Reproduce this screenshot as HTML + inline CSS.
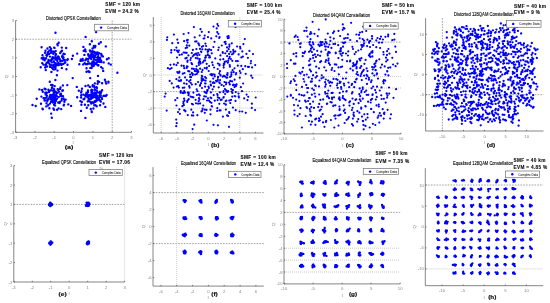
<!DOCTYPE html>
<html><head><meta charset="utf-8"><title>Constellation diagrams</title>
<style>
html,body{margin:0;padding:0;background:#fff;}
body{width:550px;height:303px;overflow:hidden;}
svg{display:block;filter:blur(0.3px);}
text{font-family:"Liberation Sans",Arial,sans-serif;}
.tt{font-size:4.8px;fill:#000;stroke:#000;stroke-width:0.1px;}
.inf{font-weight:bold;fill:#111;stroke:#111;stroke-width:0.12px;}
.sl{font-size:6.2px;font-weight:bold;fill:#111;stroke:#111;stroke-width:0.2px;}
.lg{font-size:4.1px;fill:#1a1a1a;stroke:#1a1a1a;stroke-width:0.04px;}
.tl{font-size:4.2px;fill:#858585;}
.al{font-size:4.4px;fill:#888;}
</style></head><body>
<svg width="550" height="303" viewBox="0 0 550 303">
<rect width="550" height="303" fill="#fff"/>
<path d="M15.6 39.2H131.5" stroke="#8a8a8a" stroke-width="0.8" stroke-dasharray="1.6 1.2" fill="none"/>
<path d="M112.2 20.6V132.3" stroke="#8a8a8a" stroke-width="0.8" stroke-dasharray="1.6 1.2" fill="none"/>
<path d="M15.6 20.6V132.3H131.5" stroke="#858585" stroke-width="1" fill="none"/>
<path d="M15.6 132.3v-1.2M34.9 132.3v-1.2M54.2 132.3v-1.2M73.5 132.3v-1.2M92.9 132.3v-1.2M112.2 132.3v-1.2M131.5 132.3v-1.2M15.6 132.3h1.2M15.6 113.7h1.2M15.6 95.1h1.2M15.6 76.5h1.2M15.6 57.8h1.2M15.6 39.2h1.2M15.6 20.6h1.2" stroke="#555" stroke-width="0.8" fill="none"/>
<text x="15.6" y="138.8" class="tl" text-anchor="middle">-3</text>
<text x="34.9" y="138.8" class="tl" text-anchor="middle">-2</text>
<text x="54.2" y="138.8" class="tl" text-anchor="middle">-1</text>
<text x="73.5" y="138.8" class="tl" text-anchor="middle">0</text>
<text x="92.9" y="138.8" class="tl" text-anchor="middle">1</text>
<text x="112.2" y="138.8" class="tl" text-anchor="middle">2</text>
<text x="131.5" y="138.8" class="tl" text-anchor="middle">3</text>
<text x="14.1" y="133.8" class="tl" text-anchor="end">-3</text>
<text x="14.1" y="115.2" class="tl" text-anchor="end">-2</text>
<text x="14.1" y="96.6" class="tl" text-anchor="end">-1</text>
<text x="14.1" y="78" class="tl" text-anchor="end">0</text>
<text x="14.1" y="59.3" class="tl" text-anchor="end">1</text>
<text x="14.1" y="40.7" class="tl" text-anchor="end">2</text>
<text x="14.1" y="22.1" class="tl" text-anchor="end">3</text>
<path d="M53.0 93.1a1.2 1.2 0 1 0 2.4 0a1.2 1.2 0 1 0 -2.4 0M51.1 101.0a1.2 1.2 0 1 0 2.4 0a1.2 1.2 0 1 0 -2.4 0M49.9 101.7a1.2 1.2 0 1 0 2.4 0a1.2 1.2 0 1 0 -2.4 0M53.5 86.1a1.2 1.2 0 1 0 2.4 0a1.2 1.2 0 1 0 -2.4 0M49.6 99.2a1.2 1.2 0 1 0 2.4 0a1.2 1.2 0 1 0 -2.4 0M56.4 92.7a1.2 1.2 0 1 0 2.4 0a1.2 1.2 0 1 0 -2.4 0M53.8 101.3a1.2 1.2 0 1 0 2.4 0a1.2 1.2 0 1 0 -2.4 0M52.8 90.4a1.2 1.2 0 1 0 2.4 0a1.2 1.2 0 1 0 -2.4 0M43.7 98.1a1.2 1.2 0 1 0 2.4 0a1.2 1.2 0 1 0 -2.4 0M39.8 103.7a1.2 1.2 0 1 0 2.4 0a1.2 1.2 0 1 0 -2.4 0M40.2 96.6a1.2 1.2 0 1 0 2.4 0a1.2 1.2 0 1 0 -2.4 0M44.2 93.2a1.2 1.2 0 1 0 2.4 0a1.2 1.2 0 1 0 -2.4 0M54.1 96.3a1.2 1.2 0 1 0 2.4 0a1.2 1.2 0 1 0 -2.4 0M35.5 98.7a1.2 1.2 0 1 0 2.4 0a1.2 1.2 0 1 0 -2.4 0M52.7 94.3a1.2 1.2 0 1 0 2.4 0a1.2 1.2 0 1 0 -2.4 0M42.4 98.3a1.2 1.2 0 1 0 2.4 0a1.2 1.2 0 1 0 -2.4 0M46.2 100.5a1.2 1.2 0 1 0 2.4 0a1.2 1.2 0 1 0 -2.4 0M60.4 100.5a1.2 1.2 0 1 0 2.4 0a1.2 1.2 0 1 0 -2.4 0M52.8 89.1a1.2 1.2 0 1 0 2.4 0a1.2 1.2 0 1 0 -2.4 0M49.0 95.8a1.2 1.2 0 1 0 2.4 0a1.2 1.2 0 1 0 -2.4 0M53.8 94.6a1.2 1.2 0 1 0 2.4 0a1.2 1.2 0 1 0 -2.4 0M44.5 94.6a1.2 1.2 0 1 0 2.4 0a1.2 1.2 0 1 0 -2.4 0M62.5 105.4a1.2 1.2 0 1 0 2.4 0a1.2 1.2 0 1 0 -2.4 0M59.0 94.3a1.2 1.2 0 1 0 2.4 0a1.2 1.2 0 1 0 -2.4 0M48.6 81.7a1.2 1.2 0 1 0 2.4 0a1.2 1.2 0 1 0 -2.4 0M58.3 103.1a1.2 1.2 0 1 0 2.4 0a1.2 1.2 0 1 0 -2.4 0M53.6 91.2a1.2 1.2 0 1 0 2.4 0a1.2 1.2 0 1 0 -2.4 0M51.7 90.5a1.2 1.2 0 1 0 2.4 0a1.2 1.2 0 1 0 -2.4 0M52.6 90.6a1.2 1.2 0 1 0 2.4 0a1.2 1.2 0 1 0 -2.4 0M63.0 99.6a1.2 1.2 0 1 0 2.4 0a1.2 1.2 0 1 0 -2.4 0M54.4 98.2a1.2 1.2 0 1 0 2.4 0a1.2 1.2 0 1 0 -2.4 0M53.9 103.0a1.2 1.2 0 1 0 2.4 0a1.2 1.2 0 1 0 -2.4 0M49.0 96.4a1.2 1.2 0 1 0 2.4 0a1.2 1.2 0 1 0 -2.4 0M59.3 87.4a1.2 1.2 0 1 0 2.4 0a1.2 1.2 0 1 0 -2.4 0M43.8 100.4a1.2 1.2 0 1 0 2.4 0a1.2 1.2 0 1 0 -2.4 0M57.5 108.4a1.2 1.2 0 1 0 2.4 0a1.2 1.2 0 1 0 -2.4 0M49.8 95.7a1.2 1.2 0 1 0 2.4 0a1.2 1.2 0 1 0 -2.4 0M61.8 90.4a1.2 1.2 0 1 0 2.4 0a1.2 1.2 0 1 0 -2.4 0M50.8 97.5a1.2 1.2 0 1 0 2.4 0a1.2 1.2 0 1 0 -2.4 0M51.3 84.9a1.2 1.2 0 1 0 2.4 0a1.2 1.2 0 1 0 -2.4 0M50.1 97.1a1.2 1.2 0 1 0 2.4 0a1.2 1.2 0 1 0 -2.4 0M55.5 95.9a1.2 1.2 0 1 0 2.4 0a1.2 1.2 0 1 0 -2.4 0M51.7 102.5a1.2 1.2 0 1 0 2.4 0a1.2 1.2 0 1 0 -2.4 0M53.0 98.0a1.2 1.2 0 1 0 2.4 0a1.2 1.2 0 1 0 -2.4 0M61.1 90.7a1.2 1.2 0 1 0 2.4 0a1.2 1.2 0 1 0 -2.4 0M52.9 90.6a1.2 1.2 0 1 0 2.4 0a1.2 1.2 0 1 0 -2.4 0M50.7 88.0a1.2 1.2 0 1 0 2.4 0a1.2 1.2 0 1 0 -2.4 0M53.0 91.2a1.2 1.2 0 1 0 2.4 0a1.2 1.2 0 1 0 -2.4 0M44.1 92.7a1.2 1.2 0 1 0 2.4 0a1.2 1.2 0 1 0 -2.4 0M41.3 108.7a1.2 1.2 0 1 0 2.4 0a1.2 1.2 0 1 0 -2.4 0M50.9 101.1a1.2 1.2 0 1 0 2.4 0a1.2 1.2 0 1 0 -2.4 0M54.2 80.0a1.2 1.2 0 1 0 2.4 0a1.2 1.2 0 1 0 -2.4 0M47.2 99.2a1.2 1.2 0 1 0 2.4 0a1.2 1.2 0 1 0 -2.4 0M54.5 91.8a1.2 1.2 0 1 0 2.4 0a1.2 1.2 0 1 0 -2.4 0M51.8 96.4a1.2 1.2 0 1 0 2.4 0a1.2 1.2 0 1 0 -2.4 0M57.9 91.6a1.2 1.2 0 1 0 2.4 0a1.2 1.2 0 1 0 -2.4 0M45.8 95.6a1.2 1.2 0 1 0 2.4 0a1.2 1.2 0 1 0 -2.4 0M53.3 102.1a1.2 1.2 0 1 0 2.4 0a1.2 1.2 0 1 0 -2.4 0M54.8 100.8a1.2 1.2 0 1 0 2.4 0a1.2 1.2 0 1 0 -2.4 0M59.8 93.8a1.2 1.2 0 1 0 2.4 0a1.2 1.2 0 1 0 -2.4 0M53.7 99.0a1.2 1.2 0 1 0 2.4 0a1.2 1.2 0 1 0 -2.4 0M52.2 108.5a1.2 1.2 0 1 0 2.4 0a1.2 1.2 0 1 0 -2.4 0M45.2 92.6a1.2 1.2 0 1 0 2.4 0a1.2 1.2 0 1 0 -2.4 0M38.2 89.4a1.2 1.2 0 1 0 2.4 0a1.2 1.2 0 1 0 -2.4 0M40.9 90.0a1.2 1.2 0 1 0 2.4 0a1.2 1.2 0 1 0 -2.4 0M47.2 89.8a1.2 1.2 0 1 0 2.4 0a1.2 1.2 0 1 0 -2.4 0M53.9 105.4a1.2 1.2 0 1 0 2.4 0a1.2 1.2 0 1 0 -2.4 0M61.7 85.4a1.2 1.2 0 1 0 2.4 0a1.2 1.2 0 1 0 -2.4 0M52.6 96.9a1.2 1.2 0 1 0 2.4 0a1.2 1.2 0 1 0 -2.4 0M51.9 101.6a1.2 1.2 0 1 0 2.4 0a1.2 1.2 0 1 0 -2.4 0M60.7 98.7a1.2 1.2 0 1 0 2.4 0a1.2 1.2 0 1 0 -2.4 0M52.7 100.4a1.2 1.2 0 1 0 2.4 0a1.2 1.2 0 1 0 -2.4 0M48.7 103.6a1.2 1.2 0 1 0 2.4 0a1.2 1.2 0 1 0 -2.4 0M61.8 96.1a1.2 1.2 0 1 0 2.4 0a1.2 1.2 0 1 0 -2.4 0M59.8 95.0a1.2 1.2 0 1 0 2.4 0a1.2 1.2 0 1 0 -2.4 0M48.2 97.3a1.2 1.2 0 1 0 2.4 0a1.2 1.2 0 1 0 -2.4 0M49.1 95.0a1.2 1.2 0 1 0 2.4 0a1.2 1.2 0 1 0 -2.4 0M50.4 97.1a1.2 1.2 0 1 0 2.4 0a1.2 1.2 0 1 0 -2.4 0M43.4 100.5a1.2 1.2 0 1 0 2.4 0a1.2 1.2 0 1 0 -2.4 0M64.5 99.6a1.2 1.2 0 1 0 2.4 0a1.2 1.2 0 1 0 -2.4 0M45.7 92.8a1.2 1.2 0 1 0 2.4 0a1.2 1.2 0 1 0 -2.4 0M62.8 104.8a1.2 1.2 0 1 0 2.4 0a1.2 1.2 0 1 0 -2.4 0M51.6 99.3a1.2 1.2 0 1 0 2.4 0a1.2 1.2 0 1 0 -2.4 0M40.8 90.1a1.2 1.2 0 1 0 2.4 0a1.2 1.2 0 1 0 -2.4 0M52.9 94.6a1.2 1.2 0 1 0 2.4 0a1.2 1.2 0 1 0 -2.4 0M47.8 92.0a1.2 1.2 0 1 0 2.4 0a1.2 1.2 0 1 0 -2.4 0M49.3 96.0a1.2 1.2 0 1 0 2.4 0a1.2 1.2 0 1 0 -2.4 0M45.3 103.2a1.2 1.2 0 1 0 2.4 0a1.2 1.2 0 1 0 -2.4 0M62.3 98.5a1.2 1.2 0 1 0 2.4 0a1.2 1.2 0 1 0 -2.4 0M55.1 95.3a1.2 1.2 0 1 0 2.4 0a1.2 1.2 0 1 0 -2.4 0M50.0 98.5a1.2 1.2 0 1 0 2.4 0a1.2 1.2 0 1 0 -2.4 0M57.4 97.1a1.2 1.2 0 1 0 2.4 0a1.2 1.2 0 1 0 -2.4 0M52.0 94.9a1.2 1.2 0 1 0 2.4 0a1.2 1.2 0 1 0 -2.4 0M61.2 90.5a1.2 1.2 0 1 0 2.4 0a1.2 1.2 0 1 0 -2.4 0M55.7 98.8a1.2 1.2 0 1 0 2.4 0a1.2 1.2 0 1 0 -2.4 0M43.4 88.7a1.2 1.2 0 1 0 2.4 0a1.2 1.2 0 1 0 -2.4 0M59.8 96.0a1.2 1.2 0 1 0 2.4 0a1.2 1.2 0 1 0 -2.4 0M56.8 89.8a1.2 1.2 0 1 0 2.4 0a1.2 1.2 0 1 0 -2.4 0M58.8 88.9a1.2 1.2 0 1 0 2.4 0a1.2 1.2 0 1 0 -2.4 0M49.9 84.9a1.2 1.2 0 1 0 2.4 0a1.2 1.2 0 1 0 -2.4 0M44.4 89.3a1.2 1.2 0 1 0 2.4 0a1.2 1.2 0 1 0 -2.4 0M56.5 89.2a1.2 1.2 0 1 0 2.4 0a1.2 1.2 0 1 0 -2.4 0M66.1 85.1a1.2 1.2 0 1 0 2.4 0a1.2 1.2 0 1 0 -2.4 0M45.1 106.4a1.2 1.2 0 1 0 2.4 0a1.2 1.2 0 1 0 -2.4 0M58.7 101.9a1.2 1.2 0 1 0 2.4 0a1.2 1.2 0 1 0 -2.4 0M52.9 89.4a1.2 1.2 0 1 0 2.4 0a1.2 1.2 0 1 0 -2.4 0M41.6 109.2a1.2 1.2 0 1 0 2.4 0a1.2 1.2 0 1 0 -2.4 0M54.8 94.8a1.2 1.2 0 1 0 2.4 0a1.2 1.2 0 1 0 -2.4 0M51.3 94.8a1.2 1.2 0 1 0 2.4 0a1.2 1.2 0 1 0 -2.4 0M47.0 105.2a1.2 1.2 0 1 0 2.4 0a1.2 1.2 0 1 0 -2.4 0M51.9 101.6a1.2 1.2 0 1 0 2.4 0a1.2 1.2 0 1 0 -2.4 0M41.6 91.7a1.2 1.2 0 1 0 2.4 0a1.2 1.2 0 1 0 -2.4 0M52.6 92.3a1.2 1.2 0 1 0 2.4 0a1.2 1.2 0 1 0 -2.4 0M46.2 99.5a1.2 1.2 0 1 0 2.4 0a1.2 1.2 0 1 0 -2.4 0M46.1 101.0a1.2 1.2 0 1 0 2.4 0a1.2 1.2 0 1 0 -2.4 0M54.4 100.3a1.2 1.2 0 1 0 2.4 0a1.2 1.2 0 1 0 -2.4 0M55.5 92.8a1.2 1.2 0 1 0 2.4 0a1.2 1.2 0 1 0 -2.4 0M67.1 104.4a1.2 1.2 0 1 0 2.4 0a1.2 1.2 0 1 0 -2.4 0M59.2 95.7a1.2 1.2 0 1 0 2.4 0a1.2 1.2 0 1 0 -2.4 0M52.9 104.8a1.2 1.2 0 1 0 2.4 0a1.2 1.2 0 1 0 -2.4 0M49.8 90.1a1.2 1.2 0 1 0 2.4 0a1.2 1.2 0 1 0 -2.4 0M52.5 94.5a1.2 1.2 0 1 0 2.4 0a1.2 1.2 0 1 0 -2.4 0M51.0 87.3a1.2 1.2 0 1 0 2.4 0a1.2 1.2 0 1 0 -2.4 0M52.9 109.8a1.2 1.2 0 1 0 2.4 0a1.2 1.2 0 1 0 -2.4 0M48.2 108.3a1.2 1.2 0 1 0 2.4 0a1.2 1.2 0 1 0 -2.4 0M62.3 57.5a1.2 1.2 0 1 0 2.4 0a1.2 1.2 0 1 0 -2.4 0M44.9 64.1a1.2 1.2 0 1 0 2.4 0a1.2 1.2 0 1 0 -2.4 0M60.9 56.8a1.2 1.2 0 1 0 2.4 0a1.2 1.2 0 1 0 -2.4 0M53.4 58.2a1.2 1.2 0 1 0 2.4 0a1.2 1.2 0 1 0 -2.4 0M53.3 52.4a1.2 1.2 0 1 0 2.4 0a1.2 1.2 0 1 0 -2.4 0M56.9 56.4a1.2 1.2 0 1 0 2.4 0a1.2 1.2 0 1 0 -2.4 0M45.8 54.4a1.2 1.2 0 1 0 2.4 0a1.2 1.2 0 1 0 -2.4 0M48.3 50.5a1.2 1.2 0 1 0 2.4 0a1.2 1.2 0 1 0 -2.4 0M44.2 58.8a1.2 1.2 0 1 0 2.4 0a1.2 1.2 0 1 0 -2.4 0M53.0 66.7a1.2 1.2 0 1 0 2.4 0a1.2 1.2 0 1 0 -2.4 0M65.0 48.0a1.2 1.2 0 1 0 2.4 0a1.2 1.2 0 1 0 -2.4 0M49.8 52.7a1.2 1.2 0 1 0 2.4 0a1.2 1.2 0 1 0 -2.4 0M55.7 75.3a1.2 1.2 0 1 0 2.4 0a1.2 1.2 0 1 0 -2.4 0M54.8 58.2a1.2 1.2 0 1 0 2.4 0a1.2 1.2 0 1 0 -2.4 0M53.6 65.1a1.2 1.2 0 1 0 2.4 0a1.2 1.2 0 1 0 -2.4 0M51.2 59.0a1.2 1.2 0 1 0 2.4 0a1.2 1.2 0 1 0 -2.4 0M61.3 55.6a1.2 1.2 0 1 0 2.4 0a1.2 1.2 0 1 0 -2.4 0M53.0 47.6a1.2 1.2 0 1 0 2.4 0a1.2 1.2 0 1 0 -2.4 0M49.2 60.4a1.2 1.2 0 1 0 2.4 0a1.2 1.2 0 1 0 -2.4 0M40.4 47.3a1.2 1.2 0 1 0 2.4 0a1.2 1.2 0 1 0 -2.4 0M59.7 51.7a1.2 1.2 0 1 0 2.4 0a1.2 1.2 0 1 0 -2.4 0M57.7 57.1a1.2 1.2 0 1 0 2.4 0a1.2 1.2 0 1 0 -2.4 0M54.5 59.5a1.2 1.2 0 1 0 2.4 0a1.2 1.2 0 1 0 -2.4 0M51.6 57.5a1.2 1.2 0 1 0 2.4 0a1.2 1.2 0 1 0 -2.4 0M63.5 54.1a1.2 1.2 0 1 0 2.4 0a1.2 1.2 0 1 0 -2.4 0M52.6 61.7a1.2 1.2 0 1 0 2.4 0a1.2 1.2 0 1 0 -2.4 0M48.6 47.1a1.2 1.2 0 1 0 2.4 0a1.2 1.2 0 1 0 -2.4 0M56.6 57.4a1.2 1.2 0 1 0 2.4 0a1.2 1.2 0 1 0 -2.4 0M50.6 65.3a1.2 1.2 0 1 0 2.4 0a1.2 1.2 0 1 0 -2.4 0M52.6 52.0a1.2 1.2 0 1 0 2.4 0a1.2 1.2 0 1 0 -2.4 0M50.3 59.4a1.2 1.2 0 1 0 2.4 0a1.2 1.2 0 1 0 -2.4 0M51.5 57.1a1.2 1.2 0 1 0 2.4 0a1.2 1.2 0 1 0 -2.4 0M42.0 59.4a1.2 1.2 0 1 0 2.4 0a1.2 1.2 0 1 0 -2.4 0M47.1 51.9a1.2 1.2 0 1 0 2.4 0a1.2 1.2 0 1 0 -2.4 0M47.7 54.0a1.2 1.2 0 1 0 2.4 0a1.2 1.2 0 1 0 -2.4 0M63.6 59.9a1.2 1.2 0 1 0 2.4 0a1.2 1.2 0 1 0 -2.4 0M48.8 56.6a1.2 1.2 0 1 0 2.4 0a1.2 1.2 0 1 0 -2.4 0M53.0 64.5a1.2 1.2 0 1 0 2.4 0a1.2 1.2 0 1 0 -2.4 0M56.2 44.3a1.2 1.2 0 1 0 2.4 0a1.2 1.2 0 1 0 -2.4 0M51.2 59.2a1.2 1.2 0 1 0 2.4 0a1.2 1.2 0 1 0 -2.4 0M45.8 55.7a1.2 1.2 0 1 0 2.4 0a1.2 1.2 0 1 0 -2.4 0M44.4 65.3a1.2 1.2 0 1 0 2.4 0a1.2 1.2 0 1 0 -2.4 0M61.9 63.9a1.2 1.2 0 1 0 2.4 0a1.2 1.2 0 1 0 -2.4 0M60.6 47.6a1.2 1.2 0 1 0 2.4 0a1.2 1.2 0 1 0 -2.4 0M54.8 54.1a1.2 1.2 0 1 0 2.4 0a1.2 1.2 0 1 0 -2.4 0M66.6 59.2a1.2 1.2 0 1 0 2.4 0a1.2 1.2 0 1 0 -2.4 0M48.9 66.9a1.2 1.2 0 1 0 2.4 0a1.2 1.2 0 1 0 -2.4 0M53.3 47.9a1.2 1.2 0 1 0 2.4 0a1.2 1.2 0 1 0 -2.4 0M59.7 64.1a1.2 1.2 0 1 0 2.4 0a1.2 1.2 0 1 0 -2.4 0M47.1 61.2a1.2 1.2 0 1 0 2.4 0a1.2 1.2 0 1 0 -2.4 0M55.1 59.2a1.2 1.2 0 1 0 2.4 0a1.2 1.2 0 1 0 -2.4 0M54.5 55.8a1.2 1.2 0 1 0 2.4 0a1.2 1.2 0 1 0 -2.4 0M51.0 58.1a1.2 1.2 0 1 0 2.4 0a1.2 1.2 0 1 0 -2.4 0M54.5 58.4a1.2 1.2 0 1 0 2.4 0a1.2 1.2 0 1 0 -2.4 0M56.5 45.3a1.2 1.2 0 1 0 2.4 0a1.2 1.2 0 1 0 -2.4 0M57.1 57.5a1.2 1.2 0 1 0 2.4 0a1.2 1.2 0 1 0 -2.4 0M41.3 55.2a1.2 1.2 0 1 0 2.4 0a1.2 1.2 0 1 0 -2.4 0M39.5 67.3a1.2 1.2 0 1 0 2.4 0a1.2 1.2 0 1 0 -2.4 0M59.0 53.1a1.2 1.2 0 1 0 2.4 0a1.2 1.2 0 1 0 -2.4 0M52.0 69.3a1.2 1.2 0 1 0 2.4 0a1.2 1.2 0 1 0 -2.4 0M50.5 62.4a1.2 1.2 0 1 0 2.4 0a1.2 1.2 0 1 0 -2.4 0M57.5 42.7a1.2 1.2 0 1 0 2.4 0a1.2 1.2 0 1 0 -2.4 0M54.5 63.1a1.2 1.2 0 1 0 2.4 0a1.2 1.2 0 1 0 -2.4 0M44.9 58.2a1.2 1.2 0 1 0 2.4 0a1.2 1.2 0 1 0 -2.4 0M51.8 65.6a1.2 1.2 0 1 0 2.4 0a1.2 1.2 0 1 0 -2.4 0M53.8 65.5a1.2 1.2 0 1 0 2.4 0a1.2 1.2 0 1 0 -2.4 0M60.8 50.7a1.2 1.2 0 1 0 2.4 0a1.2 1.2 0 1 0 -2.4 0M60.6 61.0a1.2 1.2 0 1 0 2.4 0a1.2 1.2 0 1 0 -2.4 0M56.6 58.7a1.2 1.2 0 1 0 2.4 0a1.2 1.2 0 1 0 -2.4 0M50.3 60.1a1.2 1.2 0 1 0 2.4 0a1.2 1.2 0 1 0 -2.4 0M44.0 67.5a1.2 1.2 0 1 0 2.4 0a1.2 1.2 0 1 0 -2.4 0M58.6 59.1a1.2 1.2 0 1 0 2.4 0a1.2 1.2 0 1 0 -2.4 0M54.5 51.1a1.2 1.2 0 1 0 2.4 0a1.2 1.2 0 1 0 -2.4 0M41.0 63.1a1.2 1.2 0 1 0 2.4 0a1.2 1.2 0 1 0 -2.4 0M54.3 55.2a1.2 1.2 0 1 0 2.4 0a1.2 1.2 0 1 0 -2.4 0M50.4 50.9a1.2 1.2 0 1 0 2.4 0a1.2 1.2 0 1 0 -2.4 0M54.5 66.0a1.2 1.2 0 1 0 2.4 0a1.2 1.2 0 1 0 -2.4 0M46.6 52.4a1.2 1.2 0 1 0 2.4 0a1.2 1.2 0 1 0 -2.4 0M56.3 70.6a1.2 1.2 0 1 0 2.4 0a1.2 1.2 0 1 0 -2.4 0M62.4 53.8a1.2 1.2 0 1 0 2.4 0a1.2 1.2 0 1 0 -2.4 0M62.4 60.4a1.2 1.2 0 1 0 2.4 0a1.2 1.2 0 1 0 -2.4 0M51.0 65.4a1.2 1.2 0 1 0 2.4 0a1.2 1.2 0 1 0 -2.4 0M70.7 59.0a1.2 1.2 0 1 0 2.4 0a1.2 1.2 0 1 0 -2.4 0M64.1 62.2a1.2 1.2 0 1 0 2.4 0a1.2 1.2 0 1 0 -2.4 0M54.2 69.0a1.2 1.2 0 1 0 2.4 0a1.2 1.2 0 1 0 -2.4 0M50.4 51.2a1.2 1.2 0 1 0 2.4 0a1.2 1.2 0 1 0 -2.4 0M44.3 50.6a1.2 1.2 0 1 0 2.4 0a1.2 1.2 0 1 0 -2.4 0M55.4 64.8a1.2 1.2 0 1 0 2.4 0a1.2 1.2 0 1 0 -2.4 0M49.5 60.9a1.2 1.2 0 1 0 2.4 0a1.2 1.2 0 1 0 -2.4 0M52.7 61.4a1.2 1.2 0 1 0 2.4 0a1.2 1.2 0 1 0 -2.4 0M47.3 59.9a1.2 1.2 0 1 0 2.4 0a1.2 1.2 0 1 0 -2.4 0M45.9 66.5a1.2 1.2 0 1 0 2.4 0a1.2 1.2 0 1 0 -2.4 0M52.7 51.9a1.2 1.2 0 1 0 2.4 0a1.2 1.2 0 1 0 -2.4 0M42.4 57.8a1.2 1.2 0 1 0 2.4 0a1.2 1.2 0 1 0 -2.4 0M48.5 64.4a1.2 1.2 0 1 0 2.4 0a1.2 1.2 0 1 0 -2.4 0M59.0 61.3a1.2 1.2 0 1 0 2.4 0a1.2 1.2 0 1 0 -2.4 0M63.5 63.1a1.2 1.2 0 1 0 2.4 0a1.2 1.2 0 1 0 -2.4 0M55.7 59.4a1.2 1.2 0 1 0 2.4 0a1.2 1.2 0 1 0 -2.4 0M47.8 53.9a1.2 1.2 0 1 0 2.4 0a1.2 1.2 0 1 0 -2.4 0M52.0 53.8a1.2 1.2 0 1 0 2.4 0a1.2 1.2 0 1 0 -2.4 0M52.7 65.1a1.2 1.2 0 1 0 2.4 0a1.2 1.2 0 1 0 -2.4 0M52.3 57.5a1.2 1.2 0 1 0 2.4 0a1.2 1.2 0 1 0 -2.4 0M59.7 63.9a1.2 1.2 0 1 0 2.4 0a1.2 1.2 0 1 0 -2.4 0M52.8 69.4a1.2 1.2 0 1 0 2.4 0a1.2 1.2 0 1 0 -2.4 0M57.6 65.1a1.2 1.2 0 1 0 2.4 0a1.2 1.2 0 1 0 -2.4 0M40.5 58.2a1.2 1.2 0 1 0 2.4 0a1.2 1.2 0 1 0 -2.4 0M60.7 68.1a1.2 1.2 0 1 0 2.4 0a1.2 1.2 0 1 0 -2.4 0M45.5 62.8a1.2 1.2 0 1 0 2.4 0a1.2 1.2 0 1 0 -2.4 0M45.2 55.3a1.2 1.2 0 1 0 2.4 0a1.2 1.2 0 1 0 -2.4 0M47.4 62.7a1.2 1.2 0 1 0 2.4 0a1.2 1.2 0 1 0 -2.4 0M57.1 62.9a1.2 1.2 0 1 0 2.4 0a1.2 1.2 0 1 0 -2.4 0M56.0 64.3a1.2 1.2 0 1 0 2.4 0a1.2 1.2 0 1 0 -2.4 0M44.6 70.1a1.2 1.2 0 1 0 2.4 0a1.2 1.2 0 1 0 -2.4 0M66.0 60.0a1.2 1.2 0 1 0 2.4 0a1.2 1.2 0 1 0 -2.4 0M54.7 58.0a1.2 1.2 0 1 0 2.4 0a1.2 1.2 0 1 0 -2.4 0M54.1 57.5a1.2 1.2 0 1 0 2.4 0a1.2 1.2 0 1 0 -2.4 0M66.3 64.8a1.2 1.2 0 1 0 2.4 0a1.2 1.2 0 1 0 -2.4 0M42.2 64.6a1.2 1.2 0 1 0 2.4 0a1.2 1.2 0 1 0 -2.4 0M43.8 52.8a1.2 1.2 0 1 0 2.4 0a1.2 1.2 0 1 0 -2.4 0M58.7 64.3a1.2 1.2 0 1 0 2.4 0a1.2 1.2 0 1 0 -2.4 0M43.4 60.2a1.2 1.2 0 1 0 2.4 0a1.2 1.2 0 1 0 -2.4 0M56.7 65.0a1.2 1.2 0 1 0 2.4 0a1.2 1.2 0 1 0 -2.4 0M60.3 65.1a1.2 1.2 0 1 0 2.4 0a1.2 1.2 0 1 0 -2.4 0M51.0 67.9a1.2 1.2 0 1 0 2.4 0a1.2 1.2 0 1 0 -2.4 0M46.2 48.5a1.2 1.2 0 1 0 2.4 0a1.2 1.2 0 1 0 -2.4 0M97.4 97.8a1.2 1.2 0 1 0 2.4 0a1.2 1.2 0 1 0 -2.4 0M85.6 107.8a1.2 1.2 0 1 0 2.4 0a1.2 1.2 0 1 0 -2.4 0M88.9 95.3a1.2 1.2 0 1 0 2.4 0a1.2 1.2 0 1 0 -2.4 0M91.1 95.7a1.2 1.2 0 1 0 2.4 0a1.2 1.2 0 1 0 -2.4 0M83.9 95.5a1.2 1.2 0 1 0 2.4 0a1.2 1.2 0 1 0 -2.4 0M91.4 86.4a1.2 1.2 0 1 0 2.4 0a1.2 1.2 0 1 0 -2.4 0M104.6 96.0a1.2 1.2 0 1 0 2.4 0a1.2 1.2 0 1 0 -2.4 0M86.3 95.5a1.2 1.2 0 1 0 2.4 0a1.2 1.2 0 1 0 -2.4 0M87.4 100.0a1.2 1.2 0 1 0 2.4 0a1.2 1.2 0 1 0 -2.4 0M91.3 102.1a1.2 1.2 0 1 0 2.4 0a1.2 1.2 0 1 0 -2.4 0M95.9 95.8a1.2 1.2 0 1 0 2.4 0a1.2 1.2 0 1 0 -2.4 0M93.4 96.3a1.2 1.2 0 1 0 2.4 0a1.2 1.2 0 1 0 -2.4 0M86.6 101.4a1.2 1.2 0 1 0 2.4 0a1.2 1.2 0 1 0 -2.4 0M90.0 98.7a1.2 1.2 0 1 0 2.4 0a1.2 1.2 0 1 0 -2.4 0M93.3 95.1a1.2 1.2 0 1 0 2.4 0a1.2 1.2 0 1 0 -2.4 0M82.2 94.6a1.2 1.2 0 1 0 2.4 0a1.2 1.2 0 1 0 -2.4 0M82.3 99.2a1.2 1.2 0 1 0 2.4 0a1.2 1.2 0 1 0 -2.4 0M89.6 109.0a1.2 1.2 0 1 0 2.4 0a1.2 1.2 0 1 0 -2.4 0M92.3 94.1a1.2 1.2 0 1 0 2.4 0a1.2 1.2 0 1 0 -2.4 0M90.6 97.9a1.2 1.2 0 1 0 2.4 0a1.2 1.2 0 1 0 -2.4 0M89.1 101.6a1.2 1.2 0 1 0 2.4 0a1.2 1.2 0 1 0 -2.4 0M89.8 98.8a1.2 1.2 0 1 0 2.4 0a1.2 1.2 0 1 0 -2.4 0M92.3 103.1a1.2 1.2 0 1 0 2.4 0a1.2 1.2 0 1 0 -2.4 0M93.3 94.1a1.2 1.2 0 1 0 2.4 0a1.2 1.2 0 1 0 -2.4 0M90.7 98.0a1.2 1.2 0 1 0 2.4 0a1.2 1.2 0 1 0 -2.4 0M95.5 106.2a1.2 1.2 0 1 0 2.4 0a1.2 1.2 0 1 0 -2.4 0M94.9 93.4a1.2 1.2 0 1 0 2.4 0a1.2 1.2 0 1 0 -2.4 0M93.6 92.5a1.2 1.2 0 1 0 2.4 0a1.2 1.2 0 1 0 -2.4 0M87.1 96.8a1.2 1.2 0 1 0 2.4 0a1.2 1.2 0 1 0 -2.4 0M96.1 92.2a1.2 1.2 0 1 0 2.4 0a1.2 1.2 0 1 0 -2.4 0M93.1 105.2a1.2 1.2 0 1 0 2.4 0a1.2 1.2 0 1 0 -2.4 0M95.4 87.2a1.2 1.2 0 1 0 2.4 0a1.2 1.2 0 1 0 -2.4 0M98.7 93.5a1.2 1.2 0 1 0 2.4 0a1.2 1.2 0 1 0 -2.4 0M80.8 88.7a1.2 1.2 0 1 0 2.4 0a1.2 1.2 0 1 0 -2.4 0M90.6 112.0a1.2 1.2 0 1 0 2.4 0a1.2 1.2 0 1 0 -2.4 0M94.3 105.1a1.2 1.2 0 1 0 2.4 0a1.2 1.2 0 1 0 -2.4 0M82.7 99.3a1.2 1.2 0 1 0 2.4 0a1.2 1.2 0 1 0 -2.4 0M100.5 97.6a1.2 1.2 0 1 0 2.4 0a1.2 1.2 0 1 0 -2.4 0M93.6 83.4a1.2 1.2 0 1 0 2.4 0a1.2 1.2 0 1 0 -2.4 0M102.8 95.8a1.2 1.2 0 1 0 2.4 0a1.2 1.2 0 1 0 -2.4 0M90.0 103.5a1.2 1.2 0 1 0 2.4 0a1.2 1.2 0 1 0 -2.4 0M86.8 92.2a1.2 1.2 0 1 0 2.4 0a1.2 1.2 0 1 0 -2.4 0M94.4 94.3a1.2 1.2 0 1 0 2.4 0a1.2 1.2 0 1 0 -2.4 0M98.6 100.2a1.2 1.2 0 1 0 2.4 0a1.2 1.2 0 1 0 -2.4 0M91.3 90.2a1.2 1.2 0 1 0 2.4 0a1.2 1.2 0 1 0 -2.4 0M95.7 87.9a1.2 1.2 0 1 0 2.4 0a1.2 1.2 0 1 0 -2.4 0M94.4 97.1a1.2 1.2 0 1 0 2.4 0a1.2 1.2 0 1 0 -2.4 0M94.2 101.8a1.2 1.2 0 1 0 2.4 0a1.2 1.2 0 1 0 -2.4 0M80.3 91.2a1.2 1.2 0 1 0 2.4 0a1.2 1.2 0 1 0 -2.4 0M91.3 93.0a1.2 1.2 0 1 0 2.4 0a1.2 1.2 0 1 0 -2.4 0M79.9 97.5a1.2 1.2 0 1 0 2.4 0a1.2 1.2 0 1 0 -2.4 0M87.5 100.9a1.2 1.2 0 1 0 2.4 0a1.2 1.2 0 1 0 -2.4 0M76.0 97.3a1.2 1.2 0 1 0 2.4 0a1.2 1.2 0 1 0 -2.4 0M97.9 92.5a1.2 1.2 0 1 0 2.4 0a1.2 1.2 0 1 0 -2.4 0M87.5 95.2a1.2 1.2 0 1 0 2.4 0a1.2 1.2 0 1 0 -2.4 0M90.8 91.4a1.2 1.2 0 1 0 2.4 0a1.2 1.2 0 1 0 -2.4 0M96.4 83.7a1.2 1.2 0 1 0 2.4 0a1.2 1.2 0 1 0 -2.4 0M99.6 93.0a1.2 1.2 0 1 0 2.4 0a1.2 1.2 0 1 0 -2.4 0M93.8 89.8a1.2 1.2 0 1 0 2.4 0a1.2 1.2 0 1 0 -2.4 0M87.9 95.3a1.2 1.2 0 1 0 2.4 0a1.2 1.2 0 1 0 -2.4 0M98.0 81.9a1.2 1.2 0 1 0 2.4 0a1.2 1.2 0 1 0 -2.4 0M90.6 95.4a1.2 1.2 0 1 0 2.4 0a1.2 1.2 0 1 0 -2.4 0M93.0 86.1a1.2 1.2 0 1 0 2.4 0a1.2 1.2 0 1 0 -2.4 0M91.5 85.2a1.2 1.2 0 1 0 2.4 0a1.2 1.2 0 1 0 -2.4 0M84.9 96.3a1.2 1.2 0 1 0 2.4 0a1.2 1.2 0 1 0 -2.4 0M90.3 89.8a1.2 1.2 0 1 0 2.4 0a1.2 1.2 0 1 0 -2.4 0M98.9 105.2a1.2 1.2 0 1 0 2.4 0a1.2 1.2 0 1 0 -2.4 0M85.3 92.8a1.2 1.2 0 1 0 2.4 0a1.2 1.2 0 1 0 -2.4 0M87.1 105.3a1.2 1.2 0 1 0 2.4 0a1.2 1.2 0 1 0 -2.4 0M98.9 91.8a1.2 1.2 0 1 0 2.4 0a1.2 1.2 0 1 0 -2.4 0M95.1 98.3a1.2 1.2 0 1 0 2.4 0a1.2 1.2 0 1 0 -2.4 0M98.8 96.7a1.2 1.2 0 1 0 2.4 0a1.2 1.2 0 1 0 -2.4 0M99.3 101.2a1.2 1.2 0 1 0 2.4 0a1.2 1.2 0 1 0 -2.4 0M85.7 93.7a1.2 1.2 0 1 0 2.4 0a1.2 1.2 0 1 0 -2.4 0M86.8 90.5a1.2 1.2 0 1 0 2.4 0a1.2 1.2 0 1 0 -2.4 0M93.5 101.3a1.2 1.2 0 1 0 2.4 0a1.2 1.2 0 1 0 -2.4 0M92.2 97.4a1.2 1.2 0 1 0 2.4 0a1.2 1.2 0 1 0 -2.4 0M98.0 99.3a1.2 1.2 0 1 0 2.4 0a1.2 1.2 0 1 0 -2.4 0M88.6 86.9a1.2 1.2 0 1 0 2.4 0a1.2 1.2 0 1 0 -2.4 0M107.2 81.7a1.2 1.2 0 1 0 2.4 0a1.2 1.2 0 1 0 -2.4 0M92.1 93.6a1.2 1.2 0 1 0 2.4 0a1.2 1.2 0 1 0 -2.4 0M102.3 95.9a1.2 1.2 0 1 0 2.4 0a1.2 1.2 0 1 0 -2.4 0M84.9 94.3a1.2 1.2 0 1 0 2.4 0a1.2 1.2 0 1 0 -2.4 0M94.8 100.6a1.2 1.2 0 1 0 2.4 0a1.2 1.2 0 1 0 -2.4 0M80.2 104.7a1.2 1.2 0 1 0 2.4 0a1.2 1.2 0 1 0 -2.4 0M96.3 100.1a1.2 1.2 0 1 0 2.4 0a1.2 1.2 0 1 0 -2.4 0M90.7 93.6a1.2 1.2 0 1 0 2.4 0a1.2 1.2 0 1 0 -2.4 0M96.0 97.3a1.2 1.2 0 1 0 2.4 0a1.2 1.2 0 1 0 -2.4 0M95.1 101.0a1.2 1.2 0 1 0 2.4 0a1.2 1.2 0 1 0 -2.4 0M89.2 101.9a1.2 1.2 0 1 0 2.4 0a1.2 1.2 0 1 0 -2.4 0M99.5 95.2a1.2 1.2 0 1 0 2.4 0a1.2 1.2 0 1 0 -2.4 0M86.5 97.4a1.2 1.2 0 1 0 2.4 0a1.2 1.2 0 1 0 -2.4 0M90.1 90.4a1.2 1.2 0 1 0 2.4 0a1.2 1.2 0 1 0 -2.4 0M80.6 102.0a1.2 1.2 0 1 0 2.4 0a1.2 1.2 0 1 0 -2.4 0M89.0 78.1a1.2 1.2 0 1 0 2.4 0a1.2 1.2 0 1 0 -2.4 0M98.3 95.8a1.2 1.2 0 1 0 2.4 0a1.2 1.2 0 1 0 -2.4 0M96.6 81.3a1.2 1.2 0 1 0 2.4 0a1.2 1.2 0 1 0 -2.4 0M90.0 97.5a1.2 1.2 0 1 0 2.4 0a1.2 1.2 0 1 0 -2.4 0M100.1 91.8a1.2 1.2 0 1 0 2.4 0a1.2 1.2 0 1 0 -2.4 0M96.3 98.5a1.2 1.2 0 1 0 2.4 0a1.2 1.2 0 1 0 -2.4 0M105.0 83.6a1.2 1.2 0 1 0 2.4 0a1.2 1.2 0 1 0 -2.4 0M95.6 90.5a1.2 1.2 0 1 0 2.4 0a1.2 1.2 0 1 0 -2.4 0M77.6 90.8a1.2 1.2 0 1 0 2.4 0a1.2 1.2 0 1 0 -2.4 0M90.3 92.2a1.2 1.2 0 1 0 2.4 0a1.2 1.2 0 1 0 -2.4 0M96.4 97.4a1.2 1.2 0 1 0 2.4 0a1.2 1.2 0 1 0 -2.4 0M79.9 92.6a1.2 1.2 0 1 0 2.4 0a1.2 1.2 0 1 0 -2.4 0M86.5 97.3a1.2 1.2 0 1 0 2.4 0a1.2 1.2 0 1 0 -2.4 0M87.5 97.4a1.2 1.2 0 1 0 2.4 0a1.2 1.2 0 1 0 -2.4 0M75.6 86.9a1.2 1.2 0 1 0 2.4 0a1.2 1.2 0 1 0 -2.4 0M93.4 87.6a1.2 1.2 0 1 0 2.4 0a1.2 1.2 0 1 0 -2.4 0M105.4 94.9a1.2 1.2 0 1 0 2.4 0a1.2 1.2 0 1 0 -2.4 0M79.1 101.1a1.2 1.2 0 1 0 2.4 0a1.2 1.2 0 1 0 -2.4 0M83.3 98.4a1.2 1.2 0 1 0 2.4 0a1.2 1.2 0 1 0 -2.4 0M92.2 108.5a1.2 1.2 0 1 0 2.4 0a1.2 1.2 0 1 0 -2.4 0M94.0 105.2a1.2 1.2 0 1 0 2.4 0a1.2 1.2 0 1 0 -2.4 0M93.7 95.8a1.2 1.2 0 1 0 2.4 0a1.2 1.2 0 1 0 -2.4 0M89.5 95.6a1.2 1.2 0 1 0 2.4 0a1.2 1.2 0 1 0 -2.4 0M87.9 99.2a1.2 1.2 0 1 0 2.4 0a1.2 1.2 0 1 0 -2.4 0M80.0 95.3a1.2 1.2 0 1 0 2.4 0a1.2 1.2 0 1 0 -2.4 0M104.5 81.8a1.2 1.2 0 1 0 2.4 0a1.2 1.2 0 1 0 -2.4 0M100.9 90.3a1.2 1.2 0 1 0 2.4 0a1.2 1.2 0 1 0 -2.4 0M87.0 85.4a1.2 1.2 0 1 0 2.4 0a1.2 1.2 0 1 0 -2.4 0M91.3 95.5a1.2 1.2 0 1 0 2.4 0a1.2 1.2 0 1 0 -2.4 0M89.6 94.5a1.2 1.2 0 1 0 2.4 0a1.2 1.2 0 1 0 -2.4 0M88.6 95.6a1.2 1.2 0 1 0 2.4 0a1.2 1.2 0 1 0 -2.4 0M84.1 60.3a1.2 1.2 0 1 0 2.4 0a1.2 1.2 0 1 0 -2.4 0M107.5 58.3a1.2 1.2 0 1 0 2.4 0a1.2 1.2 0 1 0 -2.4 0M90.0 54.3a1.2 1.2 0 1 0 2.4 0a1.2 1.2 0 1 0 -2.4 0M96.6 65.3a1.2 1.2 0 1 0 2.4 0a1.2 1.2 0 1 0 -2.4 0M90.2 51.7a1.2 1.2 0 1 0 2.4 0a1.2 1.2 0 1 0 -2.4 0M93.5 57.0a1.2 1.2 0 1 0 2.4 0a1.2 1.2 0 1 0 -2.4 0M102.5 62.4a1.2 1.2 0 1 0 2.4 0a1.2 1.2 0 1 0 -2.4 0M92.2 61.3a1.2 1.2 0 1 0 2.4 0a1.2 1.2 0 1 0 -2.4 0M102.0 70.9a1.2 1.2 0 1 0 2.4 0a1.2 1.2 0 1 0 -2.4 0M87.0 61.4a1.2 1.2 0 1 0 2.4 0a1.2 1.2 0 1 0 -2.4 0M96.3 53.8a1.2 1.2 0 1 0 2.4 0a1.2 1.2 0 1 0 -2.4 0M101.4 68.4a1.2 1.2 0 1 0 2.4 0a1.2 1.2 0 1 0 -2.4 0M96.9 59.8a1.2 1.2 0 1 0 2.4 0a1.2 1.2 0 1 0 -2.4 0M87.0 54.2a1.2 1.2 0 1 0 2.4 0a1.2 1.2 0 1 0 -2.4 0M85.3 71.8a1.2 1.2 0 1 0 2.4 0a1.2 1.2 0 1 0 -2.4 0M89.1 67.9a1.2 1.2 0 1 0 2.4 0a1.2 1.2 0 1 0 -2.4 0M87.2 55.3a1.2 1.2 0 1 0 2.4 0a1.2 1.2 0 1 0 -2.4 0M93.8 47.2a1.2 1.2 0 1 0 2.4 0a1.2 1.2 0 1 0 -2.4 0M90.3 68.1a1.2 1.2 0 1 0 2.4 0a1.2 1.2 0 1 0 -2.4 0M86.4 64.0a1.2 1.2 0 1 0 2.4 0a1.2 1.2 0 1 0 -2.4 0M83.2 54.9a1.2 1.2 0 1 0 2.4 0a1.2 1.2 0 1 0 -2.4 0M87.2 71.1a1.2 1.2 0 1 0 2.4 0a1.2 1.2 0 1 0 -2.4 0M96.5 58.6a1.2 1.2 0 1 0 2.4 0a1.2 1.2 0 1 0 -2.4 0M94.1 57.1a1.2 1.2 0 1 0 2.4 0a1.2 1.2 0 1 0 -2.4 0M96.1 57.6a1.2 1.2 0 1 0 2.4 0a1.2 1.2 0 1 0 -2.4 0M100.3 55.0a1.2 1.2 0 1 0 2.4 0a1.2 1.2 0 1 0 -2.4 0M94.4 55.1a1.2 1.2 0 1 0 2.4 0a1.2 1.2 0 1 0 -2.4 0M81.5 58.9a1.2 1.2 0 1 0 2.4 0a1.2 1.2 0 1 0 -2.4 0M89.9 56.4a1.2 1.2 0 1 0 2.4 0a1.2 1.2 0 1 0 -2.4 0M82.2 46.9a1.2 1.2 0 1 0 2.4 0a1.2 1.2 0 1 0 -2.4 0M92.4 66.0a1.2 1.2 0 1 0 2.4 0a1.2 1.2 0 1 0 -2.4 0M79.8 59.7a1.2 1.2 0 1 0 2.4 0a1.2 1.2 0 1 0 -2.4 0M91.0 62.6a1.2 1.2 0 1 0 2.4 0a1.2 1.2 0 1 0 -2.4 0M92.3 62.1a1.2 1.2 0 1 0 2.4 0a1.2 1.2 0 1 0 -2.4 0M95.5 62.7a1.2 1.2 0 1 0 2.4 0a1.2 1.2 0 1 0 -2.4 0M91.4 51.3a1.2 1.2 0 1 0 2.4 0a1.2 1.2 0 1 0 -2.4 0M109.6 64.6a1.2 1.2 0 1 0 2.4 0a1.2 1.2 0 1 0 -2.4 0M88.4 63.5a1.2 1.2 0 1 0 2.4 0a1.2 1.2 0 1 0 -2.4 0M97.1 65.5a1.2 1.2 0 1 0 2.4 0a1.2 1.2 0 1 0 -2.4 0M88.3 58.0a1.2 1.2 0 1 0 2.4 0a1.2 1.2 0 1 0 -2.4 0M84.9 64.2a1.2 1.2 0 1 0 2.4 0a1.2 1.2 0 1 0 -2.4 0M88.4 71.9a1.2 1.2 0 1 0 2.4 0a1.2 1.2 0 1 0 -2.4 0M81.6 60.6a1.2 1.2 0 1 0 2.4 0a1.2 1.2 0 1 0 -2.4 0M92.7 59.1a1.2 1.2 0 1 0 2.4 0a1.2 1.2 0 1 0 -2.4 0M79.3 60.9a1.2 1.2 0 1 0 2.4 0a1.2 1.2 0 1 0 -2.4 0M97.2 54.1a1.2 1.2 0 1 0 2.4 0a1.2 1.2 0 1 0 -2.4 0M91.1 63.8a1.2 1.2 0 1 0 2.4 0a1.2 1.2 0 1 0 -2.4 0M96.1 61.7a1.2 1.2 0 1 0 2.4 0a1.2 1.2 0 1 0 -2.4 0M83.5 63.2a1.2 1.2 0 1 0 2.4 0a1.2 1.2 0 1 0 -2.4 0M101.7 56.4a1.2 1.2 0 1 0 2.4 0a1.2 1.2 0 1 0 -2.4 0M99.7 61.0a1.2 1.2 0 1 0 2.4 0a1.2 1.2 0 1 0 -2.4 0M98.2 61.9a1.2 1.2 0 1 0 2.4 0a1.2 1.2 0 1 0 -2.4 0M90.6 41.2a1.2 1.2 0 1 0 2.4 0a1.2 1.2 0 1 0 -2.4 0M97.0 61.2a1.2 1.2 0 1 0 2.4 0a1.2 1.2 0 1 0 -2.4 0M91.1 55.6a1.2 1.2 0 1 0 2.4 0a1.2 1.2 0 1 0 -2.4 0M100.1 61.1a1.2 1.2 0 1 0 2.4 0a1.2 1.2 0 1 0 -2.4 0M79.6 59.7a1.2 1.2 0 1 0 2.4 0a1.2 1.2 0 1 0 -2.4 0M91.8 57.1a1.2 1.2 0 1 0 2.4 0a1.2 1.2 0 1 0 -2.4 0M100.8 55.7a1.2 1.2 0 1 0 2.4 0a1.2 1.2 0 1 0 -2.4 0M97.3 65.2a1.2 1.2 0 1 0 2.4 0a1.2 1.2 0 1 0 -2.4 0M97.7 43.8a1.2 1.2 0 1 0 2.4 0a1.2 1.2 0 1 0 -2.4 0M97.0 56.1a1.2 1.2 0 1 0 2.4 0a1.2 1.2 0 1 0 -2.4 0M92.7 45.9a1.2 1.2 0 1 0 2.4 0a1.2 1.2 0 1 0 -2.4 0M85.2 58.6a1.2 1.2 0 1 0 2.4 0a1.2 1.2 0 1 0 -2.4 0M94.9 52.8a1.2 1.2 0 1 0 2.4 0a1.2 1.2 0 1 0 -2.4 0M88.6 55.8a1.2 1.2 0 1 0 2.4 0a1.2 1.2 0 1 0 -2.4 0M89.7 57.0a1.2 1.2 0 1 0 2.4 0a1.2 1.2 0 1 0 -2.4 0M90.7 65.5a1.2 1.2 0 1 0 2.4 0a1.2 1.2 0 1 0 -2.4 0M91.5 52.0a1.2 1.2 0 1 0 2.4 0a1.2 1.2 0 1 0 -2.4 0M84.9 59.4a1.2 1.2 0 1 0 2.4 0a1.2 1.2 0 1 0 -2.4 0M96.3 65.0a1.2 1.2 0 1 0 2.4 0a1.2 1.2 0 1 0 -2.4 0M92.9 64.9a1.2 1.2 0 1 0 2.4 0a1.2 1.2 0 1 0 -2.4 0M99.6 42.3a1.2 1.2 0 1 0 2.4 0a1.2 1.2 0 1 0 -2.4 0M105.7 59.3a1.2 1.2 0 1 0 2.4 0a1.2 1.2 0 1 0 -2.4 0M96.8 57.0a1.2 1.2 0 1 0 2.4 0a1.2 1.2 0 1 0 -2.4 0M92.4 47.5a1.2 1.2 0 1 0 2.4 0a1.2 1.2 0 1 0 -2.4 0M82.5 50.8a1.2 1.2 0 1 0 2.4 0a1.2 1.2 0 1 0 -2.4 0M91.3 48.4a1.2 1.2 0 1 0 2.4 0a1.2 1.2 0 1 0 -2.4 0M93.0 62.3a1.2 1.2 0 1 0 2.4 0a1.2 1.2 0 1 0 -2.4 0M93.6 52.9a1.2 1.2 0 1 0 2.4 0a1.2 1.2 0 1 0 -2.4 0M91.9 54.6a1.2 1.2 0 1 0 2.4 0a1.2 1.2 0 1 0 -2.4 0M88.0 72.1a1.2 1.2 0 1 0 2.4 0a1.2 1.2 0 1 0 -2.4 0M97.9 53.1a1.2 1.2 0 1 0 2.4 0a1.2 1.2 0 1 0 -2.4 0M92.7 57.4a1.2 1.2 0 1 0 2.4 0a1.2 1.2 0 1 0 -2.4 0M98.9 60.9a1.2 1.2 0 1 0 2.4 0a1.2 1.2 0 1 0 -2.4 0M86.8 59.1a1.2 1.2 0 1 0 2.4 0a1.2 1.2 0 1 0 -2.4 0M99.9 67.1a1.2 1.2 0 1 0 2.4 0a1.2 1.2 0 1 0 -2.4 0M100.0 62.1a1.2 1.2 0 1 0 2.4 0a1.2 1.2 0 1 0 -2.4 0M84.0 49.4a1.2 1.2 0 1 0 2.4 0a1.2 1.2 0 1 0 -2.4 0M91.0 66.5a1.2 1.2 0 1 0 2.4 0a1.2 1.2 0 1 0 -2.4 0M89.2 51.6a1.2 1.2 0 1 0 2.4 0a1.2 1.2 0 1 0 -2.4 0M100.0 60.7a1.2 1.2 0 1 0 2.4 0a1.2 1.2 0 1 0 -2.4 0M94.5 53.0a1.2 1.2 0 1 0 2.4 0a1.2 1.2 0 1 0 -2.4 0M87.2 55.5a1.2 1.2 0 1 0 2.4 0a1.2 1.2 0 1 0 -2.4 0M91.4 61.4a1.2 1.2 0 1 0 2.4 0a1.2 1.2 0 1 0 -2.4 0M88.2 57.4a1.2 1.2 0 1 0 2.4 0a1.2 1.2 0 1 0 -2.4 0M91.9 61.6a1.2 1.2 0 1 0 2.4 0a1.2 1.2 0 1 0 -2.4 0M88.7 50.4a1.2 1.2 0 1 0 2.4 0a1.2 1.2 0 1 0 -2.4 0M93.2 51.9a1.2 1.2 0 1 0 2.4 0a1.2 1.2 0 1 0 -2.4 0M100.0 53.9a1.2 1.2 0 1 0 2.4 0a1.2 1.2 0 1 0 -2.4 0M107.5 63.4a1.2 1.2 0 1 0 2.4 0a1.2 1.2 0 1 0 -2.4 0M97.3 60.0a1.2 1.2 0 1 0 2.4 0a1.2 1.2 0 1 0 -2.4 0M104.6 46.4a1.2 1.2 0 1 0 2.4 0a1.2 1.2 0 1 0 -2.4 0M78.1 64.3a1.2 1.2 0 1 0 2.4 0a1.2 1.2 0 1 0 -2.4 0M96.3 52.5a1.2 1.2 0 1 0 2.4 0a1.2 1.2 0 1 0 -2.4 0M96.8 58.3a1.2 1.2 0 1 0 2.4 0a1.2 1.2 0 1 0 -2.4 0M94.8 53.5a1.2 1.2 0 1 0 2.4 0a1.2 1.2 0 1 0 -2.4 0M91.1 50.9a1.2 1.2 0 1 0 2.4 0a1.2 1.2 0 1 0 -2.4 0M76.0 53.6a1.2 1.2 0 1 0 2.4 0a1.2 1.2 0 1 0 -2.4 0M84.5 51.4a1.2 1.2 0 1 0 2.4 0a1.2 1.2 0 1 0 -2.4 0M90.1 63.8a1.2 1.2 0 1 0 2.4 0a1.2 1.2 0 1 0 -2.4 0M94.3 63.9a1.2 1.2 0 1 0 2.4 0a1.2 1.2 0 1 0 -2.4 0M85.3 68.3a1.2 1.2 0 1 0 2.4 0a1.2 1.2 0 1 0 -2.4 0M91.5 54.5a1.2 1.2 0 1 0 2.4 0a1.2 1.2 0 1 0 -2.4 0M98.8 58.8a1.2 1.2 0 1 0 2.4 0a1.2 1.2 0 1 0 -2.4 0M99.0 57.7a1.2 1.2 0 1 0 2.4 0a1.2 1.2 0 1 0 -2.4 0M91.0 54.0a1.2 1.2 0 1 0 2.4 0a1.2 1.2 0 1 0 -2.4 0M99.0 60.1a1.2 1.2 0 1 0 2.4 0a1.2 1.2 0 1 0 -2.4 0M90.0 58.9a1.2 1.2 0 1 0 2.4 0a1.2 1.2 0 1 0 -2.4 0M92.2 63.9a1.2 1.2 0 1 0 2.4 0a1.2 1.2 0 1 0 -2.4 0M98.8 60.5a1.2 1.2 0 1 0 2.4 0a1.2 1.2 0 1 0 -2.4 0M94.9 63.4a1.2 1.2 0 1 0 2.4 0a1.2 1.2 0 1 0 -2.4 0M94.2 55.2a1.2 1.2 0 1 0 2.4 0a1.2 1.2 0 1 0 -2.4 0M88.7 44.3a1.2 1.2 0 1 0 2.4 0a1.2 1.2 0 1 0 -2.4 0M94.2 45.9a1.2 1.2 0 1 0 2.4 0a1.2 1.2 0 1 0 -2.4 0M63.2 101.8a1.2 1.2 0 1 0 2.4 0a1.2 1.2 0 1 0 -2.4 0M49.0 90.6a1.2 1.2 0 1 0 2.4 0a1.2 1.2 0 1 0 -2.4 0M53.7 94.6a1.2 1.2 0 1 0 2.4 0a1.2 1.2 0 1 0 -2.4 0M50.0 113.6a1.2 1.2 0 1 0 2.4 0a1.2 1.2 0 1 0 -2.4 0M50.6 117.8a1.2 1.2 0 1 0 2.4 0a1.2 1.2 0 1 0 -2.4 0M57.0 102.5a1.2 1.2 0 1 0 2.4 0a1.2 1.2 0 1 0 -2.4 0M45.4 97.3a1.2 1.2 0 1 0 2.4 0a1.2 1.2 0 1 0 -2.4 0M55.9 109.7a1.2 1.2 0 1 0 2.4 0a1.2 1.2 0 1 0 -2.4 0M34.5 106.0a1.2 1.2 0 1 0 2.4 0a1.2 1.2 0 1 0 -2.4 0M31.3 105.0a1.2 1.2 0 1 0 2.4 0a1.2 1.2 0 1 0 -2.4 0M69.9 105.9a1.2 1.2 0 1 0 2.4 0a1.2 1.2 0 1 0 -2.4 0M60.0 109.1a1.2 1.2 0 1 0 2.4 0a1.2 1.2 0 1 0 -2.4 0M56.2 61.1a1.2 1.2 0 1 0 2.4 0a1.2 1.2 0 1 0 -2.4 0M52.4 52.0a1.2 1.2 0 1 0 2.4 0a1.2 1.2 0 1 0 -2.4 0M71.7 55.8a1.2 1.2 0 1 0 2.4 0a1.2 1.2 0 1 0 -2.4 0M54.4 67.8a1.2 1.2 0 1 0 2.4 0a1.2 1.2 0 1 0 -2.4 0M59.2 60.4a1.2 1.2 0 1 0 2.4 0a1.2 1.2 0 1 0 -2.4 0M61.9 58.3a1.2 1.2 0 1 0 2.4 0a1.2 1.2 0 1 0 -2.4 0M71.5 78.1a1.2 1.2 0 1 0 2.4 0a1.2 1.2 0 1 0 -2.4 0M49.9 48.8a1.2 1.2 0 1 0 2.4 0a1.2 1.2 0 1 0 -2.4 0M49.3 65.9a1.2 1.2 0 1 0 2.4 0a1.2 1.2 0 1 0 -2.4 0M50.2 72.0a1.2 1.2 0 1 0 2.4 0a1.2 1.2 0 1 0 -2.4 0M54.3 32.8a1.2 1.2 0 1 0 2.4 0a1.2 1.2 0 1 0 -2.4 0M65.2 69.2a1.2 1.2 0 1 0 2.4 0a1.2 1.2 0 1 0 -2.4 0M82.4 99.2a1.2 1.2 0 1 0 2.4 0a1.2 1.2 0 1 0 -2.4 0M102.3 103.5a1.2 1.2 0 1 0 2.4 0a1.2 1.2 0 1 0 -2.4 0M84.3 86.0a1.2 1.2 0 1 0 2.4 0a1.2 1.2 0 1 0 -2.4 0M100.9 98.9a1.2 1.2 0 1 0 2.4 0a1.2 1.2 0 1 0 -2.4 0M79.8 110.9a1.2 1.2 0 1 0 2.4 0a1.2 1.2 0 1 0 -2.4 0M84.2 117.9a1.2 1.2 0 1 0 2.4 0a1.2 1.2 0 1 0 -2.4 0M99.6 101.5a1.2 1.2 0 1 0 2.4 0a1.2 1.2 0 1 0 -2.4 0M96.8 75.9a1.2 1.2 0 1 0 2.4 0a1.2 1.2 0 1 0 -2.4 0M104.1 106.9a1.2 1.2 0 1 0 2.4 0a1.2 1.2 0 1 0 -2.4 0M100.9 83.2a1.2 1.2 0 1 0 2.4 0a1.2 1.2 0 1 0 -2.4 0M83.7 104.8a1.2 1.2 0 1 0 2.4 0a1.2 1.2 0 1 0 -2.4 0M90.5 111.5a1.2 1.2 0 1 0 2.4 0a1.2 1.2 0 1 0 -2.4 0M107.3 82.5a1.2 1.2 0 1 0 2.4 0a1.2 1.2 0 1 0 -2.4 0M79.9 60.6a1.2 1.2 0 1 0 2.4 0a1.2 1.2 0 1 0 -2.4 0M89.3 56.1a1.2 1.2 0 1 0 2.4 0a1.2 1.2 0 1 0 -2.4 0M94.6 60.0a1.2 1.2 0 1 0 2.4 0a1.2 1.2 0 1 0 -2.4 0M103.7 79.7a1.2 1.2 0 1 0 2.4 0a1.2 1.2 0 1 0 -2.4 0M91.7 65.2a1.2 1.2 0 1 0 2.4 0a1.2 1.2 0 1 0 -2.4 0M93.1 55.6a1.2 1.2 0 1 0 2.4 0a1.2 1.2 0 1 0 -2.4 0M82.0 64.4a1.2 1.2 0 1 0 2.4 0a1.2 1.2 0 1 0 -2.4 0M100.1 54.3a1.2 1.2 0 1 0 2.4 0a1.2 1.2 0 1 0 -2.4 0M84.4 36.9a1.2 1.2 0 1 0 2.4 0a1.2 1.2 0 1 0 -2.4 0M116.2 72.8a1.2 1.2 0 1 0 2.4 0a1.2 1.2 0 1 0 -2.4 0M94.9 32.1a1.2 1.2 0 1 0 2.4 0a1.2 1.2 0 1 0 -2.4 0" fill="#0000ff"/>
<rect x="94.3" y="24.3" width="34.2" height="6.5" fill="#fff" stroke="#7a7a7a" stroke-width="0.75"/>
<circle cx="101.1" cy="27.6" r="1.2" fill="#0000ff"/>
<text x="107" y="29" class="lg" textLength="20" lengthAdjust="spacingAndGlyphs">Complex Data</text>
<text x="46" y="19.8" class="tt" textLength="54.7" lengthAdjust="spacingAndGlyphs">Distorted QPSK Constellation</text>
<text x="105.3" y="6" class="inf" style="font-size:4.70px" textLength="34.7" lengthAdjust="spacing">SMF = 120 km</text>
<text x="105.3" y="12.6" class="inf" style="font-size:4.67px" textLength="33.3" lengthAdjust="spacing">EVM = 24.2 %</text>
<text x="64.7" y="148.5" class="sl" textLength="8.7" lengthAdjust="spacingAndGlyphs">(a)</text>
<path d="M153.3 75H263.4" stroke="#bdbdbd" stroke-width="0.8" stroke-dasharray="1 1" fill="none"/>
<path d="M153.3 91.6H263.4" stroke="#8a8a8a" stroke-width="0.8" stroke-dasharray="1.6 1.2" fill="none"/>
<path d="M153.3 108.1H263.4" stroke="#bdbdbd" stroke-width="0.8" stroke-dasharray="1 1" fill="none"/>
<path d="M161.2 17V133" stroke="#bdbdbd" stroke-width="0.8" stroke-dasharray="1 1" fill="none"/>
<path d="M239.8 17V133" stroke="#bdbdbd" stroke-width="0.8" stroke-dasharray="1 1" fill="none"/>
<path d="M153.3 17V133H263.4" stroke="#858585" stroke-width="1" fill="none"/>
<path d="M161.2 133v-1.2M176.9 133v-1.2M192.6 133v-1.2M208.3 133v-1.2M224.1 133v-1.2M239.8 133v-1.2M255.5 133v-1.2M153.3 124.7h1.2M153.3 108.1h1.2M153.3 91.6h1.2M153.3 75h1.2M153.3 58.4h1.2M153.3 41.9h1.2M153.3 25.3h1.2" stroke="#555" stroke-width="0.8" fill="none"/>
<text x="161.2" y="139.5" class="tl" text-anchor="middle">-6</text>
<text x="176.9" y="139.5" class="tl" text-anchor="middle">-4</text>
<text x="192.6" y="139.5" class="tl" text-anchor="middle">-2</text>
<text x="208.3" y="139.5" class="tl" text-anchor="middle">0</text>
<text x="224.1" y="139.5" class="tl" text-anchor="middle">2</text>
<text x="239.8" y="139.5" class="tl" text-anchor="middle">4</text>
<text x="255.5" y="139.5" class="tl" text-anchor="middle">6</text>
<text x="151.8" y="126.2" class="tl" text-anchor="end">-6</text>
<text x="151.8" y="109.6" class="tl" text-anchor="end">-4</text>
<text x="151.8" y="93.1" class="tl" text-anchor="end">-2</text>
<text x="151.8" y="76.5" class="tl" text-anchor="end">0</text>
<text x="151.8" y="59.9" class="tl" text-anchor="end">2</text>
<text x="151.8" y="43.4" class="tl" text-anchor="end">4</text>
<text x="151.8" y="26.8" class="tl" text-anchor="end">6</text>
<path d="M192.3 97.3a1.1 1.1 0 1 0 2.2 0a1.1 1.1 0 1 0 -2.2 0M181.4 106.1a1.1 1.1 0 1 0 2.2 0a1.1 1.1 0 1 0 -2.2 0M181.3 106.2a1.1 1.1 0 1 0 2.2 0a1.1 1.1 0 1 0 -2.2 0M191.9 104.5a1.1 1.1 0 1 0 2.2 0a1.1 1.1 0 1 0 -2.2 0M178.8 113.8a1.1 1.1 0 1 0 2.2 0a1.1 1.1 0 1 0 -2.2 0M183.1 110.2a1.1 1.1 0 1 0 2.2 0a1.1 1.1 0 1 0 -2.2 0M181.7 87.8a1.1 1.1 0 1 0 2.2 0a1.1 1.1 0 1 0 -2.2 0M187.7 94.0a1.1 1.1 0 1 0 2.2 0a1.1 1.1 0 1 0 -2.2 0M187.6 99.2a1.1 1.1 0 1 0 2.2 0a1.1 1.1 0 1 0 -2.2 0M182.3 103.4a1.1 1.1 0 1 0 2.2 0a1.1 1.1 0 1 0 -2.2 0M192.0 112.4a1.1 1.1 0 1 0 2.2 0a1.1 1.1 0 1 0 -2.2 0M198.4 99.5a1.1 1.1 0 1 0 2.2 0a1.1 1.1 0 1 0 -2.2 0M175.4 105.5a1.1 1.1 0 1 0 2.2 0a1.1 1.1 0 1 0 -2.2 0M176.2 98.0a1.1 1.1 0 1 0 2.2 0a1.1 1.1 0 1 0 -2.2 0M175.8 86.6a1.1 1.1 0 1 0 2.2 0a1.1 1.1 0 1 0 -2.2 0M175.1 126.2a1.1 1.1 0 1 0 2.2 0a1.1 1.1 0 1 0 -2.2 0M175.6 123.2a1.1 1.1 0 1 0 2.2 0a1.1 1.1 0 1 0 -2.2 0M183.2 87.6a1.1 1.1 0 1 0 2.2 0a1.1 1.1 0 1 0 -2.2 0M190.8 115.4a1.1 1.1 0 1 0 2.2 0a1.1 1.1 0 1 0 -2.2 0M175.3 79.2a1.1 1.1 0 1 0 2.2 0a1.1 1.1 0 1 0 -2.2 0M187.2 99.8a1.1 1.1 0 1 0 2.2 0a1.1 1.1 0 1 0 -2.2 0M195.3 71.4a1.1 1.1 0 1 0 2.2 0a1.1 1.1 0 1 0 -2.2 0M197.9 98.2a1.1 1.1 0 1 0 2.2 0a1.1 1.1 0 1 0 -2.2 0M187.6 92.7a1.1 1.1 0 1 0 2.2 0a1.1 1.1 0 1 0 -2.2 0M176.9 112.1a1.1 1.1 0 1 0 2.2 0a1.1 1.1 0 1 0 -2.2 0M184.2 110.8a1.1 1.1 0 1 0 2.2 0a1.1 1.1 0 1 0 -2.2 0M183.0 98.7a1.1 1.1 0 1 0 2.2 0a1.1 1.1 0 1 0 -2.2 0M209.4 109.7a1.1 1.1 0 1 0 2.2 0a1.1 1.1 0 1 0 -2.2 0M182.3 101.8a1.1 1.1 0 1 0 2.2 0a1.1 1.1 0 1 0 -2.2 0M188.5 87.7a1.1 1.1 0 1 0 2.2 0a1.1 1.1 0 1 0 -2.2 0M178.3 109.4a1.1 1.1 0 1 0 2.2 0a1.1 1.1 0 1 0 -2.2 0M165.6 110.6a1.1 1.1 0 1 0 2.2 0a1.1 1.1 0 1 0 -2.2 0M189.6 82.8a1.1 1.1 0 1 0 2.2 0a1.1 1.1 0 1 0 -2.2 0M172.5 87.6a1.1 1.1 0 1 0 2.2 0a1.1 1.1 0 1 0 -2.2 0M184.0 77.4a1.1 1.1 0 1 0 2.2 0a1.1 1.1 0 1 0 -2.2 0M177.1 86.2a1.1 1.1 0 1 0 2.2 0a1.1 1.1 0 1 0 -2.2 0M163.6 96.6a1.1 1.1 0 1 0 2.2 0a1.1 1.1 0 1 0 -2.2 0M201.5 108.7a1.1 1.1 0 1 0 2.2 0a1.1 1.1 0 1 0 -2.2 0M179.9 80.7a1.1 1.1 0 1 0 2.2 0a1.1 1.1 0 1 0 -2.2 0M179.5 92.7a1.1 1.1 0 1 0 2.2 0a1.1 1.1 0 1 0 -2.2 0M183.0 83.3a1.1 1.1 0 1 0 2.2 0a1.1 1.1 0 1 0 -2.2 0M182.8 105.1a1.1 1.1 0 1 0 2.2 0a1.1 1.1 0 1 0 -2.2 0M182.0 93.2a1.1 1.1 0 1 0 2.2 0a1.1 1.1 0 1 0 -2.2 0M177.6 80.7a1.1 1.1 0 1 0 2.2 0a1.1 1.1 0 1 0 -2.2 0M190.7 72.9a1.1 1.1 0 1 0 2.2 0a1.1 1.1 0 1 0 -2.2 0M178.2 72.6a1.1 1.1 0 1 0 2.2 0a1.1 1.1 0 1 0 -2.2 0M196.6 70.1a1.1 1.1 0 1 0 2.2 0a1.1 1.1 0 1 0 -2.2 0M199.0 85.0a1.1 1.1 0 1 0 2.2 0a1.1 1.1 0 1 0 -2.2 0M181.7 73.7a1.1 1.1 0 1 0 2.2 0a1.1 1.1 0 1 0 -2.2 0M168.6 80.9a1.1 1.1 0 1 0 2.2 0a1.1 1.1 0 1 0 -2.2 0M177.8 87.6a1.1 1.1 0 1 0 2.2 0a1.1 1.1 0 1 0 -2.2 0M164.5 93.6a1.1 1.1 0 1 0 2.2 0a1.1 1.1 0 1 0 -2.2 0M183.4 73.0a1.1 1.1 0 1 0 2.2 0a1.1 1.1 0 1 0 -2.2 0M194.6 84.2a1.1 1.1 0 1 0 2.2 0a1.1 1.1 0 1 0 -2.2 0M181.6 92.9a1.1 1.1 0 1 0 2.2 0a1.1 1.1 0 1 0 -2.2 0M188.1 86.2a1.1 1.1 0 1 0 2.2 0a1.1 1.1 0 1 0 -2.2 0M190.3 63.0a1.1 1.1 0 1 0 2.2 0a1.1 1.1 0 1 0 -2.2 0M183.3 100.7a1.1 1.1 0 1 0 2.2 0a1.1 1.1 0 1 0 -2.2 0M174.2 100.2a1.1 1.1 0 1 0 2.2 0a1.1 1.1 0 1 0 -2.2 0M170.5 68.1a1.1 1.1 0 1 0 2.2 0a1.1 1.1 0 1 0 -2.2 0M186.2 100.9a1.1 1.1 0 1 0 2.2 0a1.1 1.1 0 1 0 -2.2 0M190.9 68.7a1.1 1.1 0 1 0 2.2 0a1.1 1.1 0 1 0 -2.2 0M179.7 91.1a1.1 1.1 0 1 0 2.2 0a1.1 1.1 0 1 0 -2.2 0M179.9 80.0a1.1 1.1 0 1 0 2.2 0a1.1 1.1 0 1 0 -2.2 0M190.7 53.0a1.1 1.1 0 1 0 2.2 0a1.1 1.1 0 1 0 -2.2 0M197.0 53.0a1.1 1.1 0 1 0 2.2 0a1.1 1.1 0 1 0 -2.2 0M198.7 59.0a1.1 1.1 0 1 0 2.2 0a1.1 1.1 0 1 0 -2.2 0M166.8 68.2a1.1 1.1 0 1 0 2.2 0a1.1 1.1 0 1 0 -2.2 0M187.1 71.2a1.1 1.1 0 1 0 2.2 0a1.1 1.1 0 1 0 -2.2 0M193.7 70.9a1.1 1.1 0 1 0 2.2 0a1.1 1.1 0 1 0 -2.2 0M173.5 50.0a1.1 1.1 0 1 0 2.2 0a1.1 1.1 0 1 0 -2.2 0M191.0 64.2a1.1 1.1 0 1 0 2.2 0a1.1 1.1 0 1 0 -2.2 0M193.9 54.4a1.1 1.1 0 1 0 2.2 0a1.1 1.1 0 1 0 -2.2 0M187.4 95.2a1.1 1.1 0 1 0 2.2 0a1.1 1.1 0 1 0 -2.2 0M176.2 72.0a1.1 1.1 0 1 0 2.2 0a1.1 1.1 0 1 0 -2.2 0M172.8 64.4a1.1 1.1 0 1 0 2.2 0a1.1 1.1 0 1 0 -2.2 0M196.8 72.3a1.1 1.1 0 1 0 2.2 0a1.1 1.1 0 1 0 -2.2 0M171.2 43.2a1.1 1.1 0 1 0 2.2 0a1.1 1.1 0 1 0 -2.2 0M178.7 81.0a1.1 1.1 0 1 0 2.2 0a1.1 1.1 0 1 0 -2.2 0M186.3 61.8a1.1 1.1 0 1 0 2.2 0a1.1 1.1 0 1 0 -2.2 0M175.9 57.5a1.1 1.1 0 1 0 2.2 0a1.1 1.1 0 1 0 -2.2 0M178.3 77.4a1.1 1.1 0 1 0 2.2 0a1.1 1.1 0 1 0 -2.2 0M185.6 57.8a1.1 1.1 0 1 0 2.2 0a1.1 1.1 0 1 0 -2.2 0M176.7 62.9a1.1 1.1 0 1 0 2.2 0a1.1 1.1 0 1 0 -2.2 0M182.6 34.0a1.1 1.1 0 1 0 2.2 0a1.1 1.1 0 1 0 -2.2 0M175.9 50.7a1.1 1.1 0 1 0 2.2 0a1.1 1.1 0 1 0 -2.2 0M183.1 68.2a1.1 1.1 0 1 0 2.2 0a1.1 1.1 0 1 0 -2.2 0M191.6 56.3a1.1 1.1 0 1 0 2.2 0a1.1 1.1 0 1 0 -2.2 0M197.6 62.9a1.1 1.1 0 1 0 2.2 0a1.1 1.1 0 1 0 -2.2 0M177.0 73.0a1.1 1.1 0 1 0 2.2 0a1.1 1.1 0 1 0 -2.2 0M189.3 60.0a1.1 1.1 0 1 0 2.2 0a1.1 1.1 0 1 0 -2.2 0M199.0 61.9a1.1 1.1 0 1 0 2.2 0a1.1 1.1 0 1 0 -2.2 0M195.3 49.1a1.1 1.1 0 1 0 2.2 0a1.1 1.1 0 1 0 -2.2 0M185.5 83.9a1.1 1.1 0 1 0 2.2 0a1.1 1.1 0 1 0 -2.2 0M170.7 83.4a1.1 1.1 0 1 0 2.2 0a1.1 1.1 0 1 0 -2.2 0M201.2 76.5a1.1 1.1 0 1 0 2.2 0a1.1 1.1 0 1 0 -2.2 0M197.2 43.3a1.1 1.1 0 1 0 2.2 0a1.1 1.1 0 1 0 -2.2 0M202.5 38.5a1.1 1.1 0 1 0 2.2 0a1.1 1.1 0 1 0 -2.2 0M182.5 52.5a1.1 1.1 0 1 0 2.2 0a1.1 1.1 0 1 0 -2.2 0M184.6 48.1a1.1 1.1 0 1 0 2.2 0a1.1 1.1 0 1 0 -2.2 0M177.8 50.5a1.1 1.1 0 1 0 2.2 0a1.1 1.1 0 1 0 -2.2 0M201.4 69.9a1.1 1.1 0 1 0 2.2 0a1.1 1.1 0 1 0 -2.2 0M186.5 60.7a1.1 1.1 0 1 0 2.2 0a1.1 1.1 0 1 0 -2.2 0M185.7 40.4a1.1 1.1 0 1 0 2.2 0a1.1 1.1 0 1 0 -2.2 0M183.0 41.2a1.1 1.1 0 1 0 2.2 0a1.1 1.1 0 1 0 -2.2 0M166.2 37.3a1.1 1.1 0 1 0 2.2 0a1.1 1.1 0 1 0 -2.2 0M177.0 42.9a1.1 1.1 0 1 0 2.2 0a1.1 1.1 0 1 0 -2.2 0M185.7 80.1a1.1 1.1 0 1 0 2.2 0a1.1 1.1 0 1 0 -2.2 0M175.3 47.6a1.1 1.1 0 1 0 2.2 0a1.1 1.1 0 1 0 -2.2 0M200.8 46.8a1.1 1.1 0 1 0 2.2 0a1.1 1.1 0 1 0 -2.2 0M186.5 66.5a1.1 1.1 0 1 0 2.2 0a1.1 1.1 0 1 0 -2.2 0M199.4 29.2a1.1 1.1 0 1 0 2.2 0a1.1 1.1 0 1 0 -2.2 0M184.0 52.7a1.1 1.1 0 1 0 2.2 0a1.1 1.1 0 1 0 -2.2 0M165.8 39.9a1.1 1.1 0 1 0 2.2 0a1.1 1.1 0 1 0 -2.2 0M213.4 41.8a1.1 1.1 0 1 0 2.2 0a1.1 1.1 0 1 0 -2.2 0M197.6 43.9a1.1 1.1 0 1 0 2.2 0a1.1 1.1 0 1 0 -2.2 0M172.8 34.6a1.1 1.1 0 1 0 2.2 0a1.1 1.1 0 1 0 -2.2 0M170.1 52.6a1.1 1.1 0 1 0 2.2 0a1.1 1.1 0 1 0 -2.2 0M186.7 39.9a1.1 1.1 0 1 0 2.2 0a1.1 1.1 0 1 0 -2.2 0M188.2 45.7a1.1 1.1 0 1 0 2.2 0a1.1 1.1 0 1 0 -2.2 0M175.3 65.1a1.1 1.1 0 1 0 2.2 0a1.1 1.1 0 1 0 -2.2 0M184.3 58.4a1.1 1.1 0 1 0 2.2 0a1.1 1.1 0 1 0 -2.2 0M169.3 64.8a1.1 1.1 0 1 0 2.2 0a1.1 1.1 0 1 0 -2.2 0M178.3 71.6a1.1 1.1 0 1 0 2.2 0a1.1 1.1 0 1 0 -2.2 0M168.8 69.1a1.1 1.1 0 1 0 2.2 0a1.1 1.1 0 1 0 -2.2 0M185.7 45.4a1.1 1.1 0 1 0 2.2 0a1.1 1.1 0 1 0 -2.2 0M205.8 67.5a1.1 1.1 0 1 0 2.2 0a1.1 1.1 0 1 0 -2.2 0M176.2 39.6a1.1 1.1 0 1 0 2.2 0a1.1 1.1 0 1 0 -2.2 0M197.0 103.7a1.1 1.1 0 1 0 2.2 0a1.1 1.1 0 1 0 -2.2 0M218.2 103.8a1.1 1.1 0 1 0 2.2 0a1.1 1.1 0 1 0 -2.2 0M186.7 115.1a1.1 1.1 0 1 0 2.2 0a1.1 1.1 0 1 0 -2.2 0M203.1 96.3a1.1 1.1 0 1 0 2.2 0a1.1 1.1 0 1 0 -2.2 0M184.3 111.3a1.1 1.1 0 1 0 2.2 0a1.1 1.1 0 1 0 -2.2 0M205.3 93.2a1.1 1.1 0 1 0 2.2 0a1.1 1.1 0 1 0 -2.2 0M192.3 92.6a1.1 1.1 0 1 0 2.2 0a1.1 1.1 0 1 0 -2.2 0M205.7 120.5a1.1 1.1 0 1 0 2.2 0a1.1 1.1 0 1 0 -2.2 0M195.9 95.0a1.1 1.1 0 1 0 2.2 0a1.1 1.1 0 1 0 -2.2 0M193.1 124.7a1.1 1.1 0 1 0 2.2 0a1.1 1.1 0 1 0 -2.2 0M196.3 91.1a1.1 1.1 0 1 0 2.2 0a1.1 1.1 0 1 0 -2.2 0M216.8 125.3a1.1 1.1 0 1 0 2.2 0a1.1 1.1 0 1 0 -2.2 0M228.2 112.9a1.1 1.1 0 1 0 2.2 0a1.1 1.1 0 1 0 -2.2 0M209.9 85.5a1.1 1.1 0 1 0 2.2 0a1.1 1.1 0 1 0 -2.2 0M210.2 98.1a1.1 1.1 0 1 0 2.2 0a1.1 1.1 0 1 0 -2.2 0M186.6 92.6a1.1 1.1 0 1 0 2.2 0a1.1 1.1 0 1 0 -2.2 0M191.5 129.1a1.1 1.1 0 1 0 2.2 0a1.1 1.1 0 1 0 -2.2 0M230.5 91.6a1.1 1.1 0 1 0 2.2 0a1.1 1.1 0 1 0 -2.2 0M219.4 110.4a1.1 1.1 0 1 0 2.2 0a1.1 1.1 0 1 0 -2.2 0M215.5 81.4a1.1 1.1 0 1 0 2.2 0a1.1 1.1 0 1 0 -2.2 0M216.5 100.1a1.1 1.1 0 1 0 2.2 0a1.1 1.1 0 1 0 -2.2 0M186.1 101.9a1.1 1.1 0 1 0 2.2 0a1.1 1.1 0 1 0 -2.2 0M175.1 119.6a1.1 1.1 0 1 0 2.2 0a1.1 1.1 0 1 0 -2.2 0M200.4 111.4a1.1 1.1 0 1 0 2.2 0a1.1 1.1 0 1 0 -2.2 0M197.6 101.1a1.1 1.1 0 1 0 2.2 0a1.1 1.1 0 1 0 -2.2 0M220.6 84.8a1.1 1.1 0 1 0 2.2 0a1.1 1.1 0 1 0 -2.2 0M198.9 85.8a1.1 1.1 0 1 0 2.2 0a1.1 1.1 0 1 0 -2.2 0M190.8 103.8a1.1 1.1 0 1 0 2.2 0a1.1 1.1 0 1 0 -2.2 0M209.4 114.3a1.1 1.1 0 1 0 2.2 0a1.1 1.1 0 1 0 -2.2 0M196.3 115.2a1.1 1.1 0 1 0 2.2 0a1.1 1.1 0 1 0 -2.2 0M200.7 80.9a1.1 1.1 0 1 0 2.2 0a1.1 1.1 0 1 0 -2.2 0M191.1 97.2a1.1 1.1 0 1 0 2.2 0a1.1 1.1 0 1 0 -2.2 0M189.5 96.6a1.1 1.1 0 1 0 2.2 0a1.1 1.1 0 1 0 -2.2 0M185.8 66.4a1.1 1.1 0 1 0 2.2 0a1.1 1.1 0 1 0 -2.2 0M225.4 77.7a1.1 1.1 0 1 0 2.2 0a1.1 1.1 0 1 0 -2.2 0M191.5 75.1a1.1 1.1 0 1 0 2.2 0a1.1 1.1 0 1 0 -2.2 0M195.7 74.0a1.1 1.1 0 1 0 2.2 0a1.1 1.1 0 1 0 -2.2 0M202.6 80.0a1.1 1.1 0 1 0 2.2 0a1.1 1.1 0 1 0 -2.2 0M206.1 90.0a1.1 1.1 0 1 0 2.2 0a1.1 1.1 0 1 0 -2.2 0M194.9 103.3a1.1 1.1 0 1 0 2.2 0a1.1 1.1 0 1 0 -2.2 0M194.5 99.8a1.1 1.1 0 1 0 2.2 0a1.1 1.1 0 1 0 -2.2 0M197.8 94.4a1.1 1.1 0 1 0 2.2 0a1.1 1.1 0 1 0 -2.2 0M200.5 78.0a1.1 1.1 0 1 0 2.2 0a1.1 1.1 0 1 0 -2.2 0M183.8 92.7a1.1 1.1 0 1 0 2.2 0a1.1 1.1 0 1 0 -2.2 0M189.0 74.6a1.1 1.1 0 1 0 2.2 0a1.1 1.1 0 1 0 -2.2 0M218.2 73.4a1.1 1.1 0 1 0 2.2 0a1.1 1.1 0 1 0 -2.2 0M195.5 66.3a1.1 1.1 0 1 0 2.2 0a1.1 1.1 0 1 0 -2.2 0M182.7 65.9a1.1 1.1 0 1 0 2.2 0a1.1 1.1 0 1 0 -2.2 0M192.2 115.5a1.1 1.1 0 1 0 2.2 0a1.1 1.1 0 1 0 -2.2 0M228.6 65.0a1.1 1.1 0 1 0 2.2 0a1.1 1.1 0 1 0 -2.2 0M188.0 81.3a1.1 1.1 0 1 0 2.2 0a1.1 1.1 0 1 0 -2.2 0M197.0 82.1a1.1 1.1 0 1 0 2.2 0a1.1 1.1 0 1 0 -2.2 0M183.1 91.2a1.1 1.1 0 1 0 2.2 0a1.1 1.1 0 1 0 -2.2 0M204.5 80.7a1.1 1.1 0 1 0 2.2 0a1.1 1.1 0 1 0 -2.2 0M212.6 82.4a1.1 1.1 0 1 0 2.2 0a1.1 1.1 0 1 0 -2.2 0M225.3 91.6a1.1 1.1 0 1 0 2.2 0a1.1 1.1 0 1 0 -2.2 0M202.2 105.5a1.1 1.1 0 1 0 2.2 0a1.1 1.1 0 1 0 -2.2 0M185.6 67.9a1.1 1.1 0 1 0 2.2 0a1.1 1.1 0 1 0 -2.2 0M189.0 77.1a1.1 1.1 0 1 0 2.2 0a1.1 1.1 0 1 0 -2.2 0M198.7 95.4a1.1 1.1 0 1 0 2.2 0a1.1 1.1 0 1 0 -2.2 0M195.6 89.3a1.1 1.1 0 1 0 2.2 0a1.1 1.1 0 1 0 -2.2 0M194.0 74.5a1.1 1.1 0 1 0 2.2 0a1.1 1.1 0 1 0 -2.2 0M206.6 90.0a1.1 1.1 0 1 0 2.2 0a1.1 1.1 0 1 0 -2.2 0M189.4 80.0a1.1 1.1 0 1 0 2.2 0a1.1 1.1 0 1 0 -2.2 0M198.3 54.8a1.1 1.1 0 1 0 2.2 0a1.1 1.1 0 1 0 -2.2 0M228.6 56.9a1.1 1.1 0 1 0 2.2 0a1.1 1.1 0 1 0 -2.2 0M199.0 68.7a1.1 1.1 0 1 0 2.2 0a1.1 1.1 0 1 0 -2.2 0M190.0 77.2a1.1 1.1 0 1 0 2.2 0a1.1 1.1 0 1 0 -2.2 0M188.3 71.3a1.1 1.1 0 1 0 2.2 0a1.1 1.1 0 1 0 -2.2 0M194.7 58.1a1.1 1.1 0 1 0 2.2 0a1.1 1.1 0 1 0 -2.2 0M195.0 69.0a1.1 1.1 0 1 0 2.2 0a1.1 1.1 0 1 0 -2.2 0M186.0 47.6a1.1 1.1 0 1 0 2.2 0a1.1 1.1 0 1 0 -2.2 0M205.0 46.0a1.1 1.1 0 1 0 2.2 0a1.1 1.1 0 1 0 -2.2 0M208.2 49.4a1.1 1.1 0 1 0 2.2 0a1.1 1.1 0 1 0 -2.2 0M196.6 58.4a1.1 1.1 0 1 0 2.2 0a1.1 1.1 0 1 0 -2.2 0M229.2 80.9a1.1 1.1 0 1 0 2.2 0a1.1 1.1 0 1 0 -2.2 0M212.3 47.0a1.1 1.1 0 1 0 2.2 0a1.1 1.1 0 1 0 -2.2 0M204.0 57.8a1.1 1.1 0 1 0 2.2 0a1.1 1.1 0 1 0 -2.2 0M213.5 74.5a1.1 1.1 0 1 0 2.2 0a1.1 1.1 0 1 0 -2.2 0M204.0 77.0a1.1 1.1 0 1 0 2.2 0a1.1 1.1 0 1 0 -2.2 0M191.8 74.0a1.1 1.1 0 1 0 2.2 0a1.1 1.1 0 1 0 -2.2 0M197.8 65.0a1.1 1.1 0 1 0 2.2 0a1.1 1.1 0 1 0 -2.2 0M204.5 83.5a1.1 1.1 0 1 0 2.2 0a1.1 1.1 0 1 0 -2.2 0M221.7 53.0a1.1 1.1 0 1 0 2.2 0a1.1 1.1 0 1 0 -2.2 0M207.6 71.0a1.1 1.1 0 1 0 2.2 0a1.1 1.1 0 1 0 -2.2 0M198.4 60.2a1.1 1.1 0 1 0 2.2 0a1.1 1.1 0 1 0 -2.2 0M204.0 86.7a1.1 1.1 0 1 0 2.2 0a1.1 1.1 0 1 0 -2.2 0M207.7 32.1a1.1 1.1 0 1 0 2.2 0a1.1 1.1 0 1 0 -2.2 0M178.5 54.9a1.1 1.1 0 1 0 2.2 0a1.1 1.1 0 1 0 -2.2 0M203.6 68.0a1.1 1.1 0 1 0 2.2 0a1.1 1.1 0 1 0 -2.2 0M214.9 80.8a1.1 1.1 0 1 0 2.2 0a1.1 1.1 0 1 0 -2.2 0M201.2 49.3a1.1 1.1 0 1 0 2.2 0a1.1 1.1 0 1 0 -2.2 0M197.2 71.7a1.1 1.1 0 1 0 2.2 0a1.1 1.1 0 1 0 -2.2 0M200.7 72.0a1.1 1.1 0 1 0 2.2 0a1.1 1.1 0 1 0 -2.2 0M216.9 77.5a1.1 1.1 0 1 0 2.2 0a1.1 1.1 0 1 0 -2.2 0M209.3 81.6a1.1 1.1 0 1 0 2.2 0a1.1 1.1 0 1 0 -2.2 0M207.0 51.4a1.1 1.1 0 1 0 2.2 0a1.1 1.1 0 1 0 -2.2 0M170.2 50.2a1.1 1.1 0 1 0 2.2 0a1.1 1.1 0 1 0 -2.2 0M187.3 55.4a1.1 1.1 0 1 0 2.2 0a1.1 1.1 0 1 0 -2.2 0M216.8 63.5a1.1 1.1 0 1 0 2.2 0a1.1 1.1 0 1 0 -2.2 0M187.4 33.0a1.1 1.1 0 1 0 2.2 0a1.1 1.1 0 1 0 -2.2 0M200.7 31.8a1.1 1.1 0 1 0 2.2 0a1.1 1.1 0 1 0 -2.2 0M203.0 60.7a1.1 1.1 0 1 0 2.2 0a1.1 1.1 0 1 0 -2.2 0M198.6 35.5a1.1 1.1 0 1 0 2.2 0a1.1 1.1 0 1 0 -2.2 0M210.0 50.1a1.1 1.1 0 1 0 2.2 0a1.1 1.1 0 1 0 -2.2 0M199.9 51.5a1.1 1.1 0 1 0 2.2 0a1.1 1.1 0 1 0 -2.2 0M192.8 27.1a1.1 1.1 0 1 0 2.2 0a1.1 1.1 0 1 0 -2.2 0M199.5 63.6a1.1 1.1 0 1 0 2.2 0a1.1 1.1 0 1 0 -2.2 0M194.0 41.5a1.1 1.1 0 1 0 2.2 0a1.1 1.1 0 1 0 -2.2 0M206.6 51.8a1.1 1.1 0 1 0 2.2 0a1.1 1.1 0 1 0 -2.2 0M191.8 49.9a1.1 1.1 0 1 0 2.2 0a1.1 1.1 0 1 0 -2.2 0M180.4 65.7a1.1 1.1 0 1 0 2.2 0a1.1 1.1 0 1 0 -2.2 0M208.4 55.9a1.1 1.1 0 1 0 2.2 0a1.1 1.1 0 1 0 -2.2 0M203.6 35.6a1.1 1.1 0 1 0 2.2 0a1.1 1.1 0 1 0 -2.2 0M206.7 49.9a1.1 1.1 0 1 0 2.2 0a1.1 1.1 0 1 0 -2.2 0M223.5 42.2a1.1 1.1 0 1 0 2.2 0a1.1 1.1 0 1 0 -2.2 0M195.4 41.4a1.1 1.1 0 1 0 2.2 0a1.1 1.1 0 1 0 -2.2 0M204.0 60.4a1.1 1.1 0 1 0 2.2 0a1.1 1.1 0 1 0 -2.2 0M200.2 52.1a1.1 1.1 0 1 0 2.2 0a1.1 1.1 0 1 0 -2.2 0M177.1 52.2a1.1 1.1 0 1 0 2.2 0a1.1 1.1 0 1 0 -2.2 0M196.2 55.4a1.1 1.1 0 1 0 2.2 0a1.1 1.1 0 1 0 -2.2 0M180.8 54.4a1.1 1.1 0 1 0 2.2 0a1.1 1.1 0 1 0 -2.2 0M198.9 48.9a1.1 1.1 0 1 0 2.2 0a1.1 1.1 0 1 0 -2.2 0M186.5 42.6a1.1 1.1 0 1 0 2.2 0a1.1 1.1 0 1 0 -2.2 0M185.6 52.8a1.1 1.1 0 1 0 2.2 0a1.1 1.1 0 1 0 -2.2 0M214.2 58.4a1.1 1.1 0 1 0 2.2 0a1.1 1.1 0 1 0 -2.2 0M193.6 37.3a1.1 1.1 0 1 0 2.2 0a1.1 1.1 0 1 0 -2.2 0M195.0 53.7a1.1 1.1 0 1 0 2.2 0a1.1 1.1 0 1 0 -2.2 0M217.6 87.3a1.1 1.1 0 1 0 2.2 0a1.1 1.1 0 1 0 -2.2 0M190.2 109.7a1.1 1.1 0 1 0 2.2 0a1.1 1.1 0 1 0 -2.2 0M203.7 112.8a1.1 1.1 0 1 0 2.2 0a1.1 1.1 0 1 0 -2.2 0M205.4 109.9a1.1 1.1 0 1 0 2.2 0a1.1 1.1 0 1 0 -2.2 0M218.5 110.4a1.1 1.1 0 1 0 2.2 0a1.1 1.1 0 1 0 -2.2 0M216.5 95.1a1.1 1.1 0 1 0 2.2 0a1.1 1.1 0 1 0 -2.2 0M206.9 98.3a1.1 1.1 0 1 0 2.2 0a1.1 1.1 0 1 0 -2.2 0M233.6 96.0a1.1 1.1 0 1 0 2.2 0a1.1 1.1 0 1 0 -2.2 0M207.9 100.6a1.1 1.1 0 1 0 2.2 0a1.1 1.1 0 1 0 -2.2 0M204.8 96.6a1.1 1.1 0 1 0 2.2 0a1.1 1.1 0 1 0 -2.2 0M224.8 109.6a1.1 1.1 0 1 0 2.2 0a1.1 1.1 0 1 0 -2.2 0M212.8 86.7a1.1 1.1 0 1 0 2.2 0a1.1 1.1 0 1 0 -2.2 0M209.5 97.6a1.1 1.1 0 1 0 2.2 0a1.1 1.1 0 1 0 -2.2 0M203.6 109.6a1.1 1.1 0 1 0 2.2 0a1.1 1.1 0 1 0 -2.2 0M209.4 74.6a1.1 1.1 0 1 0 2.2 0a1.1 1.1 0 1 0 -2.2 0M210.6 106.0a1.1 1.1 0 1 0 2.2 0a1.1 1.1 0 1 0 -2.2 0M208.9 101.8a1.1 1.1 0 1 0 2.2 0a1.1 1.1 0 1 0 -2.2 0M222.3 97.7a1.1 1.1 0 1 0 2.2 0a1.1 1.1 0 1 0 -2.2 0M237.8 97.4a1.1 1.1 0 1 0 2.2 0a1.1 1.1 0 1 0 -2.2 0M231.1 96.6a1.1 1.1 0 1 0 2.2 0a1.1 1.1 0 1 0 -2.2 0M221.8 116.6a1.1 1.1 0 1 0 2.2 0a1.1 1.1 0 1 0 -2.2 0M213.7 100.7a1.1 1.1 0 1 0 2.2 0a1.1 1.1 0 1 0 -2.2 0M212.4 124.8a1.1 1.1 0 1 0 2.2 0a1.1 1.1 0 1 0 -2.2 0M224.8 104.3a1.1 1.1 0 1 0 2.2 0a1.1 1.1 0 1 0 -2.2 0M210.3 102.8a1.1 1.1 0 1 0 2.2 0a1.1 1.1 0 1 0 -2.2 0M212.6 95.1a1.1 1.1 0 1 0 2.2 0a1.1 1.1 0 1 0 -2.2 0M201.1 110.7a1.1 1.1 0 1 0 2.2 0a1.1 1.1 0 1 0 -2.2 0M218.3 98.2a1.1 1.1 0 1 0 2.2 0a1.1 1.1 0 1 0 -2.2 0M211.0 106.5a1.1 1.1 0 1 0 2.2 0a1.1 1.1 0 1 0 -2.2 0M205.9 100.5a1.1 1.1 0 1 0 2.2 0a1.1 1.1 0 1 0 -2.2 0M228.1 112.1a1.1 1.1 0 1 0 2.2 0a1.1 1.1 0 1 0 -2.2 0M231.9 90.1a1.1 1.1 0 1 0 2.2 0a1.1 1.1 0 1 0 -2.2 0M210.1 74.2a1.1 1.1 0 1 0 2.2 0a1.1 1.1 0 1 0 -2.2 0M199.0 103.4a1.1 1.1 0 1 0 2.2 0a1.1 1.1 0 1 0 -2.2 0M200.9 88.0a1.1 1.1 0 1 0 2.2 0a1.1 1.1 0 1 0 -2.2 0M211.5 89.3a1.1 1.1 0 1 0 2.2 0a1.1 1.1 0 1 0 -2.2 0M216.2 108.1a1.1 1.1 0 1 0 2.2 0a1.1 1.1 0 1 0 -2.2 0M220.6 99.7a1.1 1.1 0 1 0 2.2 0a1.1 1.1 0 1 0 -2.2 0M207.8 88.1a1.1 1.1 0 1 0 2.2 0a1.1 1.1 0 1 0 -2.2 0M202.4 99.2a1.1 1.1 0 1 0 2.2 0a1.1 1.1 0 1 0 -2.2 0M204.0 83.4a1.1 1.1 0 1 0 2.2 0a1.1 1.1 0 1 0 -2.2 0M221.6 76.7a1.1 1.1 0 1 0 2.2 0a1.1 1.1 0 1 0 -2.2 0M204.2 92.5a1.1 1.1 0 1 0 2.2 0a1.1 1.1 0 1 0 -2.2 0M205.0 78.1a1.1 1.1 0 1 0 2.2 0a1.1 1.1 0 1 0 -2.2 0M192.7 68.9a1.1 1.1 0 1 0 2.2 0a1.1 1.1 0 1 0 -2.2 0M209.8 92.4a1.1 1.1 0 1 0 2.2 0a1.1 1.1 0 1 0 -2.2 0M218.9 71.3a1.1 1.1 0 1 0 2.2 0a1.1 1.1 0 1 0 -2.2 0M218.9 71.1a1.1 1.1 0 1 0 2.2 0a1.1 1.1 0 1 0 -2.2 0M216.6 69.0a1.1 1.1 0 1 0 2.2 0a1.1 1.1 0 1 0 -2.2 0M228.8 84.4a1.1 1.1 0 1 0 2.2 0a1.1 1.1 0 1 0 -2.2 0M231.0 81.4a1.1 1.1 0 1 0 2.2 0a1.1 1.1 0 1 0 -2.2 0M216.1 94.0a1.1 1.1 0 1 0 2.2 0a1.1 1.1 0 1 0 -2.2 0M211.9 74.3a1.1 1.1 0 1 0 2.2 0a1.1 1.1 0 1 0 -2.2 0M200.7 75.8a1.1 1.1 0 1 0 2.2 0a1.1 1.1 0 1 0 -2.2 0M219.0 80.1a1.1 1.1 0 1 0 2.2 0a1.1 1.1 0 1 0 -2.2 0M190.8 84.5a1.1 1.1 0 1 0 2.2 0a1.1 1.1 0 1 0 -2.2 0M222.3 92.1a1.1 1.1 0 1 0 2.2 0a1.1 1.1 0 1 0 -2.2 0M216.1 110.9a1.1 1.1 0 1 0 2.2 0a1.1 1.1 0 1 0 -2.2 0M222.5 91.0a1.1 1.1 0 1 0 2.2 0a1.1 1.1 0 1 0 -2.2 0M224.7 104.7a1.1 1.1 0 1 0 2.2 0a1.1 1.1 0 1 0 -2.2 0M222.7 86.0a1.1 1.1 0 1 0 2.2 0a1.1 1.1 0 1 0 -2.2 0M224.0 94.0a1.1 1.1 0 1 0 2.2 0a1.1 1.1 0 1 0 -2.2 0M208.3 57.3a1.1 1.1 0 1 0 2.2 0a1.1 1.1 0 1 0 -2.2 0M206.0 91.5a1.1 1.1 0 1 0 2.2 0a1.1 1.1 0 1 0 -2.2 0M212.1 78.6a1.1 1.1 0 1 0 2.2 0a1.1 1.1 0 1 0 -2.2 0M228.2 46.7a1.1 1.1 0 1 0 2.2 0a1.1 1.1 0 1 0 -2.2 0M207.4 86.7a1.1 1.1 0 1 0 2.2 0a1.1 1.1 0 1 0 -2.2 0M228.0 53.9a1.1 1.1 0 1 0 2.2 0a1.1 1.1 0 1 0 -2.2 0M224.2 53.3a1.1 1.1 0 1 0 2.2 0a1.1 1.1 0 1 0 -2.2 0M205.6 68.7a1.1 1.1 0 1 0 2.2 0a1.1 1.1 0 1 0 -2.2 0M199.9 83.2a1.1 1.1 0 1 0 2.2 0a1.1 1.1 0 1 0 -2.2 0M225.9 74.5a1.1 1.1 0 1 0 2.2 0a1.1 1.1 0 1 0 -2.2 0M240.2 65.9a1.1 1.1 0 1 0 2.2 0a1.1 1.1 0 1 0 -2.2 0M208.1 57.5a1.1 1.1 0 1 0 2.2 0a1.1 1.1 0 1 0 -2.2 0M234.9 61.1a1.1 1.1 0 1 0 2.2 0a1.1 1.1 0 1 0 -2.2 0M201.7 62.4a1.1 1.1 0 1 0 2.2 0a1.1 1.1 0 1 0 -2.2 0M230.3 72.4a1.1 1.1 0 1 0 2.2 0a1.1 1.1 0 1 0 -2.2 0M206.6 54.9a1.1 1.1 0 1 0 2.2 0a1.1 1.1 0 1 0 -2.2 0M216.7 79.5a1.1 1.1 0 1 0 2.2 0a1.1 1.1 0 1 0 -2.2 0M210.9 75.5a1.1 1.1 0 1 0 2.2 0a1.1 1.1 0 1 0 -2.2 0M218.4 65.4a1.1 1.1 0 1 0 2.2 0a1.1 1.1 0 1 0 -2.2 0M227.8 58.5a1.1 1.1 0 1 0 2.2 0a1.1 1.1 0 1 0 -2.2 0M197.9 62.0a1.1 1.1 0 1 0 2.2 0a1.1 1.1 0 1 0 -2.2 0M225.0 61.4a1.1 1.1 0 1 0 2.2 0a1.1 1.1 0 1 0 -2.2 0M226.5 73.1a1.1 1.1 0 1 0 2.2 0a1.1 1.1 0 1 0 -2.2 0M204.6 55.9a1.1 1.1 0 1 0 2.2 0a1.1 1.1 0 1 0 -2.2 0M203.4 91.8a1.1 1.1 0 1 0 2.2 0a1.1 1.1 0 1 0 -2.2 0M226.4 75.1a1.1 1.1 0 1 0 2.2 0a1.1 1.1 0 1 0 -2.2 0M211.7 82.9a1.1 1.1 0 1 0 2.2 0a1.1 1.1 0 1 0 -2.2 0M200.5 80.1a1.1 1.1 0 1 0 2.2 0a1.1 1.1 0 1 0 -2.2 0M211.1 62.4a1.1 1.1 0 1 0 2.2 0a1.1 1.1 0 1 0 -2.2 0M189.8 58.0a1.1 1.1 0 1 0 2.2 0a1.1 1.1 0 1 0 -2.2 0M202.1 79.1a1.1 1.1 0 1 0 2.2 0a1.1 1.1 0 1 0 -2.2 0M222.6 67.6a1.1 1.1 0 1 0 2.2 0a1.1 1.1 0 1 0 -2.2 0M198.2 45.3a1.1 1.1 0 1 0 2.2 0a1.1 1.1 0 1 0 -2.2 0M205.6 63.8a1.1 1.1 0 1 0 2.2 0a1.1 1.1 0 1 0 -2.2 0M217.3 33.8a1.1 1.1 0 1 0 2.2 0a1.1 1.1 0 1 0 -2.2 0M210.1 38.4a1.1 1.1 0 1 0 2.2 0a1.1 1.1 0 1 0 -2.2 0M206.9 37.1a1.1 1.1 0 1 0 2.2 0a1.1 1.1 0 1 0 -2.2 0M206.7 54.3a1.1 1.1 0 1 0 2.2 0a1.1 1.1 0 1 0 -2.2 0M236.0 46.5a1.1 1.1 0 1 0 2.2 0a1.1 1.1 0 1 0 -2.2 0M216.3 24.1a1.1 1.1 0 1 0 2.2 0a1.1 1.1 0 1 0 -2.2 0M219.1 59.6a1.1 1.1 0 1 0 2.2 0a1.1 1.1 0 1 0 -2.2 0M223.2 63.9a1.1 1.1 0 1 0 2.2 0a1.1 1.1 0 1 0 -2.2 0M227.5 36.2a1.1 1.1 0 1 0 2.2 0a1.1 1.1 0 1 0 -2.2 0M208.8 57.4a1.1 1.1 0 1 0 2.2 0a1.1 1.1 0 1 0 -2.2 0M217.1 50.0a1.1 1.1 0 1 0 2.2 0a1.1 1.1 0 1 0 -2.2 0M204.3 43.6a1.1 1.1 0 1 0 2.2 0a1.1 1.1 0 1 0 -2.2 0M192.6 55.2a1.1 1.1 0 1 0 2.2 0a1.1 1.1 0 1 0 -2.2 0M210.7 53.3a1.1 1.1 0 1 0 2.2 0a1.1 1.1 0 1 0 -2.2 0M218.5 64.4a1.1 1.1 0 1 0 2.2 0a1.1 1.1 0 1 0 -2.2 0M221.6 52.2a1.1 1.1 0 1 0 2.2 0a1.1 1.1 0 1 0 -2.2 0M208.0 66.0a1.1 1.1 0 1 0 2.2 0a1.1 1.1 0 1 0 -2.2 0M202.1 46.0a1.1 1.1 0 1 0 2.2 0a1.1 1.1 0 1 0 -2.2 0M204.5 49.4a1.1 1.1 0 1 0 2.2 0a1.1 1.1 0 1 0 -2.2 0M226.8 38.2a1.1 1.1 0 1 0 2.2 0a1.1 1.1 0 1 0 -2.2 0M232.3 53.6a1.1 1.1 0 1 0 2.2 0a1.1 1.1 0 1 0 -2.2 0M203.2 38.3a1.1 1.1 0 1 0 2.2 0a1.1 1.1 0 1 0 -2.2 0M218.5 37.1a1.1 1.1 0 1 0 2.2 0a1.1 1.1 0 1 0 -2.2 0M215.2 36.3a1.1 1.1 0 1 0 2.2 0a1.1 1.1 0 1 0 -2.2 0M224.4 41.8a1.1 1.1 0 1 0 2.2 0a1.1 1.1 0 1 0 -2.2 0M220.7 45.5a1.1 1.1 0 1 0 2.2 0a1.1 1.1 0 1 0 -2.2 0M217.7 47.5a1.1 1.1 0 1 0 2.2 0a1.1 1.1 0 1 0 -2.2 0M226.0 56.1a1.1 1.1 0 1 0 2.2 0a1.1 1.1 0 1 0 -2.2 0M234.2 51.4a1.1 1.1 0 1 0 2.2 0a1.1 1.1 0 1 0 -2.2 0M226.0 51.2a1.1 1.1 0 1 0 2.2 0a1.1 1.1 0 1 0 -2.2 0M212.4 26.6a1.1 1.1 0 1 0 2.2 0a1.1 1.1 0 1 0 -2.2 0M211.7 65.0a1.1 1.1 0 1 0 2.2 0a1.1 1.1 0 1 0 -2.2 0M223.0 103.5a1.1 1.1 0 1 0 2.2 0a1.1 1.1 0 1 0 -2.2 0M254.6 97.5a1.1 1.1 0 1 0 2.2 0a1.1 1.1 0 1 0 -2.2 0M241.1 111.5a1.1 1.1 0 1 0 2.2 0a1.1 1.1 0 1 0 -2.2 0M234.7 92.1a1.1 1.1 0 1 0 2.2 0a1.1 1.1 0 1 0 -2.2 0M250.7 107.9a1.1 1.1 0 1 0 2.2 0a1.1 1.1 0 1 0 -2.2 0M237.5 96.3a1.1 1.1 0 1 0 2.2 0a1.1 1.1 0 1 0 -2.2 0M219.6 100.1a1.1 1.1 0 1 0 2.2 0a1.1 1.1 0 1 0 -2.2 0M227.9 126.8a1.1 1.1 0 1 0 2.2 0a1.1 1.1 0 1 0 -2.2 0M237.4 93.6a1.1 1.1 0 1 0 2.2 0a1.1 1.1 0 1 0 -2.2 0M226.0 115.4a1.1 1.1 0 1 0 2.2 0a1.1 1.1 0 1 0 -2.2 0M247.1 96.8a1.1 1.1 0 1 0 2.2 0a1.1 1.1 0 1 0 -2.2 0M242.0 83.5a1.1 1.1 0 1 0 2.2 0a1.1 1.1 0 1 0 -2.2 0M225.1 90.4a1.1 1.1 0 1 0 2.2 0a1.1 1.1 0 1 0 -2.2 0M228.2 100.6a1.1 1.1 0 1 0 2.2 0a1.1 1.1 0 1 0 -2.2 0M229.9 99.9a1.1 1.1 0 1 0 2.2 0a1.1 1.1 0 1 0 -2.2 0M243.1 98.4a1.1 1.1 0 1 0 2.2 0a1.1 1.1 0 1 0 -2.2 0M229.2 103.1a1.1 1.1 0 1 0 2.2 0a1.1 1.1 0 1 0 -2.2 0M234.6 110.2a1.1 1.1 0 1 0 2.2 0a1.1 1.1 0 1 0 -2.2 0M225.3 100.5a1.1 1.1 0 1 0 2.2 0a1.1 1.1 0 1 0 -2.2 0M224.6 101.2a1.1 1.1 0 1 0 2.2 0a1.1 1.1 0 1 0 -2.2 0M224.1 76.6a1.1 1.1 0 1 0 2.2 0a1.1 1.1 0 1 0 -2.2 0M245.5 94.6a1.1 1.1 0 1 0 2.2 0a1.1 1.1 0 1 0 -2.2 0M230.3 74.4a1.1 1.1 0 1 0 2.2 0a1.1 1.1 0 1 0 -2.2 0M234.4 100.9a1.1 1.1 0 1 0 2.2 0a1.1 1.1 0 1 0 -2.2 0M234.2 96.3a1.1 1.1 0 1 0 2.2 0a1.1 1.1 0 1 0 -2.2 0M246.4 100.1a1.1 1.1 0 1 0 2.2 0a1.1 1.1 0 1 0 -2.2 0M254.0 110.1a1.1 1.1 0 1 0 2.2 0a1.1 1.1 0 1 0 -2.2 0M238.5 111.5a1.1 1.1 0 1 0 2.2 0a1.1 1.1 0 1 0 -2.2 0M250.8 103.7a1.1 1.1 0 1 0 2.2 0a1.1 1.1 0 1 0 -2.2 0M230.2 89.1a1.1 1.1 0 1 0 2.2 0a1.1 1.1 0 1 0 -2.2 0M244.7 112.8a1.1 1.1 0 1 0 2.2 0a1.1 1.1 0 1 0 -2.2 0M227.0 116.0a1.1 1.1 0 1 0 2.2 0a1.1 1.1 0 1 0 -2.2 0M232.4 84.5a1.1 1.1 0 1 0 2.2 0a1.1 1.1 0 1 0 -2.2 0M227.0 91.2a1.1 1.1 0 1 0 2.2 0a1.1 1.1 0 1 0 -2.2 0M226.6 91.9a1.1 1.1 0 1 0 2.2 0a1.1 1.1 0 1 0 -2.2 0M236.7 65.7a1.1 1.1 0 1 0 2.2 0a1.1 1.1 0 1 0 -2.2 0M209.6 84.6a1.1 1.1 0 1 0 2.2 0a1.1 1.1 0 1 0 -2.2 0M226.2 77.6a1.1 1.1 0 1 0 2.2 0a1.1 1.1 0 1 0 -2.2 0M220.4 85.0a1.1 1.1 0 1 0 2.2 0a1.1 1.1 0 1 0 -2.2 0M219.4 75.2a1.1 1.1 0 1 0 2.2 0a1.1 1.1 0 1 0 -2.2 0M231.9 85.2a1.1 1.1 0 1 0 2.2 0a1.1 1.1 0 1 0 -2.2 0M234.9 86.1a1.1 1.1 0 1 0 2.2 0a1.1 1.1 0 1 0 -2.2 0M213.7 76.4a1.1 1.1 0 1 0 2.2 0a1.1 1.1 0 1 0 -2.2 0M234.0 85.1a1.1 1.1 0 1 0 2.2 0a1.1 1.1 0 1 0 -2.2 0M241.7 69.2a1.1 1.1 0 1 0 2.2 0a1.1 1.1 0 1 0 -2.2 0M218.8 92.3a1.1 1.1 0 1 0 2.2 0a1.1 1.1 0 1 0 -2.2 0M247.9 66.8a1.1 1.1 0 1 0 2.2 0a1.1 1.1 0 1 0 -2.2 0M222.7 97.0a1.1 1.1 0 1 0 2.2 0a1.1 1.1 0 1 0 -2.2 0M223.8 89.1a1.1 1.1 0 1 0 2.2 0a1.1 1.1 0 1 0 -2.2 0M213.4 82.9a1.1 1.1 0 1 0 2.2 0a1.1 1.1 0 1 0 -2.2 0M216.7 97.3a1.1 1.1 0 1 0 2.2 0a1.1 1.1 0 1 0 -2.2 0M240.9 91.2a1.1 1.1 0 1 0 2.2 0a1.1 1.1 0 1 0 -2.2 0M230.1 76.0a1.1 1.1 0 1 0 2.2 0a1.1 1.1 0 1 0 -2.2 0M239.8 87.2a1.1 1.1 0 1 0 2.2 0a1.1 1.1 0 1 0 -2.2 0M231.3 92.9a1.1 1.1 0 1 0 2.2 0a1.1 1.1 0 1 0 -2.2 0M250.1 75.7a1.1 1.1 0 1 0 2.2 0a1.1 1.1 0 1 0 -2.2 0M218.7 83.2a1.1 1.1 0 1 0 2.2 0a1.1 1.1 0 1 0 -2.2 0M238.7 77.7a1.1 1.1 0 1 0 2.2 0a1.1 1.1 0 1 0 -2.2 0M251.0 67.4a1.1 1.1 0 1 0 2.2 0a1.1 1.1 0 1 0 -2.2 0M224.9 84.3a1.1 1.1 0 1 0 2.2 0a1.1 1.1 0 1 0 -2.2 0M216.7 80.4a1.1 1.1 0 1 0 2.2 0a1.1 1.1 0 1 0 -2.2 0M232.5 51.9a1.1 1.1 0 1 0 2.2 0a1.1 1.1 0 1 0 -2.2 0M231.9 107.6a1.1 1.1 0 1 0 2.2 0a1.1 1.1 0 1 0 -2.2 0M223.4 82.0a1.1 1.1 0 1 0 2.2 0a1.1 1.1 0 1 0 -2.2 0M217.0 76.8a1.1 1.1 0 1 0 2.2 0a1.1 1.1 0 1 0 -2.2 0M226.8 62.7a1.1 1.1 0 1 0 2.2 0a1.1 1.1 0 1 0 -2.2 0M229.0 77.0a1.1 1.1 0 1 0 2.2 0a1.1 1.1 0 1 0 -2.2 0M239.5 73.0a1.1 1.1 0 1 0 2.2 0a1.1 1.1 0 1 0 -2.2 0M225.3 82.7a1.1 1.1 0 1 0 2.2 0a1.1 1.1 0 1 0 -2.2 0M222.2 59.2a1.1 1.1 0 1 0 2.2 0a1.1 1.1 0 1 0 -2.2 0M213.0 67.5a1.1 1.1 0 1 0 2.2 0a1.1 1.1 0 1 0 -2.2 0M238.7 71.1a1.1 1.1 0 1 0 2.2 0a1.1 1.1 0 1 0 -2.2 0M233.5 79.7a1.1 1.1 0 1 0 2.2 0a1.1 1.1 0 1 0 -2.2 0M245.3 53.9a1.1 1.1 0 1 0 2.2 0a1.1 1.1 0 1 0 -2.2 0M233.4 87.1a1.1 1.1 0 1 0 2.2 0a1.1 1.1 0 1 0 -2.2 0M219.3 55.4a1.1 1.1 0 1 0 2.2 0a1.1 1.1 0 1 0 -2.2 0M249.7 63.3a1.1 1.1 0 1 0 2.2 0a1.1 1.1 0 1 0 -2.2 0M244.6 73.8a1.1 1.1 0 1 0 2.2 0a1.1 1.1 0 1 0 -2.2 0M228.8 66.7a1.1 1.1 0 1 0 2.2 0a1.1 1.1 0 1 0 -2.2 0M235.5 84.4a1.1 1.1 0 1 0 2.2 0a1.1 1.1 0 1 0 -2.2 0M241.2 51.4a1.1 1.1 0 1 0 2.2 0a1.1 1.1 0 1 0 -2.2 0M218.2 82.4a1.1 1.1 0 1 0 2.2 0a1.1 1.1 0 1 0 -2.2 0M234.7 74.3a1.1 1.1 0 1 0 2.2 0a1.1 1.1 0 1 0 -2.2 0M204.7 57.3a1.1 1.1 0 1 0 2.2 0a1.1 1.1 0 1 0 -2.2 0M232.6 72.2a1.1 1.1 0 1 0 2.2 0a1.1 1.1 0 1 0 -2.2 0M254.1 65.1a1.1 1.1 0 1 0 2.2 0a1.1 1.1 0 1 0 -2.2 0M222.5 65.5a1.1 1.1 0 1 0 2.2 0a1.1 1.1 0 1 0 -2.2 0M219.4 75.6a1.1 1.1 0 1 0 2.2 0a1.1 1.1 0 1 0 -2.2 0M235.1 73.1a1.1 1.1 0 1 0 2.2 0a1.1 1.1 0 1 0 -2.2 0M225.9 47.4a1.1 1.1 0 1 0 2.2 0a1.1 1.1 0 1 0 -2.2 0M240.3 57.4a1.1 1.1 0 1 0 2.2 0a1.1 1.1 0 1 0 -2.2 0M236.7 61.1a1.1 1.1 0 1 0 2.2 0a1.1 1.1 0 1 0 -2.2 0M246.9 66.9a1.1 1.1 0 1 0 2.2 0a1.1 1.1 0 1 0 -2.2 0M251.3 77.8a1.1 1.1 0 1 0 2.2 0a1.1 1.1 0 1 0 -2.2 0M228.0 82.7a1.1 1.1 0 1 0 2.2 0a1.1 1.1 0 1 0 -2.2 0M227.1 60.7a1.1 1.1 0 1 0 2.2 0a1.1 1.1 0 1 0 -2.2 0M246.8 57.8a1.1 1.1 0 1 0 2.2 0a1.1 1.1 0 1 0 -2.2 0M230.9 54.3a1.1 1.1 0 1 0 2.2 0a1.1 1.1 0 1 0 -2.2 0M222.7 63.9a1.1 1.1 0 1 0 2.2 0a1.1 1.1 0 1 0 -2.2 0M231.5 70.2a1.1 1.1 0 1 0 2.2 0a1.1 1.1 0 1 0 -2.2 0M232.1 49.9a1.1 1.1 0 1 0 2.2 0a1.1 1.1 0 1 0 -2.2 0M223.6 61.9a1.1 1.1 0 1 0 2.2 0a1.1 1.1 0 1 0 -2.2 0M215.6 28.4a1.1 1.1 0 1 0 2.2 0a1.1 1.1 0 1 0 -2.2 0M216.1 32.1a1.1 1.1 0 1 0 2.2 0a1.1 1.1 0 1 0 -2.2 0M237.5 54.4a1.1 1.1 0 1 0 2.2 0a1.1 1.1 0 1 0 -2.2 0M218.1 38.0a1.1 1.1 0 1 0 2.2 0a1.1 1.1 0 1 0 -2.2 0M249.9 61.0a1.1 1.1 0 1 0 2.2 0a1.1 1.1 0 1 0 -2.2 0M227.6 37.9a1.1 1.1 0 1 0 2.2 0a1.1 1.1 0 1 0 -2.2 0M234.5 26.9a1.1 1.1 0 1 0 2.2 0a1.1 1.1 0 1 0 -2.2 0M224.6 43.9a1.1 1.1 0 1 0 2.2 0a1.1 1.1 0 1 0 -2.2 0M217.1 25.8a1.1 1.1 0 1 0 2.2 0a1.1 1.1 0 1 0 -2.2 0M222.8 75.8a1.1 1.1 0 1 0 2.2 0a1.1 1.1 0 1 0 -2.2 0M229.5 51.8a1.1 1.1 0 1 0 2.2 0a1.1 1.1 0 1 0 -2.2 0M251.9 54.1a1.1 1.1 0 1 0 2.2 0a1.1 1.1 0 1 0 -2.2 0M230.7 43.3a1.1 1.1 0 1 0 2.2 0a1.1 1.1 0 1 0 -2.2 0M248.3 50.9a1.1 1.1 0 1 0 2.2 0a1.1 1.1 0 1 0 -2.2 0M242.3 44.1a1.1 1.1 0 1 0 2.2 0a1.1 1.1 0 1 0 -2.2 0M227.6 49.2a1.1 1.1 0 1 0 2.2 0a1.1 1.1 0 1 0 -2.2 0M231.2 60.8a1.1 1.1 0 1 0 2.2 0a1.1 1.1 0 1 0 -2.2 0M244.2 66.2a1.1 1.1 0 1 0 2.2 0a1.1 1.1 0 1 0 -2.2 0M243.7 39.1a1.1 1.1 0 1 0 2.2 0a1.1 1.1 0 1 0 -2.2 0M229.8 59.0a1.1 1.1 0 1 0 2.2 0a1.1 1.1 0 1 0 -2.2 0M228.3 44.7a1.1 1.1 0 1 0 2.2 0a1.1 1.1 0 1 0 -2.2 0M239.0 46.8a1.1 1.1 0 1 0 2.2 0a1.1 1.1 0 1 0 -2.2 0M241.8 56.6a1.1 1.1 0 1 0 2.2 0a1.1 1.1 0 1 0 -2.2 0M233.4 68.3a1.1 1.1 0 1 0 2.2 0a1.1 1.1 0 1 0 -2.2 0M239.3 48.4a1.1 1.1 0 1 0 2.2 0a1.1 1.1 0 1 0 -2.2 0M226.3 36.7a1.1 1.1 0 1 0 2.2 0a1.1 1.1 0 1 0 -2.2 0" fill="#0000ff"/>
<rect x="228.3" y="20.5" width="33.1" height="6.4" fill="#fff" stroke="#7a7a7a" stroke-width="0.75"/>
<circle cx="235.1" cy="23.7" r="1.2" fill="#0000ff"/>
<text x="241" y="25.1" class="lg" textLength="18.9" lengthAdjust="spacingAndGlyphs">Complex Data</text>
<text x="180.4" y="14.8" class="tt" textLength="54.3" lengthAdjust="spacingAndGlyphs">Distorted 16QAM Constellation</text>
<text x="246.8" y="7.2" class="inf" style="font-size:4.77px" textLength="35.2" lengthAdjust="spacing">SMF = 100 km</text>
<text x="246.8" y="14.3" class="inf" style="font-size:4.72px" textLength="33.7" lengthAdjust="spacing">EVM = 25.4 %</text>
<text x="211.1" y="147" class="sl" textLength="8.2" lengthAdjust="spacingAndGlyphs">(b)</text>
<path d="M284 42.1H401" stroke="#8a8a8a" stroke-width="0.8" stroke-dasharray="1.6 1.2" fill="none"/>
<path d="M284 76.6H401" stroke="#bdbdbd" stroke-width="0.8" stroke-dasharray="1 1" fill="none"/>
<path d="M284 88H401" stroke="#bdbdbd" stroke-width="0.8" stroke-dasharray="1 1" fill="none"/>
<path d="M284 19.2V133.9H401" stroke="#858585" stroke-width="1" fill="none"/>
<path d="M284 133.9v-1.2M313.2 133.9v-1.2M342.5 133.9v-1.2M371.8 133.9v-1.2M401 133.9v-1.2M284 133.9h1.2M284 122.4h1.2M284 111h1.2M284 99.5h1.2M284 88h1.2M284 76.6h1.2M284 65.1h1.2M284 53.6h1.2M284 42.1h1.2M284 30.7h1.2M284 19.2h1.2" stroke="#555" stroke-width="0.8" fill="none"/>
<text x="284" y="140.4" class="tl" text-anchor="middle">-10</text>
<text x="313.2" y="140.4" class="tl" text-anchor="middle">-5</text>
<text x="342.5" y="140.4" class="tl" text-anchor="middle">0</text>
<text x="371.8" y="140.4" class="tl" text-anchor="middle">5</text>
<text x="401" y="140.4" class="tl" text-anchor="middle">10</text>
<text x="282.5" y="135.4" class="tl" text-anchor="end">-10</text>
<text x="282.5" y="123.9" class="tl" text-anchor="end">-8</text>
<text x="282.5" y="112.5" class="tl" text-anchor="end">-6</text>
<text x="282.5" y="101" class="tl" text-anchor="end">-4</text>
<text x="282.5" y="89.5" class="tl" text-anchor="end">-2</text>
<text x="282.5" y="78.1" class="tl" text-anchor="end">0</text>
<text x="282.5" y="66.6" class="tl" text-anchor="end">2</text>
<text x="282.5" y="55.1" class="tl" text-anchor="end">4</text>
<text x="282.5" y="43.6" class="tl" text-anchor="end">6</text>
<text x="282.5" y="32.2" class="tl" text-anchor="end">8</text>
<text x="282.5" y="20.7" class="tl" text-anchor="end">10</text>
<path d="M300.8 127.5a1.1 1.1 0 1 0 2.2 0a1.1 1.1 0 1 0 -2.2 0M308.6 98.1a1.1 1.1 0 1 0 2.2 0a1.1 1.1 0 1 0 -2.2 0M296.5 116.1a1.1 1.1 0 1 0 2.2 0a1.1 1.1 0 1 0 -2.2 0M298.5 114.1a1.1 1.1 0 1 0 2.2 0a1.1 1.1 0 1 0 -2.2 0M305.4 107.1a1.1 1.1 0 1 0 2.2 0a1.1 1.1 0 1 0 -2.2 0M292.9 105.0a1.1 1.1 0 1 0 2.2 0a1.1 1.1 0 1 0 -2.2 0M293.4 114.6a1.1 1.1 0 1 0 2.2 0a1.1 1.1 0 1 0 -2.2 0M309.3 111.4a1.1 1.1 0 1 0 2.2 0a1.1 1.1 0 1 0 -2.2 0M293.3 110.5a1.1 1.1 0 1 0 2.2 0a1.1 1.1 0 1 0 -2.2 0M296.9 105.6a1.1 1.1 0 1 0 2.2 0a1.1 1.1 0 1 0 -2.2 0M309.2 114.9a1.1 1.1 0 1 0 2.2 0a1.1 1.1 0 1 0 -2.2 0M304.0 100.7a1.1 1.1 0 1 0 2.2 0a1.1 1.1 0 1 0 -2.2 0M304.7 101.7a1.1 1.1 0 1 0 2.2 0a1.1 1.1 0 1 0 -2.2 0M312.0 101.6a1.1 1.1 0 1 0 2.2 0a1.1 1.1 0 1 0 -2.2 0M307.0 101.0a1.1 1.1 0 1 0 2.2 0a1.1 1.1 0 1 0 -2.2 0M314.1 119.4a1.1 1.1 0 1 0 2.2 0a1.1 1.1 0 1 0 -2.2 0M310.2 107.2a1.1 1.1 0 1 0 2.2 0a1.1 1.1 0 1 0 -2.2 0M298.3 101.0a1.1 1.1 0 1 0 2.2 0a1.1 1.1 0 1 0 -2.2 0M286.2 96.6a1.1 1.1 0 1 0 2.2 0a1.1 1.1 0 1 0 -2.2 0M295.2 90.1a1.1 1.1 0 1 0 2.2 0a1.1 1.1 0 1 0 -2.2 0M289.3 83.1a1.1 1.1 0 1 0 2.2 0a1.1 1.1 0 1 0 -2.2 0M302.5 95.6a1.1 1.1 0 1 0 2.2 0a1.1 1.1 0 1 0 -2.2 0M295.1 99.6a1.1 1.1 0 1 0 2.2 0a1.1 1.1 0 1 0 -2.2 0M291.9 97.8a1.1 1.1 0 1 0 2.2 0a1.1 1.1 0 1 0 -2.2 0M300.5 95.1a1.1 1.1 0 1 0 2.2 0a1.1 1.1 0 1 0 -2.2 0M289.7 95.7a1.1 1.1 0 1 0 2.2 0a1.1 1.1 0 1 0 -2.2 0M293.7 81.1a1.1 1.1 0 1 0 2.2 0a1.1 1.1 0 1 0 -2.2 0M314.6 77.6a1.1 1.1 0 1 0 2.2 0a1.1 1.1 0 1 0 -2.2 0M298.1 94.4a1.1 1.1 0 1 0 2.2 0a1.1 1.1 0 1 0 -2.2 0M289.7 94.9a1.1 1.1 0 1 0 2.2 0a1.1 1.1 0 1 0 -2.2 0M306.0 88.0a1.1 1.1 0 1 0 2.2 0a1.1 1.1 0 1 0 -2.2 0M300.9 86.9a1.1 1.1 0 1 0 2.2 0a1.1 1.1 0 1 0 -2.2 0M301.1 71.8a1.1 1.1 0 1 0 2.2 0a1.1 1.1 0 1 0 -2.2 0M295.2 84.8a1.1 1.1 0 1 0 2.2 0a1.1 1.1 0 1 0 -2.2 0M294.3 75.8a1.1 1.1 0 1 0 2.2 0a1.1 1.1 0 1 0 -2.2 0M292.6 79.3a1.1 1.1 0 1 0 2.2 0a1.1 1.1 0 1 0 -2.2 0M289.9 81.3a1.1 1.1 0 1 0 2.2 0a1.1 1.1 0 1 0 -2.2 0M304.0 51.7a1.1 1.1 0 1 0 2.2 0a1.1 1.1 0 1 0 -2.2 0M292.9 63.7a1.1 1.1 0 1 0 2.2 0a1.1 1.1 0 1 0 -2.2 0M302.4 79.0a1.1 1.1 0 1 0 2.2 0a1.1 1.1 0 1 0 -2.2 0M298.3 72.6a1.1 1.1 0 1 0 2.2 0a1.1 1.1 0 1 0 -2.2 0M295.2 56.4a1.1 1.1 0 1 0 2.2 0a1.1 1.1 0 1 0 -2.2 0M286.0 68.0a1.1 1.1 0 1 0 2.2 0a1.1 1.1 0 1 0 -2.2 0M303.0 75.1a1.1 1.1 0 1 0 2.2 0a1.1 1.1 0 1 0 -2.2 0M301.6 52.8a1.1 1.1 0 1 0 2.2 0a1.1 1.1 0 1 0 -2.2 0M301.6 56.2a1.1 1.1 0 1 0 2.2 0a1.1 1.1 0 1 0 -2.2 0M305.7 74.5a1.1 1.1 0 1 0 2.2 0a1.1 1.1 0 1 0 -2.2 0M311.7 42.4a1.1 1.1 0 1 0 2.2 0a1.1 1.1 0 1 0 -2.2 0M307.9 51.8a1.1 1.1 0 1 0 2.2 0a1.1 1.1 0 1 0 -2.2 0M289.7 60.2a1.1 1.1 0 1 0 2.2 0a1.1 1.1 0 1 0 -2.2 0M294.3 63.7a1.1 1.1 0 1 0 2.2 0a1.1 1.1 0 1 0 -2.2 0M307.8 65.3a1.1 1.1 0 1 0 2.2 0a1.1 1.1 0 1 0 -2.2 0M299.5 73.6a1.1 1.1 0 1 0 2.2 0a1.1 1.1 0 1 0 -2.2 0M299.2 47.2a1.1 1.1 0 1 0 2.2 0a1.1 1.1 0 1 0 -2.2 0M295.1 53.2a1.1 1.1 0 1 0 2.2 0a1.1 1.1 0 1 0 -2.2 0M314.8 56.9a1.1 1.1 0 1 0 2.2 0a1.1 1.1 0 1 0 -2.2 0M292.5 53.9a1.1 1.1 0 1 0 2.2 0a1.1 1.1 0 1 0 -2.2 0M309.6 32.2a1.1 1.1 0 1 0 2.2 0a1.1 1.1 0 1 0 -2.2 0M303.0 53.2a1.1 1.1 0 1 0 2.2 0a1.1 1.1 0 1 0 -2.2 0M297.2 39.9a1.1 1.1 0 1 0 2.2 0a1.1 1.1 0 1 0 -2.2 0M293.5 37.0a1.1 1.1 0 1 0 2.2 0a1.1 1.1 0 1 0 -2.2 0M311.2 47.4a1.1 1.1 0 1 0 2.2 0a1.1 1.1 0 1 0 -2.2 0M305.4 30.8a1.1 1.1 0 1 0 2.2 0a1.1 1.1 0 1 0 -2.2 0M312.3 44.2a1.1 1.1 0 1 0 2.2 0a1.1 1.1 0 1 0 -2.2 0M309.4 39.2a1.1 1.1 0 1 0 2.2 0a1.1 1.1 0 1 0 -2.2 0M294.6 35.6a1.1 1.1 0 1 0 2.2 0a1.1 1.1 0 1 0 -2.2 0M298.8 43.8a1.1 1.1 0 1 0 2.2 0a1.1 1.1 0 1 0 -2.2 0M288.3 43.4a1.1 1.1 0 1 0 2.2 0a1.1 1.1 0 1 0 -2.2 0M311.5 21.8a1.1 1.1 0 1 0 2.2 0a1.1 1.1 0 1 0 -2.2 0M305.4 27.6a1.1 1.1 0 1 0 2.2 0a1.1 1.1 0 1 0 -2.2 0M296.5 37.0a1.1 1.1 0 1 0 2.2 0a1.1 1.1 0 1 0 -2.2 0M314.3 124.8a1.1 1.1 0 1 0 2.2 0a1.1 1.1 0 1 0 -2.2 0M304.6 116.0a1.1 1.1 0 1 0 2.2 0a1.1 1.1 0 1 0 -2.2 0M309.7 124.6a1.1 1.1 0 1 0 2.2 0a1.1 1.1 0 1 0 -2.2 0M315.1 118.7a1.1 1.1 0 1 0 2.2 0a1.1 1.1 0 1 0 -2.2 0M319.9 116.7a1.1 1.1 0 1 0 2.2 0a1.1 1.1 0 1 0 -2.2 0M309.9 115.7a1.1 1.1 0 1 0 2.2 0a1.1 1.1 0 1 0 -2.2 0M310.8 121.7a1.1 1.1 0 1 0 2.2 0a1.1 1.1 0 1 0 -2.2 0M309.1 111.1a1.1 1.1 0 1 0 2.2 0a1.1 1.1 0 1 0 -2.2 0M317.1 107.1a1.1 1.1 0 1 0 2.2 0a1.1 1.1 0 1 0 -2.2 0M299.3 108.2a1.1 1.1 0 1 0 2.2 0a1.1 1.1 0 1 0 -2.2 0M309.0 103.9a1.1 1.1 0 1 0 2.2 0a1.1 1.1 0 1 0 -2.2 0M308.7 109.1a1.1 1.1 0 1 0 2.2 0a1.1 1.1 0 1 0 -2.2 0M318.1 103.9a1.1 1.1 0 1 0 2.2 0a1.1 1.1 0 1 0 -2.2 0M303.3 95.3a1.1 1.1 0 1 0 2.2 0a1.1 1.1 0 1 0 -2.2 0M319.7 109.5a1.1 1.1 0 1 0 2.2 0a1.1 1.1 0 1 0 -2.2 0M318.5 110.7a1.1 1.1 0 1 0 2.2 0a1.1 1.1 0 1 0 -2.2 0M320.7 106.8a1.1 1.1 0 1 0 2.2 0a1.1 1.1 0 1 0 -2.2 0M306.0 108.0a1.1 1.1 0 1 0 2.2 0a1.1 1.1 0 1 0 -2.2 0M306.3 92.3a1.1 1.1 0 1 0 2.2 0a1.1 1.1 0 1 0 -2.2 0M313.5 93.5a1.1 1.1 0 1 0 2.2 0a1.1 1.1 0 1 0 -2.2 0M307.9 121.1a1.1 1.1 0 1 0 2.2 0a1.1 1.1 0 1 0 -2.2 0M312.9 107.9a1.1 1.1 0 1 0 2.2 0a1.1 1.1 0 1 0 -2.2 0M314.0 85.3a1.1 1.1 0 1 0 2.2 0a1.1 1.1 0 1 0 -2.2 0M314.2 96.7a1.1 1.1 0 1 0 2.2 0a1.1 1.1 0 1 0 -2.2 0M310.8 94.7a1.1 1.1 0 1 0 2.2 0a1.1 1.1 0 1 0 -2.2 0M308.0 98.1a1.1 1.1 0 1 0 2.2 0a1.1 1.1 0 1 0 -2.2 0M305.1 84.9a1.1 1.1 0 1 0 2.2 0a1.1 1.1 0 1 0 -2.2 0M312.0 75.2a1.1 1.1 0 1 0 2.2 0a1.1 1.1 0 1 0 -2.2 0M310.2 81.7a1.1 1.1 0 1 0 2.2 0a1.1 1.1 0 1 0 -2.2 0M310.9 78.8a1.1 1.1 0 1 0 2.2 0a1.1 1.1 0 1 0 -2.2 0M318.4 80.5a1.1 1.1 0 1 0 2.2 0a1.1 1.1 0 1 0 -2.2 0M307.0 88.1a1.1 1.1 0 1 0 2.2 0a1.1 1.1 0 1 0 -2.2 0M324.8 84.4a1.1 1.1 0 1 0 2.2 0a1.1 1.1 0 1 0 -2.2 0M309.9 71.4a1.1 1.1 0 1 0 2.2 0a1.1 1.1 0 1 0 -2.2 0M320.4 78.3a1.1 1.1 0 1 0 2.2 0a1.1 1.1 0 1 0 -2.2 0M309.1 64.7a1.1 1.1 0 1 0 2.2 0a1.1 1.1 0 1 0 -2.2 0M315.1 66.7a1.1 1.1 0 1 0 2.2 0a1.1 1.1 0 1 0 -2.2 0M310.8 81.4a1.1 1.1 0 1 0 2.2 0a1.1 1.1 0 1 0 -2.2 0M302.0 67.8a1.1 1.1 0 1 0 2.2 0a1.1 1.1 0 1 0 -2.2 0M315.1 72.6a1.1 1.1 0 1 0 2.2 0a1.1 1.1 0 1 0 -2.2 0M303.2 81.6a1.1 1.1 0 1 0 2.2 0a1.1 1.1 0 1 0 -2.2 0M309.7 81.7a1.1 1.1 0 1 0 2.2 0a1.1 1.1 0 1 0 -2.2 0M319.0 62.2a1.1 1.1 0 1 0 2.2 0a1.1 1.1 0 1 0 -2.2 0M333.7 64.3a1.1 1.1 0 1 0 2.2 0a1.1 1.1 0 1 0 -2.2 0M307.6 77.3a1.1 1.1 0 1 0 2.2 0a1.1 1.1 0 1 0 -2.2 0M285.9 63.8a1.1 1.1 0 1 0 2.2 0a1.1 1.1 0 1 0 -2.2 0M310.8 52.1a1.1 1.1 0 1 0 2.2 0a1.1 1.1 0 1 0 -2.2 0M316.8 55.0a1.1 1.1 0 1 0 2.2 0a1.1 1.1 0 1 0 -2.2 0M313.8 54.4a1.1 1.1 0 1 0 2.2 0a1.1 1.1 0 1 0 -2.2 0M323.2 67.3a1.1 1.1 0 1 0 2.2 0a1.1 1.1 0 1 0 -2.2 0M308.7 69.7a1.1 1.1 0 1 0 2.2 0a1.1 1.1 0 1 0 -2.2 0M324.5 49.7a1.1 1.1 0 1 0 2.2 0a1.1 1.1 0 1 0 -2.2 0M317.9 68.3a1.1 1.1 0 1 0 2.2 0a1.1 1.1 0 1 0 -2.2 0M313.5 61.1a1.1 1.1 0 1 0 2.2 0a1.1 1.1 0 1 0 -2.2 0M312.8 49.3a1.1 1.1 0 1 0 2.2 0a1.1 1.1 0 1 0 -2.2 0M316.1 50.8a1.1 1.1 0 1 0 2.2 0a1.1 1.1 0 1 0 -2.2 0M318.6 46.1a1.1 1.1 0 1 0 2.2 0a1.1 1.1 0 1 0 -2.2 0M309.9 48.7a1.1 1.1 0 1 0 2.2 0a1.1 1.1 0 1 0 -2.2 0M308.8 41.8a1.1 1.1 0 1 0 2.2 0a1.1 1.1 0 1 0 -2.2 0M310.1 45.7a1.1 1.1 0 1 0 2.2 0a1.1 1.1 0 1 0 -2.2 0M309.2 58.9a1.1 1.1 0 1 0 2.2 0a1.1 1.1 0 1 0 -2.2 0M319.0 55.8a1.1 1.1 0 1 0 2.2 0a1.1 1.1 0 1 0 -2.2 0M317.3 44.7a1.1 1.1 0 1 0 2.2 0a1.1 1.1 0 1 0 -2.2 0M299.6 43.4a1.1 1.1 0 1 0 2.2 0a1.1 1.1 0 1 0 -2.2 0M308.2 42.5a1.1 1.1 0 1 0 2.2 0a1.1 1.1 0 1 0 -2.2 0M303.2 30.9a1.1 1.1 0 1 0 2.2 0a1.1 1.1 0 1 0 -2.2 0M310.3 33.5a1.1 1.1 0 1 0 2.2 0a1.1 1.1 0 1 0 -2.2 0M308.9 34.1a1.1 1.1 0 1 0 2.2 0a1.1 1.1 0 1 0 -2.2 0M306.4 36.6a1.1 1.1 0 1 0 2.2 0a1.1 1.1 0 1 0 -2.2 0M316.6 36.1a1.1 1.1 0 1 0 2.2 0a1.1 1.1 0 1 0 -2.2 0M308.7 44.5a1.1 1.1 0 1 0 2.2 0a1.1 1.1 0 1 0 -2.2 0M313.4 33.8a1.1 1.1 0 1 0 2.2 0a1.1 1.1 0 1 0 -2.2 0M321.9 122.4a1.1 1.1 0 1 0 2.2 0a1.1 1.1 0 1 0 -2.2 0M328.0 98.2a1.1 1.1 0 1 0 2.2 0a1.1 1.1 0 1 0 -2.2 0M321.5 114.2a1.1 1.1 0 1 0 2.2 0a1.1 1.1 0 1 0 -2.2 0M324.8 122.0a1.1 1.1 0 1 0 2.2 0a1.1 1.1 0 1 0 -2.2 0M334.4 118.6a1.1 1.1 0 1 0 2.2 0a1.1 1.1 0 1 0 -2.2 0M317.9 118.3a1.1 1.1 0 1 0 2.2 0a1.1 1.1 0 1 0 -2.2 0M325.1 120.9a1.1 1.1 0 1 0 2.2 0a1.1 1.1 0 1 0 -2.2 0M323.4 126.8a1.1 1.1 0 1 0 2.2 0a1.1 1.1 0 1 0 -2.2 0M322.1 99.4a1.1 1.1 0 1 0 2.2 0a1.1 1.1 0 1 0 -2.2 0M338.8 100.0a1.1 1.1 0 1 0 2.2 0a1.1 1.1 0 1 0 -2.2 0M325.9 96.4a1.1 1.1 0 1 0 2.2 0a1.1 1.1 0 1 0 -2.2 0M331.6 92.8a1.1 1.1 0 1 0 2.2 0a1.1 1.1 0 1 0 -2.2 0M332.1 106.1a1.1 1.1 0 1 0 2.2 0a1.1 1.1 0 1 0 -2.2 0M325.8 103.9a1.1 1.1 0 1 0 2.2 0a1.1 1.1 0 1 0 -2.2 0M326.1 103.7a1.1 1.1 0 1 0 2.2 0a1.1 1.1 0 1 0 -2.2 0M317.9 120.9a1.1 1.1 0 1 0 2.2 0a1.1 1.1 0 1 0 -2.2 0M318.7 120.3a1.1 1.1 0 1 0 2.2 0a1.1 1.1 0 1 0 -2.2 0M324.4 93.7a1.1 1.1 0 1 0 2.2 0a1.1 1.1 0 1 0 -2.2 0M311.1 88.6a1.1 1.1 0 1 0 2.2 0a1.1 1.1 0 1 0 -2.2 0M330.4 93.0a1.1 1.1 0 1 0 2.2 0a1.1 1.1 0 1 0 -2.2 0M336.5 79.8a1.1 1.1 0 1 0 2.2 0a1.1 1.1 0 1 0 -2.2 0M314.7 86.0a1.1 1.1 0 1 0 2.2 0a1.1 1.1 0 1 0 -2.2 0M327.2 90.6a1.1 1.1 0 1 0 2.2 0a1.1 1.1 0 1 0 -2.2 0M331.0 99.1a1.1 1.1 0 1 0 2.2 0a1.1 1.1 0 1 0 -2.2 0M319.3 99.9a1.1 1.1 0 1 0 2.2 0a1.1 1.1 0 1 0 -2.2 0M318.1 94.5a1.1 1.1 0 1 0 2.2 0a1.1 1.1 0 1 0 -2.2 0M312.8 90.1a1.1 1.1 0 1 0 2.2 0a1.1 1.1 0 1 0 -2.2 0M328.2 82.8a1.1 1.1 0 1 0 2.2 0a1.1 1.1 0 1 0 -2.2 0M326.8 96.4a1.1 1.1 0 1 0 2.2 0a1.1 1.1 0 1 0 -2.2 0M317.9 86.4a1.1 1.1 0 1 0 2.2 0a1.1 1.1 0 1 0 -2.2 0M324.1 86.7a1.1 1.1 0 1 0 2.2 0a1.1 1.1 0 1 0 -2.2 0M330.9 82.7a1.1 1.1 0 1 0 2.2 0a1.1 1.1 0 1 0 -2.2 0M324.0 82.2a1.1 1.1 0 1 0 2.2 0a1.1 1.1 0 1 0 -2.2 0M329.2 85.8a1.1 1.1 0 1 0 2.2 0a1.1 1.1 0 1 0 -2.2 0M332.4 78.9a1.1 1.1 0 1 0 2.2 0a1.1 1.1 0 1 0 -2.2 0M325.0 70.5a1.1 1.1 0 1 0 2.2 0a1.1 1.1 0 1 0 -2.2 0M327.8 63.2a1.1 1.1 0 1 0 2.2 0a1.1 1.1 0 1 0 -2.2 0M331.0 68.0a1.1 1.1 0 1 0 2.2 0a1.1 1.1 0 1 0 -2.2 0M330.5 69.9a1.1 1.1 0 1 0 2.2 0a1.1 1.1 0 1 0 -2.2 0M333.4 71.0a1.1 1.1 0 1 0 2.2 0a1.1 1.1 0 1 0 -2.2 0M308.1 60.8a1.1 1.1 0 1 0 2.2 0a1.1 1.1 0 1 0 -2.2 0M324.7 79.5a1.1 1.1 0 1 0 2.2 0a1.1 1.1 0 1 0 -2.2 0M322.3 77.4a1.1 1.1 0 1 0 2.2 0a1.1 1.1 0 1 0 -2.2 0M339.8 67.1a1.1 1.1 0 1 0 2.2 0a1.1 1.1 0 1 0 -2.2 0M311.9 55.3a1.1 1.1 0 1 0 2.2 0a1.1 1.1 0 1 0 -2.2 0M320.8 45.1a1.1 1.1 0 1 0 2.2 0a1.1 1.1 0 1 0 -2.2 0M315.8 76.1a1.1 1.1 0 1 0 2.2 0a1.1 1.1 0 1 0 -2.2 0M324.4 61.9a1.1 1.1 0 1 0 2.2 0a1.1 1.1 0 1 0 -2.2 0M320.7 75.3a1.1 1.1 0 1 0 2.2 0a1.1 1.1 0 1 0 -2.2 0M327.1 46.9a1.1 1.1 0 1 0 2.2 0a1.1 1.1 0 1 0 -2.2 0M309.3 50.6a1.1 1.1 0 1 0 2.2 0a1.1 1.1 0 1 0 -2.2 0M319.5 41.8a1.1 1.1 0 1 0 2.2 0a1.1 1.1 0 1 0 -2.2 0M327.2 60.7a1.1 1.1 0 1 0 2.2 0a1.1 1.1 0 1 0 -2.2 0M332.3 44.0a1.1 1.1 0 1 0 2.2 0a1.1 1.1 0 1 0 -2.2 0M319.3 42.6a1.1 1.1 0 1 0 2.2 0a1.1 1.1 0 1 0 -2.2 0M320.0 61.2a1.1 1.1 0 1 0 2.2 0a1.1 1.1 0 1 0 -2.2 0M339.3 50.5a1.1 1.1 0 1 0 2.2 0a1.1 1.1 0 1 0 -2.2 0M319.2 45.3a1.1 1.1 0 1 0 2.2 0a1.1 1.1 0 1 0 -2.2 0M312.0 58.0a1.1 1.1 0 1 0 2.2 0a1.1 1.1 0 1 0 -2.2 0M320.1 51.7a1.1 1.1 0 1 0 2.2 0a1.1 1.1 0 1 0 -2.2 0M324.4 39.5a1.1 1.1 0 1 0 2.2 0a1.1 1.1 0 1 0 -2.2 0M320.2 44.2a1.1 1.1 0 1 0 2.2 0a1.1 1.1 0 1 0 -2.2 0M328.4 44.5a1.1 1.1 0 1 0 2.2 0a1.1 1.1 0 1 0 -2.2 0M325.6 43.4a1.1 1.1 0 1 0 2.2 0a1.1 1.1 0 1 0 -2.2 0M331.9 33.0a1.1 1.1 0 1 0 2.2 0a1.1 1.1 0 1 0 -2.2 0M324.0 46.4a1.1 1.1 0 1 0 2.2 0a1.1 1.1 0 1 0 -2.2 0M324.7 42.1a1.1 1.1 0 1 0 2.2 0a1.1 1.1 0 1 0 -2.2 0M329.2 37.3a1.1 1.1 0 1 0 2.2 0a1.1 1.1 0 1 0 -2.2 0M317.7 29.5a1.1 1.1 0 1 0 2.2 0a1.1 1.1 0 1 0 -2.2 0M329.3 40.8a1.1 1.1 0 1 0 2.2 0a1.1 1.1 0 1 0 -2.2 0M332.7 38.6a1.1 1.1 0 1 0 2.2 0a1.1 1.1 0 1 0 -2.2 0M333.2 115.8a1.1 1.1 0 1 0 2.2 0a1.1 1.1 0 1 0 -2.2 0M329.8 120.0a1.1 1.1 0 1 0 2.2 0a1.1 1.1 0 1 0 -2.2 0M334.3 105.3a1.1 1.1 0 1 0 2.2 0a1.1 1.1 0 1 0 -2.2 0M347.0 118.6a1.1 1.1 0 1 0 2.2 0a1.1 1.1 0 1 0 -2.2 0M347.8 117.0a1.1 1.1 0 1 0 2.2 0a1.1 1.1 0 1 0 -2.2 0M338.4 110.1a1.1 1.1 0 1 0 2.2 0a1.1 1.1 0 1 0 -2.2 0M337.8 98.7a1.1 1.1 0 1 0 2.2 0a1.1 1.1 0 1 0 -2.2 0M337.4 125.6a1.1 1.1 0 1 0 2.2 0a1.1 1.1 0 1 0 -2.2 0M345.5 119.8a1.1 1.1 0 1 0 2.2 0a1.1 1.1 0 1 0 -2.2 0M333.2 127.5a1.1 1.1 0 1 0 2.2 0a1.1 1.1 0 1 0 -2.2 0M343.2 99.1a1.1 1.1 0 1 0 2.2 0a1.1 1.1 0 1 0 -2.2 0M341.6 97.9a1.1 1.1 0 1 0 2.2 0a1.1 1.1 0 1 0 -2.2 0M348.4 105.6a1.1 1.1 0 1 0 2.2 0a1.1 1.1 0 1 0 -2.2 0M342.7 110.8a1.1 1.1 0 1 0 2.2 0a1.1 1.1 0 1 0 -2.2 0M332.9 97.3a1.1 1.1 0 1 0 2.2 0a1.1 1.1 0 1 0 -2.2 0M338.5 115.2a1.1 1.1 0 1 0 2.2 0a1.1 1.1 0 1 0 -2.2 0M338.3 106.6a1.1 1.1 0 1 0 2.2 0a1.1 1.1 0 1 0 -2.2 0M329.3 102.0a1.1 1.1 0 1 0 2.2 0a1.1 1.1 0 1 0 -2.2 0M332.5 105.5a1.1 1.1 0 1 0 2.2 0a1.1 1.1 0 1 0 -2.2 0M327.1 80.6a1.1 1.1 0 1 0 2.2 0a1.1 1.1 0 1 0 -2.2 0M324.0 92.1a1.1 1.1 0 1 0 2.2 0a1.1 1.1 0 1 0 -2.2 0M340.2 89.0a1.1 1.1 0 1 0 2.2 0a1.1 1.1 0 1 0 -2.2 0M326.2 96.2a1.1 1.1 0 1 0 2.2 0a1.1 1.1 0 1 0 -2.2 0M336.6 87.8a1.1 1.1 0 1 0 2.2 0a1.1 1.1 0 1 0 -2.2 0M330.6 102.4a1.1 1.1 0 1 0 2.2 0a1.1 1.1 0 1 0 -2.2 0M343.2 85.5a1.1 1.1 0 1 0 2.2 0a1.1 1.1 0 1 0 -2.2 0M338.4 98.3a1.1 1.1 0 1 0 2.2 0a1.1 1.1 0 1 0 -2.2 0M338.6 81.5a1.1 1.1 0 1 0 2.2 0a1.1 1.1 0 1 0 -2.2 0M341.9 91.6a1.1 1.1 0 1 0 2.2 0a1.1 1.1 0 1 0 -2.2 0M336.4 83.5a1.1 1.1 0 1 0 2.2 0a1.1 1.1 0 1 0 -2.2 0M327.1 80.7a1.1 1.1 0 1 0 2.2 0a1.1 1.1 0 1 0 -2.2 0M335.8 85.3a1.1 1.1 0 1 0 2.2 0a1.1 1.1 0 1 0 -2.2 0M338.6 92.9a1.1 1.1 0 1 0 2.2 0a1.1 1.1 0 1 0 -2.2 0M335.1 79.1a1.1 1.1 0 1 0 2.2 0a1.1 1.1 0 1 0 -2.2 0M337.7 74.3a1.1 1.1 0 1 0 2.2 0a1.1 1.1 0 1 0 -2.2 0M326.4 93.5a1.1 1.1 0 1 0 2.2 0a1.1 1.1 0 1 0 -2.2 0M337.4 67.4a1.1 1.1 0 1 0 2.2 0a1.1 1.1 0 1 0 -2.2 0M351.7 66.2a1.1 1.1 0 1 0 2.2 0a1.1 1.1 0 1 0 -2.2 0M328.9 64.8a1.1 1.1 0 1 0 2.2 0a1.1 1.1 0 1 0 -2.2 0M329.1 81.9a1.1 1.1 0 1 0 2.2 0a1.1 1.1 0 1 0 -2.2 0M355.4 68.4a1.1 1.1 0 1 0 2.2 0a1.1 1.1 0 1 0 -2.2 0M341.0 66.6a1.1 1.1 0 1 0 2.2 0a1.1 1.1 0 1 0 -2.2 0M349.3 68.7a1.1 1.1 0 1 0 2.2 0a1.1 1.1 0 1 0 -2.2 0M344.8 78.5a1.1 1.1 0 1 0 2.2 0a1.1 1.1 0 1 0 -2.2 0M325.0 60.2a1.1 1.1 0 1 0 2.2 0a1.1 1.1 0 1 0 -2.2 0M346.8 55.5a1.1 1.1 0 1 0 2.2 0a1.1 1.1 0 1 0 -2.2 0M337.3 58.1a1.1 1.1 0 1 0 2.2 0a1.1 1.1 0 1 0 -2.2 0M330.3 47.9a1.1 1.1 0 1 0 2.2 0a1.1 1.1 0 1 0 -2.2 0M340.6 55.6a1.1 1.1 0 1 0 2.2 0a1.1 1.1 0 1 0 -2.2 0M338.4 51.5a1.1 1.1 0 1 0 2.2 0a1.1 1.1 0 1 0 -2.2 0M339.4 53.8a1.1 1.1 0 1 0 2.2 0a1.1 1.1 0 1 0 -2.2 0M326.7 55.5a1.1 1.1 0 1 0 2.2 0a1.1 1.1 0 1 0 -2.2 0M352.2 63.2a1.1 1.1 0 1 0 2.2 0a1.1 1.1 0 1 0 -2.2 0M334.6 52.7a1.1 1.1 0 1 0 2.2 0a1.1 1.1 0 1 0 -2.2 0M342.8 43.2a1.1 1.1 0 1 0 2.2 0a1.1 1.1 0 1 0 -2.2 0M323.2 44.1a1.1 1.1 0 1 0 2.2 0a1.1 1.1 0 1 0 -2.2 0M326.5 54.0a1.1 1.1 0 1 0 2.2 0a1.1 1.1 0 1 0 -2.2 0M339.7 50.1a1.1 1.1 0 1 0 2.2 0a1.1 1.1 0 1 0 -2.2 0M341.7 24.4a1.1 1.1 0 1 0 2.2 0a1.1 1.1 0 1 0 -2.2 0M341.5 42.5a1.1 1.1 0 1 0 2.2 0a1.1 1.1 0 1 0 -2.2 0M328.7 52.7a1.1 1.1 0 1 0 2.2 0a1.1 1.1 0 1 0 -2.2 0M327.5 51.8a1.1 1.1 0 1 0 2.2 0a1.1 1.1 0 1 0 -2.2 0M327.2 52.8a1.1 1.1 0 1 0 2.2 0a1.1 1.1 0 1 0 -2.2 0M334.0 43.9a1.1 1.1 0 1 0 2.2 0a1.1 1.1 0 1 0 -2.2 0M324.8 46.6a1.1 1.1 0 1 0 2.2 0a1.1 1.1 0 1 0 -2.2 0M339.0 36.0a1.1 1.1 0 1 0 2.2 0a1.1 1.1 0 1 0 -2.2 0M343.4 28.6a1.1 1.1 0 1 0 2.2 0a1.1 1.1 0 1 0 -2.2 0M333.0 31.4a1.1 1.1 0 1 0 2.2 0a1.1 1.1 0 1 0 -2.2 0M324.6 19.4a1.1 1.1 0 1 0 2.2 0a1.1 1.1 0 1 0 -2.2 0M344.6 38.0a1.1 1.1 0 1 0 2.2 0a1.1 1.1 0 1 0 -2.2 0M326.7 33.6a1.1 1.1 0 1 0 2.2 0a1.1 1.1 0 1 0 -2.2 0M321.3 42.2a1.1 1.1 0 1 0 2.2 0a1.1 1.1 0 1 0 -2.2 0M352.9 116.1a1.1 1.1 0 1 0 2.2 0a1.1 1.1 0 1 0 -2.2 0M343.5 109.6a1.1 1.1 0 1 0 2.2 0a1.1 1.1 0 1 0 -2.2 0M339.4 114.6a1.1 1.1 0 1 0 2.2 0a1.1 1.1 0 1 0 -2.2 0M343.5 123.0a1.1 1.1 0 1 0 2.2 0a1.1 1.1 0 1 0 -2.2 0M350.8 124.1a1.1 1.1 0 1 0 2.2 0a1.1 1.1 0 1 0 -2.2 0M361.7 121.1a1.1 1.1 0 1 0 2.2 0a1.1 1.1 0 1 0 -2.2 0M362.4 124.9a1.1 1.1 0 1 0 2.2 0a1.1 1.1 0 1 0 -2.2 0M351.9 125.6a1.1 1.1 0 1 0 2.2 0a1.1 1.1 0 1 0 -2.2 0M337.1 115.5a1.1 1.1 0 1 0 2.2 0a1.1 1.1 0 1 0 -2.2 0M352.4 114.7a1.1 1.1 0 1 0 2.2 0a1.1 1.1 0 1 0 -2.2 0M356.3 111.2a1.1 1.1 0 1 0 2.2 0a1.1 1.1 0 1 0 -2.2 0M348.2 102.4a1.1 1.1 0 1 0 2.2 0a1.1 1.1 0 1 0 -2.2 0M351.8 118.6a1.1 1.1 0 1 0 2.2 0a1.1 1.1 0 1 0 -2.2 0M359.6 101.0a1.1 1.1 0 1 0 2.2 0a1.1 1.1 0 1 0 -2.2 0M344.0 112.9a1.1 1.1 0 1 0 2.2 0a1.1 1.1 0 1 0 -2.2 0M334.4 115.4a1.1 1.1 0 1 0 2.2 0a1.1 1.1 0 1 0 -2.2 0M351.4 107.8a1.1 1.1 0 1 0 2.2 0a1.1 1.1 0 1 0 -2.2 0M338.6 109.2a1.1 1.1 0 1 0 2.2 0a1.1 1.1 0 1 0 -2.2 0M359.1 96.2a1.1 1.1 0 1 0 2.2 0a1.1 1.1 0 1 0 -2.2 0M342.8 83.7a1.1 1.1 0 1 0 2.2 0a1.1 1.1 0 1 0 -2.2 0M350.8 93.4a1.1 1.1 0 1 0 2.2 0a1.1 1.1 0 1 0 -2.2 0M342.6 105.3a1.1 1.1 0 1 0 2.2 0a1.1 1.1 0 1 0 -2.2 0M338.3 97.3a1.1 1.1 0 1 0 2.2 0a1.1 1.1 0 1 0 -2.2 0M345.6 91.1a1.1 1.1 0 1 0 2.2 0a1.1 1.1 0 1 0 -2.2 0M351.4 92.1a1.1 1.1 0 1 0 2.2 0a1.1 1.1 0 1 0 -2.2 0M348.9 101.3a1.1 1.1 0 1 0 2.2 0a1.1 1.1 0 1 0 -2.2 0M330.9 97.6a1.1 1.1 0 1 0 2.2 0a1.1 1.1 0 1 0 -2.2 0M340.0 87.2a1.1 1.1 0 1 0 2.2 0a1.1 1.1 0 1 0 -2.2 0M345.2 91.6a1.1 1.1 0 1 0 2.2 0a1.1 1.1 0 1 0 -2.2 0M338.8 83.0a1.1 1.1 0 1 0 2.2 0a1.1 1.1 0 1 0 -2.2 0M348.1 87.2a1.1 1.1 0 1 0 2.2 0a1.1 1.1 0 1 0 -2.2 0M351.0 83.9a1.1 1.1 0 1 0 2.2 0a1.1 1.1 0 1 0 -2.2 0M339.5 82.0a1.1 1.1 0 1 0 2.2 0a1.1 1.1 0 1 0 -2.2 0M361.6 87.3a1.1 1.1 0 1 0 2.2 0a1.1 1.1 0 1 0 -2.2 0M356.1 72.0a1.1 1.1 0 1 0 2.2 0a1.1 1.1 0 1 0 -2.2 0M358.6 88.4a1.1 1.1 0 1 0 2.2 0a1.1 1.1 0 1 0 -2.2 0M362.6 69.9a1.1 1.1 0 1 0 2.2 0a1.1 1.1 0 1 0 -2.2 0M345.3 72.5a1.1 1.1 0 1 0 2.2 0a1.1 1.1 0 1 0 -2.2 0M351.8 70.4a1.1 1.1 0 1 0 2.2 0a1.1 1.1 0 1 0 -2.2 0M345.9 61.2a1.1 1.1 0 1 0 2.2 0a1.1 1.1 0 1 0 -2.2 0M341.8 78.6a1.1 1.1 0 1 0 2.2 0a1.1 1.1 0 1 0 -2.2 0M353.3 65.6a1.1 1.1 0 1 0 2.2 0a1.1 1.1 0 1 0 -2.2 0M355.6 78.8a1.1 1.1 0 1 0 2.2 0a1.1 1.1 0 1 0 -2.2 0M355.5 67.2a1.1 1.1 0 1 0 2.2 0a1.1 1.1 0 1 0 -2.2 0M360.7 80.1a1.1 1.1 0 1 0 2.2 0a1.1 1.1 0 1 0 -2.2 0M348.9 61.4a1.1 1.1 0 1 0 2.2 0a1.1 1.1 0 1 0 -2.2 0M335.2 64.7a1.1 1.1 0 1 0 2.2 0a1.1 1.1 0 1 0 -2.2 0M355.8 62.8a1.1 1.1 0 1 0 2.2 0a1.1 1.1 0 1 0 -2.2 0M341.8 52.9a1.1 1.1 0 1 0 2.2 0a1.1 1.1 0 1 0 -2.2 0M354.8 52.0a1.1 1.1 0 1 0 2.2 0a1.1 1.1 0 1 0 -2.2 0M341.2 59.8a1.1 1.1 0 1 0 2.2 0a1.1 1.1 0 1 0 -2.2 0M355.1 64.2a1.1 1.1 0 1 0 2.2 0a1.1 1.1 0 1 0 -2.2 0M341.6 53.2a1.1 1.1 0 1 0 2.2 0a1.1 1.1 0 1 0 -2.2 0M359.1 67.9a1.1 1.1 0 1 0 2.2 0a1.1 1.1 0 1 0 -2.2 0M327.5 58.7a1.1 1.1 0 1 0 2.2 0a1.1 1.1 0 1 0 -2.2 0M339.6 48.9a1.1 1.1 0 1 0 2.2 0a1.1 1.1 0 1 0 -2.2 0M351.9 49.0a1.1 1.1 0 1 0 2.2 0a1.1 1.1 0 1 0 -2.2 0M341.9 46.7a1.1 1.1 0 1 0 2.2 0a1.1 1.1 0 1 0 -2.2 0M339.9 48.2a1.1 1.1 0 1 0 2.2 0a1.1 1.1 0 1 0 -2.2 0M342.4 27.9a1.1 1.1 0 1 0 2.2 0a1.1 1.1 0 1 0 -2.2 0M353.5 54.1a1.1 1.1 0 1 0 2.2 0a1.1 1.1 0 1 0 -2.2 0M339.7 51.1a1.1 1.1 0 1 0 2.2 0a1.1 1.1 0 1 0 -2.2 0M334.7 53.3a1.1 1.1 0 1 0 2.2 0a1.1 1.1 0 1 0 -2.2 0M341.6 29.8a1.1 1.1 0 1 0 2.2 0a1.1 1.1 0 1 0 -2.2 0M344.0 42.3a1.1 1.1 0 1 0 2.2 0a1.1 1.1 0 1 0 -2.2 0M337.1 45.2a1.1 1.1 0 1 0 2.2 0a1.1 1.1 0 1 0 -2.2 0M346.7 38.0a1.1 1.1 0 1 0 2.2 0a1.1 1.1 0 1 0 -2.2 0M355.9 41.1a1.1 1.1 0 1 0 2.2 0a1.1 1.1 0 1 0 -2.2 0M355.3 34.5a1.1 1.1 0 1 0 2.2 0a1.1 1.1 0 1 0 -2.2 0M347.2 51.4a1.1 1.1 0 1 0 2.2 0a1.1 1.1 0 1 0 -2.2 0M337.4 30.9a1.1 1.1 0 1 0 2.2 0a1.1 1.1 0 1 0 -2.2 0M357.9 34.9a1.1 1.1 0 1 0 2.2 0a1.1 1.1 0 1 0 -2.2 0M364.7 119.7a1.1 1.1 0 1 0 2.2 0a1.1 1.1 0 1 0 -2.2 0M356.1 121.6a1.1 1.1 0 1 0 2.2 0a1.1 1.1 0 1 0 -2.2 0M366.4 114.1a1.1 1.1 0 1 0 2.2 0a1.1 1.1 0 1 0 -2.2 0M357.2 119.1a1.1 1.1 0 1 0 2.2 0a1.1 1.1 0 1 0 -2.2 0M363.2 114.3a1.1 1.1 0 1 0 2.2 0a1.1 1.1 0 1 0 -2.2 0M352.6 103.9a1.1 1.1 0 1 0 2.2 0a1.1 1.1 0 1 0 -2.2 0M360.9 116.6a1.1 1.1 0 1 0 2.2 0a1.1 1.1 0 1 0 -2.2 0M370.2 109.1a1.1 1.1 0 1 0 2.2 0a1.1 1.1 0 1 0 -2.2 0M358.3 112.7a1.1 1.1 0 1 0 2.2 0a1.1 1.1 0 1 0 -2.2 0M350.8 110.0a1.1 1.1 0 1 0 2.2 0a1.1 1.1 0 1 0 -2.2 0M341.8 96.1a1.1 1.1 0 1 0 2.2 0a1.1 1.1 0 1 0 -2.2 0M344.5 100.1a1.1 1.1 0 1 0 2.2 0a1.1 1.1 0 1 0 -2.2 0M352.6 112.5a1.1 1.1 0 1 0 2.2 0a1.1 1.1 0 1 0 -2.2 0M357.5 103.2a1.1 1.1 0 1 0 2.2 0a1.1 1.1 0 1 0 -2.2 0M363.6 92.0a1.1 1.1 0 1 0 2.2 0a1.1 1.1 0 1 0 -2.2 0M361.7 98.7a1.1 1.1 0 1 0 2.2 0a1.1 1.1 0 1 0 -2.2 0M354.4 99.9a1.1 1.1 0 1 0 2.2 0a1.1 1.1 0 1 0 -2.2 0M360.1 108.7a1.1 1.1 0 1 0 2.2 0a1.1 1.1 0 1 0 -2.2 0M358.2 94.2a1.1 1.1 0 1 0 2.2 0a1.1 1.1 0 1 0 -2.2 0M360.4 90.8a1.1 1.1 0 1 0 2.2 0a1.1 1.1 0 1 0 -2.2 0M355.1 99.3a1.1 1.1 0 1 0 2.2 0a1.1 1.1 0 1 0 -2.2 0M364.6 106.4a1.1 1.1 0 1 0 2.2 0a1.1 1.1 0 1 0 -2.2 0M354.2 82.2a1.1 1.1 0 1 0 2.2 0a1.1 1.1 0 1 0 -2.2 0M338.4 98.9a1.1 1.1 0 1 0 2.2 0a1.1 1.1 0 1 0 -2.2 0M364.2 106.1a1.1 1.1 0 1 0 2.2 0a1.1 1.1 0 1 0 -2.2 0M378.7 113.1a1.1 1.1 0 1 0 2.2 0a1.1 1.1 0 1 0 -2.2 0M369.9 82.1a1.1 1.1 0 1 0 2.2 0a1.1 1.1 0 1 0 -2.2 0M365.9 83.9a1.1 1.1 0 1 0 2.2 0a1.1 1.1 0 1 0 -2.2 0M361.7 89.0a1.1 1.1 0 1 0 2.2 0a1.1 1.1 0 1 0 -2.2 0M365.1 90.6a1.1 1.1 0 1 0 2.2 0a1.1 1.1 0 1 0 -2.2 0M356.9 74.9a1.1 1.1 0 1 0 2.2 0a1.1 1.1 0 1 0 -2.2 0M350.5 85.0a1.1 1.1 0 1 0 2.2 0a1.1 1.1 0 1 0 -2.2 0M360.2 92.3a1.1 1.1 0 1 0 2.2 0a1.1 1.1 0 1 0 -2.2 0M367.8 79.7a1.1 1.1 0 1 0 2.2 0a1.1 1.1 0 1 0 -2.2 0M347.4 82.6a1.1 1.1 0 1 0 2.2 0a1.1 1.1 0 1 0 -2.2 0M353.1 87.2a1.1 1.1 0 1 0 2.2 0a1.1 1.1 0 1 0 -2.2 0M359.5 76.1a1.1 1.1 0 1 0 2.2 0a1.1 1.1 0 1 0 -2.2 0M366.3 76.1a1.1 1.1 0 1 0 2.2 0a1.1 1.1 0 1 0 -2.2 0M366.4 71.1a1.1 1.1 0 1 0 2.2 0a1.1 1.1 0 1 0 -2.2 0M365.5 74.9a1.1 1.1 0 1 0 2.2 0a1.1 1.1 0 1 0 -2.2 0M355.1 79.4a1.1 1.1 0 1 0 2.2 0a1.1 1.1 0 1 0 -2.2 0M363.3 63.8a1.1 1.1 0 1 0 2.2 0a1.1 1.1 0 1 0 -2.2 0M375.1 61.2a1.1 1.1 0 1 0 2.2 0a1.1 1.1 0 1 0 -2.2 0M360.8 72.4a1.1 1.1 0 1 0 2.2 0a1.1 1.1 0 1 0 -2.2 0M361.9 71.0a1.1 1.1 0 1 0 2.2 0a1.1 1.1 0 1 0 -2.2 0M370.1 52.3a1.1 1.1 0 1 0 2.2 0a1.1 1.1 0 1 0 -2.2 0M352.6 64.5a1.1 1.1 0 1 0 2.2 0a1.1 1.1 0 1 0 -2.2 0M369.3 57.0a1.1 1.1 0 1 0 2.2 0a1.1 1.1 0 1 0 -2.2 0M357.2 50.5a1.1 1.1 0 1 0 2.2 0a1.1 1.1 0 1 0 -2.2 0M356.0 61.4a1.1 1.1 0 1 0 2.2 0a1.1 1.1 0 1 0 -2.2 0M355.4 74.0a1.1 1.1 0 1 0 2.2 0a1.1 1.1 0 1 0 -2.2 0M365.5 68.4a1.1 1.1 0 1 0 2.2 0a1.1 1.1 0 1 0 -2.2 0M354.6 64.9a1.1 1.1 0 1 0 2.2 0a1.1 1.1 0 1 0 -2.2 0M364.5 59.9a1.1 1.1 0 1 0 2.2 0a1.1 1.1 0 1 0 -2.2 0M359.1 60.4a1.1 1.1 0 1 0 2.2 0a1.1 1.1 0 1 0 -2.2 0M358.3 58.9a1.1 1.1 0 1 0 2.2 0a1.1 1.1 0 1 0 -2.2 0M361.3 45.1a1.1 1.1 0 1 0 2.2 0a1.1 1.1 0 1 0 -2.2 0M358.8 32.6a1.1 1.1 0 1 0 2.2 0a1.1 1.1 0 1 0 -2.2 0M363.0 43.4a1.1 1.1 0 1 0 2.2 0a1.1 1.1 0 1 0 -2.2 0M360.0 49.3a1.1 1.1 0 1 0 2.2 0a1.1 1.1 0 1 0 -2.2 0M366.3 39.7a1.1 1.1 0 1 0 2.2 0a1.1 1.1 0 1 0 -2.2 0M349.1 40.0a1.1 1.1 0 1 0 2.2 0a1.1 1.1 0 1 0 -2.2 0M362.9 40.7a1.1 1.1 0 1 0 2.2 0a1.1 1.1 0 1 0 -2.2 0M362.5 45.7a1.1 1.1 0 1 0 2.2 0a1.1 1.1 0 1 0 -2.2 0M350.0 22.8a1.1 1.1 0 1 0 2.2 0a1.1 1.1 0 1 0 -2.2 0M360.9 47.0a1.1 1.1 0 1 0 2.2 0a1.1 1.1 0 1 0 -2.2 0M361.6 39.1a1.1 1.1 0 1 0 2.2 0a1.1 1.1 0 1 0 -2.2 0M344.9 53.5a1.1 1.1 0 1 0 2.2 0a1.1 1.1 0 1 0 -2.2 0M346.8 34.4a1.1 1.1 0 1 0 2.2 0a1.1 1.1 0 1 0 -2.2 0M358.6 38.3a1.1 1.1 0 1 0 2.2 0a1.1 1.1 0 1 0 -2.2 0M361.1 31.9a1.1 1.1 0 1 0 2.2 0a1.1 1.1 0 1 0 -2.2 0M343.0 38.7a1.1 1.1 0 1 0 2.2 0a1.1 1.1 0 1 0 -2.2 0M364.4 125.9a1.1 1.1 0 1 0 2.2 0a1.1 1.1 0 1 0 -2.2 0M366.5 117.6a1.1 1.1 0 1 0 2.2 0a1.1 1.1 0 1 0 -2.2 0M368.6 127.5a1.1 1.1 0 1 0 2.2 0a1.1 1.1 0 1 0 -2.2 0M367.0 101.7a1.1 1.1 0 1 0 2.2 0a1.1 1.1 0 1 0 -2.2 0M362.6 129.3a1.1 1.1 0 1 0 2.2 0a1.1 1.1 0 1 0 -2.2 0M372.7 112.2a1.1 1.1 0 1 0 2.2 0a1.1 1.1 0 1 0 -2.2 0M374.2 125.0a1.1 1.1 0 1 0 2.2 0a1.1 1.1 0 1 0 -2.2 0M378.2 122.6a1.1 1.1 0 1 0 2.2 0a1.1 1.1 0 1 0 -2.2 0M362.0 121.2a1.1 1.1 0 1 0 2.2 0a1.1 1.1 0 1 0 -2.2 0M369.8 99.9a1.1 1.1 0 1 0 2.2 0a1.1 1.1 0 1 0 -2.2 0M375.4 105.4a1.1 1.1 0 1 0 2.2 0a1.1 1.1 0 1 0 -2.2 0M377.7 104.6a1.1 1.1 0 1 0 2.2 0a1.1 1.1 0 1 0 -2.2 0M377.5 115.7a1.1 1.1 0 1 0 2.2 0a1.1 1.1 0 1 0 -2.2 0M358.7 99.4a1.1 1.1 0 1 0 2.2 0a1.1 1.1 0 1 0 -2.2 0M360.1 107.5a1.1 1.1 0 1 0 2.2 0a1.1 1.1 0 1 0 -2.2 0M369.9 108.9a1.1 1.1 0 1 0 2.2 0a1.1 1.1 0 1 0 -2.2 0M367.2 94.8a1.1 1.1 0 1 0 2.2 0a1.1 1.1 0 1 0 -2.2 0M351.4 98.6a1.1 1.1 0 1 0 2.2 0a1.1 1.1 0 1 0 -2.2 0M388.1 93.6a1.1 1.1 0 1 0 2.2 0a1.1 1.1 0 1 0 -2.2 0M370.5 88.3a1.1 1.1 0 1 0 2.2 0a1.1 1.1 0 1 0 -2.2 0M384.6 102.6a1.1 1.1 0 1 0 2.2 0a1.1 1.1 0 1 0 -2.2 0M371.3 95.1a1.1 1.1 0 1 0 2.2 0a1.1 1.1 0 1 0 -2.2 0M374.9 92.6a1.1 1.1 0 1 0 2.2 0a1.1 1.1 0 1 0 -2.2 0M375.7 96.9a1.1 1.1 0 1 0 2.2 0a1.1 1.1 0 1 0 -2.2 0M371.0 98.8a1.1 1.1 0 1 0 2.2 0a1.1 1.1 0 1 0 -2.2 0M365.6 94.8a1.1 1.1 0 1 0 2.2 0a1.1 1.1 0 1 0 -2.2 0M369.6 102.5a1.1 1.1 0 1 0 2.2 0a1.1 1.1 0 1 0 -2.2 0M382.6 83.3a1.1 1.1 0 1 0 2.2 0a1.1 1.1 0 1 0 -2.2 0M360.1 74.1a1.1 1.1 0 1 0 2.2 0a1.1 1.1 0 1 0 -2.2 0M365.0 78.5a1.1 1.1 0 1 0 2.2 0a1.1 1.1 0 1 0 -2.2 0M370.5 80.4a1.1 1.1 0 1 0 2.2 0a1.1 1.1 0 1 0 -2.2 0M372.0 86.6a1.1 1.1 0 1 0 2.2 0a1.1 1.1 0 1 0 -2.2 0M371.0 67.1a1.1 1.1 0 1 0 2.2 0a1.1 1.1 0 1 0 -2.2 0M353.6 81.8a1.1 1.1 0 1 0 2.2 0a1.1 1.1 0 1 0 -2.2 0M374.0 90.1a1.1 1.1 0 1 0 2.2 0a1.1 1.1 0 1 0 -2.2 0M360.2 66.2a1.1 1.1 0 1 0 2.2 0a1.1 1.1 0 1 0 -2.2 0M367.8 55.3a1.1 1.1 0 1 0 2.2 0a1.1 1.1 0 1 0 -2.2 0M374.7 70.2a1.1 1.1 0 1 0 2.2 0a1.1 1.1 0 1 0 -2.2 0M374.3 66.1a1.1 1.1 0 1 0 2.2 0a1.1 1.1 0 1 0 -2.2 0M379.6 67.6a1.1 1.1 0 1 0 2.2 0a1.1 1.1 0 1 0 -2.2 0M371.7 69.5a1.1 1.1 0 1 0 2.2 0a1.1 1.1 0 1 0 -2.2 0M380.9 64.7a1.1 1.1 0 1 0 2.2 0a1.1 1.1 0 1 0 -2.2 0M363.0 75.6a1.1 1.1 0 1 0 2.2 0a1.1 1.1 0 1 0 -2.2 0M373.2 75.5a1.1 1.1 0 1 0 2.2 0a1.1 1.1 0 1 0 -2.2 0M367.8 77.9a1.1 1.1 0 1 0 2.2 0a1.1 1.1 0 1 0 -2.2 0M368.7 56.2a1.1 1.1 0 1 0 2.2 0a1.1 1.1 0 1 0 -2.2 0M378.2 59.3a1.1 1.1 0 1 0 2.2 0a1.1 1.1 0 1 0 -2.2 0M386.4 59.9a1.1 1.1 0 1 0 2.2 0a1.1 1.1 0 1 0 -2.2 0M394.9 51.9a1.1 1.1 0 1 0 2.2 0a1.1 1.1 0 1 0 -2.2 0M374.4 63.1a1.1 1.1 0 1 0 2.2 0a1.1 1.1 0 1 0 -2.2 0M349.2 60.5a1.1 1.1 0 1 0 2.2 0a1.1 1.1 0 1 0 -2.2 0M372.0 45.0a1.1 1.1 0 1 0 2.2 0a1.1 1.1 0 1 0 -2.2 0M360.2 45.1a1.1 1.1 0 1 0 2.2 0a1.1 1.1 0 1 0 -2.2 0M368.7 53.9a1.1 1.1 0 1 0 2.2 0a1.1 1.1 0 1 0 -2.2 0M351.3 46.8a1.1 1.1 0 1 0 2.2 0a1.1 1.1 0 1 0 -2.2 0M368.0 42.8a1.1 1.1 0 1 0 2.2 0a1.1 1.1 0 1 0 -2.2 0M371.3 56.4a1.1 1.1 0 1 0 2.2 0a1.1 1.1 0 1 0 -2.2 0M377.9 42.7a1.1 1.1 0 1 0 2.2 0a1.1 1.1 0 1 0 -2.2 0M375.2 40.4a1.1 1.1 0 1 0 2.2 0a1.1 1.1 0 1 0 -2.2 0M379.0 48.0a1.1 1.1 0 1 0 2.2 0a1.1 1.1 0 1 0 -2.2 0M360.3 58.2a1.1 1.1 0 1 0 2.2 0a1.1 1.1 0 1 0 -2.2 0M380.9 42.6a1.1 1.1 0 1 0 2.2 0a1.1 1.1 0 1 0 -2.2 0M371.4 51.1a1.1 1.1 0 1 0 2.2 0a1.1 1.1 0 1 0 -2.2 0M370.9 36.2a1.1 1.1 0 1 0 2.2 0a1.1 1.1 0 1 0 -2.2 0M368.1 41.6a1.1 1.1 0 1 0 2.2 0a1.1 1.1 0 1 0 -2.2 0M387.1 34.7a1.1 1.1 0 1 0 2.2 0a1.1 1.1 0 1 0 -2.2 0M366.0 46.1a1.1 1.1 0 1 0 2.2 0a1.1 1.1 0 1 0 -2.2 0M365.1 31.0a1.1 1.1 0 1 0 2.2 0a1.1 1.1 0 1 0 -2.2 0M376.4 38.0a1.1 1.1 0 1 0 2.2 0a1.1 1.1 0 1 0 -2.2 0M371.0 38.7a1.1 1.1 0 1 0 2.2 0a1.1 1.1 0 1 0 -2.2 0M362.2 26.7a1.1 1.1 0 1 0 2.2 0a1.1 1.1 0 1 0 -2.2 0M376.6 117.7a1.1 1.1 0 1 0 2.2 0a1.1 1.1 0 1 0 -2.2 0M389.1 118.5a1.1 1.1 0 1 0 2.2 0a1.1 1.1 0 1 0 -2.2 0M371.8 123.8a1.1 1.1 0 1 0 2.2 0a1.1 1.1 0 1 0 -2.2 0M383.1 114.1a1.1 1.1 0 1 0 2.2 0a1.1 1.1 0 1 0 -2.2 0M381.6 109.2a1.1 1.1 0 1 0 2.2 0a1.1 1.1 0 1 0 -2.2 0M389.9 114.3a1.1 1.1 0 1 0 2.2 0a1.1 1.1 0 1 0 -2.2 0M382.6 118.6a1.1 1.1 0 1 0 2.2 0a1.1 1.1 0 1 0 -2.2 0M386.5 109.8a1.1 1.1 0 1 0 2.2 0a1.1 1.1 0 1 0 -2.2 0M382.8 113.3a1.1 1.1 0 1 0 2.2 0a1.1 1.1 0 1 0 -2.2 0M379.9 115.7a1.1 1.1 0 1 0 2.2 0a1.1 1.1 0 1 0 -2.2 0M374.7 99.5a1.1 1.1 0 1 0 2.2 0a1.1 1.1 0 1 0 -2.2 0M385.7 93.4a1.1 1.1 0 1 0 2.2 0a1.1 1.1 0 1 0 -2.2 0M382.8 98.8a1.1 1.1 0 1 0 2.2 0a1.1 1.1 0 1 0 -2.2 0M392.4 97.8a1.1 1.1 0 1 0 2.2 0a1.1 1.1 0 1 0 -2.2 0M377.7 106.6a1.1 1.1 0 1 0 2.2 0a1.1 1.1 0 1 0 -2.2 0M383.3 112.6a1.1 1.1 0 1 0 2.2 0a1.1 1.1 0 1 0 -2.2 0M386.0 97.6a1.1 1.1 0 1 0 2.2 0a1.1 1.1 0 1 0 -2.2 0M378.7 90.5a1.1 1.1 0 1 0 2.2 0a1.1 1.1 0 1 0 -2.2 0M380.1 95.3a1.1 1.1 0 1 0 2.2 0a1.1 1.1 0 1 0 -2.2 0M380.5 99.0a1.1 1.1 0 1 0 2.2 0a1.1 1.1 0 1 0 -2.2 0M385.5 93.6a1.1 1.1 0 1 0 2.2 0a1.1 1.1 0 1 0 -2.2 0M395.0 89.2a1.1 1.1 0 1 0 2.2 0a1.1 1.1 0 1 0 -2.2 0M386.4 95.4a1.1 1.1 0 1 0 2.2 0a1.1 1.1 0 1 0 -2.2 0M371.6 94.4a1.1 1.1 0 1 0 2.2 0a1.1 1.1 0 1 0 -2.2 0M375.9 86.7a1.1 1.1 0 1 0 2.2 0a1.1 1.1 0 1 0 -2.2 0M382.1 81.3a1.1 1.1 0 1 0 2.2 0a1.1 1.1 0 1 0 -2.2 0M387.9 87.5a1.1 1.1 0 1 0 2.2 0a1.1 1.1 0 1 0 -2.2 0M384.1 80.7a1.1 1.1 0 1 0 2.2 0a1.1 1.1 0 1 0 -2.2 0M387.3 75.4a1.1 1.1 0 1 0 2.2 0a1.1 1.1 0 1 0 -2.2 0M376.9 78.6a1.1 1.1 0 1 0 2.2 0a1.1 1.1 0 1 0 -2.2 0M380.4 87.4a1.1 1.1 0 1 0 2.2 0a1.1 1.1 0 1 0 -2.2 0M371.3 73.4a1.1 1.1 0 1 0 2.2 0a1.1 1.1 0 1 0 -2.2 0M382.8 80.1a1.1 1.1 0 1 0 2.2 0a1.1 1.1 0 1 0 -2.2 0M396.4 63.6a1.1 1.1 0 1 0 2.2 0a1.1 1.1 0 1 0 -2.2 0M375.6 74.4a1.1 1.1 0 1 0 2.2 0a1.1 1.1 0 1 0 -2.2 0M387.1 67.8a1.1 1.1 0 1 0 2.2 0a1.1 1.1 0 1 0 -2.2 0M386.0 71.0a1.1 1.1 0 1 0 2.2 0a1.1 1.1 0 1 0 -2.2 0M394.5 66.2a1.1 1.1 0 1 0 2.2 0a1.1 1.1 0 1 0 -2.2 0M385.0 61.5a1.1 1.1 0 1 0 2.2 0a1.1 1.1 0 1 0 -2.2 0M389.2 67.4a1.1 1.1 0 1 0 2.2 0a1.1 1.1 0 1 0 -2.2 0M384.9 57.7a1.1 1.1 0 1 0 2.2 0a1.1 1.1 0 1 0 -2.2 0M386.2 71.5a1.1 1.1 0 1 0 2.2 0a1.1 1.1 0 1 0 -2.2 0M375.9 73.4a1.1 1.1 0 1 0 2.2 0a1.1 1.1 0 1 0 -2.2 0M374.4 70.0a1.1 1.1 0 1 0 2.2 0a1.1 1.1 0 1 0 -2.2 0M384.3 74.6a1.1 1.1 0 1 0 2.2 0a1.1 1.1 0 1 0 -2.2 0M382.5 54.5a1.1 1.1 0 1 0 2.2 0a1.1 1.1 0 1 0 -2.2 0M383.6 66.4a1.1 1.1 0 1 0 2.2 0a1.1 1.1 0 1 0 -2.2 0M392.0 64.5a1.1 1.1 0 1 0 2.2 0a1.1 1.1 0 1 0 -2.2 0M373.0 67.4a1.1 1.1 0 1 0 2.2 0a1.1 1.1 0 1 0 -2.2 0M382.3 52.0a1.1 1.1 0 1 0 2.2 0a1.1 1.1 0 1 0 -2.2 0M391.2 57.8a1.1 1.1 0 1 0 2.2 0a1.1 1.1 0 1 0 -2.2 0M373.3 64.2a1.1 1.1 0 1 0 2.2 0a1.1 1.1 0 1 0 -2.2 0M375.5 60.7a1.1 1.1 0 1 0 2.2 0a1.1 1.1 0 1 0 -2.2 0M368.9 47.0a1.1 1.1 0 1 0 2.2 0a1.1 1.1 0 1 0 -2.2 0M387.3 49.0a1.1 1.1 0 1 0 2.2 0a1.1 1.1 0 1 0 -2.2 0M385.9 54.9a1.1 1.1 0 1 0 2.2 0a1.1 1.1 0 1 0 -2.2 0M371.3 52.6a1.1 1.1 0 1 0 2.2 0a1.1 1.1 0 1 0 -2.2 0M391.2 40.2a1.1 1.1 0 1 0 2.2 0a1.1 1.1 0 1 0 -2.2 0M378.9 38.9a1.1 1.1 0 1 0 2.2 0a1.1 1.1 0 1 0 -2.2 0M379.9 36.6a1.1 1.1 0 1 0 2.2 0a1.1 1.1 0 1 0 -2.2 0M386.0 51.2a1.1 1.1 0 1 0 2.2 0a1.1 1.1 0 1 0 -2.2 0M388.4 53.6a1.1 1.1 0 1 0 2.2 0a1.1 1.1 0 1 0 -2.2 0M375.2 47.2a1.1 1.1 0 1 0 2.2 0a1.1 1.1 0 1 0 -2.2 0M384.3 36.8a1.1 1.1 0 1 0 2.2 0a1.1 1.1 0 1 0 -2.2 0M381.8 39.5a1.1 1.1 0 1 0 2.2 0a1.1 1.1 0 1 0 -2.2 0M393.3 39.6a1.1 1.1 0 1 0 2.2 0a1.1 1.1 0 1 0 -2.2 0M376.8 27.1a1.1 1.1 0 1 0 2.2 0a1.1 1.1 0 1 0 -2.2 0M393.2 33.9a1.1 1.1 0 1 0 2.2 0a1.1 1.1 0 1 0 -2.2 0M369.1 40.9a1.1 1.1 0 1 0 2.2 0a1.1 1.1 0 1 0 -2.2 0M387.0 36.3a1.1 1.1 0 1 0 2.2 0a1.1 1.1 0 1 0 -2.2 0M394.2 46.6a1.1 1.1 0 1 0 2.2 0a1.1 1.1 0 1 0 -2.2 0" fill="#0000ff"/>
<rect x="363.3" y="22.7" width="34.9" height="6.4" fill="#fff" stroke="#7a7a7a" stroke-width="0.75"/>
<circle cx="370.1" cy="25.9" r="1.2" fill="#0000ff"/>
<text x="376" y="27.3" class="lg" textLength="20.7" lengthAdjust="spacingAndGlyphs">Complex Data</text>
<text x="313" y="17.4" class="tt" textLength="57" lengthAdjust="spacingAndGlyphs">Distorted 64QAM Constellation</text>
<text x="381.8" y="7.3" class="inf" style="font-size:4.78px" textLength="32.3" lengthAdjust="spacing">SMF = 50 km</text>
<text x="381.8" y="14.2" class="inf" style="font-size:4.68px" textLength="33.4" lengthAdjust="spacing">EVM = 15.7 %</text>
<text x="345.8" y="147.1" class="sl" textLength="8.2" lengthAdjust="spacingAndGlyphs">(c)</text>
<path d="M442.4 18.2V131" stroke="#8a8a8a" stroke-width="0.8" stroke-dasharray="1.6 1.2" fill="none"/>
<path d="M425.6 94.7H543.5" stroke="#8a8a8a" stroke-width="0.8" stroke-dasharray="1.6 1.2" fill="none"/>
<path d="M425.6 18.2V131H543.5" stroke="#858585" stroke-width="1" fill="none"/>
<path d="M442.4 131v-1.2M463.5 131v-1.2M484.6 131v-1.2M505.6 131v-1.2M526.7 131v-1.2M425.6 114.9h1.2M425.6 94.7h1.2M425.6 74.6h1.2M425.6 54.5h1.2M425.6 34.3h1.2" stroke="#555" stroke-width="0.8" fill="none"/>
<text x="442.4" y="137.5" class="tl" text-anchor="middle">-10</text>
<text x="463.5" y="137.5" class="tl" text-anchor="middle">-5</text>
<text x="484.6" y="137.5" class="tl" text-anchor="middle">0</text>
<text x="505.6" y="137.5" class="tl" text-anchor="middle">5</text>
<text x="526.7" y="137.5" class="tl" text-anchor="middle">10</text>
<text x="424.1" y="116.4" class="tl" text-anchor="end">-10</text>
<text x="424.1" y="96.2" class="tl" text-anchor="end">-5</text>
<text x="424.1" y="76.1" class="tl" text-anchor="end">0</text>
<text x="424.1" y="56" class="tl" text-anchor="end">5</text>
<text x="424.1" y="35.8" class="tl" text-anchor="end">10</text>
<path d="M439.1 104.6a1.15 1.15 0 1 0 2.3 0a1.15 1.15 0 1 0 -2.3 0M441.1 103.0a1.15 1.15 0 1 0 2.3 0a1.15 1.15 0 1 0 -2.3 0M440.2 104.7a1.15 1.15 0 1 0 2.3 0a1.15 1.15 0 1 0 -2.3 0M432.8 106.0a1.15 1.15 0 1 0 2.3 0a1.15 1.15 0 1 0 -2.3 0M435.2 105.8a1.15 1.15 0 1 0 2.3 0a1.15 1.15 0 1 0 -2.3 0M440.7 98.9a1.15 1.15 0 1 0 2.3 0a1.15 1.15 0 1 0 -2.3 0M437.9 105.8a1.15 1.15 0 1 0 2.3 0a1.15 1.15 0 1 0 -2.3 0M436.7 104.8a1.15 1.15 0 1 0 2.3 0a1.15 1.15 0 1 0 -2.3 0M441.5 101.9a1.15 1.15 0 1 0 2.3 0a1.15 1.15 0 1 0 -2.3 0M438.6 95.9a1.15 1.15 0 1 0 2.3 0a1.15 1.15 0 1 0 -2.3 0M431.0 97.0a1.15 1.15 0 1 0 2.3 0a1.15 1.15 0 1 0 -2.3 0M433.7 93.7a1.15 1.15 0 1 0 2.3 0a1.15 1.15 0 1 0 -2.3 0M437.4 97.1a1.15 1.15 0 1 0 2.3 0a1.15 1.15 0 1 0 -2.3 0M435.9 90.2a1.15 1.15 0 1 0 2.3 0a1.15 1.15 0 1 0 -2.3 0M434.2 97.4a1.15 1.15 0 1 0 2.3 0a1.15 1.15 0 1 0 -2.3 0M436.4 96.8a1.15 1.15 0 1 0 2.3 0a1.15 1.15 0 1 0 -2.3 0M435.8 93.2a1.15 1.15 0 1 0 2.3 0a1.15 1.15 0 1 0 -2.3 0M442.3 99.9a1.15 1.15 0 1 0 2.3 0a1.15 1.15 0 1 0 -2.3 0M437.0 86.6a1.15 1.15 0 1 0 2.3 0a1.15 1.15 0 1 0 -2.3 0M436.8 87.2a1.15 1.15 0 1 0 2.3 0a1.15 1.15 0 1 0 -2.3 0M436.1 83.8a1.15 1.15 0 1 0 2.3 0a1.15 1.15 0 1 0 -2.3 0M435.7 87.1a1.15 1.15 0 1 0 2.3 0a1.15 1.15 0 1 0 -2.3 0M437.1 86.4a1.15 1.15 0 1 0 2.3 0a1.15 1.15 0 1 0 -2.3 0M436.6 83.8a1.15 1.15 0 1 0 2.3 0a1.15 1.15 0 1 0 -2.3 0M437.1 86.2a1.15 1.15 0 1 0 2.3 0a1.15 1.15 0 1 0 -2.3 0M436.9 89.6a1.15 1.15 0 1 0 2.3 0a1.15 1.15 0 1 0 -2.3 0M434.6 89.7a1.15 1.15 0 1 0 2.3 0a1.15 1.15 0 1 0 -2.3 0M437.7 80.7a1.15 1.15 0 1 0 2.3 0a1.15 1.15 0 1 0 -2.3 0M433.9 77.9a1.15 1.15 0 1 0 2.3 0a1.15 1.15 0 1 0 -2.3 0M438.7 83.7a1.15 1.15 0 1 0 2.3 0a1.15 1.15 0 1 0 -2.3 0M442.2 78.5a1.15 1.15 0 1 0 2.3 0a1.15 1.15 0 1 0 -2.3 0M436.8 75.5a1.15 1.15 0 1 0 2.3 0a1.15 1.15 0 1 0 -2.3 0M437.3 80.4a1.15 1.15 0 1 0 2.3 0a1.15 1.15 0 1 0 -2.3 0M443.7 81.7a1.15 1.15 0 1 0 2.3 0a1.15 1.15 0 1 0 -2.3 0M436.8 76.2a1.15 1.15 0 1 0 2.3 0a1.15 1.15 0 1 0 -2.3 0M433.8 78.9a1.15 1.15 0 1 0 2.3 0a1.15 1.15 0 1 0 -2.3 0M438.3 63.6a1.15 1.15 0 1 0 2.3 0a1.15 1.15 0 1 0 -2.3 0M434.4 70.7a1.15 1.15 0 1 0 2.3 0a1.15 1.15 0 1 0 -2.3 0M439.1 70.3a1.15 1.15 0 1 0 2.3 0a1.15 1.15 0 1 0 -2.3 0M433.4 69.4a1.15 1.15 0 1 0 2.3 0a1.15 1.15 0 1 0 -2.3 0M437.4 69.3a1.15 1.15 0 1 0 2.3 0a1.15 1.15 0 1 0 -2.3 0M440.5 67.6a1.15 1.15 0 1 0 2.3 0a1.15 1.15 0 1 0 -2.3 0M438.3 69.7a1.15 1.15 0 1 0 2.3 0a1.15 1.15 0 1 0 -2.3 0M433.8 71.0a1.15 1.15 0 1 0 2.3 0a1.15 1.15 0 1 0 -2.3 0M437.8 71.7a1.15 1.15 0 1 0 2.3 0a1.15 1.15 0 1 0 -2.3 0M437.4 64.9a1.15 1.15 0 1 0 2.3 0a1.15 1.15 0 1 0 -2.3 0M441.7 56.3a1.15 1.15 0 1 0 2.3 0a1.15 1.15 0 1 0 -2.3 0M435.9 61.4a1.15 1.15 0 1 0 2.3 0a1.15 1.15 0 1 0 -2.3 0M436.4 58.9a1.15 1.15 0 1 0 2.3 0a1.15 1.15 0 1 0 -2.3 0M438.4 62.3a1.15 1.15 0 1 0 2.3 0a1.15 1.15 0 1 0 -2.3 0M436.4 62.1a1.15 1.15 0 1 0 2.3 0a1.15 1.15 0 1 0 -2.3 0M434.0 60.6a1.15 1.15 0 1 0 2.3 0a1.15 1.15 0 1 0 -2.3 0M434.9 61.0a1.15 1.15 0 1 0 2.3 0a1.15 1.15 0 1 0 -2.3 0M437.5 59.3a1.15 1.15 0 1 0 2.3 0a1.15 1.15 0 1 0 -2.3 0M437.0 51.5a1.15 1.15 0 1 0 2.3 0a1.15 1.15 0 1 0 -2.3 0M434.3 52.7a1.15 1.15 0 1 0 2.3 0a1.15 1.15 0 1 0 -2.3 0M436.4 53.9a1.15 1.15 0 1 0 2.3 0a1.15 1.15 0 1 0 -2.3 0M437.3 51.7a1.15 1.15 0 1 0 2.3 0a1.15 1.15 0 1 0 -2.3 0M431.0 53.5a1.15 1.15 0 1 0 2.3 0a1.15 1.15 0 1 0 -2.3 0M432.6 51.0a1.15 1.15 0 1 0 2.3 0a1.15 1.15 0 1 0 -2.3 0M431.1 57.4a1.15 1.15 0 1 0 2.3 0a1.15 1.15 0 1 0 -2.3 0M432.0 49.7a1.15 1.15 0 1 0 2.3 0a1.15 1.15 0 1 0 -2.3 0M433.2 54.1a1.15 1.15 0 1 0 2.3 0a1.15 1.15 0 1 0 -2.3 0M435.5 51.6a1.15 1.15 0 1 0 2.3 0a1.15 1.15 0 1 0 -2.3 0M436.1 44.5a1.15 1.15 0 1 0 2.3 0a1.15 1.15 0 1 0 -2.3 0M436.5 43.7a1.15 1.15 0 1 0 2.3 0a1.15 1.15 0 1 0 -2.3 0M436.0 46.4a1.15 1.15 0 1 0 2.3 0a1.15 1.15 0 1 0 -2.3 0M435.9 45.4a1.15 1.15 0 1 0 2.3 0a1.15 1.15 0 1 0 -2.3 0M442.8 45.3a1.15 1.15 0 1 0 2.3 0a1.15 1.15 0 1 0 -2.3 0M437.7 48.2a1.15 1.15 0 1 0 2.3 0a1.15 1.15 0 1 0 -2.3 0M434.8 42.2a1.15 1.15 0 1 0 2.3 0a1.15 1.15 0 1 0 -2.3 0M433.7 49.0a1.15 1.15 0 1 0 2.3 0a1.15 1.15 0 1 0 -2.3 0M445.2 104.0a1.15 1.15 0 1 0 2.3 0a1.15 1.15 0 1 0 -2.3 0M451.4 109.7a1.15 1.15 0 1 0 2.3 0a1.15 1.15 0 1 0 -2.3 0M446.6 100.7a1.15 1.15 0 1 0 2.3 0a1.15 1.15 0 1 0 -2.3 0M442.1 104.7a1.15 1.15 0 1 0 2.3 0a1.15 1.15 0 1 0 -2.3 0M446.8 98.1a1.15 1.15 0 1 0 2.3 0a1.15 1.15 0 1 0 -2.3 0M442.7 107.4a1.15 1.15 0 1 0 2.3 0a1.15 1.15 0 1 0 -2.3 0M448.5 98.4a1.15 1.15 0 1 0 2.3 0a1.15 1.15 0 1 0 -2.3 0M444.5 109.2a1.15 1.15 0 1 0 2.3 0a1.15 1.15 0 1 0 -2.3 0M449.9 103.4a1.15 1.15 0 1 0 2.3 0a1.15 1.15 0 1 0 -2.3 0M448.9 94.9a1.15 1.15 0 1 0 2.3 0a1.15 1.15 0 1 0 -2.3 0M444.4 96.1a1.15 1.15 0 1 0 2.3 0a1.15 1.15 0 1 0 -2.3 0M450.0 90.6a1.15 1.15 0 1 0 2.3 0a1.15 1.15 0 1 0 -2.3 0M439.0 97.5a1.15 1.15 0 1 0 2.3 0a1.15 1.15 0 1 0 -2.3 0M450.9 95.8a1.15 1.15 0 1 0 2.3 0a1.15 1.15 0 1 0 -2.3 0M441.4 94.7a1.15 1.15 0 1 0 2.3 0a1.15 1.15 0 1 0 -2.3 0M445.2 95.0a1.15 1.15 0 1 0 2.3 0a1.15 1.15 0 1 0 -2.3 0M444.0 95.6a1.15 1.15 0 1 0 2.3 0a1.15 1.15 0 1 0 -2.3 0M444.1 93.8a1.15 1.15 0 1 0 2.3 0a1.15 1.15 0 1 0 -2.3 0M443.0 87.5a1.15 1.15 0 1 0 2.3 0a1.15 1.15 0 1 0 -2.3 0M445.1 82.9a1.15 1.15 0 1 0 2.3 0a1.15 1.15 0 1 0 -2.3 0M446.6 87.0a1.15 1.15 0 1 0 2.3 0a1.15 1.15 0 1 0 -2.3 0M447.1 85.5a1.15 1.15 0 1 0 2.3 0a1.15 1.15 0 1 0 -2.3 0M448.8 85.2a1.15 1.15 0 1 0 2.3 0a1.15 1.15 0 1 0 -2.3 0M450.9 82.8a1.15 1.15 0 1 0 2.3 0a1.15 1.15 0 1 0 -2.3 0M445.4 87.9a1.15 1.15 0 1 0 2.3 0a1.15 1.15 0 1 0 -2.3 0M448.2 85.2a1.15 1.15 0 1 0 2.3 0a1.15 1.15 0 1 0 -2.3 0M445.2 91.0a1.15 1.15 0 1 0 2.3 0a1.15 1.15 0 1 0 -2.3 0M439.9 77.6a1.15 1.15 0 1 0 2.3 0a1.15 1.15 0 1 0 -2.3 0M447.8 76.3a1.15 1.15 0 1 0 2.3 0a1.15 1.15 0 1 0 -2.3 0M441.6 75.6a1.15 1.15 0 1 0 2.3 0a1.15 1.15 0 1 0 -2.3 0M443.9 77.5a1.15 1.15 0 1 0 2.3 0a1.15 1.15 0 1 0 -2.3 0M446.8 81.0a1.15 1.15 0 1 0 2.3 0a1.15 1.15 0 1 0 -2.3 0M443.7 84.6a1.15 1.15 0 1 0 2.3 0a1.15 1.15 0 1 0 -2.3 0M442.7 83.9a1.15 1.15 0 1 0 2.3 0a1.15 1.15 0 1 0 -2.3 0M446.8 78.5a1.15 1.15 0 1 0 2.3 0a1.15 1.15 0 1 0 -2.3 0M448.3 77.6a1.15 1.15 0 1 0 2.3 0a1.15 1.15 0 1 0 -2.3 0M443.6 69.6a1.15 1.15 0 1 0 2.3 0a1.15 1.15 0 1 0 -2.3 0M444.3 68.8a1.15 1.15 0 1 0 2.3 0a1.15 1.15 0 1 0 -2.3 0M446.5 73.4a1.15 1.15 0 1 0 2.3 0a1.15 1.15 0 1 0 -2.3 0M445.5 70.4a1.15 1.15 0 1 0 2.3 0a1.15 1.15 0 1 0 -2.3 0M444.6 68.0a1.15 1.15 0 1 0 2.3 0a1.15 1.15 0 1 0 -2.3 0M450.7 71.6a1.15 1.15 0 1 0 2.3 0a1.15 1.15 0 1 0 -2.3 0M444.4 77.1a1.15 1.15 0 1 0 2.3 0a1.15 1.15 0 1 0 -2.3 0M445.1 71.8a1.15 1.15 0 1 0 2.3 0a1.15 1.15 0 1 0 -2.3 0M439.0 69.7a1.15 1.15 0 1 0 2.3 0a1.15 1.15 0 1 0 -2.3 0M447.3 64.6a1.15 1.15 0 1 0 2.3 0a1.15 1.15 0 1 0 -2.3 0M444.4 65.3a1.15 1.15 0 1 0 2.3 0a1.15 1.15 0 1 0 -2.3 0M447.8 66.9a1.15 1.15 0 1 0 2.3 0a1.15 1.15 0 1 0 -2.3 0M444.6 56.9a1.15 1.15 0 1 0 2.3 0a1.15 1.15 0 1 0 -2.3 0M445.7 61.2a1.15 1.15 0 1 0 2.3 0a1.15 1.15 0 1 0 -2.3 0M445.1 65.9a1.15 1.15 0 1 0 2.3 0a1.15 1.15 0 1 0 -2.3 0M445.4 61.3a1.15 1.15 0 1 0 2.3 0a1.15 1.15 0 1 0 -2.3 0M442.4 61.5a1.15 1.15 0 1 0 2.3 0a1.15 1.15 0 1 0 -2.3 0M449.3 59.4a1.15 1.15 0 1 0 2.3 0a1.15 1.15 0 1 0 -2.3 0M440.7 57.3a1.15 1.15 0 1 0 2.3 0a1.15 1.15 0 1 0 -2.3 0M440.6 51.4a1.15 1.15 0 1 0 2.3 0a1.15 1.15 0 1 0 -2.3 0M447.4 52.4a1.15 1.15 0 1 0 2.3 0a1.15 1.15 0 1 0 -2.3 0M442.8 57.8a1.15 1.15 0 1 0 2.3 0a1.15 1.15 0 1 0 -2.3 0M445.7 54.2a1.15 1.15 0 1 0 2.3 0a1.15 1.15 0 1 0 -2.3 0M442.9 54.0a1.15 1.15 0 1 0 2.3 0a1.15 1.15 0 1 0 -2.3 0M447.5 53.8a1.15 1.15 0 1 0 2.3 0a1.15 1.15 0 1 0 -2.3 0M442.4 60.6a1.15 1.15 0 1 0 2.3 0a1.15 1.15 0 1 0 -2.3 0M444.7 54.0a1.15 1.15 0 1 0 2.3 0a1.15 1.15 0 1 0 -2.3 0M444.7 47.6a1.15 1.15 0 1 0 2.3 0a1.15 1.15 0 1 0 -2.3 0M443.4 44.3a1.15 1.15 0 1 0 2.3 0a1.15 1.15 0 1 0 -2.3 0M445.3 46.0a1.15 1.15 0 1 0 2.3 0a1.15 1.15 0 1 0 -2.3 0M442.6 48.2a1.15 1.15 0 1 0 2.3 0a1.15 1.15 0 1 0 -2.3 0M446.0 49.3a1.15 1.15 0 1 0 2.3 0a1.15 1.15 0 1 0 -2.3 0M441.7 47.4a1.15 1.15 0 1 0 2.3 0a1.15 1.15 0 1 0 -2.3 0M449.1 45.8a1.15 1.15 0 1 0 2.3 0a1.15 1.15 0 1 0 -2.3 0M449.9 46.8a1.15 1.15 0 1 0 2.3 0a1.15 1.15 0 1 0 -2.3 0M444.6 50.4a1.15 1.15 0 1 0 2.3 0a1.15 1.15 0 1 0 -2.3 0M452.2 114.8a1.15 1.15 0 1 0 2.3 0a1.15 1.15 0 1 0 -2.3 0M454.9 116.8a1.15 1.15 0 1 0 2.3 0a1.15 1.15 0 1 0 -2.3 0M456.1 118.9a1.15 1.15 0 1 0 2.3 0a1.15 1.15 0 1 0 -2.3 0M453.3 118.6a1.15 1.15 0 1 0 2.3 0a1.15 1.15 0 1 0 -2.3 0M456.0 117.6a1.15 1.15 0 1 0 2.3 0a1.15 1.15 0 1 0 -2.3 0M455.4 118.5a1.15 1.15 0 1 0 2.3 0a1.15 1.15 0 1 0 -2.3 0M451.6 119.7a1.15 1.15 0 1 0 2.3 0a1.15 1.15 0 1 0 -2.3 0M451.1 116.0a1.15 1.15 0 1 0 2.3 0a1.15 1.15 0 1 0 -2.3 0M447.6 119.5a1.15 1.15 0 1 0 2.3 0a1.15 1.15 0 1 0 -2.3 0M461.2 111.8a1.15 1.15 0 1 0 2.3 0a1.15 1.15 0 1 0 -2.3 0M450.5 110.9a1.15 1.15 0 1 0 2.3 0a1.15 1.15 0 1 0 -2.3 0M457.8 111.3a1.15 1.15 0 1 0 2.3 0a1.15 1.15 0 1 0 -2.3 0M455.8 110.6a1.15 1.15 0 1 0 2.3 0a1.15 1.15 0 1 0 -2.3 0M452.8 101.7a1.15 1.15 0 1 0 2.3 0a1.15 1.15 0 1 0 -2.3 0M454.1 112.4a1.15 1.15 0 1 0 2.3 0a1.15 1.15 0 1 0 -2.3 0M452.4 109.8a1.15 1.15 0 1 0 2.3 0a1.15 1.15 0 1 0 -2.3 0M455.2 108.6a1.15 1.15 0 1 0 2.3 0a1.15 1.15 0 1 0 -2.3 0M454.4 115.0a1.15 1.15 0 1 0 2.3 0a1.15 1.15 0 1 0 -2.3 0M455.5 103.7a1.15 1.15 0 1 0 2.3 0a1.15 1.15 0 1 0 -2.3 0M453.1 107.1a1.15 1.15 0 1 0 2.3 0a1.15 1.15 0 1 0 -2.3 0M452.2 104.9a1.15 1.15 0 1 0 2.3 0a1.15 1.15 0 1 0 -2.3 0M453.8 107.0a1.15 1.15 0 1 0 2.3 0a1.15 1.15 0 1 0 -2.3 0M454.1 102.4a1.15 1.15 0 1 0 2.3 0a1.15 1.15 0 1 0 -2.3 0M450.5 104.6a1.15 1.15 0 1 0 2.3 0a1.15 1.15 0 1 0 -2.3 0M451.3 100.2a1.15 1.15 0 1 0 2.3 0a1.15 1.15 0 1 0 -2.3 0M446.3 103.8a1.15 1.15 0 1 0 2.3 0a1.15 1.15 0 1 0 -2.3 0M448.9 104.1a1.15 1.15 0 1 0 2.3 0a1.15 1.15 0 1 0 -2.3 0M456.5 96.6a1.15 1.15 0 1 0 2.3 0a1.15 1.15 0 1 0 -2.3 0M454.3 97.2a1.15 1.15 0 1 0 2.3 0a1.15 1.15 0 1 0 -2.3 0M459.8 92.1a1.15 1.15 0 1 0 2.3 0a1.15 1.15 0 1 0 -2.3 0M457.3 98.6a1.15 1.15 0 1 0 2.3 0a1.15 1.15 0 1 0 -2.3 0M450.6 91.6a1.15 1.15 0 1 0 2.3 0a1.15 1.15 0 1 0 -2.3 0M453.3 95.5a1.15 1.15 0 1 0 2.3 0a1.15 1.15 0 1 0 -2.3 0M454.9 98.4a1.15 1.15 0 1 0 2.3 0a1.15 1.15 0 1 0 -2.3 0M456.3 94.7a1.15 1.15 0 1 0 2.3 0a1.15 1.15 0 1 0 -2.3 0M455.4 96.7a1.15 1.15 0 1 0 2.3 0a1.15 1.15 0 1 0 -2.3 0M455.5 88.7a1.15 1.15 0 1 0 2.3 0a1.15 1.15 0 1 0 -2.3 0M456.8 83.4a1.15 1.15 0 1 0 2.3 0a1.15 1.15 0 1 0 -2.3 0M456.7 85.2a1.15 1.15 0 1 0 2.3 0a1.15 1.15 0 1 0 -2.3 0M455.8 94.5a1.15 1.15 0 1 0 2.3 0a1.15 1.15 0 1 0 -2.3 0M456.5 87.5a1.15 1.15 0 1 0 2.3 0a1.15 1.15 0 1 0 -2.3 0M454.2 87.5a1.15 1.15 0 1 0 2.3 0a1.15 1.15 0 1 0 -2.3 0M449.7 88.2a1.15 1.15 0 1 0 2.3 0a1.15 1.15 0 1 0 -2.3 0M455.9 82.6a1.15 1.15 0 1 0 2.3 0a1.15 1.15 0 1 0 -2.3 0M452.0 89.3a1.15 1.15 0 1 0 2.3 0a1.15 1.15 0 1 0 -2.3 0M458.3 81.2a1.15 1.15 0 1 0 2.3 0a1.15 1.15 0 1 0 -2.3 0M460.2 78.5a1.15 1.15 0 1 0 2.3 0a1.15 1.15 0 1 0 -2.3 0M451.2 75.8a1.15 1.15 0 1 0 2.3 0a1.15 1.15 0 1 0 -2.3 0M459.1 82.8a1.15 1.15 0 1 0 2.3 0a1.15 1.15 0 1 0 -2.3 0M458.7 79.4a1.15 1.15 0 1 0 2.3 0a1.15 1.15 0 1 0 -2.3 0M458.4 79.7a1.15 1.15 0 1 0 2.3 0a1.15 1.15 0 1 0 -2.3 0M449.1 77.2a1.15 1.15 0 1 0 2.3 0a1.15 1.15 0 1 0 -2.3 0M456.7 72.5a1.15 1.15 0 1 0 2.3 0a1.15 1.15 0 1 0 -2.3 0M459.2 76.6a1.15 1.15 0 1 0 2.3 0a1.15 1.15 0 1 0 -2.3 0M453.2 72.1a1.15 1.15 0 1 0 2.3 0a1.15 1.15 0 1 0 -2.3 0M453.0 73.0a1.15 1.15 0 1 0 2.3 0a1.15 1.15 0 1 0 -2.3 0M453.1 78.0a1.15 1.15 0 1 0 2.3 0a1.15 1.15 0 1 0 -2.3 0M454.5 70.7a1.15 1.15 0 1 0 2.3 0a1.15 1.15 0 1 0 -2.3 0M461.7 68.4a1.15 1.15 0 1 0 2.3 0a1.15 1.15 0 1 0 -2.3 0M452.5 68.9a1.15 1.15 0 1 0 2.3 0a1.15 1.15 0 1 0 -2.3 0M450.2 72.3a1.15 1.15 0 1 0 2.3 0a1.15 1.15 0 1 0 -2.3 0M448.3 66.4a1.15 1.15 0 1 0 2.3 0a1.15 1.15 0 1 0 -2.3 0M455.7 74.0a1.15 1.15 0 1 0 2.3 0a1.15 1.15 0 1 0 -2.3 0M453.7 59.8a1.15 1.15 0 1 0 2.3 0a1.15 1.15 0 1 0 -2.3 0M455.4 61.4a1.15 1.15 0 1 0 2.3 0a1.15 1.15 0 1 0 -2.3 0M451.3 64.4a1.15 1.15 0 1 0 2.3 0a1.15 1.15 0 1 0 -2.3 0M454.2 59.8a1.15 1.15 0 1 0 2.3 0a1.15 1.15 0 1 0 -2.3 0M451.4 65.8a1.15 1.15 0 1 0 2.3 0a1.15 1.15 0 1 0 -2.3 0M457.4 65.2a1.15 1.15 0 1 0 2.3 0a1.15 1.15 0 1 0 -2.3 0M457.2 61.8a1.15 1.15 0 1 0 2.3 0a1.15 1.15 0 1 0 -2.3 0M456.6 57.5a1.15 1.15 0 1 0 2.3 0a1.15 1.15 0 1 0 -2.3 0M456.0 60.3a1.15 1.15 0 1 0 2.3 0a1.15 1.15 0 1 0 -2.3 0M451.1 56.5a1.15 1.15 0 1 0 2.3 0a1.15 1.15 0 1 0 -2.3 0M455.9 50.0a1.15 1.15 0 1 0 2.3 0a1.15 1.15 0 1 0 -2.3 0M458.1 47.7a1.15 1.15 0 1 0 2.3 0a1.15 1.15 0 1 0 -2.3 0M454.9 53.9a1.15 1.15 0 1 0 2.3 0a1.15 1.15 0 1 0 -2.3 0M457.0 54.4a1.15 1.15 0 1 0 2.3 0a1.15 1.15 0 1 0 -2.3 0M453.7 57.5a1.15 1.15 0 1 0 2.3 0a1.15 1.15 0 1 0 -2.3 0M456.9 57.6a1.15 1.15 0 1 0 2.3 0a1.15 1.15 0 1 0 -2.3 0M455.5 58.6a1.15 1.15 0 1 0 2.3 0a1.15 1.15 0 1 0 -2.3 0M457.2 57.4a1.15 1.15 0 1 0 2.3 0a1.15 1.15 0 1 0 -2.3 0M456.5 51.0a1.15 1.15 0 1 0 2.3 0a1.15 1.15 0 1 0 -2.3 0M452.6 43.0a1.15 1.15 0 1 0 2.3 0a1.15 1.15 0 1 0 -2.3 0M451.5 46.2a1.15 1.15 0 1 0 2.3 0a1.15 1.15 0 1 0 -2.3 0M452.5 53.1a1.15 1.15 0 1 0 2.3 0a1.15 1.15 0 1 0 -2.3 0M454.9 45.1a1.15 1.15 0 1 0 2.3 0a1.15 1.15 0 1 0 -2.3 0M450.6 44.7a1.15 1.15 0 1 0 2.3 0a1.15 1.15 0 1 0 -2.3 0M451.5 49.3a1.15 1.15 0 1 0 2.3 0a1.15 1.15 0 1 0 -2.3 0M453.9 48.4a1.15 1.15 0 1 0 2.3 0a1.15 1.15 0 1 0 -2.3 0M460.9 50.9a1.15 1.15 0 1 0 2.3 0a1.15 1.15 0 1 0 -2.3 0M456.2 35.5a1.15 1.15 0 1 0 2.3 0a1.15 1.15 0 1 0 -2.3 0M447.9 43.4a1.15 1.15 0 1 0 2.3 0a1.15 1.15 0 1 0 -2.3 0M455.6 39.7a1.15 1.15 0 1 0 2.3 0a1.15 1.15 0 1 0 -2.3 0M455.1 35.0a1.15 1.15 0 1 0 2.3 0a1.15 1.15 0 1 0 -2.3 0M452.8 41.4a1.15 1.15 0 1 0 2.3 0a1.15 1.15 0 1 0 -2.3 0M445.7 37.7a1.15 1.15 0 1 0 2.3 0a1.15 1.15 0 1 0 -2.3 0M451.1 37.4a1.15 1.15 0 1 0 2.3 0a1.15 1.15 0 1 0 -2.3 0M454.6 42.4a1.15 1.15 0 1 0 2.3 0a1.15 1.15 0 1 0 -2.3 0M459.2 35.2a1.15 1.15 0 1 0 2.3 0a1.15 1.15 0 1 0 -2.3 0M456.5 33.7a1.15 1.15 0 1 0 2.3 0a1.15 1.15 0 1 0 -2.3 0M452.7 31.9a1.15 1.15 0 1 0 2.3 0a1.15 1.15 0 1 0 -2.3 0M452.7 33.5a1.15 1.15 0 1 0 2.3 0a1.15 1.15 0 1 0 -2.3 0M455.2 29.6a1.15 1.15 0 1 0 2.3 0a1.15 1.15 0 1 0 -2.3 0M455.0 31.8a1.15 1.15 0 1 0 2.3 0a1.15 1.15 0 1 0 -2.3 0M457.8 29.7a1.15 1.15 0 1 0 2.3 0a1.15 1.15 0 1 0 -2.3 0M445.6 32.1a1.15 1.15 0 1 0 2.3 0a1.15 1.15 0 1 0 -2.3 0M453.8 27.5a1.15 1.15 0 1 0 2.3 0a1.15 1.15 0 1 0 -2.3 0M453.0 31.0a1.15 1.15 0 1 0 2.3 0a1.15 1.15 0 1 0 -2.3 0M460.3 117.0a1.15 1.15 0 1 0 2.3 0a1.15 1.15 0 1 0 -2.3 0M461.0 120.7a1.15 1.15 0 1 0 2.3 0a1.15 1.15 0 1 0 -2.3 0M460.1 117.3a1.15 1.15 0 1 0 2.3 0a1.15 1.15 0 1 0 -2.3 0M460.7 123.8a1.15 1.15 0 1 0 2.3 0a1.15 1.15 0 1 0 -2.3 0M464.2 120.9a1.15 1.15 0 1 0 2.3 0a1.15 1.15 0 1 0 -2.3 0M463.4 117.8a1.15 1.15 0 1 0 2.3 0a1.15 1.15 0 1 0 -2.3 0M466.0 115.9a1.15 1.15 0 1 0 2.3 0a1.15 1.15 0 1 0 -2.3 0M460.6 119.4a1.15 1.15 0 1 0 2.3 0a1.15 1.15 0 1 0 -2.3 0M458.4 114.0a1.15 1.15 0 1 0 2.3 0a1.15 1.15 0 1 0 -2.3 0M463.7 106.8a1.15 1.15 0 1 0 2.3 0a1.15 1.15 0 1 0 -2.3 0M461.4 116.8a1.15 1.15 0 1 0 2.3 0a1.15 1.15 0 1 0 -2.3 0M467.0 110.6a1.15 1.15 0 1 0 2.3 0a1.15 1.15 0 1 0 -2.3 0M462.8 110.7a1.15 1.15 0 1 0 2.3 0a1.15 1.15 0 1 0 -2.3 0M464.3 109.3a1.15 1.15 0 1 0 2.3 0a1.15 1.15 0 1 0 -2.3 0M457.5 107.7a1.15 1.15 0 1 0 2.3 0a1.15 1.15 0 1 0 -2.3 0M460.7 112.2a1.15 1.15 0 1 0 2.3 0a1.15 1.15 0 1 0 -2.3 0M467.6 108.2a1.15 1.15 0 1 0 2.3 0a1.15 1.15 0 1 0 -2.3 0M461.3 116.2a1.15 1.15 0 1 0 2.3 0a1.15 1.15 0 1 0 -2.3 0M462.8 101.2a1.15 1.15 0 1 0 2.3 0a1.15 1.15 0 1 0 -2.3 0M462.1 106.4a1.15 1.15 0 1 0 2.3 0a1.15 1.15 0 1 0 -2.3 0M459.9 106.4a1.15 1.15 0 1 0 2.3 0a1.15 1.15 0 1 0 -2.3 0M463.0 100.4a1.15 1.15 0 1 0 2.3 0a1.15 1.15 0 1 0 -2.3 0M465.5 104.9a1.15 1.15 0 1 0 2.3 0a1.15 1.15 0 1 0 -2.3 0M463.1 101.2a1.15 1.15 0 1 0 2.3 0a1.15 1.15 0 1 0 -2.3 0M460.8 103.2a1.15 1.15 0 1 0 2.3 0a1.15 1.15 0 1 0 -2.3 0M468.8 102.2a1.15 1.15 0 1 0 2.3 0a1.15 1.15 0 1 0 -2.3 0M465.0 104.1a1.15 1.15 0 1 0 2.3 0a1.15 1.15 0 1 0 -2.3 0M462.5 99.7a1.15 1.15 0 1 0 2.3 0a1.15 1.15 0 1 0 -2.3 0M462.3 91.3a1.15 1.15 0 1 0 2.3 0a1.15 1.15 0 1 0 -2.3 0M468.7 91.3a1.15 1.15 0 1 0 2.3 0a1.15 1.15 0 1 0 -2.3 0M464.4 94.6a1.15 1.15 0 1 0 2.3 0a1.15 1.15 0 1 0 -2.3 0M460.5 95.2a1.15 1.15 0 1 0 2.3 0a1.15 1.15 0 1 0 -2.3 0M464.2 97.0a1.15 1.15 0 1 0 2.3 0a1.15 1.15 0 1 0 -2.3 0M465.2 97.6a1.15 1.15 0 1 0 2.3 0a1.15 1.15 0 1 0 -2.3 0M457.0 97.7a1.15 1.15 0 1 0 2.3 0a1.15 1.15 0 1 0 -2.3 0M457.3 98.7a1.15 1.15 0 1 0 2.3 0a1.15 1.15 0 1 0 -2.3 0M465.8 87.3a1.15 1.15 0 1 0 2.3 0a1.15 1.15 0 1 0 -2.3 0M463.0 83.3a1.15 1.15 0 1 0 2.3 0a1.15 1.15 0 1 0 -2.3 0M466.2 88.1a1.15 1.15 0 1 0 2.3 0a1.15 1.15 0 1 0 -2.3 0M466.4 85.6a1.15 1.15 0 1 0 2.3 0a1.15 1.15 0 1 0 -2.3 0M462.4 85.4a1.15 1.15 0 1 0 2.3 0a1.15 1.15 0 1 0 -2.3 0M458.0 89.0a1.15 1.15 0 1 0 2.3 0a1.15 1.15 0 1 0 -2.3 0M462.0 84.9a1.15 1.15 0 1 0 2.3 0a1.15 1.15 0 1 0 -2.3 0M461.2 87.1a1.15 1.15 0 1 0 2.3 0a1.15 1.15 0 1 0 -2.3 0M465.3 82.6a1.15 1.15 0 1 0 2.3 0a1.15 1.15 0 1 0 -2.3 0M464.7 74.9a1.15 1.15 0 1 0 2.3 0a1.15 1.15 0 1 0 -2.3 0M461.1 79.5a1.15 1.15 0 1 0 2.3 0a1.15 1.15 0 1 0 -2.3 0M463.3 79.5a1.15 1.15 0 1 0 2.3 0a1.15 1.15 0 1 0 -2.3 0M460.8 73.8a1.15 1.15 0 1 0 2.3 0a1.15 1.15 0 1 0 -2.3 0M461.7 81.4a1.15 1.15 0 1 0 2.3 0a1.15 1.15 0 1 0 -2.3 0M463.8 73.3a1.15 1.15 0 1 0 2.3 0a1.15 1.15 0 1 0 -2.3 0M462.6 75.1a1.15 1.15 0 1 0 2.3 0a1.15 1.15 0 1 0 -2.3 0M461.0 80.1a1.15 1.15 0 1 0 2.3 0a1.15 1.15 0 1 0 -2.3 0M460.3 79.0a1.15 1.15 0 1 0 2.3 0a1.15 1.15 0 1 0 -2.3 0M467.9 73.9a1.15 1.15 0 1 0 2.3 0a1.15 1.15 0 1 0 -2.3 0M467.3 73.5a1.15 1.15 0 1 0 2.3 0a1.15 1.15 0 1 0 -2.3 0M461.6 68.1a1.15 1.15 0 1 0 2.3 0a1.15 1.15 0 1 0 -2.3 0M464.3 69.8a1.15 1.15 0 1 0 2.3 0a1.15 1.15 0 1 0 -2.3 0M457.3 69.5a1.15 1.15 0 1 0 2.3 0a1.15 1.15 0 1 0 -2.3 0M459.2 63.1a1.15 1.15 0 1 0 2.3 0a1.15 1.15 0 1 0 -2.3 0M461.7 70.0a1.15 1.15 0 1 0 2.3 0a1.15 1.15 0 1 0 -2.3 0M458.9 72.0a1.15 1.15 0 1 0 2.3 0a1.15 1.15 0 1 0 -2.3 0M458.4 67.7a1.15 1.15 0 1 0 2.3 0a1.15 1.15 0 1 0 -2.3 0M461.6 60.9a1.15 1.15 0 1 0 2.3 0a1.15 1.15 0 1 0 -2.3 0M460.3 64.0a1.15 1.15 0 1 0 2.3 0a1.15 1.15 0 1 0 -2.3 0M466.3 65.3a1.15 1.15 0 1 0 2.3 0a1.15 1.15 0 1 0 -2.3 0M456.9 61.3a1.15 1.15 0 1 0 2.3 0a1.15 1.15 0 1 0 -2.3 0M458.9 63.8a1.15 1.15 0 1 0 2.3 0a1.15 1.15 0 1 0 -2.3 0M465.1 64.9a1.15 1.15 0 1 0 2.3 0a1.15 1.15 0 1 0 -2.3 0M465.0 64.5a1.15 1.15 0 1 0 2.3 0a1.15 1.15 0 1 0 -2.3 0M466.9 58.7a1.15 1.15 0 1 0 2.3 0a1.15 1.15 0 1 0 -2.3 0M460.9 63.1a1.15 1.15 0 1 0 2.3 0a1.15 1.15 0 1 0 -2.3 0M459.8 53.9a1.15 1.15 0 1 0 2.3 0a1.15 1.15 0 1 0 -2.3 0M465.8 58.7a1.15 1.15 0 1 0 2.3 0a1.15 1.15 0 1 0 -2.3 0M465.1 58.3a1.15 1.15 0 1 0 2.3 0a1.15 1.15 0 1 0 -2.3 0M459.7 59.6a1.15 1.15 0 1 0 2.3 0a1.15 1.15 0 1 0 -2.3 0M468.7 54.3a1.15 1.15 0 1 0 2.3 0a1.15 1.15 0 1 0 -2.3 0M463.1 56.4a1.15 1.15 0 1 0 2.3 0a1.15 1.15 0 1 0 -2.3 0M465.6 60.6a1.15 1.15 0 1 0 2.3 0a1.15 1.15 0 1 0 -2.3 0M462.4 48.1a1.15 1.15 0 1 0 2.3 0a1.15 1.15 0 1 0 -2.3 0M461.2 54.4a1.15 1.15 0 1 0 2.3 0a1.15 1.15 0 1 0 -2.3 0M464.4 48.8a1.15 1.15 0 1 0 2.3 0a1.15 1.15 0 1 0 -2.3 0M462.4 43.6a1.15 1.15 0 1 0 2.3 0a1.15 1.15 0 1 0 -2.3 0M462.9 45.3a1.15 1.15 0 1 0 2.3 0a1.15 1.15 0 1 0 -2.3 0M461.3 45.5a1.15 1.15 0 1 0 2.3 0a1.15 1.15 0 1 0 -2.3 0M462.5 42.2a1.15 1.15 0 1 0 2.3 0a1.15 1.15 0 1 0 -2.3 0M464.5 47.1a1.15 1.15 0 1 0 2.3 0a1.15 1.15 0 1 0 -2.3 0M454.9 44.3a1.15 1.15 0 1 0 2.3 0a1.15 1.15 0 1 0 -2.3 0M464.6 49.1a1.15 1.15 0 1 0 2.3 0a1.15 1.15 0 1 0 -2.3 0M456.3 49.7a1.15 1.15 0 1 0 2.3 0a1.15 1.15 0 1 0 -2.3 0M465.2 41.4a1.15 1.15 0 1 0 2.3 0a1.15 1.15 0 1 0 -2.3 0M461.0 37.7a1.15 1.15 0 1 0 2.3 0a1.15 1.15 0 1 0 -2.3 0M466.1 38.4a1.15 1.15 0 1 0 2.3 0a1.15 1.15 0 1 0 -2.3 0M462.0 39.9a1.15 1.15 0 1 0 2.3 0a1.15 1.15 0 1 0 -2.3 0M467.3 35.3a1.15 1.15 0 1 0 2.3 0a1.15 1.15 0 1 0 -2.3 0M462.1 42.4a1.15 1.15 0 1 0 2.3 0a1.15 1.15 0 1 0 -2.3 0M460.0 36.7a1.15 1.15 0 1 0 2.3 0a1.15 1.15 0 1 0 -2.3 0M460.2 35.8a1.15 1.15 0 1 0 2.3 0a1.15 1.15 0 1 0 -2.3 0M463.4 37.5a1.15 1.15 0 1 0 2.3 0a1.15 1.15 0 1 0 -2.3 0M464.3 28.8a1.15 1.15 0 1 0 2.3 0a1.15 1.15 0 1 0 -2.3 0M459.8 31.2a1.15 1.15 0 1 0 2.3 0a1.15 1.15 0 1 0 -2.3 0M469.4 33.8a1.15 1.15 0 1 0 2.3 0a1.15 1.15 0 1 0 -2.3 0M460.9 27.2a1.15 1.15 0 1 0 2.3 0a1.15 1.15 0 1 0 -2.3 0M461.9 32.6a1.15 1.15 0 1 0 2.3 0a1.15 1.15 0 1 0 -2.3 0M458.3 28.7a1.15 1.15 0 1 0 2.3 0a1.15 1.15 0 1 0 -2.3 0M465.4 26.2a1.15 1.15 0 1 0 2.3 0a1.15 1.15 0 1 0 -2.3 0M462.5 27.3a1.15 1.15 0 1 0 2.3 0a1.15 1.15 0 1 0 -2.3 0M459.2 29.8a1.15 1.15 0 1 0 2.3 0a1.15 1.15 0 1 0 -2.3 0M468.7 118.4a1.15 1.15 0 1 0 2.3 0a1.15 1.15 0 1 0 -2.3 0M473.0 115.8a1.15 1.15 0 1 0 2.3 0a1.15 1.15 0 1 0 -2.3 0M467.8 115.2a1.15 1.15 0 1 0 2.3 0a1.15 1.15 0 1 0 -2.3 0M469.3 121.9a1.15 1.15 0 1 0 2.3 0a1.15 1.15 0 1 0 -2.3 0M470.3 123.2a1.15 1.15 0 1 0 2.3 0a1.15 1.15 0 1 0 -2.3 0M470.8 118.1a1.15 1.15 0 1 0 2.3 0a1.15 1.15 0 1 0 -2.3 0M470.2 117.4a1.15 1.15 0 1 0 2.3 0a1.15 1.15 0 1 0 -2.3 0M469.8 118.9a1.15 1.15 0 1 0 2.3 0a1.15 1.15 0 1 0 -2.3 0M466.4 118.8a1.15 1.15 0 1 0 2.3 0a1.15 1.15 0 1 0 -2.3 0M468.2 112.2a1.15 1.15 0 1 0 2.3 0a1.15 1.15 0 1 0 -2.3 0M470.5 110.3a1.15 1.15 0 1 0 2.3 0a1.15 1.15 0 1 0 -2.3 0M465.8 115.4a1.15 1.15 0 1 0 2.3 0a1.15 1.15 0 1 0 -2.3 0M469.9 109.5a1.15 1.15 0 1 0 2.3 0a1.15 1.15 0 1 0 -2.3 0M471.9 108.3a1.15 1.15 0 1 0 2.3 0a1.15 1.15 0 1 0 -2.3 0M474.7 109.4a1.15 1.15 0 1 0 2.3 0a1.15 1.15 0 1 0 -2.3 0M470.7 113.8a1.15 1.15 0 1 0 2.3 0a1.15 1.15 0 1 0 -2.3 0M467.9 112.2a1.15 1.15 0 1 0 2.3 0a1.15 1.15 0 1 0 -2.3 0M471.6 110.2a1.15 1.15 0 1 0 2.3 0a1.15 1.15 0 1 0 -2.3 0M470.8 103.2a1.15 1.15 0 1 0 2.3 0a1.15 1.15 0 1 0 -2.3 0M472.7 102.2a1.15 1.15 0 1 0 2.3 0a1.15 1.15 0 1 0 -2.3 0M471.7 101.9a1.15 1.15 0 1 0 2.3 0a1.15 1.15 0 1 0 -2.3 0M469.1 105.8a1.15 1.15 0 1 0 2.3 0a1.15 1.15 0 1 0 -2.3 0M472.3 101.6a1.15 1.15 0 1 0 2.3 0a1.15 1.15 0 1 0 -2.3 0M470.1 104.0a1.15 1.15 0 1 0 2.3 0a1.15 1.15 0 1 0 -2.3 0M477.7 105.0a1.15 1.15 0 1 0 2.3 0a1.15 1.15 0 1 0 -2.3 0M470.1 102.0a1.15 1.15 0 1 0 2.3 0a1.15 1.15 0 1 0 -2.3 0M467.3 102.5a1.15 1.15 0 1 0 2.3 0a1.15 1.15 0 1 0 -2.3 0M476.2 92.0a1.15 1.15 0 1 0 2.3 0a1.15 1.15 0 1 0 -2.3 0M472.7 93.0a1.15 1.15 0 1 0 2.3 0a1.15 1.15 0 1 0 -2.3 0M471.1 92.0a1.15 1.15 0 1 0 2.3 0a1.15 1.15 0 1 0 -2.3 0M470.3 96.0a1.15 1.15 0 1 0 2.3 0a1.15 1.15 0 1 0 -2.3 0M471.1 92.1a1.15 1.15 0 1 0 2.3 0a1.15 1.15 0 1 0 -2.3 0M471.8 92.8a1.15 1.15 0 1 0 2.3 0a1.15 1.15 0 1 0 -2.3 0M464.6 91.3a1.15 1.15 0 1 0 2.3 0a1.15 1.15 0 1 0 -2.3 0M477.9 90.9a1.15 1.15 0 1 0 2.3 0a1.15 1.15 0 1 0 -2.3 0M469.8 97.2a1.15 1.15 0 1 0 2.3 0a1.15 1.15 0 1 0 -2.3 0M471.6 89.5a1.15 1.15 0 1 0 2.3 0a1.15 1.15 0 1 0 -2.3 0M473.0 88.2a1.15 1.15 0 1 0 2.3 0a1.15 1.15 0 1 0 -2.3 0M473.7 82.7a1.15 1.15 0 1 0 2.3 0a1.15 1.15 0 1 0 -2.3 0M464.6 85.8a1.15 1.15 0 1 0 2.3 0a1.15 1.15 0 1 0 -2.3 0M468.7 90.8a1.15 1.15 0 1 0 2.3 0a1.15 1.15 0 1 0 -2.3 0M468.9 87.3a1.15 1.15 0 1 0 2.3 0a1.15 1.15 0 1 0 -2.3 0M473.9 91.1a1.15 1.15 0 1 0 2.3 0a1.15 1.15 0 1 0 -2.3 0M474.0 80.8a1.15 1.15 0 1 0 2.3 0a1.15 1.15 0 1 0 -2.3 0M472.6 85.1a1.15 1.15 0 1 0 2.3 0a1.15 1.15 0 1 0 -2.3 0M470.7 82.0a1.15 1.15 0 1 0 2.3 0a1.15 1.15 0 1 0 -2.3 0M472.4 77.5a1.15 1.15 0 1 0 2.3 0a1.15 1.15 0 1 0 -2.3 0M473.0 71.2a1.15 1.15 0 1 0 2.3 0a1.15 1.15 0 1 0 -2.3 0M473.0 77.4a1.15 1.15 0 1 0 2.3 0a1.15 1.15 0 1 0 -2.3 0M475.5 82.5a1.15 1.15 0 1 0 2.3 0a1.15 1.15 0 1 0 -2.3 0M467.3 79.7a1.15 1.15 0 1 0 2.3 0a1.15 1.15 0 1 0 -2.3 0M468.8 76.6a1.15 1.15 0 1 0 2.3 0a1.15 1.15 0 1 0 -2.3 0M469.8 73.6a1.15 1.15 0 1 0 2.3 0a1.15 1.15 0 1 0 -2.3 0M475.4 76.4a1.15 1.15 0 1 0 2.3 0a1.15 1.15 0 1 0 -2.3 0M469.6 68.8a1.15 1.15 0 1 0 2.3 0a1.15 1.15 0 1 0 -2.3 0M473.2 73.7a1.15 1.15 0 1 0 2.3 0a1.15 1.15 0 1 0 -2.3 0M471.8 68.5a1.15 1.15 0 1 0 2.3 0a1.15 1.15 0 1 0 -2.3 0M471.4 66.0a1.15 1.15 0 1 0 2.3 0a1.15 1.15 0 1 0 -2.3 0M474.4 73.0a1.15 1.15 0 1 0 2.3 0a1.15 1.15 0 1 0 -2.3 0M471.1 73.0a1.15 1.15 0 1 0 2.3 0a1.15 1.15 0 1 0 -2.3 0M472.5 73.1a1.15 1.15 0 1 0 2.3 0a1.15 1.15 0 1 0 -2.3 0M473.6 69.4a1.15 1.15 0 1 0 2.3 0a1.15 1.15 0 1 0 -2.3 0M473.7 71.0a1.15 1.15 0 1 0 2.3 0a1.15 1.15 0 1 0 -2.3 0M466.4 57.4a1.15 1.15 0 1 0 2.3 0a1.15 1.15 0 1 0 -2.3 0M470.2 58.5a1.15 1.15 0 1 0 2.3 0a1.15 1.15 0 1 0 -2.3 0M472.1 60.6a1.15 1.15 0 1 0 2.3 0a1.15 1.15 0 1 0 -2.3 0M476.3 61.5a1.15 1.15 0 1 0 2.3 0a1.15 1.15 0 1 0 -2.3 0M475.0 66.8a1.15 1.15 0 1 0 2.3 0a1.15 1.15 0 1 0 -2.3 0M473.4 63.2a1.15 1.15 0 1 0 2.3 0a1.15 1.15 0 1 0 -2.3 0M470.4 62.5a1.15 1.15 0 1 0 2.3 0a1.15 1.15 0 1 0 -2.3 0M471.8 57.7a1.15 1.15 0 1 0 2.3 0a1.15 1.15 0 1 0 -2.3 0M465.1 62.4a1.15 1.15 0 1 0 2.3 0a1.15 1.15 0 1 0 -2.3 0M468.6 51.1a1.15 1.15 0 1 0 2.3 0a1.15 1.15 0 1 0 -2.3 0M469.5 53.1a1.15 1.15 0 1 0 2.3 0a1.15 1.15 0 1 0 -2.3 0M469.6 52.5a1.15 1.15 0 1 0 2.3 0a1.15 1.15 0 1 0 -2.3 0M473.8 55.6a1.15 1.15 0 1 0 2.3 0a1.15 1.15 0 1 0 -2.3 0M470.9 58.6a1.15 1.15 0 1 0 2.3 0a1.15 1.15 0 1 0 -2.3 0M471.7 52.0a1.15 1.15 0 1 0 2.3 0a1.15 1.15 0 1 0 -2.3 0M469.1 51.2a1.15 1.15 0 1 0 2.3 0a1.15 1.15 0 1 0 -2.3 0M464.5 59.8a1.15 1.15 0 1 0 2.3 0a1.15 1.15 0 1 0 -2.3 0M466.6 55.9a1.15 1.15 0 1 0 2.3 0a1.15 1.15 0 1 0 -2.3 0M470.8 46.6a1.15 1.15 0 1 0 2.3 0a1.15 1.15 0 1 0 -2.3 0M470.6 44.3a1.15 1.15 0 1 0 2.3 0a1.15 1.15 0 1 0 -2.3 0M469.3 50.1a1.15 1.15 0 1 0 2.3 0a1.15 1.15 0 1 0 -2.3 0M467.0 40.3a1.15 1.15 0 1 0 2.3 0a1.15 1.15 0 1 0 -2.3 0M463.6 46.9a1.15 1.15 0 1 0 2.3 0a1.15 1.15 0 1 0 -2.3 0M475.2 45.0a1.15 1.15 0 1 0 2.3 0a1.15 1.15 0 1 0 -2.3 0M468.3 46.4a1.15 1.15 0 1 0 2.3 0a1.15 1.15 0 1 0 -2.3 0M473.4 42.9a1.15 1.15 0 1 0 2.3 0a1.15 1.15 0 1 0 -2.3 0M468.0 44.2a1.15 1.15 0 1 0 2.3 0a1.15 1.15 0 1 0 -2.3 0M471.5 35.1a1.15 1.15 0 1 0 2.3 0a1.15 1.15 0 1 0 -2.3 0M475.0 39.3a1.15 1.15 0 1 0 2.3 0a1.15 1.15 0 1 0 -2.3 0M466.4 37.2a1.15 1.15 0 1 0 2.3 0a1.15 1.15 0 1 0 -2.3 0M476.2 36.4a1.15 1.15 0 1 0 2.3 0a1.15 1.15 0 1 0 -2.3 0M471.5 31.4a1.15 1.15 0 1 0 2.3 0a1.15 1.15 0 1 0 -2.3 0M467.6 35.7a1.15 1.15 0 1 0 2.3 0a1.15 1.15 0 1 0 -2.3 0M469.0 38.2a1.15 1.15 0 1 0 2.3 0a1.15 1.15 0 1 0 -2.3 0M471.0 33.9a1.15 1.15 0 1 0 2.3 0a1.15 1.15 0 1 0 -2.3 0M467.9 39.9a1.15 1.15 0 1 0 2.3 0a1.15 1.15 0 1 0 -2.3 0M465.9 28.9a1.15 1.15 0 1 0 2.3 0a1.15 1.15 0 1 0 -2.3 0M469.4 29.1a1.15 1.15 0 1 0 2.3 0a1.15 1.15 0 1 0 -2.3 0M467.5 31.3a1.15 1.15 0 1 0 2.3 0a1.15 1.15 0 1 0 -2.3 0M473.9 30.8a1.15 1.15 0 1 0 2.3 0a1.15 1.15 0 1 0 -2.3 0M472.7 28.8a1.15 1.15 0 1 0 2.3 0a1.15 1.15 0 1 0 -2.3 0M469.7 34.8a1.15 1.15 0 1 0 2.3 0a1.15 1.15 0 1 0 -2.3 0M473.8 29.8a1.15 1.15 0 1 0 2.3 0a1.15 1.15 0 1 0 -2.3 0M473.7 36.1a1.15 1.15 0 1 0 2.3 0a1.15 1.15 0 1 0 -2.3 0M465.8 36.5a1.15 1.15 0 1 0 2.3 0a1.15 1.15 0 1 0 -2.3 0M476.5 115.9a1.15 1.15 0 1 0 2.3 0a1.15 1.15 0 1 0 -2.3 0M480.9 119.0a1.15 1.15 0 1 0 2.3 0a1.15 1.15 0 1 0 -2.3 0M479.6 116.7a1.15 1.15 0 1 0 2.3 0a1.15 1.15 0 1 0 -2.3 0M478.3 117.8a1.15 1.15 0 1 0 2.3 0a1.15 1.15 0 1 0 -2.3 0M479.6 125.3a1.15 1.15 0 1 0 2.3 0a1.15 1.15 0 1 0 -2.3 0M478.0 115.0a1.15 1.15 0 1 0 2.3 0a1.15 1.15 0 1 0 -2.3 0M478.0 119.3a1.15 1.15 0 1 0 2.3 0a1.15 1.15 0 1 0 -2.3 0M477.3 120.3a1.15 1.15 0 1 0 2.3 0a1.15 1.15 0 1 0 -2.3 0M482.6 119.7a1.15 1.15 0 1 0 2.3 0a1.15 1.15 0 1 0 -2.3 0M476.1 119.9a1.15 1.15 0 1 0 2.3 0a1.15 1.15 0 1 0 -2.3 0M477.5 116.6a1.15 1.15 0 1 0 2.3 0a1.15 1.15 0 1 0 -2.3 0M473.7 108.6a1.15 1.15 0 1 0 2.3 0a1.15 1.15 0 1 0 -2.3 0M481.3 116.4a1.15 1.15 0 1 0 2.3 0a1.15 1.15 0 1 0 -2.3 0M481.8 109.5a1.15 1.15 0 1 0 2.3 0a1.15 1.15 0 1 0 -2.3 0M476.8 108.7a1.15 1.15 0 1 0 2.3 0a1.15 1.15 0 1 0 -2.3 0M474.3 114.4a1.15 1.15 0 1 0 2.3 0a1.15 1.15 0 1 0 -2.3 0M474.8 114.1a1.15 1.15 0 1 0 2.3 0a1.15 1.15 0 1 0 -2.3 0M481.9 114.7a1.15 1.15 0 1 0 2.3 0a1.15 1.15 0 1 0 -2.3 0M475.7 105.6a1.15 1.15 0 1 0 2.3 0a1.15 1.15 0 1 0 -2.3 0M479.8 103.8a1.15 1.15 0 1 0 2.3 0a1.15 1.15 0 1 0 -2.3 0M481.8 104.9a1.15 1.15 0 1 0 2.3 0a1.15 1.15 0 1 0 -2.3 0M475.3 104.3a1.15 1.15 0 1 0 2.3 0a1.15 1.15 0 1 0 -2.3 0M479.3 105.5a1.15 1.15 0 1 0 2.3 0a1.15 1.15 0 1 0 -2.3 0M480.0 97.5a1.15 1.15 0 1 0 2.3 0a1.15 1.15 0 1 0 -2.3 0M477.4 102.7a1.15 1.15 0 1 0 2.3 0a1.15 1.15 0 1 0 -2.3 0M483.3 104.7a1.15 1.15 0 1 0 2.3 0a1.15 1.15 0 1 0 -2.3 0M476.6 106.0a1.15 1.15 0 1 0 2.3 0a1.15 1.15 0 1 0 -2.3 0M480.4 93.3a1.15 1.15 0 1 0 2.3 0a1.15 1.15 0 1 0 -2.3 0M478.7 94.7a1.15 1.15 0 1 0 2.3 0a1.15 1.15 0 1 0 -2.3 0M483.0 92.3a1.15 1.15 0 1 0 2.3 0a1.15 1.15 0 1 0 -2.3 0M474.9 94.8a1.15 1.15 0 1 0 2.3 0a1.15 1.15 0 1 0 -2.3 0M479.4 92.7a1.15 1.15 0 1 0 2.3 0a1.15 1.15 0 1 0 -2.3 0M478.4 96.7a1.15 1.15 0 1 0 2.3 0a1.15 1.15 0 1 0 -2.3 0M477.7 100.0a1.15 1.15 0 1 0 2.3 0a1.15 1.15 0 1 0 -2.3 0M479.0 96.6a1.15 1.15 0 1 0 2.3 0a1.15 1.15 0 1 0 -2.3 0M480.5 97.8a1.15 1.15 0 1 0 2.3 0a1.15 1.15 0 1 0 -2.3 0M477.8 89.6a1.15 1.15 0 1 0 2.3 0a1.15 1.15 0 1 0 -2.3 0M475.9 84.8a1.15 1.15 0 1 0 2.3 0a1.15 1.15 0 1 0 -2.3 0M477.7 85.5a1.15 1.15 0 1 0 2.3 0a1.15 1.15 0 1 0 -2.3 0M475.7 86.5a1.15 1.15 0 1 0 2.3 0a1.15 1.15 0 1 0 -2.3 0M474.0 88.2a1.15 1.15 0 1 0 2.3 0a1.15 1.15 0 1 0 -2.3 0M477.6 85.1a1.15 1.15 0 1 0 2.3 0a1.15 1.15 0 1 0 -2.3 0M479.6 87.3a1.15 1.15 0 1 0 2.3 0a1.15 1.15 0 1 0 -2.3 0M481.6 86.3a1.15 1.15 0 1 0 2.3 0a1.15 1.15 0 1 0 -2.3 0M480.7 84.6a1.15 1.15 0 1 0 2.3 0a1.15 1.15 0 1 0 -2.3 0M478.9 79.6a1.15 1.15 0 1 0 2.3 0a1.15 1.15 0 1 0 -2.3 0M480.0 80.0a1.15 1.15 0 1 0 2.3 0a1.15 1.15 0 1 0 -2.3 0M480.2 75.5a1.15 1.15 0 1 0 2.3 0a1.15 1.15 0 1 0 -2.3 0M481.6 79.9a1.15 1.15 0 1 0 2.3 0a1.15 1.15 0 1 0 -2.3 0M475.2 78.9a1.15 1.15 0 1 0 2.3 0a1.15 1.15 0 1 0 -2.3 0M478.7 75.6a1.15 1.15 0 1 0 2.3 0a1.15 1.15 0 1 0 -2.3 0M477.9 79.4a1.15 1.15 0 1 0 2.3 0a1.15 1.15 0 1 0 -2.3 0M481.3 80.1a1.15 1.15 0 1 0 2.3 0a1.15 1.15 0 1 0 -2.3 0M478.6 73.8a1.15 1.15 0 1 0 2.3 0a1.15 1.15 0 1 0 -2.3 0M483.6 68.9a1.15 1.15 0 1 0 2.3 0a1.15 1.15 0 1 0 -2.3 0M479.9 73.5a1.15 1.15 0 1 0 2.3 0a1.15 1.15 0 1 0 -2.3 0M480.7 70.5a1.15 1.15 0 1 0 2.3 0a1.15 1.15 0 1 0 -2.3 0M479.7 72.2a1.15 1.15 0 1 0 2.3 0a1.15 1.15 0 1 0 -2.3 0M479.0 71.2a1.15 1.15 0 1 0 2.3 0a1.15 1.15 0 1 0 -2.3 0M480.0 66.6a1.15 1.15 0 1 0 2.3 0a1.15 1.15 0 1 0 -2.3 0M480.1 75.5a1.15 1.15 0 1 0 2.3 0a1.15 1.15 0 1 0 -2.3 0M476.1 75.3a1.15 1.15 0 1 0 2.3 0a1.15 1.15 0 1 0 -2.3 0M476.6 69.1a1.15 1.15 0 1 0 2.3 0a1.15 1.15 0 1 0 -2.3 0M480.3 64.4a1.15 1.15 0 1 0 2.3 0a1.15 1.15 0 1 0 -2.3 0M479.9 64.8a1.15 1.15 0 1 0 2.3 0a1.15 1.15 0 1 0 -2.3 0M474.7 66.7a1.15 1.15 0 1 0 2.3 0a1.15 1.15 0 1 0 -2.3 0M476.4 58.5a1.15 1.15 0 1 0 2.3 0a1.15 1.15 0 1 0 -2.3 0M475.0 59.1a1.15 1.15 0 1 0 2.3 0a1.15 1.15 0 1 0 -2.3 0M483.1 63.2a1.15 1.15 0 1 0 2.3 0a1.15 1.15 0 1 0 -2.3 0M478.9 64.4a1.15 1.15 0 1 0 2.3 0a1.15 1.15 0 1 0 -2.3 0M479.0 60.8a1.15 1.15 0 1 0 2.3 0a1.15 1.15 0 1 0 -2.3 0M479.1 59.8a1.15 1.15 0 1 0 2.3 0a1.15 1.15 0 1 0 -2.3 0M482.6 53.6a1.15 1.15 0 1 0 2.3 0a1.15 1.15 0 1 0 -2.3 0M480.0 54.8a1.15 1.15 0 1 0 2.3 0a1.15 1.15 0 1 0 -2.3 0M480.1 57.8a1.15 1.15 0 1 0 2.3 0a1.15 1.15 0 1 0 -2.3 0M480.3 54.0a1.15 1.15 0 1 0 2.3 0a1.15 1.15 0 1 0 -2.3 0M476.4 48.4a1.15 1.15 0 1 0 2.3 0a1.15 1.15 0 1 0 -2.3 0M476.1 57.1a1.15 1.15 0 1 0 2.3 0a1.15 1.15 0 1 0 -2.3 0M479.9 60.2a1.15 1.15 0 1 0 2.3 0a1.15 1.15 0 1 0 -2.3 0M476.6 59.0a1.15 1.15 0 1 0 2.3 0a1.15 1.15 0 1 0 -2.3 0M476.1 55.0a1.15 1.15 0 1 0 2.3 0a1.15 1.15 0 1 0 -2.3 0M480.0 43.4a1.15 1.15 0 1 0 2.3 0a1.15 1.15 0 1 0 -2.3 0M481.5 43.1a1.15 1.15 0 1 0 2.3 0a1.15 1.15 0 1 0 -2.3 0M480.8 47.9a1.15 1.15 0 1 0 2.3 0a1.15 1.15 0 1 0 -2.3 0M482.4 48.0a1.15 1.15 0 1 0 2.3 0a1.15 1.15 0 1 0 -2.3 0M477.2 42.1a1.15 1.15 0 1 0 2.3 0a1.15 1.15 0 1 0 -2.3 0M481.4 45.9a1.15 1.15 0 1 0 2.3 0a1.15 1.15 0 1 0 -2.3 0M481.3 44.0a1.15 1.15 0 1 0 2.3 0a1.15 1.15 0 1 0 -2.3 0M474.9 46.8a1.15 1.15 0 1 0 2.3 0a1.15 1.15 0 1 0 -2.3 0M475.5 46.2a1.15 1.15 0 1 0 2.3 0a1.15 1.15 0 1 0 -2.3 0M477.0 34.6a1.15 1.15 0 1 0 2.3 0a1.15 1.15 0 1 0 -2.3 0M480.6 40.9a1.15 1.15 0 1 0 2.3 0a1.15 1.15 0 1 0 -2.3 0M479.0 42.0a1.15 1.15 0 1 0 2.3 0a1.15 1.15 0 1 0 -2.3 0M479.1 36.9a1.15 1.15 0 1 0 2.3 0a1.15 1.15 0 1 0 -2.3 0M479.8 44.1a1.15 1.15 0 1 0 2.3 0a1.15 1.15 0 1 0 -2.3 0M478.0 37.0a1.15 1.15 0 1 0 2.3 0a1.15 1.15 0 1 0 -2.3 0M479.9 35.1a1.15 1.15 0 1 0 2.3 0a1.15 1.15 0 1 0 -2.3 0M475.1 37.0a1.15 1.15 0 1 0 2.3 0a1.15 1.15 0 1 0 -2.3 0M477.0 37.9a1.15 1.15 0 1 0 2.3 0a1.15 1.15 0 1 0 -2.3 0M480.2 28.5a1.15 1.15 0 1 0 2.3 0a1.15 1.15 0 1 0 -2.3 0M477.3 29.9a1.15 1.15 0 1 0 2.3 0a1.15 1.15 0 1 0 -2.3 0M475.5 34.5a1.15 1.15 0 1 0 2.3 0a1.15 1.15 0 1 0 -2.3 0M480.7 30.6a1.15 1.15 0 1 0 2.3 0a1.15 1.15 0 1 0 -2.3 0M474.1 32.9a1.15 1.15 0 1 0 2.3 0a1.15 1.15 0 1 0 -2.3 0M479.1 25.9a1.15 1.15 0 1 0 2.3 0a1.15 1.15 0 1 0 -2.3 0M482.2 28.1a1.15 1.15 0 1 0 2.3 0a1.15 1.15 0 1 0 -2.3 0M473.6 30.7a1.15 1.15 0 1 0 2.3 0a1.15 1.15 0 1 0 -2.3 0M480.5 29.3a1.15 1.15 0 1 0 2.3 0a1.15 1.15 0 1 0 -2.3 0M488.7 119.8a1.15 1.15 0 1 0 2.3 0a1.15 1.15 0 1 0 -2.3 0M492.8 114.8a1.15 1.15 0 1 0 2.3 0a1.15 1.15 0 1 0 -2.3 0M487.1 121.9a1.15 1.15 0 1 0 2.3 0a1.15 1.15 0 1 0 -2.3 0M493.7 120.7a1.15 1.15 0 1 0 2.3 0a1.15 1.15 0 1 0 -2.3 0M491.1 113.5a1.15 1.15 0 1 0 2.3 0a1.15 1.15 0 1 0 -2.3 0M484.6 118.2a1.15 1.15 0 1 0 2.3 0a1.15 1.15 0 1 0 -2.3 0M486.4 117.6a1.15 1.15 0 1 0 2.3 0a1.15 1.15 0 1 0 -2.3 0M488.4 113.4a1.15 1.15 0 1 0 2.3 0a1.15 1.15 0 1 0 -2.3 0M489.2 119.1a1.15 1.15 0 1 0 2.3 0a1.15 1.15 0 1 0 -2.3 0M490.8 111.8a1.15 1.15 0 1 0 2.3 0a1.15 1.15 0 1 0 -2.3 0M486.3 104.5a1.15 1.15 0 1 0 2.3 0a1.15 1.15 0 1 0 -2.3 0M484.9 112.4a1.15 1.15 0 1 0 2.3 0a1.15 1.15 0 1 0 -2.3 0M487.6 114.1a1.15 1.15 0 1 0 2.3 0a1.15 1.15 0 1 0 -2.3 0M481.0 108.0a1.15 1.15 0 1 0 2.3 0a1.15 1.15 0 1 0 -2.3 0M485.1 112.6a1.15 1.15 0 1 0 2.3 0a1.15 1.15 0 1 0 -2.3 0M486.3 113.9a1.15 1.15 0 1 0 2.3 0a1.15 1.15 0 1 0 -2.3 0M484.2 110.6a1.15 1.15 0 1 0 2.3 0a1.15 1.15 0 1 0 -2.3 0M494.7 108.9a1.15 1.15 0 1 0 2.3 0a1.15 1.15 0 1 0 -2.3 0M489.7 107.3a1.15 1.15 0 1 0 2.3 0a1.15 1.15 0 1 0 -2.3 0M487.4 106.4a1.15 1.15 0 1 0 2.3 0a1.15 1.15 0 1 0 -2.3 0M489.8 103.6a1.15 1.15 0 1 0 2.3 0a1.15 1.15 0 1 0 -2.3 0M487.5 103.2a1.15 1.15 0 1 0 2.3 0a1.15 1.15 0 1 0 -2.3 0M485.7 107.4a1.15 1.15 0 1 0 2.3 0a1.15 1.15 0 1 0 -2.3 0M489.2 107.0a1.15 1.15 0 1 0 2.3 0a1.15 1.15 0 1 0 -2.3 0M483.9 103.8a1.15 1.15 0 1 0 2.3 0a1.15 1.15 0 1 0 -2.3 0M485.3 102.2a1.15 1.15 0 1 0 2.3 0a1.15 1.15 0 1 0 -2.3 0M490.5 102.2a1.15 1.15 0 1 0 2.3 0a1.15 1.15 0 1 0 -2.3 0M488.0 94.8a1.15 1.15 0 1 0 2.3 0a1.15 1.15 0 1 0 -2.3 0M490.0 100.3a1.15 1.15 0 1 0 2.3 0a1.15 1.15 0 1 0 -2.3 0M488.5 97.6a1.15 1.15 0 1 0 2.3 0a1.15 1.15 0 1 0 -2.3 0M483.7 94.9a1.15 1.15 0 1 0 2.3 0a1.15 1.15 0 1 0 -2.3 0M486.3 93.2a1.15 1.15 0 1 0 2.3 0a1.15 1.15 0 1 0 -2.3 0M490.8 101.7a1.15 1.15 0 1 0 2.3 0a1.15 1.15 0 1 0 -2.3 0M487.2 89.2a1.15 1.15 0 1 0 2.3 0a1.15 1.15 0 1 0 -2.3 0M490.1 90.7a1.15 1.15 0 1 0 2.3 0a1.15 1.15 0 1 0 -2.3 0M487.7 99.1a1.15 1.15 0 1 0 2.3 0a1.15 1.15 0 1 0 -2.3 0M484.0 84.8a1.15 1.15 0 1 0 2.3 0a1.15 1.15 0 1 0 -2.3 0M490.3 89.0a1.15 1.15 0 1 0 2.3 0a1.15 1.15 0 1 0 -2.3 0M486.6 86.1a1.15 1.15 0 1 0 2.3 0a1.15 1.15 0 1 0 -2.3 0M482.1 87.9a1.15 1.15 0 1 0 2.3 0a1.15 1.15 0 1 0 -2.3 0M492.3 80.5a1.15 1.15 0 1 0 2.3 0a1.15 1.15 0 1 0 -2.3 0M487.1 81.5a1.15 1.15 0 1 0 2.3 0a1.15 1.15 0 1 0 -2.3 0M485.8 89.2a1.15 1.15 0 1 0 2.3 0a1.15 1.15 0 1 0 -2.3 0M480.6 84.1a1.15 1.15 0 1 0 2.3 0a1.15 1.15 0 1 0 -2.3 0M486.3 80.1a1.15 1.15 0 1 0 2.3 0a1.15 1.15 0 1 0 -2.3 0M488.4 78.3a1.15 1.15 0 1 0 2.3 0a1.15 1.15 0 1 0 -2.3 0M482.0 74.4a1.15 1.15 0 1 0 2.3 0a1.15 1.15 0 1 0 -2.3 0M486.3 79.3a1.15 1.15 0 1 0 2.3 0a1.15 1.15 0 1 0 -2.3 0M480.7 76.1a1.15 1.15 0 1 0 2.3 0a1.15 1.15 0 1 0 -2.3 0M490.4 80.6a1.15 1.15 0 1 0 2.3 0a1.15 1.15 0 1 0 -2.3 0M487.7 77.7a1.15 1.15 0 1 0 2.3 0a1.15 1.15 0 1 0 -2.3 0M490.4 78.5a1.15 1.15 0 1 0 2.3 0a1.15 1.15 0 1 0 -2.3 0M492.7 79.5a1.15 1.15 0 1 0 2.3 0a1.15 1.15 0 1 0 -2.3 0M485.6 80.1a1.15 1.15 0 1 0 2.3 0a1.15 1.15 0 1 0 -2.3 0M479.7 73.1a1.15 1.15 0 1 0 2.3 0a1.15 1.15 0 1 0 -2.3 0M490.5 70.0a1.15 1.15 0 1 0 2.3 0a1.15 1.15 0 1 0 -2.3 0M485.0 69.7a1.15 1.15 0 1 0 2.3 0a1.15 1.15 0 1 0 -2.3 0M481.3 71.6a1.15 1.15 0 1 0 2.3 0a1.15 1.15 0 1 0 -2.3 0M489.0 68.7a1.15 1.15 0 1 0 2.3 0a1.15 1.15 0 1 0 -2.3 0M485.1 68.1a1.15 1.15 0 1 0 2.3 0a1.15 1.15 0 1 0 -2.3 0M493.1 72.0a1.15 1.15 0 1 0 2.3 0a1.15 1.15 0 1 0 -2.3 0M489.7 75.2a1.15 1.15 0 1 0 2.3 0a1.15 1.15 0 1 0 -2.3 0M481.5 69.0a1.15 1.15 0 1 0 2.3 0a1.15 1.15 0 1 0 -2.3 0M487.6 62.1a1.15 1.15 0 1 0 2.3 0a1.15 1.15 0 1 0 -2.3 0M485.7 63.5a1.15 1.15 0 1 0 2.3 0a1.15 1.15 0 1 0 -2.3 0M489.9 57.7a1.15 1.15 0 1 0 2.3 0a1.15 1.15 0 1 0 -2.3 0M486.8 67.5a1.15 1.15 0 1 0 2.3 0a1.15 1.15 0 1 0 -2.3 0M491.3 60.9a1.15 1.15 0 1 0 2.3 0a1.15 1.15 0 1 0 -2.3 0M489.5 62.1a1.15 1.15 0 1 0 2.3 0a1.15 1.15 0 1 0 -2.3 0M494.5 62.4a1.15 1.15 0 1 0 2.3 0a1.15 1.15 0 1 0 -2.3 0M489.0 68.0a1.15 1.15 0 1 0 2.3 0a1.15 1.15 0 1 0 -2.3 0M485.7 64.7a1.15 1.15 0 1 0 2.3 0a1.15 1.15 0 1 0 -2.3 0M487.4 53.6a1.15 1.15 0 1 0 2.3 0a1.15 1.15 0 1 0 -2.3 0M485.2 49.6a1.15 1.15 0 1 0 2.3 0a1.15 1.15 0 1 0 -2.3 0M484.2 55.9a1.15 1.15 0 1 0 2.3 0a1.15 1.15 0 1 0 -2.3 0M488.2 58.2a1.15 1.15 0 1 0 2.3 0a1.15 1.15 0 1 0 -2.3 0M489.2 52.8a1.15 1.15 0 1 0 2.3 0a1.15 1.15 0 1 0 -2.3 0M486.6 49.1a1.15 1.15 0 1 0 2.3 0a1.15 1.15 0 1 0 -2.3 0M487.7 53.8a1.15 1.15 0 1 0 2.3 0a1.15 1.15 0 1 0 -2.3 0M484.5 59.5a1.15 1.15 0 1 0 2.3 0a1.15 1.15 0 1 0 -2.3 0M485.5 55.5a1.15 1.15 0 1 0 2.3 0a1.15 1.15 0 1 0 -2.3 0M486.1 44.3a1.15 1.15 0 1 0 2.3 0a1.15 1.15 0 1 0 -2.3 0M480.2 49.8a1.15 1.15 0 1 0 2.3 0a1.15 1.15 0 1 0 -2.3 0M481.9 42.7a1.15 1.15 0 1 0 2.3 0a1.15 1.15 0 1 0 -2.3 0M485.7 48.0a1.15 1.15 0 1 0 2.3 0a1.15 1.15 0 1 0 -2.3 0M484.1 43.9a1.15 1.15 0 1 0 2.3 0a1.15 1.15 0 1 0 -2.3 0M486.2 45.9a1.15 1.15 0 1 0 2.3 0a1.15 1.15 0 1 0 -2.3 0M481.3 43.1a1.15 1.15 0 1 0 2.3 0a1.15 1.15 0 1 0 -2.3 0M488.7 44.9a1.15 1.15 0 1 0 2.3 0a1.15 1.15 0 1 0 -2.3 0M491.2 47.1a1.15 1.15 0 1 0 2.3 0a1.15 1.15 0 1 0 -2.3 0M487.0 36.4a1.15 1.15 0 1 0 2.3 0a1.15 1.15 0 1 0 -2.3 0M488.8 39.2a1.15 1.15 0 1 0 2.3 0a1.15 1.15 0 1 0 -2.3 0M487.6 40.0a1.15 1.15 0 1 0 2.3 0a1.15 1.15 0 1 0 -2.3 0M489.6 35.8a1.15 1.15 0 1 0 2.3 0a1.15 1.15 0 1 0 -2.3 0M487.5 33.0a1.15 1.15 0 1 0 2.3 0a1.15 1.15 0 1 0 -2.3 0M482.8 39.2a1.15 1.15 0 1 0 2.3 0a1.15 1.15 0 1 0 -2.3 0M492.7 39.7a1.15 1.15 0 1 0 2.3 0a1.15 1.15 0 1 0 -2.3 0M482.6 34.4a1.15 1.15 0 1 0 2.3 0a1.15 1.15 0 1 0 -2.3 0M489.1 42.0a1.15 1.15 0 1 0 2.3 0a1.15 1.15 0 1 0 -2.3 0M489.8 33.4a1.15 1.15 0 1 0 2.3 0a1.15 1.15 0 1 0 -2.3 0M483.4 30.9a1.15 1.15 0 1 0 2.3 0a1.15 1.15 0 1 0 -2.3 0M486.0 33.6a1.15 1.15 0 1 0 2.3 0a1.15 1.15 0 1 0 -2.3 0M486.4 33.3a1.15 1.15 0 1 0 2.3 0a1.15 1.15 0 1 0 -2.3 0M487.6 30.5a1.15 1.15 0 1 0 2.3 0a1.15 1.15 0 1 0 -2.3 0M489.7 31.7a1.15 1.15 0 1 0 2.3 0a1.15 1.15 0 1 0 -2.3 0M483.4 34.3a1.15 1.15 0 1 0 2.3 0a1.15 1.15 0 1 0 -2.3 0M486.7 26.0a1.15 1.15 0 1 0 2.3 0a1.15 1.15 0 1 0 -2.3 0M490.0 32.3a1.15 1.15 0 1 0 2.3 0a1.15 1.15 0 1 0 -2.3 0M498.8 122.4a1.15 1.15 0 1 0 2.3 0a1.15 1.15 0 1 0 -2.3 0M499.0 120.2a1.15 1.15 0 1 0 2.3 0a1.15 1.15 0 1 0 -2.3 0M498.2 117.2a1.15 1.15 0 1 0 2.3 0a1.15 1.15 0 1 0 -2.3 0M495.0 118.1a1.15 1.15 0 1 0 2.3 0a1.15 1.15 0 1 0 -2.3 0M492.6 119.3a1.15 1.15 0 1 0 2.3 0a1.15 1.15 0 1 0 -2.3 0M499.2 107.1a1.15 1.15 0 1 0 2.3 0a1.15 1.15 0 1 0 -2.3 0M498.0 118.8a1.15 1.15 0 1 0 2.3 0a1.15 1.15 0 1 0 -2.3 0M492.8 116.0a1.15 1.15 0 1 0 2.3 0a1.15 1.15 0 1 0 -2.3 0M490.9 121.4a1.15 1.15 0 1 0 2.3 0a1.15 1.15 0 1 0 -2.3 0M497.0 114.5a1.15 1.15 0 1 0 2.3 0a1.15 1.15 0 1 0 -2.3 0M500.6 107.8a1.15 1.15 0 1 0 2.3 0a1.15 1.15 0 1 0 -2.3 0M494.2 112.6a1.15 1.15 0 1 0 2.3 0a1.15 1.15 0 1 0 -2.3 0M491.9 115.1a1.15 1.15 0 1 0 2.3 0a1.15 1.15 0 1 0 -2.3 0M497.2 109.2a1.15 1.15 0 1 0 2.3 0a1.15 1.15 0 1 0 -2.3 0M497.0 110.2a1.15 1.15 0 1 0 2.3 0a1.15 1.15 0 1 0 -2.3 0M494.2 109.9a1.15 1.15 0 1 0 2.3 0a1.15 1.15 0 1 0 -2.3 0M491.4 111.0a1.15 1.15 0 1 0 2.3 0a1.15 1.15 0 1 0 -2.3 0M500.4 107.1a1.15 1.15 0 1 0 2.3 0a1.15 1.15 0 1 0 -2.3 0M494.5 103.9a1.15 1.15 0 1 0 2.3 0a1.15 1.15 0 1 0 -2.3 0M500.1 97.7a1.15 1.15 0 1 0 2.3 0a1.15 1.15 0 1 0 -2.3 0M491.3 104.2a1.15 1.15 0 1 0 2.3 0a1.15 1.15 0 1 0 -2.3 0M496.6 99.4a1.15 1.15 0 1 0 2.3 0a1.15 1.15 0 1 0 -2.3 0M493.3 101.1a1.15 1.15 0 1 0 2.3 0a1.15 1.15 0 1 0 -2.3 0M495.0 96.0a1.15 1.15 0 1 0 2.3 0a1.15 1.15 0 1 0 -2.3 0M497.2 103.3a1.15 1.15 0 1 0 2.3 0a1.15 1.15 0 1 0 -2.3 0M494.9 99.9a1.15 1.15 0 1 0 2.3 0a1.15 1.15 0 1 0 -2.3 0M498.0 106.1a1.15 1.15 0 1 0 2.3 0a1.15 1.15 0 1 0 -2.3 0M496.6 98.8a1.15 1.15 0 1 0 2.3 0a1.15 1.15 0 1 0 -2.3 0M493.6 98.6a1.15 1.15 0 1 0 2.3 0a1.15 1.15 0 1 0 -2.3 0M491.9 96.9a1.15 1.15 0 1 0 2.3 0a1.15 1.15 0 1 0 -2.3 0M492.9 93.3a1.15 1.15 0 1 0 2.3 0a1.15 1.15 0 1 0 -2.3 0M498.3 95.6a1.15 1.15 0 1 0 2.3 0a1.15 1.15 0 1 0 -2.3 0M492.5 92.5a1.15 1.15 0 1 0 2.3 0a1.15 1.15 0 1 0 -2.3 0M489.7 100.5a1.15 1.15 0 1 0 2.3 0a1.15 1.15 0 1 0 -2.3 0M498.1 93.0a1.15 1.15 0 1 0 2.3 0a1.15 1.15 0 1 0 -2.3 0M498.9 95.5a1.15 1.15 0 1 0 2.3 0a1.15 1.15 0 1 0 -2.3 0M492.1 88.3a1.15 1.15 0 1 0 2.3 0a1.15 1.15 0 1 0 -2.3 0M497.6 89.0a1.15 1.15 0 1 0 2.3 0a1.15 1.15 0 1 0 -2.3 0M493.8 90.9a1.15 1.15 0 1 0 2.3 0a1.15 1.15 0 1 0 -2.3 0M492.4 84.4a1.15 1.15 0 1 0 2.3 0a1.15 1.15 0 1 0 -2.3 0M497.3 90.2a1.15 1.15 0 1 0 2.3 0a1.15 1.15 0 1 0 -2.3 0M492.6 88.5a1.15 1.15 0 1 0 2.3 0a1.15 1.15 0 1 0 -2.3 0M497.6 90.2a1.15 1.15 0 1 0 2.3 0a1.15 1.15 0 1 0 -2.3 0M495.4 93.1a1.15 1.15 0 1 0 2.3 0a1.15 1.15 0 1 0 -2.3 0M492.1 85.6a1.15 1.15 0 1 0 2.3 0a1.15 1.15 0 1 0 -2.3 0M498.6 82.1a1.15 1.15 0 1 0 2.3 0a1.15 1.15 0 1 0 -2.3 0M493.5 76.4a1.15 1.15 0 1 0 2.3 0a1.15 1.15 0 1 0 -2.3 0M494.7 80.3a1.15 1.15 0 1 0 2.3 0a1.15 1.15 0 1 0 -2.3 0M497.5 78.2a1.15 1.15 0 1 0 2.3 0a1.15 1.15 0 1 0 -2.3 0M499.3 76.4a1.15 1.15 0 1 0 2.3 0a1.15 1.15 0 1 0 -2.3 0M494.1 79.1a1.15 1.15 0 1 0 2.3 0a1.15 1.15 0 1 0 -2.3 0M495.7 82.7a1.15 1.15 0 1 0 2.3 0a1.15 1.15 0 1 0 -2.3 0M492.9 75.9a1.15 1.15 0 1 0 2.3 0a1.15 1.15 0 1 0 -2.3 0M491.1 75.9a1.15 1.15 0 1 0 2.3 0a1.15 1.15 0 1 0 -2.3 0M496.8 71.1a1.15 1.15 0 1 0 2.3 0a1.15 1.15 0 1 0 -2.3 0M497.5 69.3a1.15 1.15 0 1 0 2.3 0a1.15 1.15 0 1 0 -2.3 0M499.6 71.9a1.15 1.15 0 1 0 2.3 0a1.15 1.15 0 1 0 -2.3 0M495.2 71.4a1.15 1.15 0 1 0 2.3 0a1.15 1.15 0 1 0 -2.3 0M501.6 67.9a1.15 1.15 0 1 0 2.3 0a1.15 1.15 0 1 0 -2.3 0M493.1 71.7a1.15 1.15 0 1 0 2.3 0a1.15 1.15 0 1 0 -2.3 0M493.8 70.7a1.15 1.15 0 1 0 2.3 0a1.15 1.15 0 1 0 -2.3 0M496.6 64.0a1.15 1.15 0 1 0 2.3 0a1.15 1.15 0 1 0 -2.3 0M490.4 67.7a1.15 1.15 0 1 0 2.3 0a1.15 1.15 0 1 0 -2.3 0M497.2 64.7a1.15 1.15 0 1 0 2.3 0a1.15 1.15 0 1 0 -2.3 0M495.5 64.1a1.15 1.15 0 1 0 2.3 0a1.15 1.15 0 1 0 -2.3 0M496.1 59.7a1.15 1.15 0 1 0 2.3 0a1.15 1.15 0 1 0 -2.3 0M491.3 58.8a1.15 1.15 0 1 0 2.3 0a1.15 1.15 0 1 0 -2.3 0M494.8 58.3a1.15 1.15 0 1 0 2.3 0a1.15 1.15 0 1 0 -2.3 0M497.2 59.0a1.15 1.15 0 1 0 2.3 0a1.15 1.15 0 1 0 -2.3 0M497.6 59.5a1.15 1.15 0 1 0 2.3 0a1.15 1.15 0 1 0 -2.3 0M496.1 65.0a1.15 1.15 0 1 0 2.3 0a1.15 1.15 0 1 0 -2.3 0M498.0 60.6a1.15 1.15 0 1 0 2.3 0a1.15 1.15 0 1 0 -2.3 0M502.3 60.4a1.15 1.15 0 1 0 2.3 0a1.15 1.15 0 1 0 -2.3 0M495.3 51.5a1.15 1.15 0 1 0 2.3 0a1.15 1.15 0 1 0 -2.3 0M492.1 55.2a1.15 1.15 0 1 0 2.3 0a1.15 1.15 0 1 0 -2.3 0M502.4 50.4a1.15 1.15 0 1 0 2.3 0a1.15 1.15 0 1 0 -2.3 0M493.3 50.4a1.15 1.15 0 1 0 2.3 0a1.15 1.15 0 1 0 -2.3 0M499.5 52.3a1.15 1.15 0 1 0 2.3 0a1.15 1.15 0 1 0 -2.3 0M497.1 53.9a1.15 1.15 0 1 0 2.3 0a1.15 1.15 0 1 0 -2.3 0M493.3 56.1a1.15 1.15 0 1 0 2.3 0a1.15 1.15 0 1 0 -2.3 0M498.2 54.1a1.15 1.15 0 1 0 2.3 0a1.15 1.15 0 1 0 -2.3 0M501.6 47.5a1.15 1.15 0 1 0 2.3 0a1.15 1.15 0 1 0 -2.3 0M488.6 47.5a1.15 1.15 0 1 0 2.3 0a1.15 1.15 0 1 0 -2.3 0M496.8 45.4a1.15 1.15 0 1 0 2.3 0a1.15 1.15 0 1 0 -2.3 0M496.1 48.9a1.15 1.15 0 1 0 2.3 0a1.15 1.15 0 1 0 -2.3 0M500.5 48.4a1.15 1.15 0 1 0 2.3 0a1.15 1.15 0 1 0 -2.3 0M498.1 47.3a1.15 1.15 0 1 0 2.3 0a1.15 1.15 0 1 0 -2.3 0M492.3 42.4a1.15 1.15 0 1 0 2.3 0a1.15 1.15 0 1 0 -2.3 0M488.3 49.0a1.15 1.15 0 1 0 2.3 0a1.15 1.15 0 1 0 -2.3 0M497.3 47.5a1.15 1.15 0 1 0 2.3 0a1.15 1.15 0 1 0 -2.3 0M498.2 38.7a1.15 1.15 0 1 0 2.3 0a1.15 1.15 0 1 0 -2.3 0M494.6 32.1a1.15 1.15 0 1 0 2.3 0a1.15 1.15 0 1 0 -2.3 0M495.3 38.9a1.15 1.15 0 1 0 2.3 0a1.15 1.15 0 1 0 -2.3 0M492.7 40.6a1.15 1.15 0 1 0 2.3 0a1.15 1.15 0 1 0 -2.3 0M497.9 36.8a1.15 1.15 0 1 0 2.3 0a1.15 1.15 0 1 0 -2.3 0M496.0 40.4a1.15 1.15 0 1 0 2.3 0a1.15 1.15 0 1 0 -2.3 0M498.0 43.3a1.15 1.15 0 1 0 2.3 0a1.15 1.15 0 1 0 -2.3 0M494.9 39.1a1.15 1.15 0 1 0 2.3 0a1.15 1.15 0 1 0 -2.3 0M493.4 38.0a1.15 1.15 0 1 0 2.3 0a1.15 1.15 0 1 0 -2.3 0M494.0 32.7a1.15 1.15 0 1 0 2.3 0a1.15 1.15 0 1 0 -2.3 0M501.4 28.2a1.15 1.15 0 1 0 2.3 0a1.15 1.15 0 1 0 -2.3 0M499.6 30.2a1.15 1.15 0 1 0 2.3 0a1.15 1.15 0 1 0 -2.3 0M498.9 28.1a1.15 1.15 0 1 0 2.3 0a1.15 1.15 0 1 0 -2.3 0M499.7 23.5a1.15 1.15 0 1 0 2.3 0a1.15 1.15 0 1 0 -2.3 0M495.3 29.6a1.15 1.15 0 1 0 2.3 0a1.15 1.15 0 1 0 -2.3 0M495.8 40.5a1.15 1.15 0 1 0 2.3 0a1.15 1.15 0 1 0 -2.3 0M491.8 30.3a1.15 1.15 0 1 0 2.3 0a1.15 1.15 0 1 0 -2.3 0M497.9 32.0a1.15 1.15 0 1 0 2.3 0a1.15 1.15 0 1 0 -2.3 0M507.9 115.2a1.15 1.15 0 1 0 2.3 0a1.15 1.15 0 1 0 -2.3 0M503.2 114.8a1.15 1.15 0 1 0 2.3 0a1.15 1.15 0 1 0 -2.3 0M509.7 117.6a1.15 1.15 0 1 0 2.3 0a1.15 1.15 0 1 0 -2.3 0M501.5 114.7a1.15 1.15 0 1 0 2.3 0a1.15 1.15 0 1 0 -2.3 0M503.9 120.0a1.15 1.15 0 1 0 2.3 0a1.15 1.15 0 1 0 -2.3 0M504.8 120.5a1.15 1.15 0 1 0 2.3 0a1.15 1.15 0 1 0 -2.3 0M507.7 116.7a1.15 1.15 0 1 0 2.3 0a1.15 1.15 0 1 0 -2.3 0M508.1 117.2a1.15 1.15 0 1 0 2.3 0a1.15 1.15 0 1 0 -2.3 0M502.0 119.4a1.15 1.15 0 1 0 2.3 0a1.15 1.15 0 1 0 -2.3 0M507.1 112.0a1.15 1.15 0 1 0 2.3 0a1.15 1.15 0 1 0 -2.3 0M513.3 111.6a1.15 1.15 0 1 0 2.3 0a1.15 1.15 0 1 0 -2.3 0M502.7 107.5a1.15 1.15 0 1 0 2.3 0a1.15 1.15 0 1 0 -2.3 0M506.7 110.9a1.15 1.15 0 1 0 2.3 0a1.15 1.15 0 1 0 -2.3 0M503.8 109.6a1.15 1.15 0 1 0 2.3 0a1.15 1.15 0 1 0 -2.3 0M507.0 108.6a1.15 1.15 0 1 0 2.3 0a1.15 1.15 0 1 0 -2.3 0M503.5 109.6a1.15 1.15 0 1 0 2.3 0a1.15 1.15 0 1 0 -2.3 0M507.0 108.6a1.15 1.15 0 1 0 2.3 0a1.15 1.15 0 1 0 -2.3 0M495.1 113.4a1.15 1.15 0 1 0 2.3 0a1.15 1.15 0 1 0 -2.3 0M502.1 103.5a1.15 1.15 0 1 0 2.3 0a1.15 1.15 0 1 0 -2.3 0M505.0 100.1a1.15 1.15 0 1 0 2.3 0a1.15 1.15 0 1 0 -2.3 0M506.3 103.2a1.15 1.15 0 1 0 2.3 0a1.15 1.15 0 1 0 -2.3 0M504.5 97.7a1.15 1.15 0 1 0 2.3 0a1.15 1.15 0 1 0 -2.3 0M502.6 101.9a1.15 1.15 0 1 0 2.3 0a1.15 1.15 0 1 0 -2.3 0M509.2 101.8a1.15 1.15 0 1 0 2.3 0a1.15 1.15 0 1 0 -2.3 0M498.3 101.7a1.15 1.15 0 1 0 2.3 0a1.15 1.15 0 1 0 -2.3 0M503.3 103.1a1.15 1.15 0 1 0 2.3 0a1.15 1.15 0 1 0 -2.3 0M507.6 101.4a1.15 1.15 0 1 0 2.3 0a1.15 1.15 0 1 0 -2.3 0M503.7 92.2a1.15 1.15 0 1 0 2.3 0a1.15 1.15 0 1 0 -2.3 0M505.8 94.4a1.15 1.15 0 1 0 2.3 0a1.15 1.15 0 1 0 -2.3 0M505.4 94.0a1.15 1.15 0 1 0 2.3 0a1.15 1.15 0 1 0 -2.3 0M503.4 96.1a1.15 1.15 0 1 0 2.3 0a1.15 1.15 0 1 0 -2.3 0M504.5 97.5a1.15 1.15 0 1 0 2.3 0a1.15 1.15 0 1 0 -2.3 0M500.6 91.0a1.15 1.15 0 1 0 2.3 0a1.15 1.15 0 1 0 -2.3 0M503.7 94.8a1.15 1.15 0 1 0 2.3 0a1.15 1.15 0 1 0 -2.3 0M504.0 94.7a1.15 1.15 0 1 0 2.3 0a1.15 1.15 0 1 0 -2.3 0M504.5 94.6a1.15 1.15 0 1 0 2.3 0a1.15 1.15 0 1 0 -2.3 0M502.0 84.0a1.15 1.15 0 1 0 2.3 0a1.15 1.15 0 1 0 -2.3 0M502.4 83.7a1.15 1.15 0 1 0 2.3 0a1.15 1.15 0 1 0 -2.3 0M498.6 89.8a1.15 1.15 0 1 0 2.3 0a1.15 1.15 0 1 0 -2.3 0M507.5 87.1a1.15 1.15 0 1 0 2.3 0a1.15 1.15 0 1 0 -2.3 0M502.4 85.6a1.15 1.15 0 1 0 2.3 0a1.15 1.15 0 1 0 -2.3 0M501.3 86.5a1.15 1.15 0 1 0 2.3 0a1.15 1.15 0 1 0 -2.3 0M497.7 88.0a1.15 1.15 0 1 0 2.3 0a1.15 1.15 0 1 0 -2.3 0M502.5 85.1a1.15 1.15 0 1 0 2.3 0a1.15 1.15 0 1 0 -2.3 0M507.1 89.2a1.15 1.15 0 1 0 2.3 0a1.15 1.15 0 1 0 -2.3 0M509.3 80.3a1.15 1.15 0 1 0 2.3 0a1.15 1.15 0 1 0 -2.3 0M498.2 85.5a1.15 1.15 0 1 0 2.3 0a1.15 1.15 0 1 0 -2.3 0M509.1 78.9a1.15 1.15 0 1 0 2.3 0a1.15 1.15 0 1 0 -2.3 0M502.5 80.8a1.15 1.15 0 1 0 2.3 0a1.15 1.15 0 1 0 -2.3 0M501.1 74.7a1.15 1.15 0 1 0 2.3 0a1.15 1.15 0 1 0 -2.3 0M504.2 73.4a1.15 1.15 0 1 0 2.3 0a1.15 1.15 0 1 0 -2.3 0M503.9 85.4a1.15 1.15 0 1 0 2.3 0a1.15 1.15 0 1 0 -2.3 0M507.0 79.7a1.15 1.15 0 1 0 2.3 0a1.15 1.15 0 1 0 -2.3 0M503.7 74.1a1.15 1.15 0 1 0 2.3 0a1.15 1.15 0 1 0 -2.3 0M503.7 67.2a1.15 1.15 0 1 0 2.3 0a1.15 1.15 0 1 0 -2.3 0M504.4 72.8a1.15 1.15 0 1 0 2.3 0a1.15 1.15 0 1 0 -2.3 0M506.0 72.3a1.15 1.15 0 1 0 2.3 0a1.15 1.15 0 1 0 -2.3 0M508.2 67.8a1.15 1.15 0 1 0 2.3 0a1.15 1.15 0 1 0 -2.3 0M504.6 68.8a1.15 1.15 0 1 0 2.3 0a1.15 1.15 0 1 0 -2.3 0M506.2 71.4a1.15 1.15 0 1 0 2.3 0a1.15 1.15 0 1 0 -2.3 0M507.2 71.2a1.15 1.15 0 1 0 2.3 0a1.15 1.15 0 1 0 -2.3 0M506.3 73.3a1.15 1.15 0 1 0 2.3 0a1.15 1.15 0 1 0 -2.3 0M504.8 69.4a1.15 1.15 0 1 0 2.3 0a1.15 1.15 0 1 0 -2.3 0M502.1 63.7a1.15 1.15 0 1 0 2.3 0a1.15 1.15 0 1 0 -2.3 0M502.8 60.4a1.15 1.15 0 1 0 2.3 0a1.15 1.15 0 1 0 -2.3 0M502.3 61.2a1.15 1.15 0 1 0 2.3 0a1.15 1.15 0 1 0 -2.3 0M509.1 61.5a1.15 1.15 0 1 0 2.3 0a1.15 1.15 0 1 0 -2.3 0M499.6 62.1a1.15 1.15 0 1 0 2.3 0a1.15 1.15 0 1 0 -2.3 0M507.6 63.3a1.15 1.15 0 1 0 2.3 0a1.15 1.15 0 1 0 -2.3 0M507.8 60.7a1.15 1.15 0 1 0 2.3 0a1.15 1.15 0 1 0 -2.3 0M505.8 63.3a1.15 1.15 0 1 0 2.3 0a1.15 1.15 0 1 0 -2.3 0M502.9 63.2a1.15 1.15 0 1 0 2.3 0a1.15 1.15 0 1 0 -2.3 0M504.7 52.9a1.15 1.15 0 1 0 2.3 0a1.15 1.15 0 1 0 -2.3 0M505.8 55.3a1.15 1.15 0 1 0 2.3 0a1.15 1.15 0 1 0 -2.3 0M504.7 53.3a1.15 1.15 0 1 0 2.3 0a1.15 1.15 0 1 0 -2.3 0M499.6 56.7a1.15 1.15 0 1 0 2.3 0a1.15 1.15 0 1 0 -2.3 0M502.1 55.0a1.15 1.15 0 1 0 2.3 0a1.15 1.15 0 1 0 -2.3 0M503.7 55.2a1.15 1.15 0 1 0 2.3 0a1.15 1.15 0 1 0 -2.3 0M501.8 52.5a1.15 1.15 0 1 0 2.3 0a1.15 1.15 0 1 0 -2.3 0M505.3 59.2a1.15 1.15 0 1 0 2.3 0a1.15 1.15 0 1 0 -2.3 0M504.5 57.7a1.15 1.15 0 1 0 2.3 0a1.15 1.15 0 1 0 -2.3 0M509.7 47.7a1.15 1.15 0 1 0 2.3 0a1.15 1.15 0 1 0 -2.3 0M503.3 46.1a1.15 1.15 0 1 0 2.3 0a1.15 1.15 0 1 0 -2.3 0M503.9 46.5a1.15 1.15 0 1 0 2.3 0a1.15 1.15 0 1 0 -2.3 0M509.2 45.7a1.15 1.15 0 1 0 2.3 0a1.15 1.15 0 1 0 -2.3 0M507.0 43.1a1.15 1.15 0 1 0 2.3 0a1.15 1.15 0 1 0 -2.3 0M501.5 41.5a1.15 1.15 0 1 0 2.3 0a1.15 1.15 0 1 0 -2.3 0M506.6 43.6a1.15 1.15 0 1 0 2.3 0a1.15 1.15 0 1 0 -2.3 0M501.9 44.0a1.15 1.15 0 1 0 2.3 0a1.15 1.15 0 1 0 -2.3 0M505.8 47.9a1.15 1.15 0 1 0 2.3 0a1.15 1.15 0 1 0 -2.3 0M511.4 36.6a1.15 1.15 0 1 0 2.3 0a1.15 1.15 0 1 0 -2.3 0M503.8 37.7a1.15 1.15 0 1 0 2.3 0a1.15 1.15 0 1 0 -2.3 0M507.3 35.0a1.15 1.15 0 1 0 2.3 0a1.15 1.15 0 1 0 -2.3 0M506.3 34.8a1.15 1.15 0 1 0 2.3 0a1.15 1.15 0 1 0 -2.3 0M509.0 41.9a1.15 1.15 0 1 0 2.3 0a1.15 1.15 0 1 0 -2.3 0M503.0 41.0a1.15 1.15 0 1 0 2.3 0a1.15 1.15 0 1 0 -2.3 0M504.8 34.1a1.15 1.15 0 1 0 2.3 0a1.15 1.15 0 1 0 -2.3 0M506.5 41.3a1.15 1.15 0 1 0 2.3 0a1.15 1.15 0 1 0 -2.3 0M503.6 35.3a1.15 1.15 0 1 0 2.3 0a1.15 1.15 0 1 0 -2.3 0M502.9 30.5a1.15 1.15 0 1 0 2.3 0a1.15 1.15 0 1 0 -2.3 0M505.4 35.5a1.15 1.15 0 1 0 2.3 0a1.15 1.15 0 1 0 -2.3 0M506.9 29.2a1.15 1.15 0 1 0 2.3 0a1.15 1.15 0 1 0 -2.3 0M506.2 33.1a1.15 1.15 0 1 0 2.3 0a1.15 1.15 0 1 0 -2.3 0M502.2 32.0a1.15 1.15 0 1 0 2.3 0a1.15 1.15 0 1 0 -2.3 0M505.3 30.0a1.15 1.15 0 1 0 2.3 0a1.15 1.15 0 1 0 -2.3 0M504.9 25.0a1.15 1.15 0 1 0 2.3 0a1.15 1.15 0 1 0 -2.3 0M508.5 32.3a1.15 1.15 0 1 0 2.3 0a1.15 1.15 0 1 0 -2.3 0M502.5 25.3a1.15 1.15 0 1 0 2.3 0a1.15 1.15 0 1 0 -2.3 0M512.0 114.9a1.15 1.15 0 1 0 2.3 0a1.15 1.15 0 1 0 -2.3 0M517.8 120.4a1.15 1.15 0 1 0 2.3 0a1.15 1.15 0 1 0 -2.3 0M512.1 118.6a1.15 1.15 0 1 0 2.3 0a1.15 1.15 0 1 0 -2.3 0M510.3 121.7a1.15 1.15 0 1 0 2.3 0a1.15 1.15 0 1 0 -2.3 0M511.7 116.4a1.15 1.15 0 1 0 2.3 0a1.15 1.15 0 1 0 -2.3 0M511.6 119.5a1.15 1.15 0 1 0 2.3 0a1.15 1.15 0 1 0 -2.3 0M511.5 122.8a1.15 1.15 0 1 0 2.3 0a1.15 1.15 0 1 0 -2.3 0M517.4 125.7a1.15 1.15 0 1 0 2.3 0a1.15 1.15 0 1 0 -2.3 0M511.0 117.2a1.15 1.15 0 1 0 2.3 0a1.15 1.15 0 1 0 -2.3 0M508.7 109.0a1.15 1.15 0 1 0 2.3 0a1.15 1.15 0 1 0 -2.3 0M516.7 113.3a1.15 1.15 0 1 0 2.3 0a1.15 1.15 0 1 0 -2.3 0M513.6 114.0a1.15 1.15 0 1 0 2.3 0a1.15 1.15 0 1 0 -2.3 0M514.5 110.5a1.15 1.15 0 1 0 2.3 0a1.15 1.15 0 1 0 -2.3 0M513.6 106.8a1.15 1.15 0 1 0 2.3 0a1.15 1.15 0 1 0 -2.3 0M514.4 106.9a1.15 1.15 0 1 0 2.3 0a1.15 1.15 0 1 0 -2.3 0M514.9 114.3a1.15 1.15 0 1 0 2.3 0a1.15 1.15 0 1 0 -2.3 0M513.7 109.4a1.15 1.15 0 1 0 2.3 0a1.15 1.15 0 1 0 -2.3 0M508.6 106.9a1.15 1.15 0 1 0 2.3 0a1.15 1.15 0 1 0 -2.3 0M513.1 101.7a1.15 1.15 0 1 0 2.3 0a1.15 1.15 0 1 0 -2.3 0M510.2 102.5a1.15 1.15 0 1 0 2.3 0a1.15 1.15 0 1 0 -2.3 0M513.8 103.7a1.15 1.15 0 1 0 2.3 0a1.15 1.15 0 1 0 -2.3 0M513.2 108.9a1.15 1.15 0 1 0 2.3 0a1.15 1.15 0 1 0 -2.3 0M517.1 106.0a1.15 1.15 0 1 0 2.3 0a1.15 1.15 0 1 0 -2.3 0M506.3 105.5a1.15 1.15 0 1 0 2.3 0a1.15 1.15 0 1 0 -2.3 0M510.4 101.2a1.15 1.15 0 1 0 2.3 0a1.15 1.15 0 1 0 -2.3 0M510.2 101.9a1.15 1.15 0 1 0 2.3 0a1.15 1.15 0 1 0 -2.3 0M510.0 96.3a1.15 1.15 0 1 0 2.3 0a1.15 1.15 0 1 0 -2.3 0M514.6 89.0a1.15 1.15 0 1 0 2.3 0a1.15 1.15 0 1 0 -2.3 0M509.9 92.8a1.15 1.15 0 1 0 2.3 0a1.15 1.15 0 1 0 -2.3 0M510.0 93.0a1.15 1.15 0 1 0 2.3 0a1.15 1.15 0 1 0 -2.3 0M515.0 99.3a1.15 1.15 0 1 0 2.3 0a1.15 1.15 0 1 0 -2.3 0M509.5 98.1a1.15 1.15 0 1 0 2.3 0a1.15 1.15 0 1 0 -2.3 0M508.4 96.8a1.15 1.15 0 1 0 2.3 0a1.15 1.15 0 1 0 -2.3 0M510.0 98.9a1.15 1.15 0 1 0 2.3 0a1.15 1.15 0 1 0 -2.3 0M513.2 93.1a1.15 1.15 0 1 0 2.3 0a1.15 1.15 0 1 0 -2.3 0M508.9 96.3a1.15 1.15 0 1 0 2.3 0a1.15 1.15 0 1 0 -2.3 0M512.9 87.3a1.15 1.15 0 1 0 2.3 0a1.15 1.15 0 1 0 -2.3 0M510.8 84.3a1.15 1.15 0 1 0 2.3 0a1.15 1.15 0 1 0 -2.3 0M515.5 84.7a1.15 1.15 0 1 0 2.3 0a1.15 1.15 0 1 0 -2.3 0M512.3 80.9a1.15 1.15 0 1 0 2.3 0a1.15 1.15 0 1 0 -2.3 0M518.2 87.8a1.15 1.15 0 1 0 2.3 0a1.15 1.15 0 1 0 -2.3 0M512.5 83.2a1.15 1.15 0 1 0 2.3 0a1.15 1.15 0 1 0 -2.3 0M510.5 85.5a1.15 1.15 0 1 0 2.3 0a1.15 1.15 0 1 0 -2.3 0M513.0 88.7a1.15 1.15 0 1 0 2.3 0a1.15 1.15 0 1 0 -2.3 0M512.2 91.2a1.15 1.15 0 1 0 2.3 0a1.15 1.15 0 1 0 -2.3 0M511.3 84.4a1.15 1.15 0 1 0 2.3 0a1.15 1.15 0 1 0 -2.3 0M519.8 74.2a1.15 1.15 0 1 0 2.3 0a1.15 1.15 0 1 0 -2.3 0M516.6 77.7a1.15 1.15 0 1 0 2.3 0a1.15 1.15 0 1 0 -2.3 0M515.9 74.9a1.15 1.15 0 1 0 2.3 0a1.15 1.15 0 1 0 -2.3 0M516.0 75.9a1.15 1.15 0 1 0 2.3 0a1.15 1.15 0 1 0 -2.3 0M510.1 77.4a1.15 1.15 0 1 0 2.3 0a1.15 1.15 0 1 0 -2.3 0M511.3 82.0a1.15 1.15 0 1 0 2.3 0a1.15 1.15 0 1 0 -2.3 0M509.4 77.4a1.15 1.15 0 1 0 2.3 0a1.15 1.15 0 1 0 -2.3 0M516.1 82.6a1.15 1.15 0 1 0 2.3 0a1.15 1.15 0 1 0 -2.3 0M518.2 66.3a1.15 1.15 0 1 0 2.3 0a1.15 1.15 0 1 0 -2.3 0M511.7 71.9a1.15 1.15 0 1 0 2.3 0a1.15 1.15 0 1 0 -2.3 0M512.7 67.7a1.15 1.15 0 1 0 2.3 0a1.15 1.15 0 1 0 -2.3 0M511.7 73.8a1.15 1.15 0 1 0 2.3 0a1.15 1.15 0 1 0 -2.3 0M513.9 76.6a1.15 1.15 0 1 0 2.3 0a1.15 1.15 0 1 0 -2.3 0M513.3 67.2a1.15 1.15 0 1 0 2.3 0a1.15 1.15 0 1 0 -2.3 0M513.8 68.3a1.15 1.15 0 1 0 2.3 0a1.15 1.15 0 1 0 -2.3 0M514.4 68.5a1.15 1.15 0 1 0 2.3 0a1.15 1.15 0 1 0 -2.3 0M513.3 73.0a1.15 1.15 0 1 0 2.3 0a1.15 1.15 0 1 0 -2.3 0M512.2 62.7a1.15 1.15 0 1 0 2.3 0a1.15 1.15 0 1 0 -2.3 0M516.7 57.8a1.15 1.15 0 1 0 2.3 0a1.15 1.15 0 1 0 -2.3 0M514.2 64.7a1.15 1.15 0 1 0 2.3 0a1.15 1.15 0 1 0 -2.3 0M510.7 63.1a1.15 1.15 0 1 0 2.3 0a1.15 1.15 0 1 0 -2.3 0M517.1 61.5a1.15 1.15 0 1 0 2.3 0a1.15 1.15 0 1 0 -2.3 0M512.7 64.7a1.15 1.15 0 1 0 2.3 0a1.15 1.15 0 1 0 -2.3 0M515.6 61.7a1.15 1.15 0 1 0 2.3 0a1.15 1.15 0 1 0 -2.3 0M512.7 62.2a1.15 1.15 0 1 0 2.3 0a1.15 1.15 0 1 0 -2.3 0M518.0 63.0a1.15 1.15 0 1 0 2.3 0a1.15 1.15 0 1 0 -2.3 0M518.0 50.9a1.15 1.15 0 1 0 2.3 0a1.15 1.15 0 1 0 -2.3 0M513.0 51.9a1.15 1.15 0 1 0 2.3 0a1.15 1.15 0 1 0 -2.3 0M512.5 56.9a1.15 1.15 0 1 0 2.3 0a1.15 1.15 0 1 0 -2.3 0M512.1 57.1a1.15 1.15 0 1 0 2.3 0a1.15 1.15 0 1 0 -2.3 0M514.4 54.4a1.15 1.15 0 1 0 2.3 0a1.15 1.15 0 1 0 -2.3 0M514.6 52.1a1.15 1.15 0 1 0 2.3 0a1.15 1.15 0 1 0 -2.3 0M503.4 53.6a1.15 1.15 0 1 0 2.3 0a1.15 1.15 0 1 0 -2.3 0M507.4 54.0a1.15 1.15 0 1 0 2.3 0a1.15 1.15 0 1 0 -2.3 0M510.2 54.2a1.15 1.15 0 1 0 2.3 0a1.15 1.15 0 1 0 -2.3 0M517.0 51.4a1.15 1.15 0 1 0 2.3 0a1.15 1.15 0 1 0 -2.3 0M513.5 46.6a1.15 1.15 0 1 0 2.3 0a1.15 1.15 0 1 0 -2.3 0M507.1 44.5a1.15 1.15 0 1 0 2.3 0a1.15 1.15 0 1 0 -2.3 0M513.0 47.9a1.15 1.15 0 1 0 2.3 0a1.15 1.15 0 1 0 -2.3 0M510.7 37.1a1.15 1.15 0 1 0 2.3 0a1.15 1.15 0 1 0 -2.3 0M511.7 51.6a1.15 1.15 0 1 0 2.3 0a1.15 1.15 0 1 0 -2.3 0M510.1 47.5a1.15 1.15 0 1 0 2.3 0a1.15 1.15 0 1 0 -2.3 0M511.7 46.6a1.15 1.15 0 1 0 2.3 0a1.15 1.15 0 1 0 -2.3 0M509.7 44.8a1.15 1.15 0 1 0 2.3 0a1.15 1.15 0 1 0 -2.3 0M511.4 42.3a1.15 1.15 0 1 0 2.3 0a1.15 1.15 0 1 0 -2.3 0M510.4 39.5a1.15 1.15 0 1 0 2.3 0a1.15 1.15 0 1 0 -2.3 0M515.4 36.9a1.15 1.15 0 1 0 2.3 0a1.15 1.15 0 1 0 -2.3 0M511.9 38.3a1.15 1.15 0 1 0 2.3 0a1.15 1.15 0 1 0 -2.3 0M513.5 32.4a1.15 1.15 0 1 0 2.3 0a1.15 1.15 0 1 0 -2.3 0M511.0 37.0a1.15 1.15 0 1 0 2.3 0a1.15 1.15 0 1 0 -2.3 0M515.1 41.1a1.15 1.15 0 1 0 2.3 0a1.15 1.15 0 1 0 -2.3 0M513.4 37.9a1.15 1.15 0 1 0 2.3 0a1.15 1.15 0 1 0 -2.3 0M511.5 36.7a1.15 1.15 0 1 0 2.3 0a1.15 1.15 0 1 0 -2.3 0M516.0 27.0a1.15 1.15 0 1 0 2.3 0a1.15 1.15 0 1 0 -2.3 0M512.3 29.7a1.15 1.15 0 1 0 2.3 0a1.15 1.15 0 1 0 -2.3 0M520.0 33.5a1.15 1.15 0 1 0 2.3 0a1.15 1.15 0 1 0 -2.3 0M513.5 27.7a1.15 1.15 0 1 0 2.3 0a1.15 1.15 0 1 0 -2.3 0M513.3 28.4a1.15 1.15 0 1 0 2.3 0a1.15 1.15 0 1 0 -2.3 0M513.4 28.1a1.15 1.15 0 1 0 2.3 0a1.15 1.15 0 1 0 -2.3 0M516.8 30.9a1.15 1.15 0 1 0 2.3 0a1.15 1.15 0 1 0 -2.3 0M513.5 30.4a1.15 1.15 0 1 0 2.3 0a1.15 1.15 0 1 0 -2.3 0M511.7 30.3a1.15 1.15 0 1 0 2.3 0a1.15 1.15 0 1 0 -2.3 0M517.9 100.6a1.15 1.15 0 1 0 2.3 0a1.15 1.15 0 1 0 -2.3 0M526.5 97.9a1.15 1.15 0 1 0 2.3 0a1.15 1.15 0 1 0 -2.3 0M525.2 105.6a1.15 1.15 0 1 0 2.3 0a1.15 1.15 0 1 0 -2.3 0M525.9 104.9a1.15 1.15 0 1 0 2.3 0a1.15 1.15 0 1 0 -2.3 0M521.1 97.4a1.15 1.15 0 1 0 2.3 0a1.15 1.15 0 1 0 -2.3 0M518.0 100.4a1.15 1.15 0 1 0 2.3 0a1.15 1.15 0 1 0 -2.3 0M522.1 103.2a1.15 1.15 0 1 0 2.3 0a1.15 1.15 0 1 0 -2.3 0M518.6 101.6a1.15 1.15 0 1 0 2.3 0a1.15 1.15 0 1 0 -2.3 0M519.9 99.8a1.15 1.15 0 1 0 2.3 0a1.15 1.15 0 1 0 -2.3 0M525.0 98.7a1.15 1.15 0 1 0 2.3 0a1.15 1.15 0 1 0 -2.3 0M519.8 95.7a1.15 1.15 0 1 0 2.3 0a1.15 1.15 0 1 0 -2.3 0M517.7 98.0a1.15 1.15 0 1 0 2.3 0a1.15 1.15 0 1 0 -2.3 0M521.6 95.3a1.15 1.15 0 1 0 2.3 0a1.15 1.15 0 1 0 -2.3 0M516.3 96.3a1.15 1.15 0 1 0 2.3 0a1.15 1.15 0 1 0 -2.3 0M522.9 98.2a1.15 1.15 0 1 0 2.3 0a1.15 1.15 0 1 0 -2.3 0M518.5 90.1a1.15 1.15 0 1 0 2.3 0a1.15 1.15 0 1 0 -2.3 0M525.3 99.4a1.15 1.15 0 1 0 2.3 0a1.15 1.15 0 1 0 -2.3 0M517.2 93.6a1.15 1.15 0 1 0 2.3 0a1.15 1.15 0 1 0 -2.3 0M517.7 87.4a1.15 1.15 0 1 0 2.3 0a1.15 1.15 0 1 0 -2.3 0M519.9 85.1a1.15 1.15 0 1 0 2.3 0a1.15 1.15 0 1 0 -2.3 0M513.6 93.1a1.15 1.15 0 1 0 2.3 0a1.15 1.15 0 1 0 -2.3 0M517.6 83.7a1.15 1.15 0 1 0 2.3 0a1.15 1.15 0 1 0 -2.3 0M520.8 91.6a1.15 1.15 0 1 0 2.3 0a1.15 1.15 0 1 0 -2.3 0M522.8 84.6a1.15 1.15 0 1 0 2.3 0a1.15 1.15 0 1 0 -2.3 0M520.6 87.6a1.15 1.15 0 1 0 2.3 0a1.15 1.15 0 1 0 -2.3 0M522.6 83.2a1.15 1.15 0 1 0 2.3 0a1.15 1.15 0 1 0 -2.3 0M521.8 85.1a1.15 1.15 0 1 0 2.3 0a1.15 1.15 0 1 0 -2.3 0M521.2 79.7a1.15 1.15 0 1 0 2.3 0a1.15 1.15 0 1 0 -2.3 0M518.5 77.9a1.15 1.15 0 1 0 2.3 0a1.15 1.15 0 1 0 -2.3 0M520.4 79.3a1.15 1.15 0 1 0 2.3 0a1.15 1.15 0 1 0 -2.3 0M524.1 77.2a1.15 1.15 0 1 0 2.3 0a1.15 1.15 0 1 0 -2.3 0M523.9 83.2a1.15 1.15 0 1 0 2.3 0a1.15 1.15 0 1 0 -2.3 0M523.0 80.3a1.15 1.15 0 1 0 2.3 0a1.15 1.15 0 1 0 -2.3 0M518.8 81.1a1.15 1.15 0 1 0 2.3 0a1.15 1.15 0 1 0 -2.3 0M525.0 76.2a1.15 1.15 0 1 0 2.3 0a1.15 1.15 0 1 0 -2.3 0M519.1 81.9a1.15 1.15 0 1 0 2.3 0a1.15 1.15 0 1 0 -2.3 0M521.3 71.9a1.15 1.15 0 1 0 2.3 0a1.15 1.15 0 1 0 -2.3 0M526.3 74.8a1.15 1.15 0 1 0 2.3 0a1.15 1.15 0 1 0 -2.3 0M515.7 71.3a1.15 1.15 0 1 0 2.3 0a1.15 1.15 0 1 0 -2.3 0M521.3 70.2a1.15 1.15 0 1 0 2.3 0a1.15 1.15 0 1 0 -2.3 0M523.6 64.6a1.15 1.15 0 1 0 2.3 0a1.15 1.15 0 1 0 -2.3 0M520.3 72.2a1.15 1.15 0 1 0 2.3 0a1.15 1.15 0 1 0 -2.3 0M516.0 69.9a1.15 1.15 0 1 0 2.3 0a1.15 1.15 0 1 0 -2.3 0M523.9 71.3a1.15 1.15 0 1 0 2.3 0a1.15 1.15 0 1 0 -2.3 0M524.9 70.5a1.15 1.15 0 1 0 2.3 0a1.15 1.15 0 1 0 -2.3 0M525.9 61.5a1.15 1.15 0 1 0 2.3 0a1.15 1.15 0 1 0 -2.3 0M518.1 64.4a1.15 1.15 0 1 0 2.3 0a1.15 1.15 0 1 0 -2.3 0M516.6 67.6a1.15 1.15 0 1 0 2.3 0a1.15 1.15 0 1 0 -2.3 0M522.1 60.0a1.15 1.15 0 1 0 2.3 0a1.15 1.15 0 1 0 -2.3 0M527.2 62.7a1.15 1.15 0 1 0 2.3 0a1.15 1.15 0 1 0 -2.3 0M520.6 65.7a1.15 1.15 0 1 0 2.3 0a1.15 1.15 0 1 0 -2.3 0M524.3 61.4a1.15 1.15 0 1 0 2.3 0a1.15 1.15 0 1 0 -2.3 0M519.5 60.5a1.15 1.15 0 1 0 2.3 0a1.15 1.15 0 1 0 -2.3 0M523.0 67.9a1.15 1.15 0 1 0 2.3 0a1.15 1.15 0 1 0 -2.3 0M523.5 54.1a1.15 1.15 0 1 0 2.3 0a1.15 1.15 0 1 0 -2.3 0M520.1 55.7a1.15 1.15 0 1 0 2.3 0a1.15 1.15 0 1 0 -2.3 0M526.6 50.0a1.15 1.15 0 1 0 2.3 0a1.15 1.15 0 1 0 -2.3 0M526.8 57.8a1.15 1.15 0 1 0 2.3 0a1.15 1.15 0 1 0 -2.3 0M519.3 51.8a1.15 1.15 0 1 0 2.3 0a1.15 1.15 0 1 0 -2.3 0M517.6 56.5a1.15 1.15 0 1 0 2.3 0a1.15 1.15 0 1 0 -2.3 0M515.8 49.1a1.15 1.15 0 1 0 2.3 0a1.15 1.15 0 1 0 -2.3 0M524.5 53.1a1.15 1.15 0 1 0 2.3 0a1.15 1.15 0 1 0 -2.3 0M522.0 55.7a1.15 1.15 0 1 0 2.3 0a1.15 1.15 0 1 0 -2.3 0M520.1 44.6a1.15 1.15 0 1 0 2.3 0a1.15 1.15 0 1 0 -2.3 0M519.1 42.8a1.15 1.15 0 1 0 2.3 0a1.15 1.15 0 1 0 -2.3 0M519.8 48.9a1.15 1.15 0 1 0 2.3 0a1.15 1.15 0 1 0 -2.3 0M525.2 46.8a1.15 1.15 0 1 0 2.3 0a1.15 1.15 0 1 0 -2.3 0M523.0 47.6a1.15 1.15 0 1 0 2.3 0a1.15 1.15 0 1 0 -2.3 0M514.5 44.8a1.15 1.15 0 1 0 2.3 0a1.15 1.15 0 1 0 -2.3 0M517.2 43.3a1.15 1.15 0 1 0 2.3 0a1.15 1.15 0 1 0 -2.3 0M516.6 51.8a1.15 1.15 0 1 0 2.3 0a1.15 1.15 0 1 0 -2.3 0M522.2 45.2a1.15 1.15 0 1 0 2.3 0a1.15 1.15 0 1 0 -2.3 0M530.0 106.3a1.15 1.15 0 1 0 2.3 0a1.15 1.15 0 1 0 -2.3 0M532.4 107.0a1.15 1.15 0 1 0 2.3 0a1.15 1.15 0 1 0 -2.3 0M528.3 105.1a1.15 1.15 0 1 0 2.3 0a1.15 1.15 0 1 0 -2.3 0M528.6 100.3a1.15 1.15 0 1 0 2.3 0a1.15 1.15 0 1 0 -2.3 0M527.8 101.2a1.15 1.15 0 1 0 2.3 0a1.15 1.15 0 1 0 -2.3 0M531.8 107.8a1.15 1.15 0 1 0 2.3 0a1.15 1.15 0 1 0 -2.3 0M526.2 103.9a1.15 1.15 0 1 0 2.3 0a1.15 1.15 0 1 0 -2.3 0M527.9 101.9a1.15 1.15 0 1 0 2.3 0a1.15 1.15 0 1 0 -2.3 0M523.9 100.7a1.15 1.15 0 1 0 2.3 0a1.15 1.15 0 1 0 -2.3 0M532.0 95.2a1.15 1.15 0 1 0 2.3 0a1.15 1.15 0 1 0 -2.3 0M525.5 94.7a1.15 1.15 0 1 0 2.3 0a1.15 1.15 0 1 0 -2.3 0M528.1 93.1a1.15 1.15 0 1 0 2.3 0a1.15 1.15 0 1 0 -2.3 0M529.5 92.6a1.15 1.15 0 1 0 2.3 0a1.15 1.15 0 1 0 -2.3 0M528.4 90.6a1.15 1.15 0 1 0 2.3 0a1.15 1.15 0 1 0 -2.3 0M522.7 97.7a1.15 1.15 0 1 0 2.3 0a1.15 1.15 0 1 0 -2.3 0M531.2 99.1a1.15 1.15 0 1 0 2.3 0a1.15 1.15 0 1 0 -2.3 0M531.9 98.3a1.15 1.15 0 1 0 2.3 0a1.15 1.15 0 1 0 -2.3 0M530.0 97.4a1.15 1.15 0 1 0 2.3 0a1.15 1.15 0 1 0 -2.3 0M528.4 86.2a1.15 1.15 0 1 0 2.3 0a1.15 1.15 0 1 0 -2.3 0M529.4 87.8a1.15 1.15 0 1 0 2.3 0a1.15 1.15 0 1 0 -2.3 0M536.2 86.7a1.15 1.15 0 1 0 2.3 0a1.15 1.15 0 1 0 -2.3 0M526.8 84.0a1.15 1.15 0 1 0 2.3 0a1.15 1.15 0 1 0 -2.3 0M532.2 83.1a1.15 1.15 0 1 0 2.3 0a1.15 1.15 0 1 0 -2.3 0M535.1 89.4a1.15 1.15 0 1 0 2.3 0a1.15 1.15 0 1 0 -2.3 0M532.9 83.4a1.15 1.15 0 1 0 2.3 0a1.15 1.15 0 1 0 -2.3 0M529.7 86.0a1.15 1.15 0 1 0 2.3 0a1.15 1.15 0 1 0 -2.3 0M520.6 88.4a1.15 1.15 0 1 0 2.3 0a1.15 1.15 0 1 0 -2.3 0M535.1 83.8a1.15 1.15 0 1 0 2.3 0a1.15 1.15 0 1 0 -2.3 0M528.1 77.8a1.15 1.15 0 1 0 2.3 0a1.15 1.15 0 1 0 -2.3 0M531.5 73.9a1.15 1.15 0 1 0 2.3 0a1.15 1.15 0 1 0 -2.3 0M524.4 78.5a1.15 1.15 0 1 0 2.3 0a1.15 1.15 0 1 0 -2.3 0M532.3 82.4a1.15 1.15 0 1 0 2.3 0a1.15 1.15 0 1 0 -2.3 0M529.6 73.2a1.15 1.15 0 1 0 2.3 0a1.15 1.15 0 1 0 -2.3 0M533.7 77.1a1.15 1.15 0 1 0 2.3 0a1.15 1.15 0 1 0 -2.3 0M521.8 79.0a1.15 1.15 0 1 0 2.3 0a1.15 1.15 0 1 0 -2.3 0M530.9 79.5a1.15 1.15 0 1 0 2.3 0a1.15 1.15 0 1 0 -2.3 0M529.5 61.6a1.15 1.15 0 1 0 2.3 0a1.15 1.15 0 1 0 -2.3 0M529.1 73.4a1.15 1.15 0 1 0 2.3 0a1.15 1.15 0 1 0 -2.3 0M530.5 71.5a1.15 1.15 0 1 0 2.3 0a1.15 1.15 0 1 0 -2.3 0M528.8 70.8a1.15 1.15 0 1 0 2.3 0a1.15 1.15 0 1 0 -2.3 0M532.1 69.9a1.15 1.15 0 1 0 2.3 0a1.15 1.15 0 1 0 -2.3 0M526.1 71.0a1.15 1.15 0 1 0 2.3 0a1.15 1.15 0 1 0 -2.3 0M531.2 71.9a1.15 1.15 0 1 0 2.3 0a1.15 1.15 0 1 0 -2.3 0M533.2 68.3a1.15 1.15 0 1 0 2.3 0a1.15 1.15 0 1 0 -2.3 0M526.7 69.6a1.15 1.15 0 1 0 2.3 0a1.15 1.15 0 1 0 -2.3 0M535.7 58.0a1.15 1.15 0 1 0 2.3 0a1.15 1.15 0 1 0 -2.3 0M529.5 59.9a1.15 1.15 0 1 0 2.3 0a1.15 1.15 0 1 0 -2.3 0M527.7 66.7a1.15 1.15 0 1 0 2.3 0a1.15 1.15 0 1 0 -2.3 0M531.4 61.8a1.15 1.15 0 1 0 2.3 0a1.15 1.15 0 1 0 -2.3 0M531.3 62.6a1.15 1.15 0 1 0 2.3 0a1.15 1.15 0 1 0 -2.3 0M530.7 64.0a1.15 1.15 0 1 0 2.3 0a1.15 1.15 0 1 0 -2.3 0M531.2 60.1a1.15 1.15 0 1 0 2.3 0a1.15 1.15 0 1 0 -2.3 0M529.5 60.2a1.15 1.15 0 1 0 2.3 0a1.15 1.15 0 1 0 -2.3 0M524.3 64.8a1.15 1.15 0 1 0 2.3 0a1.15 1.15 0 1 0 -2.3 0M534.1 49.3a1.15 1.15 0 1 0 2.3 0a1.15 1.15 0 1 0 -2.3 0M530.5 54.8a1.15 1.15 0 1 0 2.3 0a1.15 1.15 0 1 0 -2.3 0M525.9 53.4a1.15 1.15 0 1 0 2.3 0a1.15 1.15 0 1 0 -2.3 0M532.1 58.8a1.15 1.15 0 1 0 2.3 0a1.15 1.15 0 1 0 -2.3 0M531.4 53.0a1.15 1.15 0 1 0 2.3 0a1.15 1.15 0 1 0 -2.3 0M531.1 57.7a1.15 1.15 0 1 0 2.3 0a1.15 1.15 0 1 0 -2.3 0M531.4 58.8a1.15 1.15 0 1 0 2.3 0a1.15 1.15 0 1 0 -2.3 0M534.2 54.1a1.15 1.15 0 1 0 2.3 0a1.15 1.15 0 1 0 -2.3 0M526.2 50.6a1.15 1.15 0 1 0 2.3 0a1.15 1.15 0 1 0 -2.3 0M533.2 48.3a1.15 1.15 0 1 0 2.3 0a1.15 1.15 0 1 0 -2.3 0M536.4 49.3a1.15 1.15 0 1 0 2.3 0a1.15 1.15 0 1 0 -2.3 0M530.7 43.0a1.15 1.15 0 1 0 2.3 0a1.15 1.15 0 1 0 -2.3 0M522.8 43.5a1.15 1.15 0 1 0 2.3 0a1.15 1.15 0 1 0 -2.3 0M529.5 46.4a1.15 1.15 0 1 0 2.3 0a1.15 1.15 0 1 0 -2.3 0M526.5 45.4a1.15 1.15 0 1 0 2.3 0a1.15 1.15 0 1 0 -2.3 0M526.4 49.2a1.15 1.15 0 1 0 2.3 0a1.15 1.15 0 1 0 -2.3 0M528.4 50.0a1.15 1.15 0 1 0 2.3 0a1.15 1.15 0 1 0 -2.3 0M534.5 50.3a1.15 1.15 0 1 0 2.3 0a1.15 1.15 0 1 0 -2.3 0" fill="#0000ff"/>
<rect x="506.4" y="20.5" width="34.6" height="6.8" fill="#fff" stroke="#7a7a7a" stroke-width="0.75"/>
<circle cx="513.2" cy="23.9" r="1.2" fill="#0000ff"/>
<text x="519.1" y="25.3" class="lg" textLength="20.4" lengthAdjust="spacingAndGlyphs">Complex Data</text>
<text x="454.1" y="15.8" class="tt" textLength="59.5" lengthAdjust="spacingAndGlyphs">Distorted 128QAM Constellation</text>
<text x="514" y="7.6" class="inf" style="font-size:4.72px" textLength="31.9" lengthAdjust="spacing">SMF = 40 km</text>
<text x="514" y="14" class="inf" style="font-size:4.62px" textLength="25.8" lengthAdjust="spacing">EVM = 9 %</text>
<text x="486.7" y="147" class="sl" textLength="8.4" lengthAdjust="spacingAndGlyphs">(d)</text>
<path d="M13.8 204.4H124.6" stroke="#8a8a8a" stroke-width="0.8" stroke-dasharray="1.6 1.2" fill="none"/>
<path d="M124.6 165.6V282" stroke="#bdbdbd" stroke-width="0.8" stroke-dasharray="1 1" fill="none"/>
<path d="M13.8 165.6V282H124.6" stroke="#858585" stroke-width="1" fill="none"/>
<path d="M13.8 282v-1.2M32.3 282v-1.2M50.7 282v-1.2M69.2 282v-1.2M87.7 282v-1.2M106.1 282v-1.2M124.6 282v-1.2M13.8 282h1.2M13.8 262.6h1.2M13.8 243.2h1.2M13.8 223.8h1.2M13.8 204.4h1.2M13.8 185h1.2M13.8 165.6h1.2" stroke="#555" stroke-width="0.8" fill="none"/>
<text x="13.8" y="288.5" class="tl" text-anchor="middle">-3</text>
<text x="32.3" y="288.5" class="tl" text-anchor="middle">-2</text>
<text x="50.7" y="288.5" class="tl" text-anchor="middle">-1</text>
<text x="69.2" y="288.5" class="tl" text-anchor="middle">0</text>
<text x="87.7" y="288.5" class="tl" text-anchor="middle">1</text>
<text x="106.1" y="288.5" class="tl" text-anchor="middle">2</text>
<text x="124.6" y="288.5" class="tl" text-anchor="middle">3</text>
<text x="12.3" y="283.5" class="tl" text-anchor="end">-3</text>
<text x="12.3" y="264.1" class="tl" text-anchor="end">-2</text>
<text x="12.3" y="244.7" class="tl" text-anchor="end">-1</text>
<text x="12.3" y="225.3" class="tl" text-anchor="end">0</text>
<text x="12.3" y="205.9" class="tl" text-anchor="end">1</text>
<text x="12.3" y="186.5" class="tl" text-anchor="end">2</text>
<text x="12.3" y="167.1" class="tl" text-anchor="end">3</text>
<path d="M48.8 243.4a1.4 1.4 0 1 0 2.8 0a1.4 1.4 0 1 0 -2.8 0M49.3 242.7a1.4 1.4 0 1 0 2.8 0a1.4 1.4 0 1 0 -2.8 0M49.9 243.4a1.4 1.4 0 1 0 2.8 0a1.4 1.4 0 1 0 -2.8 0M49.1 243.2a1.4 1.4 0 1 0 2.8 0a1.4 1.4 0 1 0 -2.8 0M49.9 242.7a1.4 1.4 0 1 0 2.8 0a1.4 1.4 0 1 0 -2.8 0M49.0 244.6a1.4 1.4 0 1 0 2.8 0a1.4 1.4 0 1 0 -2.8 0M50.7 242.6a1.4 1.4 0 1 0 2.8 0a1.4 1.4 0 1 0 -2.8 0M49.5 243.0a1.4 1.4 0 1 0 2.8 0a1.4 1.4 0 1 0 -2.8 0M49.0 243.9a1.4 1.4 0 1 0 2.8 0a1.4 1.4 0 1 0 -2.8 0M49.1 243.4a1.4 1.4 0 1 0 2.8 0a1.4 1.4 0 1 0 -2.8 0M48.9 244.2a1.4 1.4 0 1 0 2.8 0a1.4 1.4 0 1 0 -2.8 0M49.1 242.8a1.4 1.4 0 1 0 2.8 0a1.4 1.4 0 1 0 -2.8 0M49.0 243.2a1.4 1.4 0 1 0 2.8 0a1.4 1.4 0 1 0 -2.8 0M48.0 243.3a1.4 1.4 0 1 0 2.8 0a1.4 1.4 0 1 0 -2.8 0M49.3 244.0a1.4 1.4 0 1 0 2.8 0a1.4 1.4 0 1 0 -2.8 0M48.2 242.9a1.4 1.4 0 1 0 2.8 0a1.4 1.4 0 1 0 -2.8 0M48.8 242.9a1.4 1.4 0 1 0 2.8 0a1.4 1.4 0 1 0 -2.8 0M49.1 242.8a1.4 1.4 0 1 0 2.8 0a1.4 1.4 0 1 0 -2.8 0M49.1 244.2a1.4 1.4 0 1 0 2.8 0a1.4 1.4 0 1 0 -2.8 0M49.3 243.4a1.4 1.4 0 1 0 2.8 0a1.4 1.4 0 1 0 -2.8 0M49.8 243.5a1.4 1.4 0 1 0 2.8 0a1.4 1.4 0 1 0 -2.8 0M49.1 242.6a1.4 1.4 0 1 0 2.8 0a1.4 1.4 0 1 0 -2.8 0M50.1 242.7a1.4 1.4 0 1 0 2.8 0a1.4 1.4 0 1 0 -2.8 0M50.0 242.9a1.4 1.4 0 1 0 2.8 0a1.4 1.4 0 1 0 -2.8 0M49.8 242.6a1.4 1.4 0 1 0 2.8 0a1.4 1.4 0 1 0 -2.8 0M49.6 243.2a1.4 1.4 0 1 0 2.8 0a1.4 1.4 0 1 0 -2.8 0M49.4 241.6a1.4 1.4 0 1 0 2.8 0a1.4 1.4 0 1 0 -2.8 0M49.3 243.4a1.4 1.4 0 1 0 2.8 0a1.4 1.4 0 1 0 -2.8 0M49.1 243.2a1.4 1.4 0 1 0 2.8 0a1.4 1.4 0 1 0 -2.8 0M49.5 244.0a1.4 1.4 0 1 0 2.8 0a1.4 1.4 0 1 0 -2.8 0M48.1 204.2a1.4 1.4 0 1 0 2.8 0a1.4 1.4 0 1 0 -2.8 0M48.3 204.2a1.4 1.4 0 1 0 2.8 0a1.4 1.4 0 1 0 -2.8 0M49.4 203.6a1.4 1.4 0 1 0 2.8 0a1.4 1.4 0 1 0 -2.8 0M50.4 204.2a1.4 1.4 0 1 0 2.8 0a1.4 1.4 0 1 0 -2.8 0M49.0 205.2a1.4 1.4 0 1 0 2.8 0a1.4 1.4 0 1 0 -2.8 0M48.8 204.4a1.4 1.4 0 1 0 2.8 0a1.4 1.4 0 1 0 -2.8 0M48.0 204.3a1.4 1.4 0 1 0 2.8 0a1.4 1.4 0 1 0 -2.8 0M49.3 204.0a1.4 1.4 0 1 0 2.8 0a1.4 1.4 0 1 0 -2.8 0M49.1 204.3a1.4 1.4 0 1 0 2.8 0a1.4 1.4 0 1 0 -2.8 0M48.9 204.7a1.4 1.4 0 1 0 2.8 0a1.4 1.4 0 1 0 -2.8 0M48.2 204.3a1.4 1.4 0 1 0 2.8 0a1.4 1.4 0 1 0 -2.8 0M50.3 204.3a1.4 1.4 0 1 0 2.8 0a1.4 1.4 0 1 0 -2.8 0M49.6 205.1a1.4 1.4 0 1 0 2.8 0a1.4 1.4 0 1 0 -2.8 0M50.3 204.9a1.4 1.4 0 1 0 2.8 0a1.4 1.4 0 1 0 -2.8 0M49.9 204.3a1.4 1.4 0 1 0 2.8 0a1.4 1.4 0 1 0 -2.8 0M48.7 203.7a1.4 1.4 0 1 0 2.8 0a1.4 1.4 0 1 0 -2.8 0M49.3 204.3a1.4 1.4 0 1 0 2.8 0a1.4 1.4 0 1 0 -2.8 0M49.6 204.4a1.4 1.4 0 1 0 2.8 0a1.4 1.4 0 1 0 -2.8 0M49.1 204.1a1.4 1.4 0 1 0 2.8 0a1.4 1.4 0 1 0 -2.8 0M49.1 204.4a1.4 1.4 0 1 0 2.8 0a1.4 1.4 0 1 0 -2.8 0M48.9 205.4a1.4 1.4 0 1 0 2.8 0a1.4 1.4 0 1 0 -2.8 0M48.9 204.7a1.4 1.4 0 1 0 2.8 0a1.4 1.4 0 1 0 -2.8 0M49.3 203.6a1.4 1.4 0 1 0 2.8 0a1.4 1.4 0 1 0 -2.8 0M48.2 204.3a1.4 1.4 0 1 0 2.8 0a1.4 1.4 0 1 0 -2.8 0M47.9 205.1a1.4 1.4 0 1 0 2.8 0a1.4 1.4 0 1 0 -2.8 0M49.0 205.9a1.4 1.4 0 1 0 2.8 0a1.4 1.4 0 1 0 -2.8 0M48.1 204.3a1.4 1.4 0 1 0 2.8 0a1.4 1.4 0 1 0 -2.8 0M49.4 204.5a1.4 1.4 0 1 0 2.8 0a1.4 1.4 0 1 0 -2.8 0M48.8 202.9a1.4 1.4 0 1 0 2.8 0a1.4 1.4 0 1 0 -2.8 0M49.2 205.0a1.4 1.4 0 1 0 2.8 0a1.4 1.4 0 1 0 -2.8 0M87.4 242.8a1.4 1.4 0 1 0 2.8 0a1.4 1.4 0 1 0 -2.8 0M86.0 242.4a1.4 1.4 0 1 0 2.8 0a1.4 1.4 0 1 0 -2.8 0M86.4 242.8a1.4 1.4 0 1 0 2.8 0a1.4 1.4 0 1 0 -2.8 0M86.4 243.9a1.4 1.4 0 1 0 2.8 0a1.4 1.4 0 1 0 -2.8 0M86.9 243.1a1.4 1.4 0 1 0 2.8 0a1.4 1.4 0 1 0 -2.8 0M85.6 243.7a1.4 1.4 0 1 0 2.8 0a1.4 1.4 0 1 0 -2.8 0M86.9 243.5a1.4 1.4 0 1 0 2.8 0a1.4 1.4 0 1 0 -2.8 0M86.3 242.8a1.4 1.4 0 1 0 2.8 0a1.4 1.4 0 1 0 -2.8 0M86.3 244.2a1.4 1.4 0 1 0 2.8 0a1.4 1.4 0 1 0 -2.8 0M86.7 242.6a1.4 1.4 0 1 0 2.8 0a1.4 1.4 0 1 0 -2.8 0M86.8 242.1a1.4 1.4 0 1 0 2.8 0a1.4 1.4 0 1 0 -2.8 0M86.5 242.7a1.4 1.4 0 1 0 2.8 0a1.4 1.4 0 1 0 -2.8 0M87.3 243.4a1.4 1.4 0 1 0 2.8 0a1.4 1.4 0 1 0 -2.8 0M87.4 242.0a1.4 1.4 0 1 0 2.8 0a1.4 1.4 0 1 0 -2.8 0M86.8 242.0a1.4 1.4 0 1 0 2.8 0a1.4 1.4 0 1 0 -2.8 0M86.8 243.8a1.4 1.4 0 1 0 2.8 0a1.4 1.4 0 1 0 -2.8 0M87.0 243.0a1.4 1.4 0 1 0 2.8 0a1.4 1.4 0 1 0 -2.8 0M86.5 243.1a1.4 1.4 0 1 0 2.8 0a1.4 1.4 0 1 0 -2.8 0M87.1 242.8a1.4 1.4 0 1 0 2.8 0a1.4 1.4 0 1 0 -2.8 0M85.8 242.9a1.4 1.4 0 1 0 2.8 0a1.4 1.4 0 1 0 -2.8 0M86.7 243.7a1.4 1.4 0 1 0 2.8 0a1.4 1.4 0 1 0 -2.8 0M86.0 243.5a1.4 1.4 0 1 0 2.8 0a1.4 1.4 0 1 0 -2.8 0M85.9 243.0a1.4 1.4 0 1 0 2.8 0a1.4 1.4 0 1 0 -2.8 0M86.9 241.9a1.4 1.4 0 1 0 2.8 0a1.4 1.4 0 1 0 -2.8 0M87.0 242.5a1.4 1.4 0 1 0 2.8 0a1.4 1.4 0 1 0 -2.8 0M87.0 242.3a1.4 1.4 0 1 0 2.8 0a1.4 1.4 0 1 0 -2.8 0M86.0 242.7a1.4 1.4 0 1 0 2.8 0a1.4 1.4 0 1 0 -2.8 0M86.5 243.3a1.4 1.4 0 1 0 2.8 0a1.4 1.4 0 1 0 -2.8 0M86.0 243.5a1.4 1.4 0 1 0 2.8 0a1.4 1.4 0 1 0 -2.8 0M86.1 244.0a1.4 1.4 0 1 0 2.8 0a1.4 1.4 0 1 0 -2.8 0M86.6 204.4a1.4 1.4 0 1 0 2.8 0a1.4 1.4 0 1 0 -2.8 0M86.3 204.2a1.4 1.4 0 1 0 2.8 0a1.4 1.4 0 1 0 -2.8 0M86.7 204.8a1.4 1.4 0 1 0 2.8 0a1.4 1.4 0 1 0 -2.8 0M86.2 205.5a1.4 1.4 0 1 0 2.8 0a1.4 1.4 0 1 0 -2.8 0M84.8 205.7a1.4 1.4 0 1 0 2.8 0a1.4 1.4 0 1 0 -2.8 0M87.3 205.6a1.4 1.4 0 1 0 2.8 0a1.4 1.4 0 1 0 -2.8 0M86.6 203.4a1.4 1.4 0 1 0 2.8 0a1.4 1.4 0 1 0 -2.8 0M86.0 203.3a1.4 1.4 0 1 0 2.8 0a1.4 1.4 0 1 0 -2.8 0M87.5 203.8a1.4 1.4 0 1 0 2.8 0a1.4 1.4 0 1 0 -2.8 0M87.8 204.0a1.4 1.4 0 1 0 2.8 0a1.4 1.4 0 1 0 -2.8 0M85.8 204.0a1.4 1.4 0 1 0 2.8 0a1.4 1.4 0 1 0 -2.8 0M86.0 205.3a1.4 1.4 0 1 0 2.8 0a1.4 1.4 0 1 0 -2.8 0M85.4 202.8a1.4 1.4 0 1 0 2.8 0a1.4 1.4 0 1 0 -2.8 0M85.9 204.4a1.4 1.4 0 1 0 2.8 0a1.4 1.4 0 1 0 -2.8 0M85.8 204.3a1.4 1.4 0 1 0 2.8 0a1.4 1.4 0 1 0 -2.8 0M86.1 204.7a1.4 1.4 0 1 0 2.8 0a1.4 1.4 0 1 0 -2.8 0M85.5 205.4a1.4 1.4 0 1 0 2.8 0a1.4 1.4 0 1 0 -2.8 0M85.8 204.2a1.4 1.4 0 1 0 2.8 0a1.4 1.4 0 1 0 -2.8 0M87.6 203.7a1.4 1.4 0 1 0 2.8 0a1.4 1.4 0 1 0 -2.8 0M87.5 204.1a1.4 1.4 0 1 0 2.8 0a1.4 1.4 0 1 0 -2.8 0M86.2 205.3a1.4 1.4 0 1 0 2.8 0a1.4 1.4 0 1 0 -2.8 0M86.3 205.8a1.4 1.4 0 1 0 2.8 0a1.4 1.4 0 1 0 -2.8 0M86.1 203.3a1.4 1.4 0 1 0 2.8 0a1.4 1.4 0 1 0 -2.8 0M86.5 203.6a1.4 1.4 0 1 0 2.8 0a1.4 1.4 0 1 0 -2.8 0M86.0 205.3a1.4 1.4 0 1 0 2.8 0a1.4 1.4 0 1 0 -2.8 0M86.0 204.7a1.4 1.4 0 1 0 2.8 0a1.4 1.4 0 1 0 -2.8 0M87.1 203.0a1.4 1.4 0 1 0 2.8 0a1.4 1.4 0 1 0 -2.8 0M85.8 204.6a1.4 1.4 0 1 0 2.8 0a1.4 1.4 0 1 0 -2.8 0M86.2 204.6a1.4 1.4 0 1 0 2.8 0a1.4 1.4 0 1 0 -2.8 0M85.5 204.3a1.4 1.4 0 1 0 2.8 0a1.4 1.4 0 1 0 -2.8 0" fill="#0000ff"/>
<rect x="89" y="169.6" width="33.3" height="5.9" fill="#fff" stroke="#7a7a7a" stroke-width="0.75"/>
<circle cx="95.8" cy="172.6" r="1.2" fill="#0000ff"/>
<text x="101.7" y="174" class="lg" textLength="19.1" lengthAdjust="spacingAndGlyphs">Complex Data</text>
<text x="42" y="163.7" class="tt" textLength="54" lengthAdjust="spacingAndGlyphs" fill="#1a3040">Equalized QPSK Constellation</text>
<text x="99.1" y="157" class="inf" style="font-size:4.62px" textLength="34.1" lengthAdjust="spacing">SMF = 120 km</text>
<text x="99.1" y="163.8" class="inf" style="font-size:4.79px" textLength="30.9" lengthAdjust="spacing">EVM = 17.06</text>
<text x="99.6" y="169.9" class="tl" textLength="3.8" lengthAdjust="spacingAndGlyphs" fill="#333">%</text>
<text x="58.5" y="295.6" class="sl" textLength="8.2" lengthAdjust="spacingAndGlyphs">(e)</text>
<path d="M153 192.6H263.8" stroke="#8a8a8a" stroke-width="0.8" stroke-dasharray="1.6 1.2" fill="none"/>
<path d="M153 243.6H263.8" stroke="#8a8a8a" stroke-width="0.8" stroke-dasharray="1.6 1.2" fill="none"/>
<path d="M176.7 167.1V286.1" stroke="#bdbdbd" stroke-width="0.8" stroke-dasharray="1 1" fill="none"/>
<path d="M153 167.1V286.1H263.8" stroke="#858585" stroke-width="1" fill="none"/>
<path d="M160.9 286.1v-1.2M176.7 286.1v-1.2M192.6 286.1v-1.2M208.4 286.1v-1.2M224.2 286.1v-1.2M240.1 286.1v-1.2M255.9 286.1v-1.2M153 277.6h1.2M153 260.6h1.2M153 243.6h1.2M153 226.6h1.2M153 209.6h1.2M153 192.6h1.2M153 175.6h1.2" stroke="#555" stroke-width="0.8" fill="none"/>
<text x="160.9" y="292.6" class="tl" text-anchor="middle">-6</text>
<text x="176.7" y="292.6" class="tl" text-anchor="middle">-4</text>
<text x="192.6" y="292.6" class="tl" text-anchor="middle">-2</text>
<text x="208.4" y="292.6" class="tl" text-anchor="middle">0</text>
<text x="224.2" y="292.6" class="tl" text-anchor="middle">2</text>
<text x="240.1" y="292.6" class="tl" text-anchor="middle">4</text>
<text x="255.9" y="292.6" class="tl" text-anchor="middle">6</text>
<text x="151.5" y="279.1" class="tl" text-anchor="end">-6</text>
<text x="151.5" y="262.1" class="tl" text-anchor="end">-4</text>
<text x="151.5" y="245.1" class="tl" text-anchor="end">-2</text>
<text x="151.5" y="228.1" class="tl" text-anchor="end">0</text>
<text x="151.5" y="211.1" class="tl" text-anchor="end">2</text>
<text x="151.5" y="194.1" class="tl" text-anchor="end">4</text>
<text x="151.5" y="177.1" class="tl" text-anchor="end">6</text>
<path d="M183.6 251.9a1.3 1.3 0 1 0 2.6 0a1.3 1.3 0 1 0 -2.6 0M182.7 252.2a1.3 1.3 0 1 0 2.6 0a1.3 1.3 0 1 0 -2.6 0M182.4 251.5a1.3 1.3 0 1 0 2.6 0a1.3 1.3 0 1 0 -2.6 0M182.8 252.2a1.3 1.3 0 1 0 2.6 0a1.3 1.3 0 1 0 -2.6 0M183.1 252.4a1.3 1.3 0 1 0 2.6 0a1.3 1.3 0 1 0 -2.6 0M182.8 253.1a1.3 1.3 0 1 0 2.6 0a1.3 1.3 0 1 0 -2.6 0M184.3 251.9a1.3 1.3 0 1 0 2.6 0a1.3 1.3 0 1 0 -2.6 0M183.5 250.8a1.3 1.3 0 1 0 2.6 0a1.3 1.3 0 1 0 -2.6 0M183.3 251.8a1.3 1.3 0 1 0 2.6 0a1.3 1.3 0 1 0 -2.6 0M183.4 251.4a1.3 1.3 0 1 0 2.6 0a1.3 1.3 0 1 0 -2.6 0M183.7 251.9a1.3 1.3 0 1 0 2.6 0a1.3 1.3 0 1 0 -2.6 0M183.2 251.9a1.3 1.3 0 1 0 2.6 0a1.3 1.3 0 1 0 -2.6 0M184.0 253.3a1.3 1.3 0 1 0 2.6 0a1.3 1.3 0 1 0 -2.6 0M183.3 252.3a1.3 1.3 0 1 0 2.6 0a1.3 1.3 0 1 0 -2.6 0M183.2 253.3a1.3 1.3 0 1 0 2.6 0a1.3 1.3 0 1 0 -2.6 0M183.8 252.6a1.3 1.3 0 1 0 2.6 0a1.3 1.3 0 1 0 -2.6 0M183.2 235.4a1.3 1.3 0 1 0 2.6 0a1.3 1.3 0 1 0 -2.6 0M182.5 235.3a1.3 1.3 0 1 0 2.6 0a1.3 1.3 0 1 0 -2.6 0M182.4 235.6a1.3 1.3 0 1 0 2.6 0a1.3 1.3 0 1 0 -2.6 0M183.2 235.1a1.3 1.3 0 1 0 2.6 0a1.3 1.3 0 1 0 -2.6 0M183.4 235.2a1.3 1.3 0 1 0 2.6 0a1.3 1.3 0 1 0 -2.6 0M184.6 234.8a1.3 1.3 0 1 0 2.6 0a1.3 1.3 0 1 0 -2.6 0M182.7 235.4a1.3 1.3 0 1 0 2.6 0a1.3 1.3 0 1 0 -2.6 0M183.0 235.2a1.3 1.3 0 1 0 2.6 0a1.3 1.3 0 1 0 -2.6 0M183.0 235.6a1.3 1.3 0 1 0 2.6 0a1.3 1.3 0 1 0 -2.6 0M184.3 235.1a1.3 1.3 0 1 0 2.6 0a1.3 1.3 0 1 0 -2.6 0M183.2 235.2a1.3 1.3 0 1 0 2.6 0a1.3 1.3 0 1 0 -2.6 0M183.3 234.3a1.3 1.3 0 1 0 2.6 0a1.3 1.3 0 1 0 -2.6 0M183.6 234.4a1.3 1.3 0 1 0 2.6 0a1.3 1.3 0 1 0 -2.6 0M181.6 234.9a1.3 1.3 0 1 0 2.6 0a1.3 1.3 0 1 0 -2.6 0M184.0 233.9a1.3 1.3 0 1 0 2.6 0a1.3 1.3 0 1 0 -2.6 0M183.4 236.1a1.3 1.3 0 1 0 2.6 0a1.3 1.3 0 1 0 -2.6 0M183.7 218.4a1.3 1.3 0 1 0 2.6 0a1.3 1.3 0 1 0 -2.6 0M182.4 218.4a1.3 1.3 0 1 0 2.6 0a1.3 1.3 0 1 0 -2.6 0M184.0 217.4a1.3 1.3 0 1 0 2.6 0a1.3 1.3 0 1 0 -2.6 0M183.8 218.7a1.3 1.3 0 1 0 2.6 0a1.3 1.3 0 1 0 -2.6 0M184.8 218.8a1.3 1.3 0 1 0 2.6 0a1.3 1.3 0 1 0 -2.6 0M183.3 218.9a1.3 1.3 0 1 0 2.6 0a1.3 1.3 0 1 0 -2.6 0M184.1 217.8a1.3 1.3 0 1 0 2.6 0a1.3 1.3 0 1 0 -2.6 0M183.9 218.0a1.3 1.3 0 1 0 2.6 0a1.3 1.3 0 1 0 -2.6 0M183.3 218.0a1.3 1.3 0 1 0 2.6 0a1.3 1.3 0 1 0 -2.6 0M182.3 217.5a1.3 1.3 0 1 0 2.6 0a1.3 1.3 0 1 0 -2.6 0M183.9 218.3a1.3 1.3 0 1 0 2.6 0a1.3 1.3 0 1 0 -2.6 0M183.4 217.9a1.3 1.3 0 1 0 2.6 0a1.3 1.3 0 1 0 -2.6 0M184.2 217.8a1.3 1.3 0 1 0 2.6 0a1.3 1.3 0 1 0 -2.6 0M183.4 218.4a1.3 1.3 0 1 0 2.6 0a1.3 1.3 0 1 0 -2.6 0M182.5 218.4a1.3 1.3 0 1 0 2.6 0a1.3 1.3 0 1 0 -2.6 0M183.4 218.2a1.3 1.3 0 1 0 2.6 0a1.3 1.3 0 1 0 -2.6 0M183.4 200.6a1.3 1.3 0 1 0 2.6 0a1.3 1.3 0 1 0 -2.6 0M183.6 200.9a1.3 1.3 0 1 0 2.6 0a1.3 1.3 0 1 0 -2.6 0M183.7 201.0a1.3 1.3 0 1 0 2.6 0a1.3 1.3 0 1 0 -2.6 0M183.4 200.8a1.3 1.3 0 1 0 2.6 0a1.3 1.3 0 1 0 -2.6 0M182.4 200.3a1.3 1.3 0 1 0 2.6 0a1.3 1.3 0 1 0 -2.6 0M182.7 200.6a1.3 1.3 0 1 0 2.6 0a1.3 1.3 0 1 0 -2.6 0M183.4 200.4a1.3 1.3 0 1 0 2.6 0a1.3 1.3 0 1 0 -2.6 0M183.4 201.6a1.3 1.3 0 1 0 2.6 0a1.3 1.3 0 1 0 -2.6 0M184.0 201.0a1.3 1.3 0 1 0 2.6 0a1.3 1.3 0 1 0 -2.6 0M183.4 201.0a1.3 1.3 0 1 0 2.6 0a1.3 1.3 0 1 0 -2.6 0M183.9 200.6a1.3 1.3 0 1 0 2.6 0a1.3 1.3 0 1 0 -2.6 0M183.5 202.0a1.3 1.3 0 1 0 2.6 0a1.3 1.3 0 1 0 -2.6 0M183.2 201.0a1.3 1.3 0 1 0 2.6 0a1.3 1.3 0 1 0 -2.6 0M184.4 200.8a1.3 1.3 0 1 0 2.6 0a1.3 1.3 0 1 0 -2.6 0M183.3 200.4a1.3 1.3 0 1 0 2.6 0a1.3 1.3 0 1 0 -2.6 0M183.3 201.1a1.3 1.3 0 1 0 2.6 0a1.3 1.3 0 1 0 -2.6 0M199.3 253.0a1.3 1.3 0 1 0 2.6 0a1.3 1.3 0 1 0 -2.6 0M199.7 251.8a1.3 1.3 0 1 0 2.6 0a1.3 1.3 0 1 0 -2.6 0M199.1 252.7a1.3 1.3 0 1 0 2.6 0a1.3 1.3 0 1 0 -2.6 0M199.3 251.2a1.3 1.3 0 1 0 2.6 0a1.3 1.3 0 1 0 -2.6 0M198.9 252.7a1.3 1.3 0 1 0 2.6 0a1.3 1.3 0 1 0 -2.6 0M199.4 253.0a1.3 1.3 0 1 0 2.6 0a1.3 1.3 0 1 0 -2.6 0M198.0 252.3a1.3 1.3 0 1 0 2.6 0a1.3 1.3 0 1 0 -2.6 0M198.8 252.2a1.3 1.3 0 1 0 2.6 0a1.3 1.3 0 1 0 -2.6 0M198.9 251.9a1.3 1.3 0 1 0 2.6 0a1.3 1.3 0 1 0 -2.6 0M199.1 252.4a1.3 1.3 0 1 0 2.6 0a1.3 1.3 0 1 0 -2.6 0M199.0 251.7a1.3 1.3 0 1 0 2.6 0a1.3 1.3 0 1 0 -2.6 0M199.7 251.5a1.3 1.3 0 1 0 2.6 0a1.3 1.3 0 1 0 -2.6 0M199.6 254.0a1.3 1.3 0 1 0 2.6 0a1.3 1.3 0 1 0 -2.6 0M198.7 252.3a1.3 1.3 0 1 0 2.6 0a1.3 1.3 0 1 0 -2.6 0M199.3 253.0a1.3 1.3 0 1 0 2.6 0a1.3 1.3 0 1 0 -2.6 0M200.0 251.9a1.3 1.3 0 1 0 2.6 0a1.3 1.3 0 1 0 -2.6 0M198.9 235.0a1.3 1.3 0 1 0 2.6 0a1.3 1.3 0 1 0 -2.6 0M199.0 235.5a1.3 1.3 0 1 0 2.6 0a1.3 1.3 0 1 0 -2.6 0M199.5 235.3a1.3 1.3 0 1 0 2.6 0a1.3 1.3 0 1 0 -2.6 0M198.4 235.4a1.3 1.3 0 1 0 2.6 0a1.3 1.3 0 1 0 -2.6 0M199.2 235.7a1.3 1.3 0 1 0 2.6 0a1.3 1.3 0 1 0 -2.6 0M199.9 235.7a1.3 1.3 0 1 0 2.6 0a1.3 1.3 0 1 0 -2.6 0M200.2 234.5a1.3 1.3 0 1 0 2.6 0a1.3 1.3 0 1 0 -2.6 0M198.7 235.0a1.3 1.3 0 1 0 2.6 0a1.3 1.3 0 1 0 -2.6 0M199.9 235.2a1.3 1.3 0 1 0 2.6 0a1.3 1.3 0 1 0 -2.6 0M198.6 235.0a1.3 1.3 0 1 0 2.6 0a1.3 1.3 0 1 0 -2.6 0M200.3 235.9a1.3 1.3 0 1 0 2.6 0a1.3 1.3 0 1 0 -2.6 0M199.5 235.1a1.3 1.3 0 1 0 2.6 0a1.3 1.3 0 1 0 -2.6 0M199.2 235.3a1.3 1.3 0 1 0 2.6 0a1.3 1.3 0 1 0 -2.6 0M199.0 234.4a1.3 1.3 0 1 0 2.6 0a1.3 1.3 0 1 0 -2.6 0M199.6 235.7a1.3 1.3 0 1 0 2.6 0a1.3 1.3 0 1 0 -2.6 0M200.1 235.8a1.3 1.3 0 1 0 2.6 0a1.3 1.3 0 1 0 -2.6 0M199.6 217.9a1.3 1.3 0 1 0 2.6 0a1.3 1.3 0 1 0 -2.6 0M199.9 217.8a1.3 1.3 0 1 0 2.6 0a1.3 1.3 0 1 0 -2.6 0M199.8 218.1a1.3 1.3 0 1 0 2.6 0a1.3 1.3 0 1 0 -2.6 0M199.8 217.9a1.3 1.3 0 1 0 2.6 0a1.3 1.3 0 1 0 -2.6 0M200.4 218.5a1.3 1.3 0 1 0 2.6 0a1.3 1.3 0 1 0 -2.6 0M199.9 217.8a1.3 1.3 0 1 0 2.6 0a1.3 1.3 0 1 0 -2.6 0M199.3 218.4a1.3 1.3 0 1 0 2.6 0a1.3 1.3 0 1 0 -2.6 0M199.5 218.9a1.3 1.3 0 1 0 2.6 0a1.3 1.3 0 1 0 -2.6 0M198.5 217.6a1.3 1.3 0 1 0 2.6 0a1.3 1.3 0 1 0 -2.6 0M198.4 217.2a1.3 1.3 0 1 0 2.6 0a1.3 1.3 0 1 0 -2.6 0M199.1 217.9a1.3 1.3 0 1 0 2.6 0a1.3 1.3 0 1 0 -2.6 0M199.3 217.8a1.3 1.3 0 1 0 2.6 0a1.3 1.3 0 1 0 -2.6 0M199.1 218.3a1.3 1.3 0 1 0 2.6 0a1.3 1.3 0 1 0 -2.6 0M199.2 217.4a1.3 1.3 0 1 0 2.6 0a1.3 1.3 0 1 0 -2.6 0M199.9 217.3a1.3 1.3 0 1 0 2.6 0a1.3 1.3 0 1 0 -2.6 0M199.4 218.2a1.3 1.3 0 1 0 2.6 0a1.3 1.3 0 1 0 -2.6 0M198.3 200.7a1.3 1.3 0 1 0 2.6 0a1.3 1.3 0 1 0 -2.6 0M199.7 201.3a1.3 1.3 0 1 0 2.6 0a1.3 1.3 0 1 0 -2.6 0M199.7 200.3a1.3 1.3 0 1 0 2.6 0a1.3 1.3 0 1 0 -2.6 0M199.3 200.4a1.3 1.3 0 1 0 2.6 0a1.3 1.3 0 1 0 -2.6 0M199.4 202.1a1.3 1.3 0 1 0 2.6 0a1.3 1.3 0 1 0 -2.6 0M199.0 201.3a1.3 1.3 0 1 0 2.6 0a1.3 1.3 0 1 0 -2.6 0M199.5 201.6a1.3 1.3 0 1 0 2.6 0a1.3 1.3 0 1 0 -2.6 0M199.0 201.6a1.3 1.3 0 1 0 2.6 0a1.3 1.3 0 1 0 -2.6 0M199.2 201.0a1.3 1.3 0 1 0 2.6 0a1.3 1.3 0 1 0 -2.6 0M199.8 200.6a1.3 1.3 0 1 0 2.6 0a1.3 1.3 0 1 0 -2.6 0M199.3 200.9a1.3 1.3 0 1 0 2.6 0a1.3 1.3 0 1 0 -2.6 0M199.3 201.0a1.3 1.3 0 1 0 2.6 0a1.3 1.3 0 1 0 -2.6 0M200.1 202.5a1.3 1.3 0 1 0 2.6 0a1.3 1.3 0 1 0 -2.6 0M199.1 200.9a1.3 1.3 0 1 0 2.6 0a1.3 1.3 0 1 0 -2.6 0M199.9 201.7a1.3 1.3 0 1 0 2.6 0a1.3 1.3 0 1 0 -2.6 0M199.4 200.5a1.3 1.3 0 1 0 2.6 0a1.3 1.3 0 1 0 -2.6 0M214.8 253.2a1.3 1.3 0 1 0 2.6 0a1.3 1.3 0 1 0 -2.6 0M214.9 252.8a1.3 1.3 0 1 0 2.6 0a1.3 1.3 0 1 0 -2.6 0M215.4 252.6a1.3 1.3 0 1 0 2.6 0a1.3 1.3 0 1 0 -2.6 0M216.0 252.0a1.3 1.3 0 1 0 2.6 0a1.3 1.3 0 1 0 -2.6 0M214.6 252.4a1.3 1.3 0 1 0 2.6 0a1.3 1.3 0 1 0 -2.6 0M214.5 251.8a1.3 1.3 0 1 0 2.6 0a1.3 1.3 0 1 0 -2.6 0M215.9 252.2a1.3 1.3 0 1 0 2.6 0a1.3 1.3 0 1 0 -2.6 0M215.6 252.6a1.3 1.3 0 1 0 2.6 0a1.3 1.3 0 1 0 -2.6 0M215.2 250.7a1.3 1.3 0 1 0 2.6 0a1.3 1.3 0 1 0 -2.6 0M214.3 251.3a1.3 1.3 0 1 0 2.6 0a1.3 1.3 0 1 0 -2.6 0M215.7 253.2a1.3 1.3 0 1 0 2.6 0a1.3 1.3 0 1 0 -2.6 0M214.3 252.6a1.3 1.3 0 1 0 2.6 0a1.3 1.3 0 1 0 -2.6 0M215.6 252.3a1.3 1.3 0 1 0 2.6 0a1.3 1.3 0 1 0 -2.6 0M215.0 251.6a1.3 1.3 0 1 0 2.6 0a1.3 1.3 0 1 0 -2.6 0M215.1 251.9a1.3 1.3 0 1 0 2.6 0a1.3 1.3 0 1 0 -2.6 0M214.9 251.4a1.3 1.3 0 1 0 2.6 0a1.3 1.3 0 1 0 -2.6 0M214.6 234.1a1.3 1.3 0 1 0 2.6 0a1.3 1.3 0 1 0 -2.6 0M214.9 235.5a1.3 1.3 0 1 0 2.6 0a1.3 1.3 0 1 0 -2.6 0M215.4 234.8a1.3 1.3 0 1 0 2.6 0a1.3 1.3 0 1 0 -2.6 0M214.0 234.9a1.3 1.3 0 1 0 2.6 0a1.3 1.3 0 1 0 -2.6 0M214.3 235.5a1.3 1.3 0 1 0 2.6 0a1.3 1.3 0 1 0 -2.6 0M215.5 235.6a1.3 1.3 0 1 0 2.6 0a1.3 1.3 0 1 0 -2.6 0M215.3 235.3a1.3 1.3 0 1 0 2.6 0a1.3 1.3 0 1 0 -2.6 0M216.1 235.1a1.3 1.3 0 1 0 2.6 0a1.3 1.3 0 1 0 -2.6 0M214.4 235.7a1.3 1.3 0 1 0 2.6 0a1.3 1.3 0 1 0 -2.6 0M214.6 235.0a1.3 1.3 0 1 0 2.6 0a1.3 1.3 0 1 0 -2.6 0M215.1 234.5a1.3 1.3 0 1 0 2.6 0a1.3 1.3 0 1 0 -2.6 0M215.1 235.0a1.3 1.3 0 1 0 2.6 0a1.3 1.3 0 1 0 -2.6 0M215.2 235.1a1.3 1.3 0 1 0 2.6 0a1.3 1.3 0 1 0 -2.6 0M215.2 234.6a1.3 1.3 0 1 0 2.6 0a1.3 1.3 0 1 0 -2.6 0M215.5 235.4a1.3 1.3 0 1 0 2.6 0a1.3 1.3 0 1 0 -2.6 0M214.1 235.5a1.3 1.3 0 1 0 2.6 0a1.3 1.3 0 1 0 -2.6 0M215.2 219.5a1.3 1.3 0 1 0 2.6 0a1.3 1.3 0 1 0 -2.6 0M214.8 217.8a1.3 1.3 0 1 0 2.6 0a1.3 1.3 0 1 0 -2.6 0M214.7 218.7a1.3 1.3 0 1 0 2.6 0a1.3 1.3 0 1 0 -2.6 0M216.0 217.2a1.3 1.3 0 1 0 2.6 0a1.3 1.3 0 1 0 -2.6 0M214.9 217.3a1.3 1.3 0 1 0 2.6 0a1.3 1.3 0 1 0 -2.6 0M215.8 218.7a1.3 1.3 0 1 0 2.6 0a1.3 1.3 0 1 0 -2.6 0M216.5 218.6a1.3 1.3 0 1 0 2.6 0a1.3 1.3 0 1 0 -2.6 0M214.9 218.7a1.3 1.3 0 1 0 2.6 0a1.3 1.3 0 1 0 -2.6 0M215.1 218.8a1.3 1.3 0 1 0 2.6 0a1.3 1.3 0 1 0 -2.6 0M215.0 217.4a1.3 1.3 0 1 0 2.6 0a1.3 1.3 0 1 0 -2.6 0M215.2 218.2a1.3 1.3 0 1 0 2.6 0a1.3 1.3 0 1 0 -2.6 0M215.9 218.6a1.3 1.3 0 1 0 2.6 0a1.3 1.3 0 1 0 -2.6 0M215.6 218.2a1.3 1.3 0 1 0 2.6 0a1.3 1.3 0 1 0 -2.6 0M215.2 218.0a1.3 1.3 0 1 0 2.6 0a1.3 1.3 0 1 0 -2.6 0M215.1 218.1a1.3 1.3 0 1 0 2.6 0a1.3 1.3 0 1 0 -2.6 0M214.6 218.4a1.3 1.3 0 1 0 2.6 0a1.3 1.3 0 1 0 -2.6 0M215.3 201.1a1.3 1.3 0 1 0 2.6 0a1.3 1.3 0 1 0 -2.6 0M214.4 201.5a1.3 1.3 0 1 0 2.6 0a1.3 1.3 0 1 0 -2.6 0M214.7 201.1a1.3 1.3 0 1 0 2.6 0a1.3 1.3 0 1 0 -2.6 0M215.1 201.0a1.3 1.3 0 1 0 2.6 0a1.3 1.3 0 1 0 -2.6 0M214.7 201.1a1.3 1.3 0 1 0 2.6 0a1.3 1.3 0 1 0 -2.6 0M214.3 202.8a1.3 1.3 0 1 0 2.6 0a1.3 1.3 0 1 0 -2.6 0M215.0 202.1a1.3 1.3 0 1 0 2.6 0a1.3 1.3 0 1 0 -2.6 0M214.5 201.8a1.3 1.3 0 1 0 2.6 0a1.3 1.3 0 1 0 -2.6 0M215.4 201.8a1.3 1.3 0 1 0 2.6 0a1.3 1.3 0 1 0 -2.6 0M215.2 201.4a1.3 1.3 0 1 0 2.6 0a1.3 1.3 0 1 0 -2.6 0M214.3 202.0a1.3 1.3 0 1 0 2.6 0a1.3 1.3 0 1 0 -2.6 0M215.3 200.9a1.3 1.3 0 1 0 2.6 0a1.3 1.3 0 1 0 -2.6 0M215.5 200.0a1.3 1.3 0 1 0 2.6 0a1.3 1.3 0 1 0 -2.6 0M215.2 200.9a1.3 1.3 0 1 0 2.6 0a1.3 1.3 0 1 0 -2.6 0M215.0 201.0a1.3 1.3 0 1 0 2.6 0a1.3 1.3 0 1 0 -2.6 0M214.8 201.6a1.3 1.3 0 1 0 2.6 0a1.3 1.3 0 1 0 -2.6 0M232.0 253.2a1.3 1.3 0 1 0 2.6 0a1.3 1.3 0 1 0 -2.6 0M231.0 251.8a1.3 1.3 0 1 0 2.6 0a1.3 1.3 0 1 0 -2.6 0M230.9 252.7a1.3 1.3 0 1 0 2.6 0a1.3 1.3 0 1 0 -2.6 0M230.7 252.4a1.3 1.3 0 1 0 2.6 0a1.3 1.3 0 1 0 -2.6 0M230.3 252.1a1.3 1.3 0 1 0 2.6 0a1.3 1.3 0 1 0 -2.6 0M230.6 252.4a1.3 1.3 0 1 0 2.6 0a1.3 1.3 0 1 0 -2.6 0M231.2 252.7a1.3 1.3 0 1 0 2.6 0a1.3 1.3 0 1 0 -2.6 0M231.1 252.5a1.3 1.3 0 1 0 2.6 0a1.3 1.3 0 1 0 -2.6 0M231.1 252.1a1.3 1.3 0 1 0 2.6 0a1.3 1.3 0 1 0 -2.6 0M231.0 252.7a1.3 1.3 0 1 0 2.6 0a1.3 1.3 0 1 0 -2.6 0M230.4 252.6a1.3 1.3 0 1 0 2.6 0a1.3 1.3 0 1 0 -2.6 0M230.9 251.7a1.3 1.3 0 1 0 2.6 0a1.3 1.3 0 1 0 -2.6 0M231.4 252.4a1.3 1.3 0 1 0 2.6 0a1.3 1.3 0 1 0 -2.6 0M230.9 253.1a1.3 1.3 0 1 0 2.6 0a1.3 1.3 0 1 0 -2.6 0M229.6 252.6a1.3 1.3 0 1 0 2.6 0a1.3 1.3 0 1 0 -2.6 0M230.5 253.0a1.3 1.3 0 1 0 2.6 0a1.3 1.3 0 1 0 -2.6 0M229.9 234.8a1.3 1.3 0 1 0 2.6 0a1.3 1.3 0 1 0 -2.6 0M230.4 236.1a1.3 1.3 0 1 0 2.6 0a1.3 1.3 0 1 0 -2.6 0M232.1 235.0a1.3 1.3 0 1 0 2.6 0a1.3 1.3 0 1 0 -2.6 0M230.7 234.7a1.3 1.3 0 1 0 2.6 0a1.3 1.3 0 1 0 -2.6 0M230.4 234.2a1.3 1.3 0 1 0 2.6 0a1.3 1.3 0 1 0 -2.6 0M230.0 235.9a1.3 1.3 0 1 0 2.6 0a1.3 1.3 0 1 0 -2.6 0M230.8 235.6a1.3 1.3 0 1 0 2.6 0a1.3 1.3 0 1 0 -2.6 0M231.6 236.1a1.3 1.3 0 1 0 2.6 0a1.3 1.3 0 1 0 -2.6 0M230.4 235.0a1.3 1.3 0 1 0 2.6 0a1.3 1.3 0 1 0 -2.6 0M231.1 234.5a1.3 1.3 0 1 0 2.6 0a1.3 1.3 0 1 0 -2.6 0M231.0 233.8a1.3 1.3 0 1 0 2.6 0a1.3 1.3 0 1 0 -2.6 0M230.6 235.0a1.3 1.3 0 1 0 2.6 0a1.3 1.3 0 1 0 -2.6 0M231.3 235.3a1.3 1.3 0 1 0 2.6 0a1.3 1.3 0 1 0 -2.6 0M230.7 235.4a1.3 1.3 0 1 0 2.6 0a1.3 1.3 0 1 0 -2.6 0M230.5 235.8a1.3 1.3 0 1 0 2.6 0a1.3 1.3 0 1 0 -2.6 0M230.5 236.0a1.3 1.3 0 1 0 2.6 0a1.3 1.3 0 1 0 -2.6 0M231.0 219.1a1.3 1.3 0 1 0 2.6 0a1.3 1.3 0 1 0 -2.6 0M232.0 217.1a1.3 1.3 0 1 0 2.6 0a1.3 1.3 0 1 0 -2.6 0M231.4 218.2a1.3 1.3 0 1 0 2.6 0a1.3 1.3 0 1 0 -2.6 0M230.5 217.4a1.3 1.3 0 1 0 2.6 0a1.3 1.3 0 1 0 -2.6 0M230.9 217.8a1.3 1.3 0 1 0 2.6 0a1.3 1.3 0 1 0 -2.6 0M230.4 217.5a1.3 1.3 0 1 0 2.6 0a1.3 1.3 0 1 0 -2.6 0M230.4 218.1a1.3 1.3 0 1 0 2.6 0a1.3 1.3 0 1 0 -2.6 0M229.9 218.5a1.3 1.3 0 1 0 2.6 0a1.3 1.3 0 1 0 -2.6 0M231.1 218.4a1.3 1.3 0 1 0 2.6 0a1.3 1.3 0 1 0 -2.6 0M230.6 217.7a1.3 1.3 0 1 0 2.6 0a1.3 1.3 0 1 0 -2.6 0M230.8 217.4a1.3 1.3 0 1 0 2.6 0a1.3 1.3 0 1 0 -2.6 0M229.5 217.8a1.3 1.3 0 1 0 2.6 0a1.3 1.3 0 1 0 -2.6 0M231.1 219.0a1.3 1.3 0 1 0 2.6 0a1.3 1.3 0 1 0 -2.6 0M230.1 217.6a1.3 1.3 0 1 0 2.6 0a1.3 1.3 0 1 0 -2.6 0M230.2 218.5a1.3 1.3 0 1 0 2.6 0a1.3 1.3 0 1 0 -2.6 0M231.1 218.3a1.3 1.3 0 1 0 2.6 0a1.3 1.3 0 1 0 -2.6 0M231.1 201.6a1.3 1.3 0 1 0 2.6 0a1.3 1.3 0 1 0 -2.6 0M231.0 200.5a1.3 1.3 0 1 0 2.6 0a1.3 1.3 0 1 0 -2.6 0M231.0 202.4a1.3 1.3 0 1 0 2.6 0a1.3 1.3 0 1 0 -2.6 0M231.2 201.1a1.3 1.3 0 1 0 2.6 0a1.3 1.3 0 1 0 -2.6 0M230.3 200.3a1.3 1.3 0 1 0 2.6 0a1.3 1.3 0 1 0 -2.6 0M229.9 200.0a1.3 1.3 0 1 0 2.6 0a1.3 1.3 0 1 0 -2.6 0M230.5 200.2a1.3 1.3 0 1 0 2.6 0a1.3 1.3 0 1 0 -2.6 0M230.8 201.9a1.3 1.3 0 1 0 2.6 0a1.3 1.3 0 1 0 -2.6 0M230.9 200.9a1.3 1.3 0 1 0 2.6 0a1.3 1.3 0 1 0 -2.6 0M231.1 200.5a1.3 1.3 0 1 0 2.6 0a1.3 1.3 0 1 0 -2.6 0M230.3 200.8a1.3 1.3 0 1 0 2.6 0a1.3 1.3 0 1 0 -2.6 0M231.2 201.3a1.3 1.3 0 1 0 2.6 0a1.3 1.3 0 1 0 -2.6 0M230.3 201.7a1.3 1.3 0 1 0 2.6 0a1.3 1.3 0 1 0 -2.6 0M231.2 200.7a1.3 1.3 0 1 0 2.6 0a1.3 1.3 0 1 0 -2.6 0M230.4 201.9a1.3 1.3 0 1 0 2.6 0a1.3 1.3 0 1 0 -2.6 0M231.5 202.1a1.3 1.3 0 1 0 2.6 0a1.3 1.3 0 1 0 -2.6 0" fill="#0000ff"/>
<rect x="228.5" y="171.3" width="32.5" height="6.3" fill="#fff" stroke="#7a7a7a" stroke-width="0.75"/>
<circle cx="235.3" cy="174.4" r="1.2" fill="#0000ff"/>
<text x="241.2" y="175.9" class="lg" textLength="18.3" lengthAdjust="spacingAndGlyphs">Complex Data</text>
<text x="180.9" y="164.8" class="tt" textLength="55.1" lengthAdjust="spacingAndGlyphs">Equalized 16QAM Constellation</text>
<text x="240.6" y="159.1" class="inf" style="font-size:4.76px" textLength="35.1" lengthAdjust="spacing">SMF = 100 km</text>
<text x="240.6" y="166.2" class="inf" style="font-size:4.70px" textLength="33.5" lengthAdjust="spacing">EVM = 12.4 %</text>
<text x="211.2" y="295.6" class="sl" textLength="6.6" lengthAdjust="spacingAndGlyphs">(f)</text>
<path d="M284 212.4H400.2" stroke="#8a8a8a" stroke-width="0.8" stroke-dasharray="1.6 1.2" fill="none"/>
<path d="M284 248.2H400.2" stroke="#bdbdbd" stroke-width="0.8" stroke-dasharray="1 1" fill="none"/>
<path d="M284 260.1H400.2" stroke="#bdbdbd" stroke-width="0.8" stroke-dasharray="1 1" fill="none"/>
<path d="M284 272H400.2" stroke="#bdbdbd" stroke-width="0.8" stroke-dasharray="1 1" fill="none"/>
<path d="M284 164.8V283.9H400.2" stroke="#858585" stroke-width="1" fill="none"/>
<path d="M284 283.9v-1.2M313.1 283.9v-1.2M342.1 283.9v-1.2M371.1 283.9v-1.2M400.2 283.9v-1.2M284 283.9h1.2M284 272h1.2M284 260.1h1.2M284 248.2h1.2M284 236.3h1.2M284 224.3h1.2M284 212.4h1.2M284 200.5h1.2M284 188.6h1.2M284 176.7h1.2M284 164.8h1.2" stroke="#555" stroke-width="0.8" fill="none"/>
<text x="284" y="290.4" class="tl" text-anchor="middle">-10</text>
<text x="313.1" y="290.4" class="tl" text-anchor="middle">-5</text>
<text x="342.1" y="290.4" class="tl" text-anchor="middle">0</text>
<text x="371.1" y="290.4" class="tl" text-anchor="middle">5</text>
<text x="400.2" y="290.4" class="tl" text-anchor="middle">10</text>
<text x="282.5" y="285.4" class="tl" text-anchor="end">-10</text>
<text x="282.5" y="273.5" class="tl" text-anchor="end">-8</text>
<text x="282.5" y="261.6" class="tl" text-anchor="end">-6</text>
<text x="282.5" y="249.7" class="tl" text-anchor="end">-4</text>
<text x="282.5" y="237.8" class="tl" text-anchor="end">-2</text>
<text x="282.5" y="225.8" class="tl" text-anchor="end">0</text>
<text x="282.5" y="213.9" class="tl" text-anchor="end">2</text>
<text x="282.5" y="202" class="tl" text-anchor="end">4</text>
<text x="282.5" y="190.1" class="tl" text-anchor="end">6</text>
<text x="282.5" y="178.2" class="tl" text-anchor="end">8</text>
<text x="282.5" y="166.3" class="tl" text-anchor="end">10</text>
<path d="M300.3 266.7a1.2 1.2 0 1 0 2.4 0a1.2 1.2 0 1 0 -2.4 0M298.8 266.0a1.2 1.2 0 1 0 2.4 0a1.2 1.2 0 1 0 -2.4 0M300.0 264.9a1.2 1.2 0 1 0 2.4 0a1.2 1.2 0 1 0 -2.4 0M302.0 266.2a1.2 1.2 0 1 0 2.4 0a1.2 1.2 0 1 0 -2.4 0M301.0 265.2a1.2 1.2 0 1 0 2.4 0a1.2 1.2 0 1 0 -2.4 0M299.8 266.8a1.2 1.2 0 1 0 2.4 0a1.2 1.2 0 1 0 -2.4 0M301.5 266.4a1.2 1.2 0 1 0 2.4 0a1.2 1.2 0 1 0 -2.4 0M300.2 266.3a1.2 1.2 0 1 0 2.4 0a1.2 1.2 0 1 0 -2.4 0M300.1 266.6a1.2 1.2 0 1 0 2.4 0a1.2 1.2 0 1 0 -2.4 0M300.8 265.0a1.2 1.2 0 1 0 2.4 0a1.2 1.2 0 1 0 -2.4 0M299.9 255.3a1.2 1.2 0 1 0 2.4 0a1.2 1.2 0 1 0 -2.4 0M300.2 255.4a1.2 1.2 0 1 0 2.4 0a1.2 1.2 0 1 0 -2.4 0M299.7 253.2a1.2 1.2 0 1 0 2.4 0a1.2 1.2 0 1 0 -2.4 0M302.1 253.9a1.2 1.2 0 1 0 2.4 0a1.2 1.2 0 1 0 -2.4 0M299.3 253.5a1.2 1.2 0 1 0 2.4 0a1.2 1.2 0 1 0 -2.4 0M298.4 254.7a1.2 1.2 0 1 0 2.4 0a1.2 1.2 0 1 0 -2.4 0M301.4 253.6a1.2 1.2 0 1 0 2.4 0a1.2 1.2 0 1 0 -2.4 0M299.1 255.6a1.2 1.2 0 1 0 2.4 0a1.2 1.2 0 1 0 -2.4 0M300.9 254.2a1.2 1.2 0 1 0 2.4 0a1.2 1.2 0 1 0 -2.4 0M299.7 253.8a1.2 1.2 0 1 0 2.4 0a1.2 1.2 0 1 0 -2.4 0M299.7 243.9a1.2 1.2 0 1 0 2.4 0a1.2 1.2 0 1 0 -2.4 0M300.8 242.8a1.2 1.2 0 1 0 2.4 0a1.2 1.2 0 1 0 -2.4 0M299.4 243.4a1.2 1.2 0 1 0 2.4 0a1.2 1.2 0 1 0 -2.4 0M300.4 242.9a1.2 1.2 0 1 0 2.4 0a1.2 1.2 0 1 0 -2.4 0M300.7 242.5a1.2 1.2 0 1 0 2.4 0a1.2 1.2 0 1 0 -2.4 0M301.1 242.6a1.2 1.2 0 1 0 2.4 0a1.2 1.2 0 1 0 -2.4 0M299.7 243.9a1.2 1.2 0 1 0 2.4 0a1.2 1.2 0 1 0 -2.4 0M299.3 241.7a1.2 1.2 0 1 0 2.4 0a1.2 1.2 0 1 0 -2.4 0M302.7 243.3a1.2 1.2 0 1 0 2.4 0a1.2 1.2 0 1 0 -2.4 0M299.3 242.0a1.2 1.2 0 1 0 2.4 0a1.2 1.2 0 1 0 -2.4 0M300.6 230.9a1.2 1.2 0 1 0 2.4 0a1.2 1.2 0 1 0 -2.4 0M300.2 231.7a1.2 1.2 0 1 0 2.4 0a1.2 1.2 0 1 0 -2.4 0M299.9 229.6a1.2 1.2 0 1 0 2.4 0a1.2 1.2 0 1 0 -2.4 0M301.5 230.5a1.2 1.2 0 1 0 2.4 0a1.2 1.2 0 1 0 -2.4 0M300.0 230.0a1.2 1.2 0 1 0 2.4 0a1.2 1.2 0 1 0 -2.4 0M301.1 229.9a1.2 1.2 0 1 0 2.4 0a1.2 1.2 0 1 0 -2.4 0M299.6 230.1a1.2 1.2 0 1 0 2.4 0a1.2 1.2 0 1 0 -2.4 0M301.0 230.9a1.2 1.2 0 1 0 2.4 0a1.2 1.2 0 1 0 -2.4 0M299.1 229.9a1.2 1.2 0 1 0 2.4 0a1.2 1.2 0 1 0 -2.4 0M300.5 229.5a1.2 1.2 0 1 0 2.4 0a1.2 1.2 0 1 0 -2.4 0M300.3 219.0a1.2 1.2 0 1 0 2.4 0a1.2 1.2 0 1 0 -2.4 0M299.8 219.3a1.2 1.2 0 1 0 2.4 0a1.2 1.2 0 1 0 -2.4 0M299.4 218.9a1.2 1.2 0 1 0 2.4 0a1.2 1.2 0 1 0 -2.4 0M299.8 217.5a1.2 1.2 0 1 0 2.4 0a1.2 1.2 0 1 0 -2.4 0M299.2 218.5a1.2 1.2 0 1 0 2.4 0a1.2 1.2 0 1 0 -2.4 0M299.7 217.2a1.2 1.2 0 1 0 2.4 0a1.2 1.2 0 1 0 -2.4 0M300.4 218.7a1.2 1.2 0 1 0 2.4 0a1.2 1.2 0 1 0 -2.4 0M300.8 218.4a1.2 1.2 0 1 0 2.4 0a1.2 1.2 0 1 0 -2.4 0M299.8 217.2a1.2 1.2 0 1 0 2.4 0a1.2 1.2 0 1 0 -2.4 0M300.8 217.0a1.2 1.2 0 1 0 2.4 0a1.2 1.2 0 1 0 -2.4 0M301.1 205.9a1.2 1.2 0 1 0 2.4 0a1.2 1.2 0 1 0 -2.4 0M300.3 207.4a1.2 1.2 0 1 0 2.4 0a1.2 1.2 0 1 0 -2.4 0M300.8 206.5a1.2 1.2 0 1 0 2.4 0a1.2 1.2 0 1 0 -2.4 0M300.7 206.5a1.2 1.2 0 1 0 2.4 0a1.2 1.2 0 1 0 -2.4 0M299.6 207.4a1.2 1.2 0 1 0 2.4 0a1.2 1.2 0 1 0 -2.4 0M300.8 205.5a1.2 1.2 0 1 0 2.4 0a1.2 1.2 0 1 0 -2.4 0M300.0 206.1a1.2 1.2 0 1 0 2.4 0a1.2 1.2 0 1 0 -2.4 0M301.3 207.2a1.2 1.2 0 1 0 2.4 0a1.2 1.2 0 1 0 -2.4 0M299.9 207.4a1.2 1.2 0 1 0 2.4 0a1.2 1.2 0 1 0 -2.4 0M301.1 206.3a1.2 1.2 0 1 0 2.4 0a1.2 1.2 0 1 0 -2.4 0M299.8 196.0a1.2 1.2 0 1 0 2.4 0a1.2 1.2 0 1 0 -2.4 0M300.1 193.8a1.2 1.2 0 1 0 2.4 0a1.2 1.2 0 1 0 -2.4 0M300.0 195.0a1.2 1.2 0 1 0 2.4 0a1.2 1.2 0 1 0 -2.4 0M300.7 195.6a1.2 1.2 0 1 0 2.4 0a1.2 1.2 0 1 0 -2.4 0M300.2 194.1a1.2 1.2 0 1 0 2.4 0a1.2 1.2 0 1 0 -2.4 0M299.6 195.3a1.2 1.2 0 1 0 2.4 0a1.2 1.2 0 1 0 -2.4 0M300.4 194.7a1.2 1.2 0 1 0 2.4 0a1.2 1.2 0 1 0 -2.4 0M300.0 194.4a1.2 1.2 0 1 0 2.4 0a1.2 1.2 0 1 0 -2.4 0M300.4 195.4a1.2 1.2 0 1 0 2.4 0a1.2 1.2 0 1 0 -2.4 0M299.7 194.2a1.2 1.2 0 1 0 2.4 0a1.2 1.2 0 1 0 -2.4 0M301.1 181.6a1.2 1.2 0 1 0 2.4 0a1.2 1.2 0 1 0 -2.4 0M299.5 181.8a1.2 1.2 0 1 0 2.4 0a1.2 1.2 0 1 0 -2.4 0M300.8 182.7a1.2 1.2 0 1 0 2.4 0a1.2 1.2 0 1 0 -2.4 0M300.6 182.0a1.2 1.2 0 1 0 2.4 0a1.2 1.2 0 1 0 -2.4 0M301.6 183.6a1.2 1.2 0 1 0 2.4 0a1.2 1.2 0 1 0 -2.4 0M300.7 182.8a1.2 1.2 0 1 0 2.4 0a1.2 1.2 0 1 0 -2.4 0M300.0 181.7a1.2 1.2 0 1 0 2.4 0a1.2 1.2 0 1 0 -2.4 0M300.9 183.5a1.2 1.2 0 1 0 2.4 0a1.2 1.2 0 1 0 -2.4 0M300.0 182.5a1.2 1.2 0 1 0 2.4 0a1.2 1.2 0 1 0 -2.4 0M299.1 182.0a1.2 1.2 0 1 0 2.4 0a1.2 1.2 0 1 0 -2.4 0M311.8 265.9a1.2 1.2 0 1 0 2.4 0a1.2 1.2 0 1 0 -2.4 0M312.1 264.6a1.2 1.2 0 1 0 2.4 0a1.2 1.2 0 1 0 -2.4 0M311.9 266.4a1.2 1.2 0 1 0 2.4 0a1.2 1.2 0 1 0 -2.4 0M313.2 266.5a1.2 1.2 0 1 0 2.4 0a1.2 1.2 0 1 0 -2.4 0M311.4 267.2a1.2 1.2 0 1 0 2.4 0a1.2 1.2 0 1 0 -2.4 0M312.7 265.8a1.2 1.2 0 1 0 2.4 0a1.2 1.2 0 1 0 -2.4 0M312.2 265.9a1.2 1.2 0 1 0 2.4 0a1.2 1.2 0 1 0 -2.4 0M311.7 266.7a1.2 1.2 0 1 0 2.4 0a1.2 1.2 0 1 0 -2.4 0M311.2 265.7a1.2 1.2 0 1 0 2.4 0a1.2 1.2 0 1 0 -2.4 0M311.9 264.7a1.2 1.2 0 1 0 2.4 0a1.2 1.2 0 1 0 -2.4 0M311.2 254.6a1.2 1.2 0 1 0 2.4 0a1.2 1.2 0 1 0 -2.4 0M311.0 253.0a1.2 1.2 0 1 0 2.4 0a1.2 1.2 0 1 0 -2.4 0M310.8 253.5a1.2 1.2 0 1 0 2.4 0a1.2 1.2 0 1 0 -2.4 0M313.0 254.3a1.2 1.2 0 1 0 2.4 0a1.2 1.2 0 1 0 -2.4 0M312.4 255.9a1.2 1.2 0 1 0 2.4 0a1.2 1.2 0 1 0 -2.4 0M311.5 255.5a1.2 1.2 0 1 0 2.4 0a1.2 1.2 0 1 0 -2.4 0M312.0 254.1a1.2 1.2 0 1 0 2.4 0a1.2 1.2 0 1 0 -2.4 0M311.2 253.4a1.2 1.2 0 1 0 2.4 0a1.2 1.2 0 1 0 -2.4 0M312.1 254.6a1.2 1.2 0 1 0 2.4 0a1.2 1.2 0 1 0 -2.4 0M311.4 255.4a1.2 1.2 0 1 0 2.4 0a1.2 1.2 0 1 0 -2.4 0M311.7 240.5a1.2 1.2 0 1 0 2.4 0a1.2 1.2 0 1 0 -2.4 0M311.3 241.9a1.2 1.2 0 1 0 2.4 0a1.2 1.2 0 1 0 -2.4 0M311.4 241.6a1.2 1.2 0 1 0 2.4 0a1.2 1.2 0 1 0 -2.4 0M312.2 242.4a1.2 1.2 0 1 0 2.4 0a1.2 1.2 0 1 0 -2.4 0M310.4 242.7a1.2 1.2 0 1 0 2.4 0a1.2 1.2 0 1 0 -2.4 0M312.8 242.4a1.2 1.2 0 1 0 2.4 0a1.2 1.2 0 1 0 -2.4 0M312.3 242.6a1.2 1.2 0 1 0 2.4 0a1.2 1.2 0 1 0 -2.4 0M310.3 241.9a1.2 1.2 0 1 0 2.4 0a1.2 1.2 0 1 0 -2.4 0M312.1 242.7a1.2 1.2 0 1 0 2.4 0a1.2 1.2 0 1 0 -2.4 0M311.5 242.0a1.2 1.2 0 1 0 2.4 0a1.2 1.2 0 1 0 -2.4 0M311.4 230.0a1.2 1.2 0 1 0 2.4 0a1.2 1.2 0 1 0 -2.4 0M311.7 232.3a1.2 1.2 0 1 0 2.4 0a1.2 1.2 0 1 0 -2.4 0M311.7 230.8a1.2 1.2 0 1 0 2.4 0a1.2 1.2 0 1 0 -2.4 0M311.2 230.0a1.2 1.2 0 1 0 2.4 0a1.2 1.2 0 1 0 -2.4 0M311.4 229.9a1.2 1.2 0 1 0 2.4 0a1.2 1.2 0 1 0 -2.4 0M312.7 230.2a1.2 1.2 0 1 0 2.4 0a1.2 1.2 0 1 0 -2.4 0M310.6 230.9a1.2 1.2 0 1 0 2.4 0a1.2 1.2 0 1 0 -2.4 0M312.6 230.5a1.2 1.2 0 1 0 2.4 0a1.2 1.2 0 1 0 -2.4 0M311.2 230.4a1.2 1.2 0 1 0 2.4 0a1.2 1.2 0 1 0 -2.4 0M312.2 230.1a1.2 1.2 0 1 0 2.4 0a1.2 1.2 0 1 0 -2.4 0M312.4 219.1a1.2 1.2 0 1 0 2.4 0a1.2 1.2 0 1 0 -2.4 0M311.6 218.6a1.2 1.2 0 1 0 2.4 0a1.2 1.2 0 1 0 -2.4 0M311.8 220.1a1.2 1.2 0 1 0 2.4 0a1.2 1.2 0 1 0 -2.4 0M311.6 219.5a1.2 1.2 0 1 0 2.4 0a1.2 1.2 0 1 0 -2.4 0M313.0 217.1a1.2 1.2 0 1 0 2.4 0a1.2 1.2 0 1 0 -2.4 0M313.2 217.7a1.2 1.2 0 1 0 2.4 0a1.2 1.2 0 1 0 -2.4 0M311.4 217.6a1.2 1.2 0 1 0 2.4 0a1.2 1.2 0 1 0 -2.4 0M311.7 217.9a1.2 1.2 0 1 0 2.4 0a1.2 1.2 0 1 0 -2.4 0M311.1 218.9a1.2 1.2 0 1 0 2.4 0a1.2 1.2 0 1 0 -2.4 0M312.2 216.9a1.2 1.2 0 1 0 2.4 0a1.2 1.2 0 1 0 -2.4 0M311.8 204.6a1.2 1.2 0 1 0 2.4 0a1.2 1.2 0 1 0 -2.4 0M314.1 207.6a1.2 1.2 0 1 0 2.4 0a1.2 1.2 0 1 0 -2.4 0M311.8 207.3a1.2 1.2 0 1 0 2.4 0a1.2 1.2 0 1 0 -2.4 0M311.7 206.9a1.2 1.2 0 1 0 2.4 0a1.2 1.2 0 1 0 -2.4 0M311.8 205.7a1.2 1.2 0 1 0 2.4 0a1.2 1.2 0 1 0 -2.4 0M312.6 206.3a1.2 1.2 0 1 0 2.4 0a1.2 1.2 0 1 0 -2.4 0M311.8 206.4a1.2 1.2 0 1 0 2.4 0a1.2 1.2 0 1 0 -2.4 0M311.9 206.0a1.2 1.2 0 1 0 2.4 0a1.2 1.2 0 1 0 -2.4 0M311.8 206.1a1.2 1.2 0 1 0 2.4 0a1.2 1.2 0 1 0 -2.4 0M310.8 205.8a1.2 1.2 0 1 0 2.4 0a1.2 1.2 0 1 0 -2.4 0M313.2 194.4a1.2 1.2 0 1 0 2.4 0a1.2 1.2 0 1 0 -2.4 0M310.7 193.5a1.2 1.2 0 1 0 2.4 0a1.2 1.2 0 1 0 -2.4 0M311.6 197.1a1.2 1.2 0 1 0 2.4 0a1.2 1.2 0 1 0 -2.4 0M311.7 194.1a1.2 1.2 0 1 0 2.4 0a1.2 1.2 0 1 0 -2.4 0M312.1 193.6a1.2 1.2 0 1 0 2.4 0a1.2 1.2 0 1 0 -2.4 0M312.3 194.5a1.2 1.2 0 1 0 2.4 0a1.2 1.2 0 1 0 -2.4 0M310.2 195.5a1.2 1.2 0 1 0 2.4 0a1.2 1.2 0 1 0 -2.4 0M312.0 194.0a1.2 1.2 0 1 0 2.4 0a1.2 1.2 0 1 0 -2.4 0M311.0 195.1a1.2 1.2 0 1 0 2.4 0a1.2 1.2 0 1 0 -2.4 0M312.2 196.2a1.2 1.2 0 1 0 2.4 0a1.2 1.2 0 1 0 -2.4 0M310.3 182.9a1.2 1.2 0 1 0 2.4 0a1.2 1.2 0 1 0 -2.4 0M312.0 183.1a1.2 1.2 0 1 0 2.4 0a1.2 1.2 0 1 0 -2.4 0M310.0 182.7a1.2 1.2 0 1 0 2.4 0a1.2 1.2 0 1 0 -2.4 0M310.8 182.1a1.2 1.2 0 1 0 2.4 0a1.2 1.2 0 1 0 -2.4 0M311.8 182.5a1.2 1.2 0 1 0 2.4 0a1.2 1.2 0 1 0 -2.4 0M312.4 183.1a1.2 1.2 0 1 0 2.4 0a1.2 1.2 0 1 0 -2.4 0M312.5 181.6a1.2 1.2 0 1 0 2.4 0a1.2 1.2 0 1 0 -2.4 0M312.2 181.6a1.2 1.2 0 1 0 2.4 0a1.2 1.2 0 1 0 -2.4 0M311.3 181.9a1.2 1.2 0 1 0 2.4 0a1.2 1.2 0 1 0 -2.4 0M312.1 183.5a1.2 1.2 0 1 0 2.4 0a1.2 1.2 0 1 0 -2.4 0M323.4 266.5a1.2 1.2 0 1 0 2.4 0a1.2 1.2 0 1 0 -2.4 0M323.0 266.0a1.2 1.2 0 1 0 2.4 0a1.2 1.2 0 1 0 -2.4 0M324.3 266.3a1.2 1.2 0 1 0 2.4 0a1.2 1.2 0 1 0 -2.4 0M323.6 267.3a1.2 1.2 0 1 0 2.4 0a1.2 1.2 0 1 0 -2.4 0M323.5 265.1a1.2 1.2 0 1 0 2.4 0a1.2 1.2 0 1 0 -2.4 0M324.1 265.7a1.2 1.2 0 1 0 2.4 0a1.2 1.2 0 1 0 -2.4 0M323.0 266.8a1.2 1.2 0 1 0 2.4 0a1.2 1.2 0 1 0 -2.4 0M323.4 267.1a1.2 1.2 0 1 0 2.4 0a1.2 1.2 0 1 0 -2.4 0M322.5 265.3a1.2 1.2 0 1 0 2.4 0a1.2 1.2 0 1 0 -2.4 0M322.7 264.6a1.2 1.2 0 1 0 2.4 0a1.2 1.2 0 1 0 -2.4 0M322.3 253.8a1.2 1.2 0 1 0 2.4 0a1.2 1.2 0 1 0 -2.4 0M322.5 254.0a1.2 1.2 0 1 0 2.4 0a1.2 1.2 0 1 0 -2.4 0M322.6 254.1a1.2 1.2 0 1 0 2.4 0a1.2 1.2 0 1 0 -2.4 0M323.3 254.5a1.2 1.2 0 1 0 2.4 0a1.2 1.2 0 1 0 -2.4 0M323.9 252.9a1.2 1.2 0 1 0 2.4 0a1.2 1.2 0 1 0 -2.4 0M323.0 253.4a1.2 1.2 0 1 0 2.4 0a1.2 1.2 0 1 0 -2.4 0M323.5 254.2a1.2 1.2 0 1 0 2.4 0a1.2 1.2 0 1 0 -2.4 0M325.2 255.9a1.2 1.2 0 1 0 2.4 0a1.2 1.2 0 1 0 -2.4 0M322.9 255.6a1.2 1.2 0 1 0 2.4 0a1.2 1.2 0 1 0 -2.4 0M323.2 254.3a1.2 1.2 0 1 0 2.4 0a1.2 1.2 0 1 0 -2.4 0M326.5 241.9a1.2 1.2 0 1 0 2.4 0a1.2 1.2 0 1 0 -2.4 0M324.9 241.2a1.2 1.2 0 1 0 2.4 0a1.2 1.2 0 1 0 -2.4 0M323.1 241.8a1.2 1.2 0 1 0 2.4 0a1.2 1.2 0 1 0 -2.4 0M324.8 242.1a1.2 1.2 0 1 0 2.4 0a1.2 1.2 0 1 0 -2.4 0M323.6 241.8a1.2 1.2 0 1 0 2.4 0a1.2 1.2 0 1 0 -2.4 0M322.2 242.9a1.2 1.2 0 1 0 2.4 0a1.2 1.2 0 1 0 -2.4 0M323.7 241.8a1.2 1.2 0 1 0 2.4 0a1.2 1.2 0 1 0 -2.4 0M322.7 242.5a1.2 1.2 0 1 0 2.4 0a1.2 1.2 0 1 0 -2.4 0M323.4 242.4a1.2 1.2 0 1 0 2.4 0a1.2 1.2 0 1 0 -2.4 0M324.0 242.1a1.2 1.2 0 1 0 2.4 0a1.2 1.2 0 1 0 -2.4 0M323.6 231.5a1.2 1.2 0 1 0 2.4 0a1.2 1.2 0 1 0 -2.4 0M322.6 230.1a1.2 1.2 0 1 0 2.4 0a1.2 1.2 0 1 0 -2.4 0M322.2 230.1a1.2 1.2 0 1 0 2.4 0a1.2 1.2 0 1 0 -2.4 0M322.9 231.0a1.2 1.2 0 1 0 2.4 0a1.2 1.2 0 1 0 -2.4 0M324.0 230.9a1.2 1.2 0 1 0 2.4 0a1.2 1.2 0 1 0 -2.4 0M322.8 230.9a1.2 1.2 0 1 0 2.4 0a1.2 1.2 0 1 0 -2.4 0M323.5 228.0a1.2 1.2 0 1 0 2.4 0a1.2 1.2 0 1 0 -2.4 0M321.7 230.3a1.2 1.2 0 1 0 2.4 0a1.2 1.2 0 1 0 -2.4 0M323.3 229.5a1.2 1.2 0 1 0 2.4 0a1.2 1.2 0 1 0 -2.4 0M323.2 232.4a1.2 1.2 0 1 0 2.4 0a1.2 1.2 0 1 0 -2.4 0M324.5 219.3a1.2 1.2 0 1 0 2.4 0a1.2 1.2 0 1 0 -2.4 0M323.4 219.5a1.2 1.2 0 1 0 2.4 0a1.2 1.2 0 1 0 -2.4 0M322.6 218.8a1.2 1.2 0 1 0 2.4 0a1.2 1.2 0 1 0 -2.4 0M324.1 217.7a1.2 1.2 0 1 0 2.4 0a1.2 1.2 0 1 0 -2.4 0M323.0 218.0a1.2 1.2 0 1 0 2.4 0a1.2 1.2 0 1 0 -2.4 0M323.2 218.3a1.2 1.2 0 1 0 2.4 0a1.2 1.2 0 1 0 -2.4 0M323.6 217.9a1.2 1.2 0 1 0 2.4 0a1.2 1.2 0 1 0 -2.4 0M323.0 218.5a1.2 1.2 0 1 0 2.4 0a1.2 1.2 0 1 0 -2.4 0M323.6 218.3a1.2 1.2 0 1 0 2.4 0a1.2 1.2 0 1 0 -2.4 0M322.8 217.0a1.2 1.2 0 1 0 2.4 0a1.2 1.2 0 1 0 -2.4 0M323.1 205.9a1.2 1.2 0 1 0 2.4 0a1.2 1.2 0 1 0 -2.4 0M323.6 205.5a1.2 1.2 0 1 0 2.4 0a1.2 1.2 0 1 0 -2.4 0M321.7 204.8a1.2 1.2 0 1 0 2.4 0a1.2 1.2 0 1 0 -2.4 0M323.3 207.5a1.2 1.2 0 1 0 2.4 0a1.2 1.2 0 1 0 -2.4 0M323.6 204.6a1.2 1.2 0 1 0 2.4 0a1.2 1.2 0 1 0 -2.4 0M323.9 207.5a1.2 1.2 0 1 0 2.4 0a1.2 1.2 0 1 0 -2.4 0M323.1 205.4a1.2 1.2 0 1 0 2.4 0a1.2 1.2 0 1 0 -2.4 0M322.3 206.7a1.2 1.2 0 1 0 2.4 0a1.2 1.2 0 1 0 -2.4 0M323.2 204.7a1.2 1.2 0 1 0 2.4 0a1.2 1.2 0 1 0 -2.4 0M323.2 205.4a1.2 1.2 0 1 0 2.4 0a1.2 1.2 0 1 0 -2.4 0M322.9 195.3a1.2 1.2 0 1 0 2.4 0a1.2 1.2 0 1 0 -2.4 0M324.3 194.1a1.2 1.2 0 1 0 2.4 0a1.2 1.2 0 1 0 -2.4 0M322.0 194.1a1.2 1.2 0 1 0 2.4 0a1.2 1.2 0 1 0 -2.4 0M324.0 195.1a1.2 1.2 0 1 0 2.4 0a1.2 1.2 0 1 0 -2.4 0M323.6 194.4a1.2 1.2 0 1 0 2.4 0a1.2 1.2 0 1 0 -2.4 0M323.1 195.1a1.2 1.2 0 1 0 2.4 0a1.2 1.2 0 1 0 -2.4 0M322.9 194.8a1.2 1.2 0 1 0 2.4 0a1.2 1.2 0 1 0 -2.4 0M322.4 194.6a1.2 1.2 0 1 0 2.4 0a1.2 1.2 0 1 0 -2.4 0M322.2 194.5a1.2 1.2 0 1 0 2.4 0a1.2 1.2 0 1 0 -2.4 0M323.4 195.5a1.2 1.2 0 1 0 2.4 0a1.2 1.2 0 1 0 -2.4 0M324.1 181.1a1.2 1.2 0 1 0 2.4 0a1.2 1.2 0 1 0 -2.4 0M324.5 183.8a1.2 1.2 0 1 0 2.4 0a1.2 1.2 0 1 0 -2.4 0M324.5 182.5a1.2 1.2 0 1 0 2.4 0a1.2 1.2 0 1 0 -2.4 0M323.4 183.2a1.2 1.2 0 1 0 2.4 0a1.2 1.2 0 1 0 -2.4 0M323.4 181.5a1.2 1.2 0 1 0 2.4 0a1.2 1.2 0 1 0 -2.4 0M323.9 183.0a1.2 1.2 0 1 0 2.4 0a1.2 1.2 0 1 0 -2.4 0M322.9 183.0a1.2 1.2 0 1 0 2.4 0a1.2 1.2 0 1 0 -2.4 0M323.9 181.1a1.2 1.2 0 1 0 2.4 0a1.2 1.2 0 1 0 -2.4 0M322.6 182.7a1.2 1.2 0 1 0 2.4 0a1.2 1.2 0 1 0 -2.4 0M323.1 183.3a1.2 1.2 0 1 0 2.4 0a1.2 1.2 0 1 0 -2.4 0M335.4 265.6a1.2 1.2 0 1 0 2.4 0a1.2 1.2 0 1 0 -2.4 0M333.9 266.9a1.2 1.2 0 1 0 2.4 0a1.2 1.2 0 1 0 -2.4 0M336.0 265.8a1.2 1.2 0 1 0 2.4 0a1.2 1.2 0 1 0 -2.4 0M335.5 266.5a1.2 1.2 0 1 0 2.4 0a1.2 1.2 0 1 0 -2.4 0M334.8 265.7a1.2 1.2 0 1 0 2.4 0a1.2 1.2 0 1 0 -2.4 0M334.7 267.0a1.2 1.2 0 1 0 2.4 0a1.2 1.2 0 1 0 -2.4 0M335.1 265.3a1.2 1.2 0 1 0 2.4 0a1.2 1.2 0 1 0 -2.4 0M334.2 265.2a1.2 1.2 0 1 0 2.4 0a1.2 1.2 0 1 0 -2.4 0M335.6 266.8a1.2 1.2 0 1 0 2.4 0a1.2 1.2 0 1 0 -2.4 0M335.1 266.1a1.2 1.2 0 1 0 2.4 0a1.2 1.2 0 1 0 -2.4 0M335.6 253.6a1.2 1.2 0 1 0 2.4 0a1.2 1.2 0 1 0 -2.4 0M334.0 255.3a1.2 1.2 0 1 0 2.4 0a1.2 1.2 0 1 0 -2.4 0M335.9 254.1a1.2 1.2 0 1 0 2.4 0a1.2 1.2 0 1 0 -2.4 0M335.4 253.9a1.2 1.2 0 1 0 2.4 0a1.2 1.2 0 1 0 -2.4 0M336.3 255.1a1.2 1.2 0 1 0 2.4 0a1.2 1.2 0 1 0 -2.4 0M335.9 254.8a1.2 1.2 0 1 0 2.4 0a1.2 1.2 0 1 0 -2.4 0M335.6 253.0a1.2 1.2 0 1 0 2.4 0a1.2 1.2 0 1 0 -2.4 0M333.9 253.8a1.2 1.2 0 1 0 2.4 0a1.2 1.2 0 1 0 -2.4 0M334.8 254.4a1.2 1.2 0 1 0 2.4 0a1.2 1.2 0 1 0 -2.4 0M335.1 255.0a1.2 1.2 0 1 0 2.4 0a1.2 1.2 0 1 0 -2.4 0M334.3 241.7a1.2 1.2 0 1 0 2.4 0a1.2 1.2 0 1 0 -2.4 0M335.7 242.7a1.2 1.2 0 1 0 2.4 0a1.2 1.2 0 1 0 -2.4 0M333.9 240.3a1.2 1.2 0 1 0 2.4 0a1.2 1.2 0 1 0 -2.4 0M335.9 241.9a1.2 1.2 0 1 0 2.4 0a1.2 1.2 0 1 0 -2.4 0M334.2 242.7a1.2 1.2 0 1 0 2.4 0a1.2 1.2 0 1 0 -2.4 0M335.3 243.0a1.2 1.2 0 1 0 2.4 0a1.2 1.2 0 1 0 -2.4 0M336.4 242.1a1.2 1.2 0 1 0 2.4 0a1.2 1.2 0 1 0 -2.4 0M335.4 243.1a1.2 1.2 0 1 0 2.4 0a1.2 1.2 0 1 0 -2.4 0M334.3 242.9a1.2 1.2 0 1 0 2.4 0a1.2 1.2 0 1 0 -2.4 0M335.3 242.5a1.2 1.2 0 1 0 2.4 0a1.2 1.2 0 1 0 -2.4 0M334.8 230.1a1.2 1.2 0 1 0 2.4 0a1.2 1.2 0 1 0 -2.4 0M335.2 229.1a1.2 1.2 0 1 0 2.4 0a1.2 1.2 0 1 0 -2.4 0M334.9 231.2a1.2 1.2 0 1 0 2.4 0a1.2 1.2 0 1 0 -2.4 0M335.1 229.1a1.2 1.2 0 1 0 2.4 0a1.2 1.2 0 1 0 -2.4 0M334.6 230.3a1.2 1.2 0 1 0 2.4 0a1.2 1.2 0 1 0 -2.4 0M334.8 230.0a1.2 1.2 0 1 0 2.4 0a1.2 1.2 0 1 0 -2.4 0M335.3 231.0a1.2 1.2 0 1 0 2.4 0a1.2 1.2 0 1 0 -2.4 0M334.9 229.6a1.2 1.2 0 1 0 2.4 0a1.2 1.2 0 1 0 -2.4 0M335.9 229.6a1.2 1.2 0 1 0 2.4 0a1.2 1.2 0 1 0 -2.4 0M335.8 230.6a1.2 1.2 0 1 0 2.4 0a1.2 1.2 0 1 0 -2.4 0M334.8 217.7a1.2 1.2 0 1 0 2.4 0a1.2 1.2 0 1 0 -2.4 0M334.1 218.5a1.2 1.2 0 1 0 2.4 0a1.2 1.2 0 1 0 -2.4 0M333.6 218.7a1.2 1.2 0 1 0 2.4 0a1.2 1.2 0 1 0 -2.4 0M334.5 219.4a1.2 1.2 0 1 0 2.4 0a1.2 1.2 0 1 0 -2.4 0M335.5 219.0a1.2 1.2 0 1 0 2.4 0a1.2 1.2 0 1 0 -2.4 0M334.8 218.6a1.2 1.2 0 1 0 2.4 0a1.2 1.2 0 1 0 -2.4 0M334.5 217.3a1.2 1.2 0 1 0 2.4 0a1.2 1.2 0 1 0 -2.4 0M334.7 218.3a1.2 1.2 0 1 0 2.4 0a1.2 1.2 0 1 0 -2.4 0M334.0 218.8a1.2 1.2 0 1 0 2.4 0a1.2 1.2 0 1 0 -2.4 0M334.8 218.7a1.2 1.2 0 1 0 2.4 0a1.2 1.2 0 1 0 -2.4 0M334.6 206.4a1.2 1.2 0 1 0 2.4 0a1.2 1.2 0 1 0 -2.4 0M336.3 206.6a1.2 1.2 0 1 0 2.4 0a1.2 1.2 0 1 0 -2.4 0M335.0 206.8a1.2 1.2 0 1 0 2.4 0a1.2 1.2 0 1 0 -2.4 0M337.1 205.2a1.2 1.2 0 1 0 2.4 0a1.2 1.2 0 1 0 -2.4 0M335.5 205.9a1.2 1.2 0 1 0 2.4 0a1.2 1.2 0 1 0 -2.4 0M334.5 206.6a1.2 1.2 0 1 0 2.4 0a1.2 1.2 0 1 0 -2.4 0M335.2 206.4a1.2 1.2 0 1 0 2.4 0a1.2 1.2 0 1 0 -2.4 0M334.4 207.1a1.2 1.2 0 1 0 2.4 0a1.2 1.2 0 1 0 -2.4 0M335.5 206.3a1.2 1.2 0 1 0 2.4 0a1.2 1.2 0 1 0 -2.4 0M333.4 206.4a1.2 1.2 0 1 0 2.4 0a1.2 1.2 0 1 0 -2.4 0M336.1 195.1a1.2 1.2 0 1 0 2.4 0a1.2 1.2 0 1 0 -2.4 0M335.3 195.8a1.2 1.2 0 1 0 2.4 0a1.2 1.2 0 1 0 -2.4 0M335.7 195.5a1.2 1.2 0 1 0 2.4 0a1.2 1.2 0 1 0 -2.4 0M334.1 194.9a1.2 1.2 0 1 0 2.4 0a1.2 1.2 0 1 0 -2.4 0M337.0 195.1a1.2 1.2 0 1 0 2.4 0a1.2 1.2 0 1 0 -2.4 0M334.1 194.2a1.2 1.2 0 1 0 2.4 0a1.2 1.2 0 1 0 -2.4 0M335.2 193.2a1.2 1.2 0 1 0 2.4 0a1.2 1.2 0 1 0 -2.4 0M334.1 195.9a1.2 1.2 0 1 0 2.4 0a1.2 1.2 0 1 0 -2.4 0M334.8 194.3a1.2 1.2 0 1 0 2.4 0a1.2 1.2 0 1 0 -2.4 0M335.4 193.7a1.2 1.2 0 1 0 2.4 0a1.2 1.2 0 1 0 -2.4 0M333.9 183.4a1.2 1.2 0 1 0 2.4 0a1.2 1.2 0 1 0 -2.4 0M335.0 182.0a1.2 1.2 0 1 0 2.4 0a1.2 1.2 0 1 0 -2.4 0M335.4 183.0a1.2 1.2 0 1 0 2.4 0a1.2 1.2 0 1 0 -2.4 0M334.3 182.0a1.2 1.2 0 1 0 2.4 0a1.2 1.2 0 1 0 -2.4 0M335.8 180.5a1.2 1.2 0 1 0 2.4 0a1.2 1.2 0 1 0 -2.4 0M334.9 181.4a1.2 1.2 0 1 0 2.4 0a1.2 1.2 0 1 0 -2.4 0M334.1 183.1a1.2 1.2 0 1 0 2.4 0a1.2 1.2 0 1 0 -2.4 0M334.5 183.1a1.2 1.2 0 1 0 2.4 0a1.2 1.2 0 1 0 -2.4 0M334.4 183.1a1.2 1.2 0 1 0 2.4 0a1.2 1.2 0 1 0 -2.4 0M335.0 183.1a1.2 1.2 0 1 0 2.4 0a1.2 1.2 0 1 0 -2.4 0M347.2 266.1a1.2 1.2 0 1 0 2.4 0a1.2 1.2 0 1 0 -2.4 0M346.7 264.9a1.2 1.2 0 1 0 2.4 0a1.2 1.2 0 1 0 -2.4 0M346.9 265.9a1.2 1.2 0 1 0 2.4 0a1.2 1.2 0 1 0 -2.4 0M346.7 266.0a1.2 1.2 0 1 0 2.4 0a1.2 1.2 0 1 0 -2.4 0M347.1 266.7a1.2 1.2 0 1 0 2.4 0a1.2 1.2 0 1 0 -2.4 0M347.6 264.8a1.2 1.2 0 1 0 2.4 0a1.2 1.2 0 1 0 -2.4 0M347.6 266.5a1.2 1.2 0 1 0 2.4 0a1.2 1.2 0 1 0 -2.4 0M345.4 266.4a1.2 1.2 0 1 0 2.4 0a1.2 1.2 0 1 0 -2.4 0M346.8 265.4a1.2 1.2 0 1 0 2.4 0a1.2 1.2 0 1 0 -2.4 0M346.5 266.3a1.2 1.2 0 1 0 2.4 0a1.2 1.2 0 1 0 -2.4 0M347.9 254.7a1.2 1.2 0 1 0 2.4 0a1.2 1.2 0 1 0 -2.4 0M347.5 253.4a1.2 1.2 0 1 0 2.4 0a1.2 1.2 0 1 0 -2.4 0M345.6 253.9a1.2 1.2 0 1 0 2.4 0a1.2 1.2 0 1 0 -2.4 0M346.2 254.9a1.2 1.2 0 1 0 2.4 0a1.2 1.2 0 1 0 -2.4 0M345.2 255.4a1.2 1.2 0 1 0 2.4 0a1.2 1.2 0 1 0 -2.4 0M347.0 254.5a1.2 1.2 0 1 0 2.4 0a1.2 1.2 0 1 0 -2.4 0M346.9 255.0a1.2 1.2 0 1 0 2.4 0a1.2 1.2 0 1 0 -2.4 0M346.4 254.4a1.2 1.2 0 1 0 2.4 0a1.2 1.2 0 1 0 -2.4 0M345.5 255.5a1.2 1.2 0 1 0 2.4 0a1.2 1.2 0 1 0 -2.4 0M347.0 254.0a1.2 1.2 0 1 0 2.4 0a1.2 1.2 0 1 0 -2.4 0M345.9 242.3a1.2 1.2 0 1 0 2.4 0a1.2 1.2 0 1 0 -2.4 0M347.2 240.7a1.2 1.2 0 1 0 2.4 0a1.2 1.2 0 1 0 -2.4 0M346.0 241.7a1.2 1.2 0 1 0 2.4 0a1.2 1.2 0 1 0 -2.4 0M348.4 242.2a1.2 1.2 0 1 0 2.4 0a1.2 1.2 0 1 0 -2.4 0M347.9 244.4a1.2 1.2 0 1 0 2.4 0a1.2 1.2 0 1 0 -2.4 0M347.8 242.2a1.2 1.2 0 1 0 2.4 0a1.2 1.2 0 1 0 -2.4 0M345.2 241.6a1.2 1.2 0 1 0 2.4 0a1.2 1.2 0 1 0 -2.4 0M347.5 241.3a1.2 1.2 0 1 0 2.4 0a1.2 1.2 0 1 0 -2.4 0M347.6 242.3a1.2 1.2 0 1 0 2.4 0a1.2 1.2 0 1 0 -2.4 0M346.1 242.6a1.2 1.2 0 1 0 2.4 0a1.2 1.2 0 1 0 -2.4 0M346.7 230.0a1.2 1.2 0 1 0 2.4 0a1.2 1.2 0 1 0 -2.4 0M346.3 230.3a1.2 1.2 0 1 0 2.4 0a1.2 1.2 0 1 0 -2.4 0M347.4 230.1a1.2 1.2 0 1 0 2.4 0a1.2 1.2 0 1 0 -2.4 0M348.5 228.6a1.2 1.2 0 1 0 2.4 0a1.2 1.2 0 1 0 -2.4 0M345.8 230.8a1.2 1.2 0 1 0 2.4 0a1.2 1.2 0 1 0 -2.4 0M345.6 231.3a1.2 1.2 0 1 0 2.4 0a1.2 1.2 0 1 0 -2.4 0M347.1 231.1a1.2 1.2 0 1 0 2.4 0a1.2 1.2 0 1 0 -2.4 0M345.9 230.6a1.2 1.2 0 1 0 2.4 0a1.2 1.2 0 1 0 -2.4 0M347.3 230.6a1.2 1.2 0 1 0 2.4 0a1.2 1.2 0 1 0 -2.4 0M346.4 229.6a1.2 1.2 0 1 0 2.4 0a1.2 1.2 0 1 0 -2.4 0M347.1 218.0a1.2 1.2 0 1 0 2.4 0a1.2 1.2 0 1 0 -2.4 0M347.4 219.2a1.2 1.2 0 1 0 2.4 0a1.2 1.2 0 1 0 -2.4 0M346.9 218.9a1.2 1.2 0 1 0 2.4 0a1.2 1.2 0 1 0 -2.4 0M347.5 217.8a1.2 1.2 0 1 0 2.4 0a1.2 1.2 0 1 0 -2.4 0M345.9 217.3a1.2 1.2 0 1 0 2.4 0a1.2 1.2 0 1 0 -2.4 0M345.8 217.5a1.2 1.2 0 1 0 2.4 0a1.2 1.2 0 1 0 -2.4 0M346.9 219.1a1.2 1.2 0 1 0 2.4 0a1.2 1.2 0 1 0 -2.4 0M345.8 218.7a1.2 1.2 0 1 0 2.4 0a1.2 1.2 0 1 0 -2.4 0M346.7 219.0a1.2 1.2 0 1 0 2.4 0a1.2 1.2 0 1 0 -2.4 0M347.1 219.6a1.2 1.2 0 1 0 2.4 0a1.2 1.2 0 1 0 -2.4 0M346.7 206.5a1.2 1.2 0 1 0 2.4 0a1.2 1.2 0 1 0 -2.4 0M345.2 206.3a1.2 1.2 0 1 0 2.4 0a1.2 1.2 0 1 0 -2.4 0M345.7 208.6a1.2 1.2 0 1 0 2.4 0a1.2 1.2 0 1 0 -2.4 0M346.2 206.7a1.2 1.2 0 1 0 2.4 0a1.2 1.2 0 1 0 -2.4 0M347.4 206.9a1.2 1.2 0 1 0 2.4 0a1.2 1.2 0 1 0 -2.4 0M347.9 205.3a1.2 1.2 0 1 0 2.4 0a1.2 1.2 0 1 0 -2.4 0M347.6 205.4a1.2 1.2 0 1 0 2.4 0a1.2 1.2 0 1 0 -2.4 0M347.0 207.0a1.2 1.2 0 1 0 2.4 0a1.2 1.2 0 1 0 -2.4 0M347.2 205.7a1.2 1.2 0 1 0 2.4 0a1.2 1.2 0 1 0 -2.4 0M346.9 206.7a1.2 1.2 0 1 0 2.4 0a1.2 1.2 0 1 0 -2.4 0M345.4 194.0a1.2 1.2 0 1 0 2.4 0a1.2 1.2 0 1 0 -2.4 0M347.0 195.7a1.2 1.2 0 1 0 2.4 0a1.2 1.2 0 1 0 -2.4 0M346.8 194.0a1.2 1.2 0 1 0 2.4 0a1.2 1.2 0 1 0 -2.4 0M346.6 194.0a1.2 1.2 0 1 0 2.4 0a1.2 1.2 0 1 0 -2.4 0M347.3 195.8a1.2 1.2 0 1 0 2.4 0a1.2 1.2 0 1 0 -2.4 0M346.4 194.2a1.2 1.2 0 1 0 2.4 0a1.2 1.2 0 1 0 -2.4 0M347.4 193.4a1.2 1.2 0 1 0 2.4 0a1.2 1.2 0 1 0 -2.4 0M345.1 194.7a1.2 1.2 0 1 0 2.4 0a1.2 1.2 0 1 0 -2.4 0M347.3 193.6a1.2 1.2 0 1 0 2.4 0a1.2 1.2 0 1 0 -2.4 0M348.0 195.4a1.2 1.2 0 1 0 2.4 0a1.2 1.2 0 1 0 -2.4 0M346.4 183.6a1.2 1.2 0 1 0 2.4 0a1.2 1.2 0 1 0 -2.4 0M347.3 183.8a1.2 1.2 0 1 0 2.4 0a1.2 1.2 0 1 0 -2.4 0M347.6 181.9a1.2 1.2 0 1 0 2.4 0a1.2 1.2 0 1 0 -2.4 0M347.1 184.5a1.2 1.2 0 1 0 2.4 0a1.2 1.2 0 1 0 -2.4 0M346.1 182.1a1.2 1.2 0 1 0 2.4 0a1.2 1.2 0 1 0 -2.4 0M345.5 182.9a1.2 1.2 0 1 0 2.4 0a1.2 1.2 0 1 0 -2.4 0M346.6 182.0a1.2 1.2 0 1 0 2.4 0a1.2 1.2 0 1 0 -2.4 0M346.9 182.5a1.2 1.2 0 1 0 2.4 0a1.2 1.2 0 1 0 -2.4 0M346.3 182.7a1.2 1.2 0 1 0 2.4 0a1.2 1.2 0 1 0 -2.4 0M346.6 182.1a1.2 1.2 0 1 0 2.4 0a1.2 1.2 0 1 0 -2.4 0M358.2 265.2a1.2 1.2 0 1 0 2.4 0a1.2 1.2 0 1 0 -2.4 0M356.9 265.1a1.2 1.2 0 1 0 2.4 0a1.2 1.2 0 1 0 -2.4 0M358.2 265.1a1.2 1.2 0 1 0 2.4 0a1.2 1.2 0 1 0 -2.4 0M358.4 265.4a1.2 1.2 0 1 0 2.4 0a1.2 1.2 0 1 0 -2.4 0M359.5 266.5a1.2 1.2 0 1 0 2.4 0a1.2 1.2 0 1 0 -2.4 0M358.4 266.2a1.2 1.2 0 1 0 2.4 0a1.2 1.2 0 1 0 -2.4 0M358.5 267.4a1.2 1.2 0 1 0 2.4 0a1.2 1.2 0 1 0 -2.4 0M358.2 266.3a1.2 1.2 0 1 0 2.4 0a1.2 1.2 0 1 0 -2.4 0M357.7 266.2a1.2 1.2 0 1 0 2.4 0a1.2 1.2 0 1 0 -2.4 0M357.1 264.9a1.2 1.2 0 1 0 2.4 0a1.2 1.2 0 1 0 -2.4 0M358.7 252.6a1.2 1.2 0 1 0 2.4 0a1.2 1.2 0 1 0 -2.4 0M357.6 255.1a1.2 1.2 0 1 0 2.4 0a1.2 1.2 0 1 0 -2.4 0M358.5 255.5a1.2 1.2 0 1 0 2.4 0a1.2 1.2 0 1 0 -2.4 0M358.5 254.7a1.2 1.2 0 1 0 2.4 0a1.2 1.2 0 1 0 -2.4 0M358.0 253.9a1.2 1.2 0 1 0 2.4 0a1.2 1.2 0 1 0 -2.4 0M358.3 252.6a1.2 1.2 0 1 0 2.4 0a1.2 1.2 0 1 0 -2.4 0M358.8 255.2a1.2 1.2 0 1 0 2.4 0a1.2 1.2 0 1 0 -2.4 0M359.1 255.3a1.2 1.2 0 1 0 2.4 0a1.2 1.2 0 1 0 -2.4 0M358.4 255.2a1.2 1.2 0 1 0 2.4 0a1.2 1.2 0 1 0 -2.4 0M357.6 253.1a1.2 1.2 0 1 0 2.4 0a1.2 1.2 0 1 0 -2.4 0M357.9 242.8a1.2 1.2 0 1 0 2.4 0a1.2 1.2 0 1 0 -2.4 0M357.8 242.5a1.2 1.2 0 1 0 2.4 0a1.2 1.2 0 1 0 -2.4 0M359.5 243.2a1.2 1.2 0 1 0 2.4 0a1.2 1.2 0 1 0 -2.4 0M357.3 241.8a1.2 1.2 0 1 0 2.4 0a1.2 1.2 0 1 0 -2.4 0M357.0 242.5a1.2 1.2 0 1 0 2.4 0a1.2 1.2 0 1 0 -2.4 0M359.2 242.2a1.2 1.2 0 1 0 2.4 0a1.2 1.2 0 1 0 -2.4 0M357.9 242.8a1.2 1.2 0 1 0 2.4 0a1.2 1.2 0 1 0 -2.4 0M357.6 242.7a1.2 1.2 0 1 0 2.4 0a1.2 1.2 0 1 0 -2.4 0M358.4 241.2a1.2 1.2 0 1 0 2.4 0a1.2 1.2 0 1 0 -2.4 0M359.1 242.7a1.2 1.2 0 1 0 2.4 0a1.2 1.2 0 1 0 -2.4 0M357.7 229.8a1.2 1.2 0 1 0 2.4 0a1.2 1.2 0 1 0 -2.4 0M356.8 230.7a1.2 1.2 0 1 0 2.4 0a1.2 1.2 0 1 0 -2.4 0M358.0 231.3a1.2 1.2 0 1 0 2.4 0a1.2 1.2 0 1 0 -2.4 0M357.5 230.1a1.2 1.2 0 1 0 2.4 0a1.2 1.2 0 1 0 -2.4 0M357.0 231.1a1.2 1.2 0 1 0 2.4 0a1.2 1.2 0 1 0 -2.4 0M357.8 230.3a1.2 1.2 0 1 0 2.4 0a1.2 1.2 0 1 0 -2.4 0M357.2 229.5a1.2 1.2 0 1 0 2.4 0a1.2 1.2 0 1 0 -2.4 0M358.0 230.6a1.2 1.2 0 1 0 2.4 0a1.2 1.2 0 1 0 -2.4 0M358.0 230.9a1.2 1.2 0 1 0 2.4 0a1.2 1.2 0 1 0 -2.4 0M357.5 229.4a1.2 1.2 0 1 0 2.4 0a1.2 1.2 0 1 0 -2.4 0M358.4 218.5a1.2 1.2 0 1 0 2.4 0a1.2 1.2 0 1 0 -2.4 0M359.1 219.0a1.2 1.2 0 1 0 2.4 0a1.2 1.2 0 1 0 -2.4 0M358.8 218.4a1.2 1.2 0 1 0 2.4 0a1.2 1.2 0 1 0 -2.4 0M357.6 217.8a1.2 1.2 0 1 0 2.4 0a1.2 1.2 0 1 0 -2.4 0M357.1 217.9a1.2 1.2 0 1 0 2.4 0a1.2 1.2 0 1 0 -2.4 0M357.6 218.1a1.2 1.2 0 1 0 2.4 0a1.2 1.2 0 1 0 -2.4 0M359.4 218.0a1.2 1.2 0 1 0 2.4 0a1.2 1.2 0 1 0 -2.4 0M357.8 218.5a1.2 1.2 0 1 0 2.4 0a1.2 1.2 0 1 0 -2.4 0M358.0 219.4a1.2 1.2 0 1 0 2.4 0a1.2 1.2 0 1 0 -2.4 0M357.4 218.4a1.2 1.2 0 1 0 2.4 0a1.2 1.2 0 1 0 -2.4 0M358.7 208.0a1.2 1.2 0 1 0 2.4 0a1.2 1.2 0 1 0 -2.4 0M358.2 206.1a1.2 1.2 0 1 0 2.4 0a1.2 1.2 0 1 0 -2.4 0M358.4 207.4a1.2 1.2 0 1 0 2.4 0a1.2 1.2 0 1 0 -2.4 0M359.1 207.5a1.2 1.2 0 1 0 2.4 0a1.2 1.2 0 1 0 -2.4 0M358.8 205.2a1.2 1.2 0 1 0 2.4 0a1.2 1.2 0 1 0 -2.4 0M356.6 206.3a1.2 1.2 0 1 0 2.4 0a1.2 1.2 0 1 0 -2.4 0M358.5 206.4a1.2 1.2 0 1 0 2.4 0a1.2 1.2 0 1 0 -2.4 0M357.6 206.8a1.2 1.2 0 1 0 2.4 0a1.2 1.2 0 1 0 -2.4 0M357.1 206.4a1.2 1.2 0 1 0 2.4 0a1.2 1.2 0 1 0 -2.4 0M358.7 207.1a1.2 1.2 0 1 0 2.4 0a1.2 1.2 0 1 0 -2.4 0M357.5 195.0a1.2 1.2 0 1 0 2.4 0a1.2 1.2 0 1 0 -2.4 0M358.3 194.6a1.2 1.2 0 1 0 2.4 0a1.2 1.2 0 1 0 -2.4 0M358.2 194.6a1.2 1.2 0 1 0 2.4 0a1.2 1.2 0 1 0 -2.4 0M357.2 196.9a1.2 1.2 0 1 0 2.4 0a1.2 1.2 0 1 0 -2.4 0M358.7 193.5a1.2 1.2 0 1 0 2.4 0a1.2 1.2 0 1 0 -2.4 0M357.1 195.2a1.2 1.2 0 1 0 2.4 0a1.2 1.2 0 1 0 -2.4 0M358.5 193.9a1.2 1.2 0 1 0 2.4 0a1.2 1.2 0 1 0 -2.4 0M358.8 193.6a1.2 1.2 0 1 0 2.4 0a1.2 1.2 0 1 0 -2.4 0M358.2 194.3a1.2 1.2 0 1 0 2.4 0a1.2 1.2 0 1 0 -2.4 0M358.6 195.0a1.2 1.2 0 1 0 2.4 0a1.2 1.2 0 1 0 -2.4 0M359.2 182.2a1.2 1.2 0 1 0 2.4 0a1.2 1.2 0 1 0 -2.4 0M359.0 183.1a1.2 1.2 0 1 0 2.4 0a1.2 1.2 0 1 0 -2.4 0M359.1 183.6a1.2 1.2 0 1 0 2.4 0a1.2 1.2 0 1 0 -2.4 0M358.6 184.9a1.2 1.2 0 1 0 2.4 0a1.2 1.2 0 1 0 -2.4 0M357.4 182.1a1.2 1.2 0 1 0 2.4 0a1.2 1.2 0 1 0 -2.4 0M357.9 182.6a1.2 1.2 0 1 0 2.4 0a1.2 1.2 0 1 0 -2.4 0M357.0 181.5a1.2 1.2 0 1 0 2.4 0a1.2 1.2 0 1 0 -2.4 0M358.7 182.8a1.2 1.2 0 1 0 2.4 0a1.2 1.2 0 1 0 -2.4 0M358.6 182.5a1.2 1.2 0 1 0 2.4 0a1.2 1.2 0 1 0 -2.4 0M359.4 182.6a1.2 1.2 0 1 0 2.4 0a1.2 1.2 0 1 0 -2.4 0M368.7 266.3a1.2 1.2 0 1 0 2.4 0a1.2 1.2 0 1 0 -2.4 0M370.9 265.7a1.2 1.2 0 1 0 2.4 0a1.2 1.2 0 1 0 -2.4 0M369.5 265.6a1.2 1.2 0 1 0 2.4 0a1.2 1.2 0 1 0 -2.4 0M370.0 265.6a1.2 1.2 0 1 0 2.4 0a1.2 1.2 0 1 0 -2.4 0M368.6 266.9a1.2 1.2 0 1 0 2.4 0a1.2 1.2 0 1 0 -2.4 0M370.4 266.3a1.2 1.2 0 1 0 2.4 0a1.2 1.2 0 1 0 -2.4 0M370.1 264.5a1.2 1.2 0 1 0 2.4 0a1.2 1.2 0 1 0 -2.4 0M369.6 265.9a1.2 1.2 0 1 0 2.4 0a1.2 1.2 0 1 0 -2.4 0M369.4 266.6a1.2 1.2 0 1 0 2.4 0a1.2 1.2 0 1 0 -2.4 0M369.8 267.3a1.2 1.2 0 1 0 2.4 0a1.2 1.2 0 1 0 -2.4 0M368.2 253.1a1.2 1.2 0 1 0 2.4 0a1.2 1.2 0 1 0 -2.4 0M369.8 253.3a1.2 1.2 0 1 0 2.4 0a1.2 1.2 0 1 0 -2.4 0M370.0 254.1a1.2 1.2 0 1 0 2.4 0a1.2 1.2 0 1 0 -2.4 0M370.4 253.6a1.2 1.2 0 1 0 2.4 0a1.2 1.2 0 1 0 -2.4 0M368.9 253.2a1.2 1.2 0 1 0 2.4 0a1.2 1.2 0 1 0 -2.4 0M369.1 254.0a1.2 1.2 0 1 0 2.4 0a1.2 1.2 0 1 0 -2.4 0M371.9 254.1a1.2 1.2 0 1 0 2.4 0a1.2 1.2 0 1 0 -2.4 0M371.2 254.5a1.2 1.2 0 1 0 2.4 0a1.2 1.2 0 1 0 -2.4 0M370.4 254.2a1.2 1.2 0 1 0 2.4 0a1.2 1.2 0 1 0 -2.4 0M370.2 254.9a1.2 1.2 0 1 0 2.4 0a1.2 1.2 0 1 0 -2.4 0M369.1 242.0a1.2 1.2 0 1 0 2.4 0a1.2 1.2 0 1 0 -2.4 0M368.6 243.0a1.2 1.2 0 1 0 2.4 0a1.2 1.2 0 1 0 -2.4 0M370.4 242.8a1.2 1.2 0 1 0 2.4 0a1.2 1.2 0 1 0 -2.4 0M369.2 243.2a1.2 1.2 0 1 0 2.4 0a1.2 1.2 0 1 0 -2.4 0M370.0 242.6a1.2 1.2 0 1 0 2.4 0a1.2 1.2 0 1 0 -2.4 0M370.0 242.5a1.2 1.2 0 1 0 2.4 0a1.2 1.2 0 1 0 -2.4 0M371.3 242.7a1.2 1.2 0 1 0 2.4 0a1.2 1.2 0 1 0 -2.4 0M368.3 242.2a1.2 1.2 0 1 0 2.4 0a1.2 1.2 0 1 0 -2.4 0M369.9 242.2a1.2 1.2 0 1 0 2.4 0a1.2 1.2 0 1 0 -2.4 0M368.6 241.4a1.2 1.2 0 1 0 2.4 0a1.2 1.2 0 1 0 -2.4 0M369.8 230.4a1.2 1.2 0 1 0 2.4 0a1.2 1.2 0 1 0 -2.4 0M368.6 230.0a1.2 1.2 0 1 0 2.4 0a1.2 1.2 0 1 0 -2.4 0M369.8 229.3a1.2 1.2 0 1 0 2.4 0a1.2 1.2 0 1 0 -2.4 0M369.5 231.4a1.2 1.2 0 1 0 2.4 0a1.2 1.2 0 1 0 -2.4 0M370.0 231.1a1.2 1.2 0 1 0 2.4 0a1.2 1.2 0 1 0 -2.4 0M370.2 231.3a1.2 1.2 0 1 0 2.4 0a1.2 1.2 0 1 0 -2.4 0M369.8 230.6a1.2 1.2 0 1 0 2.4 0a1.2 1.2 0 1 0 -2.4 0M369.8 230.8a1.2 1.2 0 1 0 2.4 0a1.2 1.2 0 1 0 -2.4 0M369.2 230.4a1.2 1.2 0 1 0 2.4 0a1.2 1.2 0 1 0 -2.4 0M369.4 230.3a1.2 1.2 0 1 0 2.4 0a1.2 1.2 0 1 0 -2.4 0M369.7 220.3a1.2 1.2 0 1 0 2.4 0a1.2 1.2 0 1 0 -2.4 0M369.8 217.4a1.2 1.2 0 1 0 2.4 0a1.2 1.2 0 1 0 -2.4 0M370.1 218.0a1.2 1.2 0 1 0 2.4 0a1.2 1.2 0 1 0 -2.4 0M370.2 218.9a1.2 1.2 0 1 0 2.4 0a1.2 1.2 0 1 0 -2.4 0M368.8 217.8a1.2 1.2 0 1 0 2.4 0a1.2 1.2 0 1 0 -2.4 0M370.7 218.0a1.2 1.2 0 1 0 2.4 0a1.2 1.2 0 1 0 -2.4 0M370.2 218.2a1.2 1.2 0 1 0 2.4 0a1.2 1.2 0 1 0 -2.4 0M369.8 218.3a1.2 1.2 0 1 0 2.4 0a1.2 1.2 0 1 0 -2.4 0M369.9 218.2a1.2 1.2 0 1 0 2.4 0a1.2 1.2 0 1 0 -2.4 0M369.1 219.0a1.2 1.2 0 1 0 2.4 0a1.2 1.2 0 1 0 -2.4 0M370.3 206.8a1.2 1.2 0 1 0 2.4 0a1.2 1.2 0 1 0 -2.4 0M368.0 206.5a1.2 1.2 0 1 0 2.4 0a1.2 1.2 0 1 0 -2.4 0M368.1 205.0a1.2 1.2 0 1 0 2.4 0a1.2 1.2 0 1 0 -2.4 0M370.4 206.0a1.2 1.2 0 1 0 2.4 0a1.2 1.2 0 1 0 -2.4 0M369.4 207.5a1.2 1.2 0 1 0 2.4 0a1.2 1.2 0 1 0 -2.4 0M369.7 206.5a1.2 1.2 0 1 0 2.4 0a1.2 1.2 0 1 0 -2.4 0M369.3 206.4a1.2 1.2 0 1 0 2.4 0a1.2 1.2 0 1 0 -2.4 0M370.4 206.1a1.2 1.2 0 1 0 2.4 0a1.2 1.2 0 1 0 -2.4 0M369.1 208.3a1.2 1.2 0 1 0 2.4 0a1.2 1.2 0 1 0 -2.4 0M369.9 207.1a1.2 1.2 0 1 0 2.4 0a1.2 1.2 0 1 0 -2.4 0M370.2 193.3a1.2 1.2 0 1 0 2.4 0a1.2 1.2 0 1 0 -2.4 0M371.2 194.4a1.2 1.2 0 1 0 2.4 0a1.2 1.2 0 1 0 -2.4 0M370.7 193.3a1.2 1.2 0 1 0 2.4 0a1.2 1.2 0 1 0 -2.4 0M369.9 194.4a1.2 1.2 0 1 0 2.4 0a1.2 1.2 0 1 0 -2.4 0M370.5 194.7a1.2 1.2 0 1 0 2.4 0a1.2 1.2 0 1 0 -2.4 0M369.5 195.2a1.2 1.2 0 1 0 2.4 0a1.2 1.2 0 1 0 -2.4 0M369.9 195.1a1.2 1.2 0 1 0 2.4 0a1.2 1.2 0 1 0 -2.4 0M370.5 194.9a1.2 1.2 0 1 0 2.4 0a1.2 1.2 0 1 0 -2.4 0M371.0 193.7a1.2 1.2 0 1 0 2.4 0a1.2 1.2 0 1 0 -2.4 0M368.9 193.8a1.2 1.2 0 1 0 2.4 0a1.2 1.2 0 1 0 -2.4 0M369.6 181.6a1.2 1.2 0 1 0 2.4 0a1.2 1.2 0 1 0 -2.4 0M370.3 182.8a1.2 1.2 0 1 0 2.4 0a1.2 1.2 0 1 0 -2.4 0M370.4 183.2a1.2 1.2 0 1 0 2.4 0a1.2 1.2 0 1 0 -2.4 0M370.1 182.4a1.2 1.2 0 1 0 2.4 0a1.2 1.2 0 1 0 -2.4 0M369.8 182.4a1.2 1.2 0 1 0 2.4 0a1.2 1.2 0 1 0 -2.4 0M369.1 182.3a1.2 1.2 0 1 0 2.4 0a1.2 1.2 0 1 0 -2.4 0M368.9 182.2a1.2 1.2 0 1 0 2.4 0a1.2 1.2 0 1 0 -2.4 0M370.3 182.2a1.2 1.2 0 1 0 2.4 0a1.2 1.2 0 1 0 -2.4 0M369.5 180.3a1.2 1.2 0 1 0 2.4 0a1.2 1.2 0 1 0 -2.4 0M369.7 182.6a1.2 1.2 0 1 0 2.4 0a1.2 1.2 0 1 0 -2.4 0M380.9 265.0a1.2 1.2 0 1 0 2.4 0a1.2 1.2 0 1 0 -2.4 0M381.2 265.3a1.2 1.2 0 1 0 2.4 0a1.2 1.2 0 1 0 -2.4 0M380.8 265.8a1.2 1.2 0 1 0 2.4 0a1.2 1.2 0 1 0 -2.4 0M381.2 265.3a1.2 1.2 0 1 0 2.4 0a1.2 1.2 0 1 0 -2.4 0M381.3 266.8a1.2 1.2 0 1 0 2.4 0a1.2 1.2 0 1 0 -2.4 0M381.9 267.0a1.2 1.2 0 1 0 2.4 0a1.2 1.2 0 1 0 -2.4 0M380.8 265.5a1.2 1.2 0 1 0 2.4 0a1.2 1.2 0 1 0 -2.4 0M380.1 265.5a1.2 1.2 0 1 0 2.4 0a1.2 1.2 0 1 0 -2.4 0M381.2 266.8a1.2 1.2 0 1 0 2.4 0a1.2 1.2 0 1 0 -2.4 0M381.7 265.6a1.2 1.2 0 1 0 2.4 0a1.2 1.2 0 1 0 -2.4 0M381.1 254.3a1.2 1.2 0 1 0 2.4 0a1.2 1.2 0 1 0 -2.4 0M382.1 253.6a1.2 1.2 0 1 0 2.4 0a1.2 1.2 0 1 0 -2.4 0M381.5 254.8a1.2 1.2 0 1 0 2.4 0a1.2 1.2 0 1 0 -2.4 0M380.8 254.6a1.2 1.2 0 1 0 2.4 0a1.2 1.2 0 1 0 -2.4 0M382.1 253.7a1.2 1.2 0 1 0 2.4 0a1.2 1.2 0 1 0 -2.4 0M381.8 253.1a1.2 1.2 0 1 0 2.4 0a1.2 1.2 0 1 0 -2.4 0M381.3 254.5a1.2 1.2 0 1 0 2.4 0a1.2 1.2 0 1 0 -2.4 0M381.2 252.7a1.2 1.2 0 1 0 2.4 0a1.2 1.2 0 1 0 -2.4 0M380.0 253.9a1.2 1.2 0 1 0 2.4 0a1.2 1.2 0 1 0 -2.4 0M381.9 254.1a1.2 1.2 0 1 0 2.4 0a1.2 1.2 0 1 0 -2.4 0M383.3 241.3a1.2 1.2 0 1 0 2.4 0a1.2 1.2 0 1 0 -2.4 0M382.1 242.9a1.2 1.2 0 1 0 2.4 0a1.2 1.2 0 1 0 -2.4 0M381.9 242.5a1.2 1.2 0 1 0 2.4 0a1.2 1.2 0 1 0 -2.4 0M381.6 242.1a1.2 1.2 0 1 0 2.4 0a1.2 1.2 0 1 0 -2.4 0M381.2 241.7a1.2 1.2 0 1 0 2.4 0a1.2 1.2 0 1 0 -2.4 0M382.8 241.4a1.2 1.2 0 1 0 2.4 0a1.2 1.2 0 1 0 -2.4 0M381.7 243.8a1.2 1.2 0 1 0 2.4 0a1.2 1.2 0 1 0 -2.4 0M382.4 241.4a1.2 1.2 0 1 0 2.4 0a1.2 1.2 0 1 0 -2.4 0M381.4 242.6a1.2 1.2 0 1 0 2.4 0a1.2 1.2 0 1 0 -2.4 0M382.1 242.9a1.2 1.2 0 1 0 2.4 0a1.2 1.2 0 1 0 -2.4 0M382.2 231.2a1.2 1.2 0 1 0 2.4 0a1.2 1.2 0 1 0 -2.4 0M380.9 230.3a1.2 1.2 0 1 0 2.4 0a1.2 1.2 0 1 0 -2.4 0M380.4 230.3a1.2 1.2 0 1 0 2.4 0a1.2 1.2 0 1 0 -2.4 0M382.0 231.3a1.2 1.2 0 1 0 2.4 0a1.2 1.2 0 1 0 -2.4 0M382.3 230.8a1.2 1.2 0 1 0 2.4 0a1.2 1.2 0 1 0 -2.4 0M382.0 230.1a1.2 1.2 0 1 0 2.4 0a1.2 1.2 0 1 0 -2.4 0M381.2 230.7a1.2 1.2 0 1 0 2.4 0a1.2 1.2 0 1 0 -2.4 0M380.3 230.9a1.2 1.2 0 1 0 2.4 0a1.2 1.2 0 1 0 -2.4 0M381.0 229.0a1.2 1.2 0 1 0 2.4 0a1.2 1.2 0 1 0 -2.4 0M382.3 231.4a1.2 1.2 0 1 0 2.4 0a1.2 1.2 0 1 0 -2.4 0M382.2 218.2a1.2 1.2 0 1 0 2.4 0a1.2 1.2 0 1 0 -2.4 0M381.3 218.0a1.2 1.2 0 1 0 2.4 0a1.2 1.2 0 1 0 -2.4 0M382.2 218.8a1.2 1.2 0 1 0 2.4 0a1.2 1.2 0 1 0 -2.4 0M381.4 218.3a1.2 1.2 0 1 0 2.4 0a1.2 1.2 0 1 0 -2.4 0M380.8 218.3a1.2 1.2 0 1 0 2.4 0a1.2 1.2 0 1 0 -2.4 0M381.5 218.9a1.2 1.2 0 1 0 2.4 0a1.2 1.2 0 1 0 -2.4 0M380.9 218.2a1.2 1.2 0 1 0 2.4 0a1.2 1.2 0 1 0 -2.4 0M382.2 218.1a1.2 1.2 0 1 0 2.4 0a1.2 1.2 0 1 0 -2.4 0M380.9 217.8a1.2 1.2 0 1 0 2.4 0a1.2 1.2 0 1 0 -2.4 0M381.7 217.9a1.2 1.2 0 1 0 2.4 0a1.2 1.2 0 1 0 -2.4 0M382.5 207.2a1.2 1.2 0 1 0 2.4 0a1.2 1.2 0 1 0 -2.4 0M381.5 207.0a1.2 1.2 0 1 0 2.4 0a1.2 1.2 0 1 0 -2.4 0M380.9 204.9a1.2 1.2 0 1 0 2.4 0a1.2 1.2 0 1 0 -2.4 0M382.3 207.9a1.2 1.2 0 1 0 2.4 0a1.2 1.2 0 1 0 -2.4 0M381.9 206.9a1.2 1.2 0 1 0 2.4 0a1.2 1.2 0 1 0 -2.4 0M382.4 206.4a1.2 1.2 0 1 0 2.4 0a1.2 1.2 0 1 0 -2.4 0M381.4 206.4a1.2 1.2 0 1 0 2.4 0a1.2 1.2 0 1 0 -2.4 0M381.9 206.5a1.2 1.2 0 1 0 2.4 0a1.2 1.2 0 1 0 -2.4 0M381.4 206.6a1.2 1.2 0 1 0 2.4 0a1.2 1.2 0 1 0 -2.4 0M382.0 207.4a1.2 1.2 0 1 0 2.4 0a1.2 1.2 0 1 0 -2.4 0M381.6 194.7a1.2 1.2 0 1 0 2.4 0a1.2 1.2 0 1 0 -2.4 0M381.2 194.0a1.2 1.2 0 1 0 2.4 0a1.2 1.2 0 1 0 -2.4 0M380.6 194.9a1.2 1.2 0 1 0 2.4 0a1.2 1.2 0 1 0 -2.4 0M380.9 194.2a1.2 1.2 0 1 0 2.4 0a1.2 1.2 0 1 0 -2.4 0M381.2 194.5a1.2 1.2 0 1 0 2.4 0a1.2 1.2 0 1 0 -2.4 0M381.9 195.8a1.2 1.2 0 1 0 2.4 0a1.2 1.2 0 1 0 -2.4 0M381.9 195.2a1.2 1.2 0 1 0 2.4 0a1.2 1.2 0 1 0 -2.4 0M381.4 194.7a1.2 1.2 0 1 0 2.4 0a1.2 1.2 0 1 0 -2.4 0M382.2 194.0a1.2 1.2 0 1 0 2.4 0a1.2 1.2 0 1 0 -2.4 0M382.9 194.4a1.2 1.2 0 1 0 2.4 0a1.2 1.2 0 1 0 -2.4 0M381.2 183.1a1.2 1.2 0 1 0 2.4 0a1.2 1.2 0 1 0 -2.4 0M382.1 181.4a1.2 1.2 0 1 0 2.4 0a1.2 1.2 0 1 0 -2.4 0M381.8 183.1a1.2 1.2 0 1 0 2.4 0a1.2 1.2 0 1 0 -2.4 0M381.8 182.5a1.2 1.2 0 1 0 2.4 0a1.2 1.2 0 1 0 -2.4 0M381.6 183.2a1.2 1.2 0 1 0 2.4 0a1.2 1.2 0 1 0 -2.4 0M379.6 183.1a1.2 1.2 0 1 0 2.4 0a1.2 1.2 0 1 0 -2.4 0M382.4 182.5a1.2 1.2 0 1 0 2.4 0a1.2 1.2 0 1 0 -2.4 0M379.9 182.7a1.2 1.2 0 1 0 2.4 0a1.2 1.2 0 1 0 -2.4 0M380.2 181.1a1.2 1.2 0 1 0 2.4 0a1.2 1.2 0 1 0 -2.4 0M381.7 183.6a1.2 1.2 0 1 0 2.4 0a1.2 1.2 0 1 0 -2.4 0" fill="#0000ff"/>
<rect x="363.3" y="168.6" width="35.2" height="6" fill="#fff" stroke="#7a7a7a" stroke-width="0.75"/>
<circle cx="370.1" cy="171.6" r="1.2" fill="#0000ff"/>
<text x="376" y="173" class="lg" textLength="21" lengthAdjust="spacingAndGlyphs">Complex Data</text>
<text x="312.6" y="162.3" class="tt" textLength="58.7" lengthAdjust="spacingAndGlyphs">Equalized 64QAM Constellation</text>
<text x="375.6" y="155.3" class="inf" style="font-size:4.72px" textLength="31.9" lengthAdjust="spacing">SMF = 50 km</text>
<text x="375.6" y="162.6" class="inf" style="font-size:4.72px" textLength="33.7" lengthAdjust="spacing">EVM = 7.35 %</text>
<text x="349" y="295.6" class="sl" textLength="8.1" lengthAdjust="spacingAndGlyphs">(g)</text>
<path d="M425.3 185H543.2" stroke="#8a8a8a" stroke-width="0.8" stroke-dasharray="1.6 1.2" fill="none"/>
<path d="M425.3 268.9H543.2" stroke="#bdbdbd" stroke-width="0.8" stroke-dasharray="1 1" fill="none"/>
<path d="M425.3 168.2V285.7H543.2" stroke="#858585" stroke-width="1" fill="none"/>
<path d="M442.1 285.7v-1.2M463.2 285.7v-1.2M484.2 285.7v-1.2M505.3 285.7v-1.2M526.4 285.7v-1.2M425.3 268.9h1.2M425.3 247.9h1.2M425.3 226.9h1.2M425.3 206h1.2M425.3 185h1.2" stroke="#555" stroke-width="0.8" fill="none"/>
<text x="442.1" y="292.2" class="tl" text-anchor="middle">-10</text>
<text x="463.2" y="292.2" class="tl" text-anchor="middle">-5</text>
<text x="484.2" y="292.2" class="tl" text-anchor="middle">0</text>
<text x="505.3" y="292.2" class="tl" text-anchor="middle">5</text>
<text x="526.4" y="292.2" class="tl" text-anchor="middle">10</text>
<text x="423.8" y="270.4" class="tl" text-anchor="end">-10</text>
<text x="423.8" y="249.4" class="tl" text-anchor="end">-5</text>
<text x="423.8" y="228.4" class="tl" text-anchor="end">0</text>
<text x="423.8" y="207.5" class="tl" text-anchor="end">5</text>
<text x="423.8" y="186.5" class="tl" text-anchor="end">10</text>
<path d="M437.3 256.8a1.1 1.1 0 1 0 2.2 0a1.1 1.1 0 1 0 -2.2 0M437.2 256.3a1.1 1.1 0 1 0 2.2 0a1.1 1.1 0 1 0 -2.2 0M436.1 255.9a1.1 1.1 0 1 0 2.2 0a1.1 1.1 0 1 0 -2.2 0M436.0 255.5a1.1 1.1 0 1 0 2.2 0a1.1 1.1 0 1 0 -2.2 0M436.9 256.9a1.1 1.1 0 1 0 2.2 0a1.1 1.1 0 1 0 -2.2 0M435.8 255.4a1.1 1.1 0 1 0 2.2 0a1.1 1.1 0 1 0 -2.2 0M437.7 257.1a1.1 1.1 0 1 0 2.2 0a1.1 1.1 0 1 0 -2.2 0M437.8 256.2a1.1 1.1 0 1 0 2.2 0a1.1 1.1 0 1 0 -2.2 0M436.7 248.0a1.1 1.1 0 1 0 2.2 0a1.1 1.1 0 1 0 -2.2 0M436.7 247.1a1.1 1.1 0 1 0 2.2 0a1.1 1.1 0 1 0 -2.2 0M436.9 249.0a1.1 1.1 0 1 0 2.2 0a1.1 1.1 0 1 0 -2.2 0M438.1 247.4a1.1 1.1 0 1 0 2.2 0a1.1 1.1 0 1 0 -2.2 0M436.2 248.1a1.1 1.1 0 1 0 2.2 0a1.1 1.1 0 1 0 -2.2 0M436.3 247.9a1.1 1.1 0 1 0 2.2 0a1.1 1.1 0 1 0 -2.2 0M437.1 247.8a1.1 1.1 0 1 0 2.2 0a1.1 1.1 0 1 0 -2.2 0M436.5 248.4a1.1 1.1 0 1 0 2.2 0a1.1 1.1 0 1 0 -2.2 0M437.3 239.6a1.1 1.1 0 1 0 2.2 0a1.1 1.1 0 1 0 -2.2 0M438.2 240.0a1.1 1.1 0 1 0 2.2 0a1.1 1.1 0 1 0 -2.2 0M437.3 239.5a1.1 1.1 0 1 0 2.2 0a1.1 1.1 0 1 0 -2.2 0M436.4 238.7a1.1 1.1 0 1 0 2.2 0a1.1 1.1 0 1 0 -2.2 0M436.9 240.1a1.1 1.1 0 1 0 2.2 0a1.1 1.1 0 1 0 -2.2 0M436.6 238.9a1.1 1.1 0 1 0 2.2 0a1.1 1.1 0 1 0 -2.2 0M436.1 238.7a1.1 1.1 0 1 0 2.2 0a1.1 1.1 0 1 0 -2.2 0M437.2 239.7a1.1 1.1 0 1 0 2.2 0a1.1 1.1 0 1 0 -2.2 0M437.6 230.1a1.1 1.1 0 1 0 2.2 0a1.1 1.1 0 1 0 -2.2 0M437.2 231.0a1.1 1.1 0 1 0 2.2 0a1.1 1.1 0 1 0 -2.2 0M437.9 230.3a1.1 1.1 0 1 0 2.2 0a1.1 1.1 0 1 0 -2.2 0M436.3 231.3a1.1 1.1 0 1 0 2.2 0a1.1 1.1 0 1 0 -2.2 0M436.7 231.4a1.1 1.1 0 1 0 2.2 0a1.1 1.1 0 1 0 -2.2 0M435.9 230.6a1.1 1.1 0 1 0 2.2 0a1.1 1.1 0 1 0 -2.2 0M436.9 231.1a1.1 1.1 0 1 0 2.2 0a1.1 1.1 0 1 0 -2.2 0M437.7 231.5a1.1 1.1 0 1 0 2.2 0a1.1 1.1 0 1 0 -2.2 0M436.8 222.6a1.1 1.1 0 1 0 2.2 0a1.1 1.1 0 1 0 -2.2 0M436.6 222.8a1.1 1.1 0 1 0 2.2 0a1.1 1.1 0 1 0 -2.2 0M437.3 222.8a1.1 1.1 0 1 0 2.2 0a1.1 1.1 0 1 0 -2.2 0M437.6 223.2a1.1 1.1 0 1 0 2.2 0a1.1 1.1 0 1 0 -2.2 0M437.0 223.6a1.1 1.1 0 1 0 2.2 0a1.1 1.1 0 1 0 -2.2 0M436.8 223.2a1.1 1.1 0 1 0 2.2 0a1.1 1.1 0 1 0 -2.2 0M437.6 222.3a1.1 1.1 0 1 0 2.2 0a1.1 1.1 0 1 0 -2.2 0M437.1 221.7a1.1 1.1 0 1 0 2.2 0a1.1 1.1 0 1 0 -2.2 0M437.7 213.9a1.1 1.1 0 1 0 2.2 0a1.1 1.1 0 1 0 -2.2 0M436.4 215.2a1.1 1.1 0 1 0 2.2 0a1.1 1.1 0 1 0 -2.2 0M436.8 214.6a1.1 1.1 0 1 0 2.2 0a1.1 1.1 0 1 0 -2.2 0M436.4 214.5a1.1 1.1 0 1 0 2.2 0a1.1 1.1 0 1 0 -2.2 0M435.8 213.5a1.1 1.1 0 1 0 2.2 0a1.1 1.1 0 1 0 -2.2 0M436.2 214.8a1.1 1.1 0 1 0 2.2 0a1.1 1.1 0 1 0 -2.2 0M437.2 215.3a1.1 1.1 0 1 0 2.2 0a1.1 1.1 0 1 0 -2.2 0M437.4 213.8a1.1 1.1 0 1 0 2.2 0a1.1 1.1 0 1 0 -2.2 0M436.6 206.6a1.1 1.1 0 1 0 2.2 0a1.1 1.1 0 1 0 -2.2 0M436.5 207.1a1.1 1.1 0 1 0 2.2 0a1.1 1.1 0 1 0 -2.2 0M437.7 205.9a1.1 1.1 0 1 0 2.2 0a1.1 1.1 0 1 0 -2.2 0M436.4 206.5a1.1 1.1 0 1 0 2.2 0a1.1 1.1 0 1 0 -2.2 0M437.2 205.1a1.1 1.1 0 1 0 2.2 0a1.1 1.1 0 1 0 -2.2 0M436.1 206.3a1.1 1.1 0 1 0 2.2 0a1.1 1.1 0 1 0 -2.2 0M435.8 205.6a1.1 1.1 0 1 0 2.2 0a1.1 1.1 0 1 0 -2.2 0M436.9 204.6a1.1 1.1 0 1 0 2.2 0a1.1 1.1 0 1 0 -2.2 0M436.8 197.8a1.1 1.1 0 1 0 2.2 0a1.1 1.1 0 1 0 -2.2 0M436.4 197.1a1.1 1.1 0 1 0 2.2 0a1.1 1.1 0 1 0 -2.2 0M435.9 197.1a1.1 1.1 0 1 0 2.2 0a1.1 1.1 0 1 0 -2.2 0M437.0 197.9a1.1 1.1 0 1 0 2.2 0a1.1 1.1 0 1 0 -2.2 0M436.3 196.9a1.1 1.1 0 1 0 2.2 0a1.1 1.1 0 1 0 -2.2 0M437.9 197.8a1.1 1.1 0 1 0 2.2 0a1.1 1.1 0 1 0 -2.2 0M437.1 196.5a1.1 1.1 0 1 0 2.2 0a1.1 1.1 0 1 0 -2.2 0M436.5 197.7a1.1 1.1 0 1 0 2.2 0a1.1 1.1 0 1 0 -2.2 0M444.5 256.4a1.1 1.1 0 1 0 2.2 0a1.1 1.1 0 1 0 -2.2 0M445.2 256.6a1.1 1.1 0 1 0 2.2 0a1.1 1.1 0 1 0 -2.2 0M444.8 257.3a1.1 1.1 0 1 0 2.2 0a1.1 1.1 0 1 0 -2.2 0M444.4 256.9a1.1 1.1 0 1 0 2.2 0a1.1 1.1 0 1 0 -2.2 0M445.6 256.6a1.1 1.1 0 1 0 2.2 0a1.1 1.1 0 1 0 -2.2 0M444.7 255.9a1.1 1.1 0 1 0 2.2 0a1.1 1.1 0 1 0 -2.2 0M445.6 256.8a1.1 1.1 0 1 0 2.2 0a1.1 1.1 0 1 0 -2.2 0M444.9 255.9a1.1 1.1 0 1 0 2.2 0a1.1 1.1 0 1 0 -2.2 0M445.5 248.4a1.1 1.1 0 1 0 2.2 0a1.1 1.1 0 1 0 -2.2 0M445.4 247.9a1.1 1.1 0 1 0 2.2 0a1.1 1.1 0 1 0 -2.2 0M445.9 248.5a1.1 1.1 0 1 0 2.2 0a1.1 1.1 0 1 0 -2.2 0M445.8 247.7a1.1 1.1 0 1 0 2.2 0a1.1 1.1 0 1 0 -2.2 0M444.6 247.3a1.1 1.1 0 1 0 2.2 0a1.1 1.1 0 1 0 -2.2 0M445.8 248.7a1.1 1.1 0 1 0 2.2 0a1.1 1.1 0 1 0 -2.2 0M446.4 248.6a1.1 1.1 0 1 0 2.2 0a1.1 1.1 0 1 0 -2.2 0M444.7 248.1a1.1 1.1 0 1 0 2.2 0a1.1 1.1 0 1 0 -2.2 0M445.7 239.2a1.1 1.1 0 1 0 2.2 0a1.1 1.1 0 1 0 -2.2 0M445.2 238.7a1.1 1.1 0 1 0 2.2 0a1.1 1.1 0 1 0 -2.2 0M445.5 238.7a1.1 1.1 0 1 0 2.2 0a1.1 1.1 0 1 0 -2.2 0M447.0 239.4a1.1 1.1 0 1 0 2.2 0a1.1 1.1 0 1 0 -2.2 0M443.7 239.8a1.1 1.1 0 1 0 2.2 0a1.1 1.1 0 1 0 -2.2 0M444.6 239.5a1.1 1.1 0 1 0 2.2 0a1.1 1.1 0 1 0 -2.2 0M445.3 240.3a1.1 1.1 0 1 0 2.2 0a1.1 1.1 0 1 0 -2.2 0M444.6 239.7a1.1 1.1 0 1 0 2.2 0a1.1 1.1 0 1 0 -2.2 0M445.1 232.7a1.1 1.1 0 1 0 2.2 0a1.1 1.1 0 1 0 -2.2 0M445.8 231.1a1.1 1.1 0 1 0 2.2 0a1.1 1.1 0 1 0 -2.2 0M445.2 231.0a1.1 1.1 0 1 0 2.2 0a1.1 1.1 0 1 0 -2.2 0M444.6 231.2a1.1 1.1 0 1 0 2.2 0a1.1 1.1 0 1 0 -2.2 0M445.9 230.5a1.1 1.1 0 1 0 2.2 0a1.1 1.1 0 1 0 -2.2 0M445.5 231.3a1.1 1.1 0 1 0 2.2 0a1.1 1.1 0 1 0 -2.2 0M444.8 230.3a1.1 1.1 0 1 0 2.2 0a1.1 1.1 0 1 0 -2.2 0M445.6 231.4a1.1 1.1 0 1 0 2.2 0a1.1 1.1 0 1 0 -2.2 0M443.9 223.3a1.1 1.1 0 1 0 2.2 0a1.1 1.1 0 1 0 -2.2 0M444.1 222.0a1.1 1.1 0 1 0 2.2 0a1.1 1.1 0 1 0 -2.2 0M445.4 223.2a1.1 1.1 0 1 0 2.2 0a1.1 1.1 0 1 0 -2.2 0M445.1 221.2a1.1 1.1 0 1 0 2.2 0a1.1 1.1 0 1 0 -2.2 0M446.0 223.6a1.1 1.1 0 1 0 2.2 0a1.1 1.1 0 1 0 -2.2 0M445.2 223.5a1.1 1.1 0 1 0 2.2 0a1.1 1.1 0 1 0 -2.2 0M444.2 222.6a1.1 1.1 0 1 0 2.2 0a1.1 1.1 0 1 0 -2.2 0M446.7 221.8a1.1 1.1 0 1 0 2.2 0a1.1 1.1 0 1 0 -2.2 0M445.3 214.6a1.1 1.1 0 1 0 2.2 0a1.1 1.1 0 1 0 -2.2 0M445.4 213.7a1.1 1.1 0 1 0 2.2 0a1.1 1.1 0 1 0 -2.2 0M444.3 215.5a1.1 1.1 0 1 0 2.2 0a1.1 1.1 0 1 0 -2.2 0M446.4 214.2a1.1 1.1 0 1 0 2.2 0a1.1 1.1 0 1 0 -2.2 0M446.2 214.2a1.1 1.1 0 1 0 2.2 0a1.1 1.1 0 1 0 -2.2 0M446.2 214.7a1.1 1.1 0 1 0 2.2 0a1.1 1.1 0 1 0 -2.2 0M445.6 213.4a1.1 1.1 0 1 0 2.2 0a1.1 1.1 0 1 0 -2.2 0M445.9 214.6a1.1 1.1 0 1 0 2.2 0a1.1 1.1 0 1 0 -2.2 0M445.8 206.4a1.1 1.1 0 1 0 2.2 0a1.1 1.1 0 1 0 -2.2 0M444.4 205.6a1.1 1.1 0 1 0 2.2 0a1.1 1.1 0 1 0 -2.2 0M446.1 205.4a1.1 1.1 0 1 0 2.2 0a1.1 1.1 0 1 0 -2.2 0M444.5 205.4a1.1 1.1 0 1 0 2.2 0a1.1 1.1 0 1 0 -2.2 0M445.7 206.3a1.1 1.1 0 1 0 2.2 0a1.1 1.1 0 1 0 -2.2 0M443.7 205.3a1.1 1.1 0 1 0 2.2 0a1.1 1.1 0 1 0 -2.2 0M445.8 205.7a1.1 1.1 0 1 0 2.2 0a1.1 1.1 0 1 0 -2.2 0M444.2 206.9a1.1 1.1 0 1 0 2.2 0a1.1 1.1 0 1 0 -2.2 0M445.9 197.1a1.1 1.1 0 1 0 2.2 0a1.1 1.1 0 1 0 -2.2 0M445.6 197.7a1.1 1.1 0 1 0 2.2 0a1.1 1.1 0 1 0 -2.2 0M445.5 197.9a1.1 1.1 0 1 0 2.2 0a1.1 1.1 0 1 0 -2.2 0M445.1 198.1a1.1 1.1 0 1 0 2.2 0a1.1 1.1 0 1 0 -2.2 0M445.4 197.8a1.1 1.1 0 1 0 2.2 0a1.1 1.1 0 1 0 -2.2 0M445.9 197.1a1.1 1.1 0 1 0 2.2 0a1.1 1.1 0 1 0 -2.2 0M444.7 196.4a1.1 1.1 0 1 0 2.2 0a1.1 1.1 0 1 0 -2.2 0M444.5 197.3a1.1 1.1 0 1 0 2.2 0a1.1 1.1 0 1 0 -2.2 0M454.4 272.3a1.1 1.1 0 1 0 2.2 0a1.1 1.1 0 1 0 -2.2 0M452.3 272.5a1.1 1.1 0 1 0 2.2 0a1.1 1.1 0 1 0 -2.2 0M454.4 272.2a1.1 1.1 0 1 0 2.2 0a1.1 1.1 0 1 0 -2.2 0M452.3 273.5a1.1 1.1 0 1 0 2.2 0a1.1 1.1 0 1 0 -2.2 0M453.6 273.4a1.1 1.1 0 1 0 2.2 0a1.1 1.1 0 1 0 -2.2 0M454.5 273.5a1.1 1.1 0 1 0 2.2 0a1.1 1.1 0 1 0 -2.2 0M454.4 272.8a1.1 1.1 0 1 0 2.2 0a1.1 1.1 0 1 0 -2.2 0M452.8 273.7a1.1 1.1 0 1 0 2.2 0a1.1 1.1 0 1 0 -2.2 0M453.4 264.7a1.1 1.1 0 1 0 2.2 0a1.1 1.1 0 1 0 -2.2 0M454.3 264.8a1.1 1.1 0 1 0 2.2 0a1.1 1.1 0 1 0 -2.2 0M454.2 265.7a1.1 1.1 0 1 0 2.2 0a1.1 1.1 0 1 0 -2.2 0M451.7 264.9a1.1 1.1 0 1 0 2.2 0a1.1 1.1 0 1 0 -2.2 0M454.0 264.9a1.1 1.1 0 1 0 2.2 0a1.1 1.1 0 1 0 -2.2 0M453.0 264.5a1.1 1.1 0 1 0 2.2 0a1.1 1.1 0 1 0 -2.2 0M454.9 264.8a1.1 1.1 0 1 0 2.2 0a1.1 1.1 0 1 0 -2.2 0M453.2 265.3a1.1 1.1 0 1 0 2.2 0a1.1 1.1 0 1 0 -2.2 0M454.9 256.4a1.1 1.1 0 1 0 2.2 0a1.1 1.1 0 1 0 -2.2 0M454.1 255.6a1.1 1.1 0 1 0 2.2 0a1.1 1.1 0 1 0 -2.2 0M454.4 256.9a1.1 1.1 0 1 0 2.2 0a1.1 1.1 0 1 0 -2.2 0M454.3 255.8a1.1 1.1 0 1 0 2.2 0a1.1 1.1 0 1 0 -2.2 0M454.0 255.7a1.1 1.1 0 1 0 2.2 0a1.1 1.1 0 1 0 -2.2 0M453.3 256.4a1.1 1.1 0 1 0 2.2 0a1.1 1.1 0 1 0 -2.2 0M453.3 255.8a1.1 1.1 0 1 0 2.2 0a1.1 1.1 0 1 0 -2.2 0M453.3 256.1a1.1 1.1 0 1 0 2.2 0a1.1 1.1 0 1 0 -2.2 0M453.0 248.0a1.1 1.1 0 1 0 2.2 0a1.1 1.1 0 1 0 -2.2 0M453.4 248.0a1.1 1.1 0 1 0 2.2 0a1.1 1.1 0 1 0 -2.2 0M453.8 248.0a1.1 1.1 0 1 0 2.2 0a1.1 1.1 0 1 0 -2.2 0M453.5 249.2a1.1 1.1 0 1 0 2.2 0a1.1 1.1 0 1 0 -2.2 0M454.4 248.3a1.1 1.1 0 1 0 2.2 0a1.1 1.1 0 1 0 -2.2 0M453.5 248.5a1.1 1.1 0 1 0 2.2 0a1.1 1.1 0 1 0 -2.2 0M454.3 248.5a1.1 1.1 0 1 0 2.2 0a1.1 1.1 0 1 0 -2.2 0M454.0 247.2a1.1 1.1 0 1 0 2.2 0a1.1 1.1 0 1 0 -2.2 0M454.7 238.8a1.1 1.1 0 1 0 2.2 0a1.1 1.1 0 1 0 -2.2 0M454.1 240.3a1.1 1.1 0 1 0 2.2 0a1.1 1.1 0 1 0 -2.2 0M454.5 238.8a1.1 1.1 0 1 0 2.2 0a1.1 1.1 0 1 0 -2.2 0M454.2 239.0a1.1 1.1 0 1 0 2.2 0a1.1 1.1 0 1 0 -2.2 0M453.7 239.9a1.1 1.1 0 1 0 2.2 0a1.1 1.1 0 1 0 -2.2 0M454.4 238.7a1.1 1.1 0 1 0 2.2 0a1.1 1.1 0 1 0 -2.2 0M453.0 239.0a1.1 1.1 0 1 0 2.2 0a1.1 1.1 0 1 0 -2.2 0M453.8 239.0a1.1 1.1 0 1 0 2.2 0a1.1 1.1 0 1 0 -2.2 0M453.9 230.4a1.1 1.1 0 1 0 2.2 0a1.1 1.1 0 1 0 -2.2 0M454.3 230.6a1.1 1.1 0 1 0 2.2 0a1.1 1.1 0 1 0 -2.2 0M452.8 230.6a1.1 1.1 0 1 0 2.2 0a1.1 1.1 0 1 0 -2.2 0M453.7 231.8a1.1 1.1 0 1 0 2.2 0a1.1 1.1 0 1 0 -2.2 0M454.1 232.0a1.1 1.1 0 1 0 2.2 0a1.1 1.1 0 1 0 -2.2 0M454.2 230.1a1.1 1.1 0 1 0 2.2 0a1.1 1.1 0 1 0 -2.2 0M453.4 230.6a1.1 1.1 0 1 0 2.2 0a1.1 1.1 0 1 0 -2.2 0M454.0 230.7a1.1 1.1 0 1 0 2.2 0a1.1 1.1 0 1 0 -2.2 0M452.8 222.4a1.1 1.1 0 1 0 2.2 0a1.1 1.1 0 1 0 -2.2 0M453.8 222.3a1.1 1.1 0 1 0 2.2 0a1.1 1.1 0 1 0 -2.2 0M453.7 222.1a1.1 1.1 0 1 0 2.2 0a1.1 1.1 0 1 0 -2.2 0M453.9 222.3a1.1 1.1 0 1 0 2.2 0a1.1 1.1 0 1 0 -2.2 0M454.5 222.6a1.1 1.1 0 1 0 2.2 0a1.1 1.1 0 1 0 -2.2 0M454.3 222.6a1.1 1.1 0 1 0 2.2 0a1.1 1.1 0 1 0 -2.2 0M454.0 223.1a1.1 1.1 0 1 0 2.2 0a1.1 1.1 0 1 0 -2.2 0M454.2 222.0a1.1 1.1 0 1 0 2.2 0a1.1 1.1 0 1 0 -2.2 0M453.6 213.8a1.1 1.1 0 1 0 2.2 0a1.1 1.1 0 1 0 -2.2 0M454.0 215.0a1.1 1.1 0 1 0 2.2 0a1.1 1.1 0 1 0 -2.2 0M453.9 213.5a1.1 1.1 0 1 0 2.2 0a1.1 1.1 0 1 0 -2.2 0M453.4 215.4a1.1 1.1 0 1 0 2.2 0a1.1 1.1 0 1 0 -2.2 0M453.8 214.7a1.1 1.1 0 1 0 2.2 0a1.1 1.1 0 1 0 -2.2 0M454.9 214.4a1.1 1.1 0 1 0 2.2 0a1.1 1.1 0 1 0 -2.2 0M453.7 214.7a1.1 1.1 0 1 0 2.2 0a1.1 1.1 0 1 0 -2.2 0M453.9 214.7a1.1 1.1 0 1 0 2.2 0a1.1 1.1 0 1 0 -2.2 0M453.1 206.0a1.1 1.1 0 1 0 2.2 0a1.1 1.1 0 1 0 -2.2 0M453.2 205.1a1.1 1.1 0 1 0 2.2 0a1.1 1.1 0 1 0 -2.2 0M453.0 206.0a1.1 1.1 0 1 0 2.2 0a1.1 1.1 0 1 0 -2.2 0M453.3 206.8a1.1 1.1 0 1 0 2.2 0a1.1 1.1 0 1 0 -2.2 0M454.7 207.2a1.1 1.1 0 1 0 2.2 0a1.1 1.1 0 1 0 -2.2 0M454.6 206.8a1.1 1.1 0 1 0 2.2 0a1.1 1.1 0 1 0 -2.2 0M453.8 204.5a1.1 1.1 0 1 0 2.2 0a1.1 1.1 0 1 0 -2.2 0M452.4 206.8a1.1 1.1 0 1 0 2.2 0a1.1 1.1 0 1 0 -2.2 0M454.5 197.4a1.1 1.1 0 1 0 2.2 0a1.1 1.1 0 1 0 -2.2 0M453.4 197.6a1.1 1.1 0 1 0 2.2 0a1.1 1.1 0 1 0 -2.2 0M453.1 197.5a1.1 1.1 0 1 0 2.2 0a1.1 1.1 0 1 0 -2.2 0M454.6 197.8a1.1 1.1 0 1 0 2.2 0a1.1 1.1 0 1 0 -2.2 0M453.8 196.8a1.1 1.1 0 1 0 2.2 0a1.1 1.1 0 1 0 -2.2 0M454.9 197.9a1.1 1.1 0 1 0 2.2 0a1.1 1.1 0 1 0 -2.2 0M453.9 197.9a1.1 1.1 0 1 0 2.2 0a1.1 1.1 0 1 0 -2.2 0M453.3 197.8a1.1 1.1 0 1 0 2.2 0a1.1 1.1 0 1 0 -2.2 0M453.3 190.2a1.1 1.1 0 1 0 2.2 0a1.1 1.1 0 1 0 -2.2 0M452.5 189.6a1.1 1.1 0 1 0 2.2 0a1.1 1.1 0 1 0 -2.2 0M453.8 188.4a1.1 1.1 0 1 0 2.2 0a1.1 1.1 0 1 0 -2.2 0M453.4 189.3a1.1 1.1 0 1 0 2.2 0a1.1 1.1 0 1 0 -2.2 0M454.1 188.7a1.1 1.1 0 1 0 2.2 0a1.1 1.1 0 1 0 -2.2 0M453.6 189.2a1.1 1.1 0 1 0 2.2 0a1.1 1.1 0 1 0 -2.2 0M454.9 189.4a1.1 1.1 0 1 0 2.2 0a1.1 1.1 0 1 0 -2.2 0M453.4 190.2a1.1 1.1 0 1 0 2.2 0a1.1 1.1 0 1 0 -2.2 0M454.0 180.9a1.1 1.1 0 1 0 2.2 0a1.1 1.1 0 1 0 -2.2 0M454.9 181.0a1.1 1.1 0 1 0 2.2 0a1.1 1.1 0 1 0 -2.2 0M454.2 180.2a1.1 1.1 0 1 0 2.2 0a1.1 1.1 0 1 0 -2.2 0M454.7 181.6a1.1 1.1 0 1 0 2.2 0a1.1 1.1 0 1 0 -2.2 0M454.7 180.8a1.1 1.1 0 1 0 2.2 0a1.1 1.1 0 1 0 -2.2 0M453.6 181.0a1.1 1.1 0 1 0 2.2 0a1.1 1.1 0 1 0 -2.2 0M453.5 181.0a1.1 1.1 0 1 0 2.2 0a1.1 1.1 0 1 0 -2.2 0M452.3 180.5a1.1 1.1 0 1 0 2.2 0a1.1 1.1 0 1 0 -2.2 0M462.2 273.7a1.1 1.1 0 1 0 2.2 0a1.1 1.1 0 1 0 -2.2 0M462.1 271.7a1.1 1.1 0 1 0 2.2 0a1.1 1.1 0 1 0 -2.2 0M462.4 273.3a1.1 1.1 0 1 0 2.2 0a1.1 1.1 0 1 0 -2.2 0M463.2 273.6a1.1 1.1 0 1 0 2.2 0a1.1 1.1 0 1 0 -2.2 0M462.0 273.4a1.1 1.1 0 1 0 2.2 0a1.1 1.1 0 1 0 -2.2 0M462.0 272.6a1.1 1.1 0 1 0 2.2 0a1.1 1.1 0 1 0 -2.2 0M462.5 273.5a1.1 1.1 0 1 0 2.2 0a1.1 1.1 0 1 0 -2.2 0M462.0 273.0a1.1 1.1 0 1 0 2.2 0a1.1 1.1 0 1 0 -2.2 0M461.9 264.7a1.1 1.1 0 1 0 2.2 0a1.1 1.1 0 1 0 -2.2 0M461.7 265.1a1.1 1.1 0 1 0 2.2 0a1.1 1.1 0 1 0 -2.2 0M462.1 265.3a1.1 1.1 0 1 0 2.2 0a1.1 1.1 0 1 0 -2.2 0M462.4 264.8a1.1 1.1 0 1 0 2.2 0a1.1 1.1 0 1 0 -2.2 0M461.5 265.1a1.1 1.1 0 1 0 2.2 0a1.1 1.1 0 1 0 -2.2 0M461.8 264.8a1.1 1.1 0 1 0 2.2 0a1.1 1.1 0 1 0 -2.2 0M462.2 264.8a1.1 1.1 0 1 0 2.2 0a1.1 1.1 0 1 0 -2.2 0M461.6 263.8a1.1 1.1 0 1 0 2.2 0a1.1 1.1 0 1 0 -2.2 0M462.7 256.2a1.1 1.1 0 1 0 2.2 0a1.1 1.1 0 1 0 -2.2 0M462.7 256.1a1.1 1.1 0 1 0 2.2 0a1.1 1.1 0 1 0 -2.2 0M462.0 256.3a1.1 1.1 0 1 0 2.2 0a1.1 1.1 0 1 0 -2.2 0M463.8 255.7a1.1 1.1 0 1 0 2.2 0a1.1 1.1 0 1 0 -2.2 0M462.8 256.5a1.1 1.1 0 1 0 2.2 0a1.1 1.1 0 1 0 -2.2 0M462.5 254.9a1.1 1.1 0 1 0 2.2 0a1.1 1.1 0 1 0 -2.2 0M462.4 255.7a1.1 1.1 0 1 0 2.2 0a1.1 1.1 0 1 0 -2.2 0M462.9 255.9a1.1 1.1 0 1 0 2.2 0a1.1 1.1 0 1 0 -2.2 0M463.1 247.8a1.1 1.1 0 1 0 2.2 0a1.1 1.1 0 1 0 -2.2 0M462.4 248.3a1.1 1.1 0 1 0 2.2 0a1.1 1.1 0 1 0 -2.2 0M463.7 247.7a1.1 1.1 0 1 0 2.2 0a1.1 1.1 0 1 0 -2.2 0M462.2 247.1a1.1 1.1 0 1 0 2.2 0a1.1 1.1 0 1 0 -2.2 0M461.8 247.9a1.1 1.1 0 1 0 2.2 0a1.1 1.1 0 1 0 -2.2 0M461.6 247.9a1.1 1.1 0 1 0 2.2 0a1.1 1.1 0 1 0 -2.2 0M461.9 247.6a1.1 1.1 0 1 0 2.2 0a1.1 1.1 0 1 0 -2.2 0M462.0 248.3a1.1 1.1 0 1 0 2.2 0a1.1 1.1 0 1 0 -2.2 0M461.9 239.6a1.1 1.1 0 1 0 2.2 0a1.1 1.1 0 1 0 -2.2 0M461.8 239.0a1.1 1.1 0 1 0 2.2 0a1.1 1.1 0 1 0 -2.2 0M462.5 239.4a1.1 1.1 0 1 0 2.2 0a1.1 1.1 0 1 0 -2.2 0M461.4 239.2a1.1 1.1 0 1 0 2.2 0a1.1 1.1 0 1 0 -2.2 0M461.3 239.4a1.1 1.1 0 1 0 2.2 0a1.1 1.1 0 1 0 -2.2 0M462.1 239.9a1.1 1.1 0 1 0 2.2 0a1.1 1.1 0 1 0 -2.2 0M461.6 239.9a1.1 1.1 0 1 0 2.2 0a1.1 1.1 0 1 0 -2.2 0M463.4 239.7a1.1 1.1 0 1 0 2.2 0a1.1 1.1 0 1 0 -2.2 0M462.0 230.5a1.1 1.1 0 1 0 2.2 0a1.1 1.1 0 1 0 -2.2 0M462.4 230.5a1.1 1.1 0 1 0 2.2 0a1.1 1.1 0 1 0 -2.2 0M461.4 231.8a1.1 1.1 0 1 0 2.2 0a1.1 1.1 0 1 0 -2.2 0M464.1 231.2a1.1 1.1 0 1 0 2.2 0a1.1 1.1 0 1 0 -2.2 0M461.9 231.0a1.1 1.1 0 1 0 2.2 0a1.1 1.1 0 1 0 -2.2 0M462.7 231.9a1.1 1.1 0 1 0 2.2 0a1.1 1.1 0 1 0 -2.2 0M462.3 231.1a1.1 1.1 0 1 0 2.2 0a1.1 1.1 0 1 0 -2.2 0M462.5 231.0a1.1 1.1 0 1 0 2.2 0a1.1 1.1 0 1 0 -2.2 0M461.8 223.3a1.1 1.1 0 1 0 2.2 0a1.1 1.1 0 1 0 -2.2 0M460.6 222.1a1.1 1.1 0 1 0 2.2 0a1.1 1.1 0 1 0 -2.2 0M461.2 223.0a1.1 1.1 0 1 0 2.2 0a1.1 1.1 0 1 0 -2.2 0M463.1 223.0a1.1 1.1 0 1 0 2.2 0a1.1 1.1 0 1 0 -2.2 0M462.5 222.9a1.1 1.1 0 1 0 2.2 0a1.1 1.1 0 1 0 -2.2 0M462.5 222.7a1.1 1.1 0 1 0 2.2 0a1.1 1.1 0 1 0 -2.2 0M461.8 221.9a1.1 1.1 0 1 0 2.2 0a1.1 1.1 0 1 0 -2.2 0M462.0 223.5a1.1 1.1 0 1 0 2.2 0a1.1 1.1 0 1 0 -2.2 0M461.9 214.0a1.1 1.1 0 1 0 2.2 0a1.1 1.1 0 1 0 -2.2 0M461.4 213.9a1.1 1.1 0 1 0 2.2 0a1.1 1.1 0 1 0 -2.2 0M462.6 213.1a1.1 1.1 0 1 0 2.2 0a1.1 1.1 0 1 0 -2.2 0M461.7 213.9a1.1 1.1 0 1 0 2.2 0a1.1 1.1 0 1 0 -2.2 0M461.1 214.6a1.1 1.1 0 1 0 2.2 0a1.1 1.1 0 1 0 -2.2 0M462.2 214.1a1.1 1.1 0 1 0 2.2 0a1.1 1.1 0 1 0 -2.2 0M462.1 214.4a1.1 1.1 0 1 0 2.2 0a1.1 1.1 0 1 0 -2.2 0M461.7 214.6a1.1 1.1 0 1 0 2.2 0a1.1 1.1 0 1 0 -2.2 0M462.3 205.6a1.1 1.1 0 1 0 2.2 0a1.1 1.1 0 1 0 -2.2 0M462.5 205.3a1.1 1.1 0 1 0 2.2 0a1.1 1.1 0 1 0 -2.2 0M462.8 207.0a1.1 1.1 0 1 0 2.2 0a1.1 1.1 0 1 0 -2.2 0M461.8 206.0a1.1 1.1 0 1 0 2.2 0a1.1 1.1 0 1 0 -2.2 0M461.7 205.3a1.1 1.1 0 1 0 2.2 0a1.1 1.1 0 1 0 -2.2 0M462.6 206.0a1.1 1.1 0 1 0 2.2 0a1.1 1.1 0 1 0 -2.2 0M462.2 205.2a1.1 1.1 0 1 0 2.2 0a1.1 1.1 0 1 0 -2.2 0M461.9 206.1a1.1 1.1 0 1 0 2.2 0a1.1 1.1 0 1 0 -2.2 0M462.7 197.3a1.1 1.1 0 1 0 2.2 0a1.1 1.1 0 1 0 -2.2 0M463.0 197.3a1.1 1.1 0 1 0 2.2 0a1.1 1.1 0 1 0 -2.2 0M462.6 197.9a1.1 1.1 0 1 0 2.2 0a1.1 1.1 0 1 0 -2.2 0M461.5 197.6a1.1 1.1 0 1 0 2.2 0a1.1 1.1 0 1 0 -2.2 0M460.5 197.3a1.1 1.1 0 1 0 2.2 0a1.1 1.1 0 1 0 -2.2 0M462.7 197.5a1.1 1.1 0 1 0 2.2 0a1.1 1.1 0 1 0 -2.2 0M462.0 196.9a1.1 1.1 0 1 0 2.2 0a1.1 1.1 0 1 0 -2.2 0M462.1 197.0a1.1 1.1 0 1 0 2.2 0a1.1 1.1 0 1 0 -2.2 0M463.4 188.7a1.1 1.1 0 1 0 2.2 0a1.1 1.1 0 1 0 -2.2 0M462.7 188.9a1.1 1.1 0 1 0 2.2 0a1.1 1.1 0 1 0 -2.2 0M462.3 189.0a1.1 1.1 0 1 0 2.2 0a1.1 1.1 0 1 0 -2.2 0M462.2 188.5a1.1 1.1 0 1 0 2.2 0a1.1 1.1 0 1 0 -2.2 0M461.1 189.3a1.1 1.1 0 1 0 2.2 0a1.1 1.1 0 1 0 -2.2 0M462.5 189.7a1.1 1.1 0 1 0 2.2 0a1.1 1.1 0 1 0 -2.2 0M462.0 189.6a1.1 1.1 0 1 0 2.2 0a1.1 1.1 0 1 0 -2.2 0M462.4 188.6a1.1 1.1 0 1 0 2.2 0a1.1 1.1 0 1 0 -2.2 0M463.0 180.5a1.1 1.1 0 1 0 2.2 0a1.1 1.1 0 1 0 -2.2 0M461.7 180.6a1.1 1.1 0 1 0 2.2 0a1.1 1.1 0 1 0 -2.2 0M462.5 179.9a1.1 1.1 0 1 0 2.2 0a1.1 1.1 0 1 0 -2.2 0M460.8 180.5a1.1 1.1 0 1 0 2.2 0a1.1 1.1 0 1 0 -2.2 0M461.0 180.3a1.1 1.1 0 1 0 2.2 0a1.1 1.1 0 1 0 -2.2 0M462.4 180.5a1.1 1.1 0 1 0 2.2 0a1.1 1.1 0 1 0 -2.2 0M462.6 180.5a1.1 1.1 0 1 0 2.2 0a1.1 1.1 0 1 0 -2.2 0M461.7 180.6a1.1 1.1 0 1 0 2.2 0a1.1 1.1 0 1 0 -2.2 0M471.3 273.2a1.1 1.1 0 1 0 2.2 0a1.1 1.1 0 1 0 -2.2 0M470.6 273.8a1.1 1.1 0 1 0 2.2 0a1.1 1.1 0 1 0 -2.2 0M471.2 273.4a1.1 1.1 0 1 0 2.2 0a1.1 1.1 0 1 0 -2.2 0M470.1 273.4a1.1 1.1 0 1 0 2.2 0a1.1 1.1 0 1 0 -2.2 0M470.0 273.2a1.1 1.1 0 1 0 2.2 0a1.1 1.1 0 1 0 -2.2 0M471.3 272.6a1.1 1.1 0 1 0 2.2 0a1.1 1.1 0 1 0 -2.2 0M471.4 272.2a1.1 1.1 0 1 0 2.2 0a1.1 1.1 0 1 0 -2.2 0M470.0 272.8a1.1 1.1 0 1 0 2.2 0a1.1 1.1 0 1 0 -2.2 0M471.4 263.3a1.1 1.1 0 1 0 2.2 0a1.1 1.1 0 1 0 -2.2 0M469.7 265.6a1.1 1.1 0 1 0 2.2 0a1.1 1.1 0 1 0 -2.2 0M470.8 264.9a1.1 1.1 0 1 0 2.2 0a1.1 1.1 0 1 0 -2.2 0M469.9 264.5a1.1 1.1 0 1 0 2.2 0a1.1 1.1 0 1 0 -2.2 0M470.1 266.1a1.1 1.1 0 1 0 2.2 0a1.1 1.1 0 1 0 -2.2 0M470.5 264.6a1.1 1.1 0 1 0 2.2 0a1.1 1.1 0 1 0 -2.2 0M470.9 264.1a1.1 1.1 0 1 0 2.2 0a1.1 1.1 0 1 0 -2.2 0M470.6 264.8a1.1 1.1 0 1 0 2.2 0a1.1 1.1 0 1 0 -2.2 0M470.1 257.3a1.1 1.1 0 1 0 2.2 0a1.1 1.1 0 1 0 -2.2 0M470.3 255.7a1.1 1.1 0 1 0 2.2 0a1.1 1.1 0 1 0 -2.2 0M470.9 255.1a1.1 1.1 0 1 0 2.2 0a1.1 1.1 0 1 0 -2.2 0M470.4 257.4a1.1 1.1 0 1 0 2.2 0a1.1 1.1 0 1 0 -2.2 0M471.0 255.7a1.1 1.1 0 1 0 2.2 0a1.1 1.1 0 1 0 -2.2 0M469.8 257.3a1.1 1.1 0 1 0 2.2 0a1.1 1.1 0 1 0 -2.2 0M470.6 255.9a1.1 1.1 0 1 0 2.2 0a1.1 1.1 0 1 0 -2.2 0M469.9 256.5a1.1 1.1 0 1 0 2.2 0a1.1 1.1 0 1 0 -2.2 0M470.1 248.6a1.1 1.1 0 1 0 2.2 0a1.1 1.1 0 1 0 -2.2 0M469.7 247.8a1.1 1.1 0 1 0 2.2 0a1.1 1.1 0 1 0 -2.2 0M470.3 248.3a1.1 1.1 0 1 0 2.2 0a1.1 1.1 0 1 0 -2.2 0M469.0 246.9a1.1 1.1 0 1 0 2.2 0a1.1 1.1 0 1 0 -2.2 0M470.0 248.0a1.1 1.1 0 1 0 2.2 0a1.1 1.1 0 1 0 -2.2 0M469.8 247.7a1.1 1.1 0 1 0 2.2 0a1.1 1.1 0 1 0 -2.2 0M469.6 247.9a1.1 1.1 0 1 0 2.2 0a1.1 1.1 0 1 0 -2.2 0M470.4 247.4a1.1 1.1 0 1 0 2.2 0a1.1 1.1 0 1 0 -2.2 0M469.9 239.9a1.1 1.1 0 1 0 2.2 0a1.1 1.1 0 1 0 -2.2 0M470.4 238.3a1.1 1.1 0 1 0 2.2 0a1.1 1.1 0 1 0 -2.2 0M469.6 239.4a1.1 1.1 0 1 0 2.2 0a1.1 1.1 0 1 0 -2.2 0M470.1 239.3a1.1 1.1 0 1 0 2.2 0a1.1 1.1 0 1 0 -2.2 0M470.9 239.4a1.1 1.1 0 1 0 2.2 0a1.1 1.1 0 1 0 -2.2 0M470.7 239.4a1.1 1.1 0 1 0 2.2 0a1.1 1.1 0 1 0 -2.2 0M470.2 239.7a1.1 1.1 0 1 0 2.2 0a1.1 1.1 0 1 0 -2.2 0M469.5 239.7a1.1 1.1 0 1 0 2.2 0a1.1 1.1 0 1 0 -2.2 0M470.1 231.3a1.1 1.1 0 1 0 2.2 0a1.1 1.1 0 1 0 -2.2 0M471.0 230.9a1.1 1.1 0 1 0 2.2 0a1.1 1.1 0 1 0 -2.2 0M470.8 230.5a1.1 1.1 0 1 0 2.2 0a1.1 1.1 0 1 0 -2.2 0M469.1 230.9a1.1 1.1 0 1 0 2.2 0a1.1 1.1 0 1 0 -2.2 0M470.5 231.2a1.1 1.1 0 1 0 2.2 0a1.1 1.1 0 1 0 -2.2 0M469.7 230.8a1.1 1.1 0 1 0 2.2 0a1.1 1.1 0 1 0 -2.2 0M471.2 230.5a1.1 1.1 0 1 0 2.2 0a1.1 1.1 0 1 0 -2.2 0M470.5 230.8a1.1 1.1 0 1 0 2.2 0a1.1 1.1 0 1 0 -2.2 0M471.1 221.7a1.1 1.1 0 1 0 2.2 0a1.1 1.1 0 1 0 -2.2 0M471.3 222.7a1.1 1.1 0 1 0 2.2 0a1.1 1.1 0 1 0 -2.2 0M470.6 222.6a1.1 1.1 0 1 0 2.2 0a1.1 1.1 0 1 0 -2.2 0M470.7 223.0a1.1 1.1 0 1 0 2.2 0a1.1 1.1 0 1 0 -2.2 0M471.0 223.2a1.1 1.1 0 1 0 2.2 0a1.1 1.1 0 1 0 -2.2 0M470.0 222.5a1.1 1.1 0 1 0 2.2 0a1.1 1.1 0 1 0 -2.2 0M470.2 222.9a1.1 1.1 0 1 0 2.2 0a1.1 1.1 0 1 0 -2.2 0M469.3 222.3a1.1 1.1 0 1 0 2.2 0a1.1 1.1 0 1 0 -2.2 0M470.5 214.4a1.1 1.1 0 1 0 2.2 0a1.1 1.1 0 1 0 -2.2 0M470.8 214.2a1.1 1.1 0 1 0 2.2 0a1.1 1.1 0 1 0 -2.2 0M470.1 213.2a1.1 1.1 0 1 0 2.2 0a1.1 1.1 0 1 0 -2.2 0M470.2 213.8a1.1 1.1 0 1 0 2.2 0a1.1 1.1 0 1 0 -2.2 0M471.6 214.7a1.1 1.1 0 1 0 2.2 0a1.1 1.1 0 1 0 -2.2 0M470.6 214.9a1.1 1.1 0 1 0 2.2 0a1.1 1.1 0 1 0 -2.2 0M471.2 214.6a1.1 1.1 0 1 0 2.2 0a1.1 1.1 0 1 0 -2.2 0M469.9 213.6a1.1 1.1 0 1 0 2.2 0a1.1 1.1 0 1 0 -2.2 0M471.1 206.5a1.1 1.1 0 1 0 2.2 0a1.1 1.1 0 1 0 -2.2 0M471.2 205.8a1.1 1.1 0 1 0 2.2 0a1.1 1.1 0 1 0 -2.2 0M472.2 204.9a1.1 1.1 0 1 0 2.2 0a1.1 1.1 0 1 0 -2.2 0M470.2 206.1a1.1 1.1 0 1 0 2.2 0a1.1 1.1 0 1 0 -2.2 0M470.0 205.9a1.1 1.1 0 1 0 2.2 0a1.1 1.1 0 1 0 -2.2 0M470.5 205.5a1.1 1.1 0 1 0 2.2 0a1.1 1.1 0 1 0 -2.2 0M470.6 206.9a1.1 1.1 0 1 0 2.2 0a1.1 1.1 0 1 0 -2.2 0M470.0 205.1a1.1 1.1 0 1 0 2.2 0a1.1 1.1 0 1 0 -2.2 0M471.2 197.7a1.1 1.1 0 1 0 2.2 0a1.1 1.1 0 1 0 -2.2 0M470.4 197.7a1.1 1.1 0 1 0 2.2 0a1.1 1.1 0 1 0 -2.2 0M470.5 198.6a1.1 1.1 0 1 0 2.2 0a1.1 1.1 0 1 0 -2.2 0M471.1 198.0a1.1 1.1 0 1 0 2.2 0a1.1 1.1 0 1 0 -2.2 0M470.6 199.1a1.1 1.1 0 1 0 2.2 0a1.1 1.1 0 1 0 -2.2 0M470.7 196.8a1.1 1.1 0 1 0 2.2 0a1.1 1.1 0 1 0 -2.2 0M469.2 196.7a1.1 1.1 0 1 0 2.2 0a1.1 1.1 0 1 0 -2.2 0M470.8 198.0a1.1 1.1 0 1 0 2.2 0a1.1 1.1 0 1 0 -2.2 0M469.6 188.5a1.1 1.1 0 1 0 2.2 0a1.1 1.1 0 1 0 -2.2 0M470.7 188.8a1.1 1.1 0 1 0 2.2 0a1.1 1.1 0 1 0 -2.2 0M470.4 189.7a1.1 1.1 0 1 0 2.2 0a1.1 1.1 0 1 0 -2.2 0M471.0 189.8a1.1 1.1 0 1 0 2.2 0a1.1 1.1 0 1 0 -2.2 0M471.1 190.2a1.1 1.1 0 1 0 2.2 0a1.1 1.1 0 1 0 -2.2 0M470.0 190.1a1.1 1.1 0 1 0 2.2 0a1.1 1.1 0 1 0 -2.2 0M471.3 190.2a1.1 1.1 0 1 0 2.2 0a1.1 1.1 0 1 0 -2.2 0M469.8 188.8a1.1 1.1 0 1 0 2.2 0a1.1 1.1 0 1 0 -2.2 0M470.7 179.5a1.1 1.1 0 1 0 2.2 0a1.1 1.1 0 1 0 -2.2 0M471.6 180.4a1.1 1.1 0 1 0 2.2 0a1.1 1.1 0 1 0 -2.2 0M470.9 181.9a1.1 1.1 0 1 0 2.2 0a1.1 1.1 0 1 0 -2.2 0M470.0 181.0a1.1 1.1 0 1 0 2.2 0a1.1 1.1 0 1 0 -2.2 0M470.4 181.6a1.1 1.1 0 1 0 2.2 0a1.1 1.1 0 1 0 -2.2 0M470.0 181.3a1.1 1.1 0 1 0 2.2 0a1.1 1.1 0 1 0 -2.2 0M471.2 180.5a1.1 1.1 0 1 0 2.2 0a1.1 1.1 0 1 0 -2.2 0M470.3 181.0a1.1 1.1 0 1 0 2.2 0a1.1 1.1 0 1 0 -2.2 0M479.1 273.5a1.1 1.1 0 1 0 2.2 0a1.1 1.1 0 1 0 -2.2 0M478.8 274.1a1.1 1.1 0 1 0 2.2 0a1.1 1.1 0 1 0 -2.2 0M479.3 272.5a1.1 1.1 0 1 0 2.2 0a1.1 1.1 0 1 0 -2.2 0M479.2 272.8a1.1 1.1 0 1 0 2.2 0a1.1 1.1 0 1 0 -2.2 0M479.2 271.9a1.1 1.1 0 1 0 2.2 0a1.1 1.1 0 1 0 -2.2 0M479.1 273.9a1.1 1.1 0 1 0 2.2 0a1.1 1.1 0 1 0 -2.2 0M478.3 272.7a1.1 1.1 0 1 0 2.2 0a1.1 1.1 0 1 0 -2.2 0M479.6 272.6a1.1 1.1 0 1 0 2.2 0a1.1 1.1 0 1 0 -2.2 0M479.4 264.6a1.1 1.1 0 1 0 2.2 0a1.1 1.1 0 1 0 -2.2 0M478.0 265.1a1.1 1.1 0 1 0 2.2 0a1.1 1.1 0 1 0 -2.2 0M477.8 265.0a1.1 1.1 0 1 0 2.2 0a1.1 1.1 0 1 0 -2.2 0M478.1 264.7a1.1 1.1 0 1 0 2.2 0a1.1 1.1 0 1 0 -2.2 0M478.8 265.9a1.1 1.1 0 1 0 2.2 0a1.1 1.1 0 1 0 -2.2 0M479.4 264.3a1.1 1.1 0 1 0 2.2 0a1.1 1.1 0 1 0 -2.2 0M478.1 264.6a1.1 1.1 0 1 0 2.2 0a1.1 1.1 0 1 0 -2.2 0M479.4 264.9a1.1 1.1 0 1 0 2.2 0a1.1 1.1 0 1 0 -2.2 0M479.5 256.2a1.1 1.1 0 1 0 2.2 0a1.1 1.1 0 1 0 -2.2 0M479.6 256.2a1.1 1.1 0 1 0 2.2 0a1.1 1.1 0 1 0 -2.2 0M478.8 256.0a1.1 1.1 0 1 0 2.2 0a1.1 1.1 0 1 0 -2.2 0M479.4 256.2a1.1 1.1 0 1 0 2.2 0a1.1 1.1 0 1 0 -2.2 0M478.7 256.8a1.1 1.1 0 1 0 2.2 0a1.1 1.1 0 1 0 -2.2 0M478.7 256.7a1.1 1.1 0 1 0 2.2 0a1.1 1.1 0 1 0 -2.2 0M479.1 256.2a1.1 1.1 0 1 0 2.2 0a1.1 1.1 0 1 0 -2.2 0M478.9 256.3a1.1 1.1 0 1 0 2.2 0a1.1 1.1 0 1 0 -2.2 0M479.0 247.0a1.1 1.1 0 1 0 2.2 0a1.1 1.1 0 1 0 -2.2 0M479.7 248.3a1.1 1.1 0 1 0 2.2 0a1.1 1.1 0 1 0 -2.2 0M479.2 248.1a1.1 1.1 0 1 0 2.2 0a1.1 1.1 0 1 0 -2.2 0M478.9 248.1a1.1 1.1 0 1 0 2.2 0a1.1 1.1 0 1 0 -2.2 0M478.6 248.8a1.1 1.1 0 1 0 2.2 0a1.1 1.1 0 1 0 -2.2 0M477.4 247.8a1.1 1.1 0 1 0 2.2 0a1.1 1.1 0 1 0 -2.2 0M479.6 248.5a1.1 1.1 0 1 0 2.2 0a1.1 1.1 0 1 0 -2.2 0M479.2 248.2a1.1 1.1 0 1 0 2.2 0a1.1 1.1 0 1 0 -2.2 0M479.1 240.0a1.1 1.1 0 1 0 2.2 0a1.1 1.1 0 1 0 -2.2 0M478.8 239.6a1.1 1.1 0 1 0 2.2 0a1.1 1.1 0 1 0 -2.2 0M477.5 239.4a1.1 1.1 0 1 0 2.2 0a1.1 1.1 0 1 0 -2.2 0M478.8 241.1a1.1 1.1 0 1 0 2.2 0a1.1 1.1 0 1 0 -2.2 0M479.3 239.6a1.1 1.1 0 1 0 2.2 0a1.1 1.1 0 1 0 -2.2 0M479.1 239.3a1.1 1.1 0 1 0 2.2 0a1.1 1.1 0 1 0 -2.2 0M478.7 240.2a1.1 1.1 0 1 0 2.2 0a1.1 1.1 0 1 0 -2.2 0M478.7 239.8a1.1 1.1 0 1 0 2.2 0a1.1 1.1 0 1 0 -2.2 0M480.3 230.0a1.1 1.1 0 1 0 2.2 0a1.1 1.1 0 1 0 -2.2 0M478.6 231.4a1.1 1.1 0 1 0 2.2 0a1.1 1.1 0 1 0 -2.2 0M479.1 230.8a1.1 1.1 0 1 0 2.2 0a1.1 1.1 0 1 0 -2.2 0M478.5 231.8a1.1 1.1 0 1 0 2.2 0a1.1 1.1 0 1 0 -2.2 0M480.1 230.5a1.1 1.1 0 1 0 2.2 0a1.1 1.1 0 1 0 -2.2 0M478.0 232.2a1.1 1.1 0 1 0 2.2 0a1.1 1.1 0 1 0 -2.2 0M478.4 231.0a1.1 1.1 0 1 0 2.2 0a1.1 1.1 0 1 0 -2.2 0M479.3 231.4a1.1 1.1 0 1 0 2.2 0a1.1 1.1 0 1 0 -2.2 0M477.9 222.6a1.1 1.1 0 1 0 2.2 0a1.1 1.1 0 1 0 -2.2 0M479.3 222.8a1.1 1.1 0 1 0 2.2 0a1.1 1.1 0 1 0 -2.2 0M478.6 222.4a1.1 1.1 0 1 0 2.2 0a1.1 1.1 0 1 0 -2.2 0M478.9 223.5a1.1 1.1 0 1 0 2.2 0a1.1 1.1 0 1 0 -2.2 0M479.0 223.6a1.1 1.1 0 1 0 2.2 0a1.1 1.1 0 1 0 -2.2 0M479.5 222.5a1.1 1.1 0 1 0 2.2 0a1.1 1.1 0 1 0 -2.2 0M478.3 222.6a1.1 1.1 0 1 0 2.2 0a1.1 1.1 0 1 0 -2.2 0M479.7 224.1a1.1 1.1 0 1 0 2.2 0a1.1 1.1 0 1 0 -2.2 0M478.8 213.4a1.1 1.1 0 1 0 2.2 0a1.1 1.1 0 1 0 -2.2 0M478.0 214.5a1.1 1.1 0 1 0 2.2 0a1.1 1.1 0 1 0 -2.2 0M478.0 214.4a1.1 1.1 0 1 0 2.2 0a1.1 1.1 0 1 0 -2.2 0M477.4 215.4a1.1 1.1 0 1 0 2.2 0a1.1 1.1 0 1 0 -2.2 0M478.6 214.3a1.1 1.1 0 1 0 2.2 0a1.1 1.1 0 1 0 -2.2 0M479.2 214.1a1.1 1.1 0 1 0 2.2 0a1.1 1.1 0 1 0 -2.2 0M479.6 214.0a1.1 1.1 0 1 0 2.2 0a1.1 1.1 0 1 0 -2.2 0M479.4 215.0a1.1 1.1 0 1 0 2.2 0a1.1 1.1 0 1 0 -2.2 0M478.8 204.0a1.1 1.1 0 1 0 2.2 0a1.1 1.1 0 1 0 -2.2 0M480.3 205.5a1.1 1.1 0 1 0 2.2 0a1.1 1.1 0 1 0 -2.2 0M479.4 205.4a1.1 1.1 0 1 0 2.2 0a1.1 1.1 0 1 0 -2.2 0M478.7 204.8a1.1 1.1 0 1 0 2.2 0a1.1 1.1 0 1 0 -2.2 0M478.7 206.0a1.1 1.1 0 1 0 2.2 0a1.1 1.1 0 1 0 -2.2 0M480.3 207.3a1.1 1.1 0 1 0 2.2 0a1.1 1.1 0 1 0 -2.2 0M479.1 207.0a1.1 1.1 0 1 0 2.2 0a1.1 1.1 0 1 0 -2.2 0M478.5 206.0a1.1 1.1 0 1 0 2.2 0a1.1 1.1 0 1 0 -2.2 0M478.7 197.5a1.1 1.1 0 1 0 2.2 0a1.1 1.1 0 1 0 -2.2 0M478.4 197.7a1.1 1.1 0 1 0 2.2 0a1.1 1.1 0 1 0 -2.2 0M478.2 197.8a1.1 1.1 0 1 0 2.2 0a1.1 1.1 0 1 0 -2.2 0M478.1 197.2a1.1 1.1 0 1 0 2.2 0a1.1 1.1 0 1 0 -2.2 0M478.1 197.2a1.1 1.1 0 1 0 2.2 0a1.1 1.1 0 1 0 -2.2 0M478.7 197.8a1.1 1.1 0 1 0 2.2 0a1.1 1.1 0 1 0 -2.2 0M479.7 197.5a1.1 1.1 0 1 0 2.2 0a1.1 1.1 0 1 0 -2.2 0M477.7 197.3a1.1 1.1 0 1 0 2.2 0a1.1 1.1 0 1 0 -2.2 0M477.1 189.0a1.1 1.1 0 1 0 2.2 0a1.1 1.1 0 1 0 -2.2 0M478.7 190.1a1.1 1.1 0 1 0 2.2 0a1.1 1.1 0 1 0 -2.2 0M479.0 189.4a1.1 1.1 0 1 0 2.2 0a1.1 1.1 0 1 0 -2.2 0M480.2 189.5a1.1 1.1 0 1 0 2.2 0a1.1 1.1 0 1 0 -2.2 0M480.1 188.3a1.1 1.1 0 1 0 2.2 0a1.1 1.1 0 1 0 -2.2 0M478.5 189.7a1.1 1.1 0 1 0 2.2 0a1.1 1.1 0 1 0 -2.2 0M479.7 189.3a1.1 1.1 0 1 0 2.2 0a1.1 1.1 0 1 0 -2.2 0M479.0 189.4a1.1 1.1 0 1 0 2.2 0a1.1 1.1 0 1 0 -2.2 0M478.2 181.0a1.1 1.1 0 1 0 2.2 0a1.1 1.1 0 1 0 -2.2 0M478.3 181.8a1.1 1.1 0 1 0 2.2 0a1.1 1.1 0 1 0 -2.2 0M478.7 179.7a1.1 1.1 0 1 0 2.2 0a1.1 1.1 0 1 0 -2.2 0M479.9 180.8a1.1 1.1 0 1 0 2.2 0a1.1 1.1 0 1 0 -2.2 0M479.0 180.5a1.1 1.1 0 1 0 2.2 0a1.1 1.1 0 1 0 -2.2 0M479.8 180.6a1.1 1.1 0 1 0 2.2 0a1.1 1.1 0 1 0 -2.2 0M478.6 181.1a1.1 1.1 0 1 0 2.2 0a1.1 1.1 0 1 0 -2.2 0M479.6 179.2a1.1 1.1 0 1 0 2.2 0a1.1 1.1 0 1 0 -2.2 0M486.9 274.4a1.1 1.1 0 1 0 2.2 0a1.1 1.1 0 1 0 -2.2 0M487.9 273.2a1.1 1.1 0 1 0 2.2 0a1.1 1.1 0 1 0 -2.2 0M487.4 272.4a1.1 1.1 0 1 0 2.2 0a1.1 1.1 0 1 0 -2.2 0M487.4 274.0a1.1 1.1 0 1 0 2.2 0a1.1 1.1 0 1 0 -2.2 0M486.1 273.2a1.1 1.1 0 1 0 2.2 0a1.1 1.1 0 1 0 -2.2 0M486.6 272.9a1.1 1.1 0 1 0 2.2 0a1.1 1.1 0 1 0 -2.2 0M486.5 273.3a1.1 1.1 0 1 0 2.2 0a1.1 1.1 0 1 0 -2.2 0M486.4 273.4a1.1 1.1 0 1 0 2.2 0a1.1 1.1 0 1 0 -2.2 0M487.1 264.4a1.1 1.1 0 1 0 2.2 0a1.1 1.1 0 1 0 -2.2 0M488.2 264.9a1.1 1.1 0 1 0 2.2 0a1.1 1.1 0 1 0 -2.2 0M486.8 263.5a1.1 1.1 0 1 0 2.2 0a1.1 1.1 0 1 0 -2.2 0M487.6 264.4a1.1 1.1 0 1 0 2.2 0a1.1 1.1 0 1 0 -2.2 0M487.7 263.8a1.1 1.1 0 1 0 2.2 0a1.1 1.1 0 1 0 -2.2 0M488.0 264.3a1.1 1.1 0 1 0 2.2 0a1.1 1.1 0 1 0 -2.2 0M487.8 265.3a1.1 1.1 0 1 0 2.2 0a1.1 1.1 0 1 0 -2.2 0M487.0 264.8a1.1 1.1 0 1 0 2.2 0a1.1 1.1 0 1 0 -2.2 0M487.4 256.3a1.1 1.1 0 1 0 2.2 0a1.1 1.1 0 1 0 -2.2 0M487.5 256.3a1.1 1.1 0 1 0 2.2 0a1.1 1.1 0 1 0 -2.2 0M487.1 257.4a1.1 1.1 0 1 0 2.2 0a1.1 1.1 0 1 0 -2.2 0M487.9 256.0a1.1 1.1 0 1 0 2.2 0a1.1 1.1 0 1 0 -2.2 0M486.8 256.0a1.1 1.1 0 1 0 2.2 0a1.1 1.1 0 1 0 -2.2 0M487.6 256.3a1.1 1.1 0 1 0 2.2 0a1.1 1.1 0 1 0 -2.2 0M486.2 257.1a1.1 1.1 0 1 0 2.2 0a1.1 1.1 0 1 0 -2.2 0M487.0 255.3a1.1 1.1 0 1 0 2.2 0a1.1 1.1 0 1 0 -2.2 0M486.8 248.2a1.1 1.1 0 1 0 2.2 0a1.1 1.1 0 1 0 -2.2 0M486.6 248.3a1.1 1.1 0 1 0 2.2 0a1.1 1.1 0 1 0 -2.2 0M487.6 249.3a1.1 1.1 0 1 0 2.2 0a1.1 1.1 0 1 0 -2.2 0M485.6 247.5a1.1 1.1 0 1 0 2.2 0a1.1 1.1 0 1 0 -2.2 0M487.4 248.3a1.1 1.1 0 1 0 2.2 0a1.1 1.1 0 1 0 -2.2 0M488.0 247.3a1.1 1.1 0 1 0 2.2 0a1.1 1.1 0 1 0 -2.2 0M486.0 248.1a1.1 1.1 0 1 0 2.2 0a1.1 1.1 0 1 0 -2.2 0M488.0 248.4a1.1 1.1 0 1 0 2.2 0a1.1 1.1 0 1 0 -2.2 0M487.1 239.0a1.1 1.1 0 1 0 2.2 0a1.1 1.1 0 1 0 -2.2 0M487.2 240.3a1.1 1.1 0 1 0 2.2 0a1.1 1.1 0 1 0 -2.2 0M486.9 240.4a1.1 1.1 0 1 0 2.2 0a1.1 1.1 0 1 0 -2.2 0M487.7 240.6a1.1 1.1 0 1 0 2.2 0a1.1 1.1 0 1 0 -2.2 0M488.0 240.6a1.1 1.1 0 1 0 2.2 0a1.1 1.1 0 1 0 -2.2 0M487.4 240.5a1.1 1.1 0 1 0 2.2 0a1.1 1.1 0 1 0 -2.2 0M487.1 238.9a1.1 1.1 0 1 0 2.2 0a1.1 1.1 0 1 0 -2.2 0M488.1 238.7a1.1 1.1 0 1 0 2.2 0a1.1 1.1 0 1 0 -2.2 0M487.3 231.1a1.1 1.1 0 1 0 2.2 0a1.1 1.1 0 1 0 -2.2 0M487.5 230.8a1.1 1.1 0 1 0 2.2 0a1.1 1.1 0 1 0 -2.2 0M487.1 230.5a1.1 1.1 0 1 0 2.2 0a1.1 1.1 0 1 0 -2.2 0M487.5 230.4a1.1 1.1 0 1 0 2.2 0a1.1 1.1 0 1 0 -2.2 0M487.6 230.7a1.1 1.1 0 1 0 2.2 0a1.1 1.1 0 1 0 -2.2 0M486.9 231.4a1.1 1.1 0 1 0 2.2 0a1.1 1.1 0 1 0 -2.2 0M486.5 231.3a1.1 1.1 0 1 0 2.2 0a1.1 1.1 0 1 0 -2.2 0M487.2 230.6a1.1 1.1 0 1 0 2.2 0a1.1 1.1 0 1 0 -2.2 0M486.5 220.7a1.1 1.1 0 1 0 2.2 0a1.1 1.1 0 1 0 -2.2 0M487.3 222.0a1.1 1.1 0 1 0 2.2 0a1.1 1.1 0 1 0 -2.2 0M488.0 224.4a1.1 1.1 0 1 0 2.2 0a1.1 1.1 0 1 0 -2.2 0M487.2 221.8a1.1 1.1 0 1 0 2.2 0a1.1 1.1 0 1 0 -2.2 0M485.8 222.3a1.1 1.1 0 1 0 2.2 0a1.1 1.1 0 1 0 -2.2 0M486.8 223.1a1.1 1.1 0 1 0 2.2 0a1.1 1.1 0 1 0 -2.2 0M487.5 223.9a1.1 1.1 0 1 0 2.2 0a1.1 1.1 0 1 0 -2.2 0M487.5 223.2a1.1 1.1 0 1 0 2.2 0a1.1 1.1 0 1 0 -2.2 0M486.9 213.9a1.1 1.1 0 1 0 2.2 0a1.1 1.1 0 1 0 -2.2 0M489.6 214.2a1.1 1.1 0 1 0 2.2 0a1.1 1.1 0 1 0 -2.2 0M487.7 214.4a1.1 1.1 0 1 0 2.2 0a1.1 1.1 0 1 0 -2.2 0M486.9 214.2a1.1 1.1 0 1 0 2.2 0a1.1 1.1 0 1 0 -2.2 0M488.3 214.3a1.1 1.1 0 1 0 2.2 0a1.1 1.1 0 1 0 -2.2 0M487.9 214.5a1.1 1.1 0 1 0 2.2 0a1.1 1.1 0 1 0 -2.2 0M488.9 215.4a1.1 1.1 0 1 0 2.2 0a1.1 1.1 0 1 0 -2.2 0M487.7 214.0a1.1 1.1 0 1 0 2.2 0a1.1 1.1 0 1 0 -2.2 0M487.5 206.7a1.1 1.1 0 1 0 2.2 0a1.1 1.1 0 1 0 -2.2 0M486.6 206.1a1.1 1.1 0 1 0 2.2 0a1.1 1.1 0 1 0 -2.2 0M487.4 206.8a1.1 1.1 0 1 0 2.2 0a1.1 1.1 0 1 0 -2.2 0M486.7 205.6a1.1 1.1 0 1 0 2.2 0a1.1 1.1 0 1 0 -2.2 0M488.0 206.3a1.1 1.1 0 1 0 2.2 0a1.1 1.1 0 1 0 -2.2 0M486.9 206.4a1.1 1.1 0 1 0 2.2 0a1.1 1.1 0 1 0 -2.2 0M488.9 205.7a1.1 1.1 0 1 0 2.2 0a1.1 1.1 0 1 0 -2.2 0M487.3 205.4a1.1 1.1 0 1 0 2.2 0a1.1 1.1 0 1 0 -2.2 0M488.8 196.9a1.1 1.1 0 1 0 2.2 0a1.1 1.1 0 1 0 -2.2 0M486.4 197.7a1.1 1.1 0 1 0 2.2 0a1.1 1.1 0 1 0 -2.2 0M487.1 197.8a1.1 1.1 0 1 0 2.2 0a1.1 1.1 0 1 0 -2.2 0M486.6 197.8a1.1 1.1 0 1 0 2.2 0a1.1 1.1 0 1 0 -2.2 0M486.7 197.4a1.1 1.1 0 1 0 2.2 0a1.1 1.1 0 1 0 -2.2 0M487.4 198.5a1.1 1.1 0 1 0 2.2 0a1.1 1.1 0 1 0 -2.2 0M486.3 197.9a1.1 1.1 0 1 0 2.2 0a1.1 1.1 0 1 0 -2.2 0M487.7 197.3a1.1 1.1 0 1 0 2.2 0a1.1 1.1 0 1 0 -2.2 0M487.3 191.3a1.1 1.1 0 1 0 2.2 0a1.1 1.1 0 1 0 -2.2 0M487.0 189.7a1.1 1.1 0 1 0 2.2 0a1.1 1.1 0 1 0 -2.2 0M487.1 190.0a1.1 1.1 0 1 0 2.2 0a1.1 1.1 0 1 0 -2.2 0M487.1 189.6a1.1 1.1 0 1 0 2.2 0a1.1 1.1 0 1 0 -2.2 0M489.1 188.8a1.1 1.1 0 1 0 2.2 0a1.1 1.1 0 1 0 -2.2 0M487.2 189.2a1.1 1.1 0 1 0 2.2 0a1.1 1.1 0 1 0 -2.2 0M487.3 189.1a1.1 1.1 0 1 0 2.2 0a1.1 1.1 0 1 0 -2.2 0M487.1 189.2a1.1 1.1 0 1 0 2.2 0a1.1 1.1 0 1 0 -2.2 0M488.0 180.3a1.1 1.1 0 1 0 2.2 0a1.1 1.1 0 1 0 -2.2 0M487.5 180.0a1.1 1.1 0 1 0 2.2 0a1.1 1.1 0 1 0 -2.2 0M487.5 181.4a1.1 1.1 0 1 0 2.2 0a1.1 1.1 0 1 0 -2.2 0M486.2 181.3a1.1 1.1 0 1 0 2.2 0a1.1 1.1 0 1 0 -2.2 0M487.3 180.6a1.1 1.1 0 1 0 2.2 0a1.1 1.1 0 1 0 -2.2 0M488.0 181.2a1.1 1.1 0 1 0 2.2 0a1.1 1.1 0 1 0 -2.2 0M486.8 180.3a1.1 1.1 0 1 0 2.2 0a1.1 1.1 0 1 0 -2.2 0M488.1 181.1a1.1 1.1 0 1 0 2.2 0a1.1 1.1 0 1 0 -2.2 0M496.0 272.3a1.1 1.1 0 1 0 2.2 0a1.1 1.1 0 1 0 -2.2 0M496.0 273.2a1.1 1.1 0 1 0 2.2 0a1.1 1.1 0 1 0 -2.2 0M494.4 272.3a1.1 1.1 0 1 0 2.2 0a1.1 1.1 0 1 0 -2.2 0M496.2 273.1a1.1 1.1 0 1 0 2.2 0a1.1 1.1 0 1 0 -2.2 0M495.5 273.9a1.1 1.1 0 1 0 2.2 0a1.1 1.1 0 1 0 -2.2 0M495.7 273.2a1.1 1.1 0 1 0 2.2 0a1.1 1.1 0 1 0 -2.2 0M496.5 273.9a1.1 1.1 0 1 0 2.2 0a1.1 1.1 0 1 0 -2.2 0M496.7 273.1a1.1 1.1 0 1 0 2.2 0a1.1 1.1 0 1 0 -2.2 0M496.5 265.4a1.1 1.1 0 1 0 2.2 0a1.1 1.1 0 1 0 -2.2 0M496.0 264.0a1.1 1.1 0 1 0 2.2 0a1.1 1.1 0 1 0 -2.2 0M495.8 265.7a1.1 1.1 0 1 0 2.2 0a1.1 1.1 0 1 0 -2.2 0M495.5 264.4a1.1 1.1 0 1 0 2.2 0a1.1 1.1 0 1 0 -2.2 0M494.9 265.7a1.1 1.1 0 1 0 2.2 0a1.1 1.1 0 1 0 -2.2 0M495.9 265.3a1.1 1.1 0 1 0 2.2 0a1.1 1.1 0 1 0 -2.2 0M496.2 265.5a1.1 1.1 0 1 0 2.2 0a1.1 1.1 0 1 0 -2.2 0M494.6 265.2a1.1 1.1 0 1 0 2.2 0a1.1 1.1 0 1 0 -2.2 0M496.7 256.9a1.1 1.1 0 1 0 2.2 0a1.1 1.1 0 1 0 -2.2 0M495.8 256.2a1.1 1.1 0 1 0 2.2 0a1.1 1.1 0 1 0 -2.2 0M495.2 255.7a1.1 1.1 0 1 0 2.2 0a1.1 1.1 0 1 0 -2.2 0M495.9 256.1a1.1 1.1 0 1 0 2.2 0a1.1 1.1 0 1 0 -2.2 0M494.7 257.5a1.1 1.1 0 1 0 2.2 0a1.1 1.1 0 1 0 -2.2 0M494.0 256.5a1.1 1.1 0 1 0 2.2 0a1.1 1.1 0 1 0 -2.2 0M495.6 255.9a1.1 1.1 0 1 0 2.2 0a1.1 1.1 0 1 0 -2.2 0M496.7 256.5a1.1 1.1 0 1 0 2.2 0a1.1 1.1 0 1 0 -2.2 0M495.6 247.7a1.1 1.1 0 1 0 2.2 0a1.1 1.1 0 1 0 -2.2 0M496.7 248.5a1.1 1.1 0 1 0 2.2 0a1.1 1.1 0 1 0 -2.2 0M496.2 248.1a1.1 1.1 0 1 0 2.2 0a1.1 1.1 0 1 0 -2.2 0M495.5 247.4a1.1 1.1 0 1 0 2.2 0a1.1 1.1 0 1 0 -2.2 0M495.3 248.6a1.1 1.1 0 1 0 2.2 0a1.1 1.1 0 1 0 -2.2 0M496.2 248.0a1.1 1.1 0 1 0 2.2 0a1.1 1.1 0 1 0 -2.2 0M495.6 248.0a1.1 1.1 0 1 0 2.2 0a1.1 1.1 0 1 0 -2.2 0M496.1 248.2a1.1 1.1 0 1 0 2.2 0a1.1 1.1 0 1 0 -2.2 0M496.2 239.3a1.1 1.1 0 1 0 2.2 0a1.1 1.1 0 1 0 -2.2 0M496.7 238.8a1.1 1.1 0 1 0 2.2 0a1.1 1.1 0 1 0 -2.2 0M496.3 239.7a1.1 1.1 0 1 0 2.2 0a1.1 1.1 0 1 0 -2.2 0M495.8 239.9a1.1 1.1 0 1 0 2.2 0a1.1 1.1 0 1 0 -2.2 0M497.6 239.7a1.1 1.1 0 1 0 2.2 0a1.1 1.1 0 1 0 -2.2 0M496.1 238.7a1.1 1.1 0 1 0 2.2 0a1.1 1.1 0 1 0 -2.2 0M494.9 240.1a1.1 1.1 0 1 0 2.2 0a1.1 1.1 0 1 0 -2.2 0M495.5 240.2a1.1 1.1 0 1 0 2.2 0a1.1 1.1 0 1 0 -2.2 0M495.0 231.5a1.1 1.1 0 1 0 2.2 0a1.1 1.1 0 1 0 -2.2 0M496.6 230.7a1.1 1.1 0 1 0 2.2 0a1.1 1.1 0 1 0 -2.2 0M495.8 231.1a1.1 1.1 0 1 0 2.2 0a1.1 1.1 0 1 0 -2.2 0M494.7 230.7a1.1 1.1 0 1 0 2.2 0a1.1 1.1 0 1 0 -2.2 0M496.0 231.8a1.1 1.1 0 1 0 2.2 0a1.1 1.1 0 1 0 -2.2 0M495.9 231.3a1.1 1.1 0 1 0 2.2 0a1.1 1.1 0 1 0 -2.2 0M495.4 231.8a1.1 1.1 0 1 0 2.2 0a1.1 1.1 0 1 0 -2.2 0M495.3 231.8a1.1 1.1 0 1 0 2.2 0a1.1 1.1 0 1 0 -2.2 0M496.1 222.5a1.1 1.1 0 1 0 2.2 0a1.1 1.1 0 1 0 -2.2 0M496.0 222.9a1.1 1.1 0 1 0 2.2 0a1.1 1.1 0 1 0 -2.2 0M495.5 221.5a1.1 1.1 0 1 0 2.2 0a1.1 1.1 0 1 0 -2.2 0M494.6 222.0a1.1 1.1 0 1 0 2.2 0a1.1 1.1 0 1 0 -2.2 0M496.0 222.7a1.1 1.1 0 1 0 2.2 0a1.1 1.1 0 1 0 -2.2 0M495.4 222.9a1.1 1.1 0 1 0 2.2 0a1.1 1.1 0 1 0 -2.2 0M495.0 223.6a1.1 1.1 0 1 0 2.2 0a1.1 1.1 0 1 0 -2.2 0M495.7 223.8a1.1 1.1 0 1 0 2.2 0a1.1 1.1 0 1 0 -2.2 0M496.3 213.7a1.1 1.1 0 1 0 2.2 0a1.1 1.1 0 1 0 -2.2 0M493.6 215.4a1.1 1.1 0 1 0 2.2 0a1.1 1.1 0 1 0 -2.2 0M495.9 214.2a1.1 1.1 0 1 0 2.2 0a1.1 1.1 0 1 0 -2.2 0M495.8 214.1a1.1 1.1 0 1 0 2.2 0a1.1 1.1 0 1 0 -2.2 0M496.2 213.8a1.1 1.1 0 1 0 2.2 0a1.1 1.1 0 1 0 -2.2 0M496.9 214.4a1.1 1.1 0 1 0 2.2 0a1.1 1.1 0 1 0 -2.2 0M496.3 215.4a1.1 1.1 0 1 0 2.2 0a1.1 1.1 0 1 0 -2.2 0M495.7 215.1a1.1 1.1 0 1 0 2.2 0a1.1 1.1 0 1 0 -2.2 0M496.6 204.5a1.1 1.1 0 1 0 2.2 0a1.1 1.1 0 1 0 -2.2 0M496.1 206.8a1.1 1.1 0 1 0 2.2 0a1.1 1.1 0 1 0 -2.2 0M495.7 206.0a1.1 1.1 0 1 0 2.2 0a1.1 1.1 0 1 0 -2.2 0M495.9 205.3a1.1 1.1 0 1 0 2.2 0a1.1 1.1 0 1 0 -2.2 0M496.4 207.7a1.1 1.1 0 1 0 2.2 0a1.1 1.1 0 1 0 -2.2 0M496.6 206.3a1.1 1.1 0 1 0 2.2 0a1.1 1.1 0 1 0 -2.2 0M495.4 205.1a1.1 1.1 0 1 0 2.2 0a1.1 1.1 0 1 0 -2.2 0M495.6 206.8a1.1 1.1 0 1 0 2.2 0a1.1 1.1 0 1 0 -2.2 0M494.9 197.6a1.1 1.1 0 1 0 2.2 0a1.1 1.1 0 1 0 -2.2 0M496.3 196.6a1.1 1.1 0 1 0 2.2 0a1.1 1.1 0 1 0 -2.2 0M495.7 197.9a1.1 1.1 0 1 0 2.2 0a1.1 1.1 0 1 0 -2.2 0M496.8 197.9a1.1 1.1 0 1 0 2.2 0a1.1 1.1 0 1 0 -2.2 0M496.7 197.4a1.1 1.1 0 1 0 2.2 0a1.1 1.1 0 1 0 -2.2 0M495.9 197.7a1.1 1.1 0 1 0 2.2 0a1.1 1.1 0 1 0 -2.2 0M496.0 197.9a1.1 1.1 0 1 0 2.2 0a1.1 1.1 0 1 0 -2.2 0M495.3 197.7a1.1 1.1 0 1 0 2.2 0a1.1 1.1 0 1 0 -2.2 0M495.4 189.0a1.1 1.1 0 1 0 2.2 0a1.1 1.1 0 1 0 -2.2 0M495.8 189.4a1.1 1.1 0 1 0 2.2 0a1.1 1.1 0 1 0 -2.2 0M495.6 189.3a1.1 1.1 0 1 0 2.2 0a1.1 1.1 0 1 0 -2.2 0M496.9 189.2a1.1 1.1 0 1 0 2.2 0a1.1 1.1 0 1 0 -2.2 0M495.4 189.4a1.1 1.1 0 1 0 2.2 0a1.1 1.1 0 1 0 -2.2 0M496.2 189.3a1.1 1.1 0 1 0 2.2 0a1.1 1.1 0 1 0 -2.2 0M495.7 189.4a1.1 1.1 0 1 0 2.2 0a1.1 1.1 0 1 0 -2.2 0M495.9 189.0a1.1 1.1 0 1 0 2.2 0a1.1 1.1 0 1 0 -2.2 0M496.0 181.8a1.1 1.1 0 1 0 2.2 0a1.1 1.1 0 1 0 -2.2 0M495.1 182.5a1.1 1.1 0 1 0 2.2 0a1.1 1.1 0 1 0 -2.2 0M496.3 180.1a1.1 1.1 0 1 0 2.2 0a1.1 1.1 0 1 0 -2.2 0M496.6 180.7a1.1 1.1 0 1 0 2.2 0a1.1 1.1 0 1 0 -2.2 0M496.5 180.8a1.1 1.1 0 1 0 2.2 0a1.1 1.1 0 1 0 -2.2 0M495.7 181.8a1.1 1.1 0 1 0 2.2 0a1.1 1.1 0 1 0 -2.2 0M495.3 181.2a1.1 1.1 0 1 0 2.2 0a1.1 1.1 0 1 0 -2.2 0M496.3 179.8a1.1 1.1 0 1 0 2.2 0a1.1 1.1 0 1 0 -2.2 0M503.9 272.9a1.1 1.1 0 1 0 2.2 0a1.1 1.1 0 1 0 -2.2 0M504.4 273.6a1.1 1.1 0 1 0 2.2 0a1.1 1.1 0 1 0 -2.2 0M503.1 273.6a1.1 1.1 0 1 0 2.2 0a1.1 1.1 0 1 0 -2.2 0M503.3 273.3a1.1 1.1 0 1 0 2.2 0a1.1 1.1 0 1 0 -2.2 0M504.1 273.2a1.1 1.1 0 1 0 2.2 0a1.1 1.1 0 1 0 -2.2 0M504.1 272.8a1.1 1.1 0 1 0 2.2 0a1.1 1.1 0 1 0 -2.2 0M503.6 272.6a1.1 1.1 0 1 0 2.2 0a1.1 1.1 0 1 0 -2.2 0M503.1 273.1a1.1 1.1 0 1 0 2.2 0a1.1 1.1 0 1 0 -2.2 0M504.4 265.2a1.1 1.1 0 1 0 2.2 0a1.1 1.1 0 1 0 -2.2 0M503.2 264.3a1.1 1.1 0 1 0 2.2 0a1.1 1.1 0 1 0 -2.2 0M503.8 264.2a1.1 1.1 0 1 0 2.2 0a1.1 1.1 0 1 0 -2.2 0M504.7 264.7a1.1 1.1 0 1 0 2.2 0a1.1 1.1 0 1 0 -2.2 0M504.2 264.1a1.1 1.1 0 1 0 2.2 0a1.1 1.1 0 1 0 -2.2 0M504.4 265.3a1.1 1.1 0 1 0 2.2 0a1.1 1.1 0 1 0 -2.2 0M504.3 264.4a1.1 1.1 0 1 0 2.2 0a1.1 1.1 0 1 0 -2.2 0M504.3 264.6a1.1 1.1 0 1 0 2.2 0a1.1 1.1 0 1 0 -2.2 0M504.1 256.4a1.1 1.1 0 1 0 2.2 0a1.1 1.1 0 1 0 -2.2 0M503.6 257.2a1.1 1.1 0 1 0 2.2 0a1.1 1.1 0 1 0 -2.2 0M504.9 256.7a1.1 1.1 0 1 0 2.2 0a1.1 1.1 0 1 0 -2.2 0M504.3 257.3a1.1 1.1 0 1 0 2.2 0a1.1 1.1 0 1 0 -2.2 0M504.3 256.9a1.1 1.1 0 1 0 2.2 0a1.1 1.1 0 1 0 -2.2 0M506.1 257.0a1.1 1.1 0 1 0 2.2 0a1.1 1.1 0 1 0 -2.2 0M503.6 255.8a1.1 1.1 0 1 0 2.2 0a1.1 1.1 0 1 0 -2.2 0M504.9 257.7a1.1 1.1 0 1 0 2.2 0a1.1 1.1 0 1 0 -2.2 0M504.3 247.4a1.1 1.1 0 1 0 2.2 0a1.1 1.1 0 1 0 -2.2 0M503.4 247.5a1.1 1.1 0 1 0 2.2 0a1.1 1.1 0 1 0 -2.2 0M503.9 248.6a1.1 1.1 0 1 0 2.2 0a1.1 1.1 0 1 0 -2.2 0M504.0 248.2a1.1 1.1 0 1 0 2.2 0a1.1 1.1 0 1 0 -2.2 0M503.3 246.5a1.1 1.1 0 1 0 2.2 0a1.1 1.1 0 1 0 -2.2 0M503.9 248.4a1.1 1.1 0 1 0 2.2 0a1.1 1.1 0 1 0 -2.2 0M504.7 248.0a1.1 1.1 0 1 0 2.2 0a1.1 1.1 0 1 0 -2.2 0M505.0 248.1a1.1 1.1 0 1 0 2.2 0a1.1 1.1 0 1 0 -2.2 0M504.4 239.5a1.1 1.1 0 1 0 2.2 0a1.1 1.1 0 1 0 -2.2 0M504.3 239.7a1.1 1.1 0 1 0 2.2 0a1.1 1.1 0 1 0 -2.2 0M504.1 238.5a1.1 1.1 0 1 0 2.2 0a1.1 1.1 0 1 0 -2.2 0M503.8 239.9a1.1 1.1 0 1 0 2.2 0a1.1 1.1 0 1 0 -2.2 0M504.0 239.2a1.1 1.1 0 1 0 2.2 0a1.1 1.1 0 1 0 -2.2 0M504.4 239.0a1.1 1.1 0 1 0 2.2 0a1.1 1.1 0 1 0 -2.2 0M503.3 239.4a1.1 1.1 0 1 0 2.2 0a1.1 1.1 0 1 0 -2.2 0M504.1 239.7a1.1 1.1 0 1 0 2.2 0a1.1 1.1 0 1 0 -2.2 0M504.3 232.4a1.1 1.1 0 1 0 2.2 0a1.1 1.1 0 1 0 -2.2 0M504.4 231.1a1.1 1.1 0 1 0 2.2 0a1.1 1.1 0 1 0 -2.2 0M503.3 231.2a1.1 1.1 0 1 0 2.2 0a1.1 1.1 0 1 0 -2.2 0M505.2 231.4a1.1 1.1 0 1 0 2.2 0a1.1 1.1 0 1 0 -2.2 0M504.6 231.3a1.1 1.1 0 1 0 2.2 0a1.1 1.1 0 1 0 -2.2 0M503.7 231.7a1.1 1.1 0 1 0 2.2 0a1.1 1.1 0 1 0 -2.2 0M503.9 230.4a1.1 1.1 0 1 0 2.2 0a1.1 1.1 0 1 0 -2.2 0M504.7 231.6a1.1 1.1 0 1 0 2.2 0a1.1 1.1 0 1 0 -2.2 0M504.8 222.9a1.1 1.1 0 1 0 2.2 0a1.1 1.1 0 1 0 -2.2 0M503.8 222.5a1.1 1.1 0 1 0 2.2 0a1.1 1.1 0 1 0 -2.2 0M503.6 223.8a1.1 1.1 0 1 0 2.2 0a1.1 1.1 0 1 0 -2.2 0M505.0 223.9a1.1 1.1 0 1 0 2.2 0a1.1 1.1 0 1 0 -2.2 0M504.5 223.7a1.1 1.1 0 1 0 2.2 0a1.1 1.1 0 1 0 -2.2 0M504.2 222.9a1.1 1.1 0 1 0 2.2 0a1.1 1.1 0 1 0 -2.2 0M503.9 224.1a1.1 1.1 0 1 0 2.2 0a1.1 1.1 0 1 0 -2.2 0M504.1 222.8a1.1 1.1 0 1 0 2.2 0a1.1 1.1 0 1 0 -2.2 0M503.6 214.4a1.1 1.1 0 1 0 2.2 0a1.1 1.1 0 1 0 -2.2 0M504.8 214.8a1.1 1.1 0 1 0 2.2 0a1.1 1.1 0 1 0 -2.2 0M504.3 215.1a1.1 1.1 0 1 0 2.2 0a1.1 1.1 0 1 0 -2.2 0M504.4 214.0a1.1 1.1 0 1 0 2.2 0a1.1 1.1 0 1 0 -2.2 0M505.7 213.8a1.1 1.1 0 1 0 2.2 0a1.1 1.1 0 1 0 -2.2 0M504.5 213.5a1.1 1.1 0 1 0 2.2 0a1.1 1.1 0 1 0 -2.2 0M503.6 213.7a1.1 1.1 0 1 0 2.2 0a1.1 1.1 0 1 0 -2.2 0M503.8 214.8a1.1 1.1 0 1 0 2.2 0a1.1 1.1 0 1 0 -2.2 0M504.9 205.8a1.1 1.1 0 1 0 2.2 0a1.1 1.1 0 1 0 -2.2 0M505.0 206.9a1.1 1.1 0 1 0 2.2 0a1.1 1.1 0 1 0 -2.2 0M504.4 206.3a1.1 1.1 0 1 0 2.2 0a1.1 1.1 0 1 0 -2.2 0M504.0 207.2a1.1 1.1 0 1 0 2.2 0a1.1 1.1 0 1 0 -2.2 0M504.8 205.9a1.1 1.1 0 1 0 2.2 0a1.1 1.1 0 1 0 -2.2 0M503.6 206.8a1.1 1.1 0 1 0 2.2 0a1.1 1.1 0 1 0 -2.2 0M503.6 205.1a1.1 1.1 0 1 0 2.2 0a1.1 1.1 0 1 0 -2.2 0M504.1 206.2a1.1 1.1 0 1 0 2.2 0a1.1 1.1 0 1 0 -2.2 0M504.5 197.6a1.1 1.1 0 1 0 2.2 0a1.1 1.1 0 1 0 -2.2 0M504.3 197.1a1.1 1.1 0 1 0 2.2 0a1.1 1.1 0 1 0 -2.2 0M504.4 197.0a1.1 1.1 0 1 0 2.2 0a1.1 1.1 0 1 0 -2.2 0M503.5 197.5a1.1 1.1 0 1 0 2.2 0a1.1 1.1 0 1 0 -2.2 0M504.0 197.5a1.1 1.1 0 1 0 2.2 0a1.1 1.1 0 1 0 -2.2 0M504.2 198.0a1.1 1.1 0 1 0 2.2 0a1.1 1.1 0 1 0 -2.2 0M504.0 197.0a1.1 1.1 0 1 0 2.2 0a1.1 1.1 0 1 0 -2.2 0M503.9 198.4a1.1 1.1 0 1 0 2.2 0a1.1 1.1 0 1 0 -2.2 0M504.6 188.6a1.1 1.1 0 1 0 2.2 0a1.1 1.1 0 1 0 -2.2 0M504.0 189.1a1.1 1.1 0 1 0 2.2 0a1.1 1.1 0 1 0 -2.2 0M503.7 189.3a1.1 1.1 0 1 0 2.2 0a1.1 1.1 0 1 0 -2.2 0M504.9 188.7a1.1 1.1 0 1 0 2.2 0a1.1 1.1 0 1 0 -2.2 0M504.3 189.4a1.1 1.1 0 1 0 2.2 0a1.1 1.1 0 1 0 -2.2 0M503.2 189.0a1.1 1.1 0 1 0 2.2 0a1.1 1.1 0 1 0 -2.2 0M504.5 188.5a1.1 1.1 0 1 0 2.2 0a1.1 1.1 0 1 0 -2.2 0M505.4 189.0a1.1 1.1 0 1 0 2.2 0a1.1 1.1 0 1 0 -2.2 0M504.8 181.5a1.1 1.1 0 1 0 2.2 0a1.1 1.1 0 1 0 -2.2 0M504.9 180.3a1.1 1.1 0 1 0 2.2 0a1.1 1.1 0 1 0 -2.2 0M505.0 180.4a1.1 1.1 0 1 0 2.2 0a1.1 1.1 0 1 0 -2.2 0M504.5 179.9a1.1 1.1 0 1 0 2.2 0a1.1 1.1 0 1 0 -2.2 0M503.8 180.4a1.1 1.1 0 1 0 2.2 0a1.1 1.1 0 1 0 -2.2 0M504.9 181.3a1.1 1.1 0 1 0 2.2 0a1.1 1.1 0 1 0 -2.2 0M503.5 180.5a1.1 1.1 0 1 0 2.2 0a1.1 1.1 0 1 0 -2.2 0M504.3 180.4a1.1 1.1 0 1 0 2.2 0a1.1 1.1 0 1 0 -2.2 0M513.0 273.6a1.1 1.1 0 1 0 2.2 0a1.1 1.1 0 1 0 -2.2 0M512.8 272.4a1.1 1.1 0 1 0 2.2 0a1.1 1.1 0 1 0 -2.2 0M512.4 273.3a1.1 1.1 0 1 0 2.2 0a1.1 1.1 0 1 0 -2.2 0M511.9 272.6a1.1 1.1 0 1 0 2.2 0a1.1 1.1 0 1 0 -2.2 0M513.8 273.9a1.1 1.1 0 1 0 2.2 0a1.1 1.1 0 1 0 -2.2 0M513.1 272.5a1.1 1.1 0 1 0 2.2 0a1.1 1.1 0 1 0 -2.2 0M512.3 273.3a1.1 1.1 0 1 0 2.2 0a1.1 1.1 0 1 0 -2.2 0M512.0 273.6a1.1 1.1 0 1 0 2.2 0a1.1 1.1 0 1 0 -2.2 0M512.7 264.3a1.1 1.1 0 1 0 2.2 0a1.1 1.1 0 1 0 -2.2 0M512.7 264.2a1.1 1.1 0 1 0 2.2 0a1.1 1.1 0 1 0 -2.2 0M512.8 265.4a1.1 1.1 0 1 0 2.2 0a1.1 1.1 0 1 0 -2.2 0M513.5 264.0a1.1 1.1 0 1 0 2.2 0a1.1 1.1 0 1 0 -2.2 0M512.2 263.6a1.1 1.1 0 1 0 2.2 0a1.1 1.1 0 1 0 -2.2 0M512.9 264.6a1.1 1.1 0 1 0 2.2 0a1.1 1.1 0 1 0 -2.2 0M513.8 266.2a1.1 1.1 0 1 0 2.2 0a1.1 1.1 0 1 0 -2.2 0M511.6 264.3a1.1 1.1 0 1 0 2.2 0a1.1 1.1 0 1 0 -2.2 0M512.5 256.9a1.1 1.1 0 1 0 2.2 0a1.1 1.1 0 1 0 -2.2 0M513.6 256.0a1.1 1.1 0 1 0 2.2 0a1.1 1.1 0 1 0 -2.2 0M511.9 256.7a1.1 1.1 0 1 0 2.2 0a1.1 1.1 0 1 0 -2.2 0M513.2 255.2a1.1 1.1 0 1 0 2.2 0a1.1 1.1 0 1 0 -2.2 0M511.4 256.2a1.1 1.1 0 1 0 2.2 0a1.1 1.1 0 1 0 -2.2 0M512.4 257.4a1.1 1.1 0 1 0 2.2 0a1.1 1.1 0 1 0 -2.2 0M512.5 257.3a1.1 1.1 0 1 0 2.2 0a1.1 1.1 0 1 0 -2.2 0M512.3 255.3a1.1 1.1 0 1 0 2.2 0a1.1 1.1 0 1 0 -2.2 0M513.0 247.4a1.1 1.1 0 1 0 2.2 0a1.1 1.1 0 1 0 -2.2 0M513.0 247.7a1.1 1.1 0 1 0 2.2 0a1.1 1.1 0 1 0 -2.2 0M513.2 248.6a1.1 1.1 0 1 0 2.2 0a1.1 1.1 0 1 0 -2.2 0M512.4 247.4a1.1 1.1 0 1 0 2.2 0a1.1 1.1 0 1 0 -2.2 0M512.2 248.2a1.1 1.1 0 1 0 2.2 0a1.1 1.1 0 1 0 -2.2 0M513.4 247.0a1.1 1.1 0 1 0 2.2 0a1.1 1.1 0 1 0 -2.2 0M512.3 248.4a1.1 1.1 0 1 0 2.2 0a1.1 1.1 0 1 0 -2.2 0M513.0 247.7a1.1 1.1 0 1 0 2.2 0a1.1 1.1 0 1 0 -2.2 0M512.2 239.2a1.1 1.1 0 1 0 2.2 0a1.1 1.1 0 1 0 -2.2 0M513.0 239.5a1.1 1.1 0 1 0 2.2 0a1.1 1.1 0 1 0 -2.2 0M514.5 238.7a1.1 1.1 0 1 0 2.2 0a1.1 1.1 0 1 0 -2.2 0M513.2 238.9a1.1 1.1 0 1 0 2.2 0a1.1 1.1 0 1 0 -2.2 0M514.5 238.8a1.1 1.1 0 1 0 2.2 0a1.1 1.1 0 1 0 -2.2 0M512.2 239.3a1.1 1.1 0 1 0 2.2 0a1.1 1.1 0 1 0 -2.2 0M512.7 239.9a1.1 1.1 0 1 0 2.2 0a1.1 1.1 0 1 0 -2.2 0M512.8 239.4a1.1 1.1 0 1 0 2.2 0a1.1 1.1 0 1 0 -2.2 0M512.6 231.4a1.1 1.1 0 1 0 2.2 0a1.1 1.1 0 1 0 -2.2 0M513.2 232.1a1.1 1.1 0 1 0 2.2 0a1.1 1.1 0 1 0 -2.2 0M513.2 231.1a1.1 1.1 0 1 0 2.2 0a1.1 1.1 0 1 0 -2.2 0M512.8 232.6a1.1 1.1 0 1 0 2.2 0a1.1 1.1 0 1 0 -2.2 0M513.7 232.2a1.1 1.1 0 1 0 2.2 0a1.1 1.1 0 1 0 -2.2 0M512.1 230.7a1.1 1.1 0 1 0 2.2 0a1.1 1.1 0 1 0 -2.2 0M512.3 231.4a1.1 1.1 0 1 0 2.2 0a1.1 1.1 0 1 0 -2.2 0M511.3 231.4a1.1 1.1 0 1 0 2.2 0a1.1 1.1 0 1 0 -2.2 0M512.8 222.3a1.1 1.1 0 1 0 2.2 0a1.1 1.1 0 1 0 -2.2 0M512.5 222.6a1.1 1.1 0 1 0 2.2 0a1.1 1.1 0 1 0 -2.2 0M512.9 223.1a1.1 1.1 0 1 0 2.2 0a1.1 1.1 0 1 0 -2.2 0M512.2 221.5a1.1 1.1 0 1 0 2.2 0a1.1 1.1 0 1 0 -2.2 0M512.1 222.0a1.1 1.1 0 1 0 2.2 0a1.1 1.1 0 1 0 -2.2 0M512.7 221.8a1.1 1.1 0 1 0 2.2 0a1.1 1.1 0 1 0 -2.2 0M512.3 222.4a1.1 1.1 0 1 0 2.2 0a1.1 1.1 0 1 0 -2.2 0M512.9 222.9a1.1 1.1 0 1 0 2.2 0a1.1 1.1 0 1 0 -2.2 0M512.8 214.8a1.1 1.1 0 1 0 2.2 0a1.1 1.1 0 1 0 -2.2 0M512.6 214.6a1.1 1.1 0 1 0 2.2 0a1.1 1.1 0 1 0 -2.2 0M513.1 214.4a1.1 1.1 0 1 0 2.2 0a1.1 1.1 0 1 0 -2.2 0M511.8 214.6a1.1 1.1 0 1 0 2.2 0a1.1 1.1 0 1 0 -2.2 0M512.6 214.9a1.1 1.1 0 1 0 2.2 0a1.1 1.1 0 1 0 -2.2 0M513.5 214.1a1.1 1.1 0 1 0 2.2 0a1.1 1.1 0 1 0 -2.2 0M513.2 214.8a1.1 1.1 0 1 0 2.2 0a1.1 1.1 0 1 0 -2.2 0M512.4 213.7a1.1 1.1 0 1 0 2.2 0a1.1 1.1 0 1 0 -2.2 0M511.8 205.7a1.1 1.1 0 1 0 2.2 0a1.1 1.1 0 1 0 -2.2 0M512.7 206.2a1.1 1.1 0 1 0 2.2 0a1.1 1.1 0 1 0 -2.2 0M512.7 206.6a1.1 1.1 0 1 0 2.2 0a1.1 1.1 0 1 0 -2.2 0M512.8 206.7a1.1 1.1 0 1 0 2.2 0a1.1 1.1 0 1 0 -2.2 0M511.9 205.1a1.1 1.1 0 1 0 2.2 0a1.1 1.1 0 1 0 -2.2 0M512.2 207.2a1.1 1.1 0 1 0 2.2 0a1.1 1.1 0 1 0 -2.2 0M513.3 206.4a1.1 1.1 0 1 0 2.2 0a1.1 1.1 0 1 0 -2.2 0M510.5 206.0a1.1 1.1 0 1 0 2.2 0a1.1 1.1 0 1 0 -2.2 0M513.2 197.3a1.1 1.1 0 1 0 2.2 0a1.1 1.1 0 1 0 -2.2 0M513.7 197.6a1.1 1.1 0 1 0 2.2 0a1.1 1.1 0 1 0 -2.2 0M513.0 198.2a1.1 1.1 0 1 0 2.2 0a1.1 1.1 0 1 0 -2.2 0M512.8 196.6a1.1 1.1 0 1 0 2.2 0a1.1 1.1 0 1 0 -2.2 0M513.0 197.4a1.1 1.1 0 1 0 2.2 0a1.1 1.1 0 1 0 -2.2 0M511.4 197.8a1.1 1.1 0 1 0 2.2 0a1.1 1.1 0 1 0 -2.2 0M511.9 197.1a1.1 1.1 0 1 0 2.2 0a1.1 1.1 0 1 0 -2.2 0M512.2 197.3a1.1 1.1 0 1 0 2.2 0a1.1 1.1 0 1 0 -2.2 0M512.0 188.0a1.1 1.1 0 1 0 2.2 0a1.1 1.1 0 1 0 -2.2 0M511.9 189.1a1.1 1.1 0 1 0 2.2 0a1.1 1.1 0 1 0 -2.2 0M514.3 189.0a1.1 1.1 0 1 0 2.2 0a1.1 1.1 0 1 0 -2.2 0M512.1 188.8a1.1 1.1 0 1 0 2.2 0a1.1 1.1 0 1 0 -2.2 0M513.3 188.6a1.1 1.1 0 1 0 2.2 0a1.1 1.1 0 1 0 -2.2 0M511.4 189.0a1.1 1.1 0 1 0 2.2 0a1.1 1.1 0 1 0 -2.2 0M511.3 188.0a1.1 1.1 0 1 0 2.2 0a1.1 1.1 0 1 0 -2.2 0M512.7 189.4a1.1 1.1 0 1 0 2.2 0a1.1 1.1 0 1 0 -2.2 0M513.1 180.5a1.1 1.1 0 1 0 2.2 0a1.1 1.1 0 1 0 -2.2 0M511.9 179.8a1.1 1.1 0 1 0 2.2 0a1.1 1.1 0 1 0 -2.2 0M512.5 181.9a1.1 1.1 0 1 0 2.2 0a1.1 1.1 0 1 0 -2.2 0M513.5 179.8a1.1 1.1 0 1 0 2.2 0a1.1 1.1 0 1 0 -2.2 0M513.4 180.4a1.1 1.1 0 1 0 2.2 0a1.1 1.1 0 1 0 -2.2 0M512.1 180.2a1.1 1.1 0 1 0 2.2 0a1.1 1.1 0 1 0 -2.2 0M513.8 180.3a1.1 1.1 0 1 0 2.2 0a1.1 1.1 0 1 0 -2.2 0M513.7 181.2a1.1 1.1 0 1 0 2.2 0a1.1 1.1 0 1 0 -2.2 0M521.7 255.7a1.1 1.1 0 1 0 2.2 0a1.1 1.1 0 1 0 -2.2 0M520.1 257.3a1.1 1.1 0 1 0 2.2 0a1.1 1.1 0 1 0 -2.2 0M520.6 256.2a1.1 1.1 0 1 0 2.2 0a1.1 1.1 0 1 0 -2.2 0M521.4 256.4a1.1 1.1 0 1 0 2.2 0a1.1 1.1 0 1 0 -2.2 0M521.0 256.4a1.1 1.1 0 1 0 2.2 0a1.1 1.1 0 1 0 -2.2 0M521.1 255.9a1.1 1.1 0 1 0 2.2 0a1.1 1.1 0 1 0 -2.2 0M521.4 256.3a1.1 1.1 0 1 0 2.2 0a1.1 1.1 0 1 0 -2.2 0M521.2 256.6a1.1 1.1 0 1 0 2.2 0a1.1 1.1 0 1 0 -2.2 0M521.6 248.2a1.1 1.1 0 1 0 2.2 0a1.1 1.1 0 1 0 -2.2 0M522.1 247.9a1.1 1.1 0 1 0 2.2 0a1.1 1.1 0 1 0 -2.2 0M521.3 248.4a1.1 1.1 0 1 0 2.2 0a1.1 1.1 0 1 0 -2.2 0M520.9 247.8a1.1 1.1 0 1 0 2.2 0a1.1 1.1 0 1 0 -2.2 0M521.1 248.3a1.1 1.1 0 1 0 2.2 0a1.1 1.1 0 1 0 -2.2 0M520.4 247.9a1.1 1.1 0 1 0 2.2 0a1.1 1.1 0 1 0 -2.2 0M521.2 247.6a1.1 1.1 0 1 0 2.2 0a1.1 1.1 0 1 0 -2.2 0M521.9 248.1a1.1 1.1 0 1 0 2.2 0a1.1 1.1 0 1 0 -2.2 0M519.8 239.6a1.1 1.1 0 1 0 2.2 0a1.1 1.1 0 1 0 -2.2 0M519.9 240.3a1.1 1.1 0 1 0 2.2 0a1.1 1.1 0 1 0 -2.2 0M521.7 239.2a1.1 1.1 0 1 0 2.2 0a1.1 1.1 0 1 0 -2.2 0M520.7 239.9a1.1 1.1 0 1 0 2.2 0a1.1 1.1 0 1 0 -2.2 0M521.0 240.6a1.1 1.1 0 1 0 2.2 0a1.1 1.1 0 1 0 -2.2 0M521.4 239.7a1.1 1.1 0 1 0 2.2 0a1.1 1.1 0 1 0 -2.2 0M522.2 240.2a1.1 1.1 0 1 0 2.2 0a1.1 1.1 0 1 0 -2.2 0M521.7 239.9a1.1 1.1 0 1 0 2.2 0a1.1 1.1 0 1 0 -2.2 0M521.7 231.7a1.1 1.1 0 1 0 2.2 0a1.1 1.1 0 1 0 -2.2 0M521.5 231.4a1.1 1.1 0 1 0 2.2 0a1.1 1.1 0 1 0 -2.2 0M520.6 231.2a1.1 1.1 0 1 0 2.2 0a1.1 1.1 0 1 0 -2.2 0M521.4 230.9a1.1 1.1 0 1 0 2.2 0a1.1 1.1 0 1 0 -2.2 0M522.1 230.6a1.1 1.1 0 1 0 2.2 0a1.1 1.1 0 1 0 -2.2 0M519.4 231.4a1.1 1.1 0 1 0 2.2 0a1.1 1.1 0 1 0 -2.2 0M519.8 231.4a1.1 1.1 0 1 0 2.2 0a1.1 1.1 0 1 0 -2.2 0M521.5 231.9a1.1 1.1 0 1 0 2.2 0a1.1 1.1 0 1 0 -2.2 0M520.3 222.6a1.1 1.1 0 1 0 2.2 0a1.1 1.1 0 1 0 -2.2 0M520.9 221.7a1.1 1.1 0 1 0 2.2 0a1.1 1.1 0 1 0 -2.2 0M521.3 222.4a1.1 1.1 0 1 0 2.2 0a1.1 1.1 0 1 0 -2.2 0M522.2 223.0a1.1 1.1 0 1 0 2.2 0a1.1 1.1 0 1 0 -2.2 0M521.1 223.3a1.1 1.1 0 1 0 2.2 0a1.1 1.1 0 1 0 -2.2 0M521.2 222.1a1.1 1.1 0 1 0 2.2 0a1.1 1.1 0 1 0 -2.2 0M521.9 222.7a1.1 1.1 0 1 0 2.2 0a1.1 1.1 0 1 0 -2.2 0M520.6 223.2a1.1 1.1 0 1 0 2.2 0a1.1 1.1 0 1 0 -2.2 0M520.2 214.2a1.1 1.1 0 1 0 2.2 0a1.1 1.1 0 1 0 -2.2 0M521.9 215.8a1.1 1.1 0 1 0 2.2 0a1.1 1.1 0 1 0 -2.2 0M519.7 213.4a1.1 1.1 0 1 0 2.2 0a1.1 1.1 0 1 0 -2.2 0M520.1 214.1a1.1 1.1 0 1 0 2.2 0a1.1 1.1 0 1 0 -2.2 0M520.3 213.8a1.1 1.1 0 1 0 2.2 0a1.1 1.1 0 1 0 -2.2 0M521.6 214.2a1.1 1.1 0 1 0 2.2 0a1.1 1.1 0 1 0 -2.2 0M521.6 214.3a1.1 1.1 0 1 0 2.2 0a1.1 1.1 0 1 0 -2.2 0M521.4 213.2a1.1 1.1 0 1 0 2.2 0a1.1 1.1 0 1 0 -2.2 0M521.8 206.3a1.1 1.1 0 1 0 2.2 0a1.1 1.1 0 1 0 -2.2 0M520.6 206.1a1.1 1.1 0 1 0 2.2 0a1.1 1.1 0 1 0 -2.2 0M520.9 205.9a1.1 1.1 0 1 0 2.2 0a1.1 1.1 0 1 0 -2.2 0M520.7 205.5a1.1 1.1 0 1 0 2.2 0a1.1 1.1 0 1 0 -2.2 0M521.1 205.7a1.1 1.1 0 1 0 2.2 0a1.1 1.1 0 1 0 -2.2 0M521.1 205.5a1.1 1.1 0 1 0 2.2 0a1.1 1.1 0 1 0 -2.2 0M520.3 204.9a1.1 1.1 0 1 0 2.2 0a1.1 1.1 0 1 0 -2.2 0M521.3 205.6a1.1 1.1 0 1 0 2.2 0a1.1 1.1 0 1 0 -2.2 0M521.5 196.9a1.1 1.1 0 1 0 2.2 0a1.1 1.1 0 1 0 -2.2 0M521.6 197.4a1.1 1.1 0 1 0 2.2 0a1.1 1.1 0 1 0 -2.2 0M521.0 198.6a1.1 1.1 0 1 0 2.2 0a1.1 1.1 0 1 0 -2.2 0M521.2 197.7a1.1 1.1 0 1 0 2.2 0a1.1 1.1 0 1 0 -2.2 0M520.9 196.0a1.1 1.1 0 1 0 2.2 0a1.1 1.1 0 1 0 -2.2 0M519.9 197.5a1.1 1.1 0 1 0 2.2 0a1.1 1.1 0 1 0 -2.2 0M521.9 196.9a1.1 1.1 0 1 0 2.2 0a1.1 1.1 0 1 0 -2.2 0M521.9 198.3a1.1 1.1 0 1 0 2.2 0a1.1 1.1 0 1 0 -2.2 0M528.9 255.9a1.1 1.1 0 1 0 2.2 0a1.1 1.1 0 1 0 -2.2 0M529.3 255.2a1.1 1.1 0 1 0 2.2 0a1.1 1.1 0 1 0 -2.2 0M529.7 256.2a1.1 1.1 0 1 0 2.2 0a1.1 1.1 0 1 0 -2.2 0M529.8 256.4a1.1 1.1 0 1 0 2.2 0a1.1 1.1 0 1 0 -2.2 0M529.6 256.7a1.1 1.1 0 1 0 2.2 0a1.1 1.1 0 1 0 -2.2 0M529.5 256.6a1.1 1.1 0 1 0 2.2 0a1.1 1.1 0 1 0 -2.2 0M529.7 257.2a1.1 1.1 0 1 0 2.2 0a1.1 1.1 0 1 0 -2.2 0M528.6 256.0a1.1 1.1 0 1 0 2.2 0a1.1 1.1 0 1 0 -2.2 0M529.7 248.5a1.1 1.1 0 1 0 2.2 0a1.1 1.1 0 1 0 -2.2 0M529.4 248.5a1.1 1.1 0 1 0 2.2 0a1.1 1.1 0 1 0 -2.2 0M530.8 248.9a1.1 1.1 0 1 0 2.2 0a1.1 1.1 0 1 0 -2.2 0M530.6 248.4a1.1 1.1 0 1 0 2.2 0a1.1 1.1 0 1 0 -2.2 0M529.8 248.0a1.1 1.1 0 1 0 2.2 0a1.1 1.1 0 1 0 -2.2 0M529.3 247.3a1.1 1.1 0 1 0 2.2 0a1.1 1.1 0 1 0 -2.2 0M530.0 248.1a1.1 1.1 0 1 0 2.2 0a1.1 1.1 0 1 0 -2.2 0M528.9 246.6a1.1 1.1 0 1 0 2.2 0a1.1 1.1 0 1 0 -2.2 0M530.4 239.4a1.1 1.1 0 1 0 2.2 0a1.1 1.1 0 1 0 -2.2 0M529.3 239.3a1.1 1.1 0 1 0 2.2 0a1.1 1.1 0 1 0 -2.2 0M529.6 238.7a1.1 1.1 0 1 0 2.2 0a1.1 1.1 0 1 0 -2.2 0M528.9 239.5a1.1 1.1 0 1 0 2.2 0a1.1 1.1 0 1 0 -2.2 0M529.0 238.7a1.1 1.1 0 1 0 2.2 0a1.1 1.1 0 1 0 -2.2 0M530.7 239.5a1.1 1.1 0 1 0 2.2 0a1.1 1.1 0 1 0 -2.2 0M529.9 238.6a1.1 1.1 0 1 0 2.2 0a1.1 1.1 0 1 0 -2.2 0M529.3 240.1a1.1 1.1 0 1 0 2.2 0a1.1 1.1 0 1 0 -2.2 0M530.2 230.8a1.1 1.1 0 1 0 2.2 0a1.1 1.1 0 1 0 -2.2 0M529.4 230.2a1.1 1.1 0 1 0 2.2 0a1.1 1.1 0 1 0 -2.2 0M529.7 232.2a1.1 1.1 0 1 0 2.2 0a1.1 1.1 0 1 0 -2.2 0M529.7 231.1a1.1 1.1 0 1 0 2.2 0a1.1 1.1 0 1 0 -2.2 0M530.7 231.1a1.1 1.1 0 1 0 2.2 0a1.1 1.1 0 1 0 -2.2 0M529.4 230.8a1.1 1.1 0 1 0 2.2 0a1.1 1.1 0 1 0 -2.2 0M529.7 232.0a1.1 1.1 0 1 0 2.2 0a1.1 1.1 0 1 0 -2.2 0M529.6 231.3a1.1 1.1 0 1 0 2.2 0a1.1 1.1 0 1 0 -2.2 0M530.4 221.2a1.1 1.1 0 1 0 2.2 0a1.1 1.1 0 1 0 -2.2 0M528.8 223.3a1.1 1.1 0 1 0 2.2 0a1.1 1.1 0 1 0 -2.2 0M529.0 223.1a1.1 1.1 0 1 0 2.2 0a1.1 1.1 0 1 0 -2.2 0M529.1 222.7a1.1 1.1 0 1 0 2.2 0a1.1 1.1 0 1 0 -2.2 0M530.2 223.5a1.1 1.1 0 1 0 2.2 0a1.1 1.1 0 1 0 -2.2 0M528.6 223.9a1.1 1.1 0 1 0 2.2 0a1.1 1.1 0 1 0 -2.2 0M530.2 221.9a1.1 1.1 0 1 0 2.2 0a1.1 1.1 0 1 0 -2.2 0M528.6 223.7a1.1 1.1 0 1 0 2.2 0a1.1 1.1 0 1 0 -2.2 0M529.6 213.6a1.1 1.1 0 1 0 2.2 0a1.1 1.1 0 1 0 -2.2 0M530.2 214.2a1.1 1.1 0 1 0 2.2 0a1.1 1.1 0 1 0 -2.2 0M530.0 214.1a1.1 1.1 0 1 0 2.2 0a1.1 1.1 0 1 0 -2.2 0M529.2 213.1a1.1 1.1 0 1 0 2.2 0a1.1 1.1 0 1 0 -2.2 0M529.5 215.0a1.1 1.1 0 1 0 2.2 0a1.1 1.1 0 1 0 -2.2 0M529.2 215.3a1.1 1.1 0 1 0 2.2 0a1.1 1.1 0 1 0 -2.2 0M529.5 213.6a1.1 1.1 0 1 0 2.2 0a1.1 1.1 0 1 0 -2.2 0M528.7 213.6a1.1 1.1 0 1 0 2.2 0a1.1 1.1 0 1 0 -2.2 0M530.8 205.7a1.1 1.1 0 1 0 2.2 0a1.1 1.1 0 1 0 -2.2 0M528.8 206.4a1.1 1.1 0 1 0 2.2 0a1.1 1.1 0 1 0 -2.2 0M529.3 206.7a1.1 1.1 0 1 0 2.2 0a1.1 1.1 0 1 0 -2.2 0M528.7 206.1a1.1 1.1 0 1 0 2.2 0a1.1 1.1 0 1 0 -2.2 0M529.4 205.5a1.1 1.1 0 1 0 2.2 0a1.1 1.1 0 1 0 -2.2 0M528.8 204.7a1.1 1.1 0 1 0 2.2 0a1.1 1.1 0 1 0 -2.2 0M530.2 205.3a1.1 1.1 0 1 0 2.2 0a1.1 1.1 0 1 0 -2.2 0M529.1 204.8a1.1 1.1 0 1 0 2.2 0a1.1 1.1 0 1 0 -2.2 0M529.3 196.4a1.1 1.1 0 1 0 2.2 0a1.1 1.1 0 1 0 -2.2 0M530.2 198.1a1.1 1.1 0 1 0 2.2 0a1.1 1.1 0 1 0 -2.2 0M529.2 196.3a1.1 1.1 0 1 0 2.2 0a1.1 1.1 0 1 0 -2.2 0M530.2 197.6a1.1 1.1 0 1 0 2.2 0a1.1 1.1 0 1 0 -2.2 0M529.7 197.4a1.1 1.1 0 1 0 2.2 0a1.1 1.1 0 1 0 -2.2 0M529.0 197.6a1.1 1.1 0 1 0 2.2 0a1.1 1.1 0 1 0 -2.2 0M529.1 197.8a1.1 1.1 0 1 0 2.2 0a1.1 1.1 0 1 0 -2.2 0M529.8 198.1a1.1 1.1 0 1 0 2.2 0a1.1 1.1 0 1 0 -2.2 0" fill="#0000ff"/>
<rect x="505.5" y="171" width="34" height="6.7" fill="#fff" stroke="#7a7a7a" stroke-width="0.75"/>
<circle cx="512.3" cy="174.3" r="1.2" fill="#0000ff"/>
<text x="518.2" y="175.8" class="lg" textLength="19.8" lengthAdjust="spacingAndGlyphs">Complex Data</text>
<text x="453.1" y="165.4" class="tt" textLength="59.9" lengthAdjust="spacingAndGlyphs">Equalized 128QAM Constellation</text>
<text x="513.6" y="161.9" class="inf" style="font-size:4.72px" textLength="31.9" lengthAdjust="spacing">SMF = 40 km</text>
<text x="513.6" y="168.7" class="inf" style="font-size:4.70px" textLength="33.5" lengthAdjust="spacing">EVM = 4.85 %</text>
<text x="488.2" y="298.9" class="sl" textLength="8.1" lengthAdjust="spacingAndGlyphs">(h)</text>
<text x="73.2" y="144.1" class="al" text-anchor="middle">I</text>
<text x="208.6" y="145.8" class="al" text-anchor="middle">I</text>
<text x="342.4" y="146.9" class="al" text-anchor="middle">I</text>
<text x="484.5" y="143.5" class="al" text-anchor="middle">I</text>
<text x="69.2" y="295.1" class="al" text-anchor="middle">I</text>
<text x="208.2" y="299" class="al" text-anchor="middle">I</text>
<text x="342.4" y="296.8" class="al" text-anchor="middle">I</text>
<text x="484.1" y="299" class="al" text-anchor="middle">I</text>
<text x="8.4" y="76.5" class="al" text-anchor="middle" transform="rotate(-90 8.4 76.5)">Q</text>
<text x="145.6" y="75" class="al" text-anchor="middle" transform="rotate(-90 145.6 75)">Q</text>
<text x="275.1" y="76.5" class="al" text-anchor="middle" transform="rotate(-90 275.1 76.5)">Q</text>
<text x="416.6" y="74.6" class="al" text-anchor="middle" transform="rotate(-90 416.6 74.6)">Q</text>
<text x="6.6" y="223.8" class="al" text-anchor="middle" transform="rotate(-90 6.6 223.8)">Q</text>
<text x="145.3" y="226.6" class="al" text-anchor="middle" transform="rotate(-90 145.3 226.6)">Q</text>
<text x="275.2" y="224.3" class="al" text-anchor="middle" transform="rotate(-90 275.2 224.3)">Q</text>
<text x="416.3" y="226.9" class="al" text-anchor="middle" transform="rotate(-90 416.3 226.9)">Q</text>
</svg>
</body></html>
